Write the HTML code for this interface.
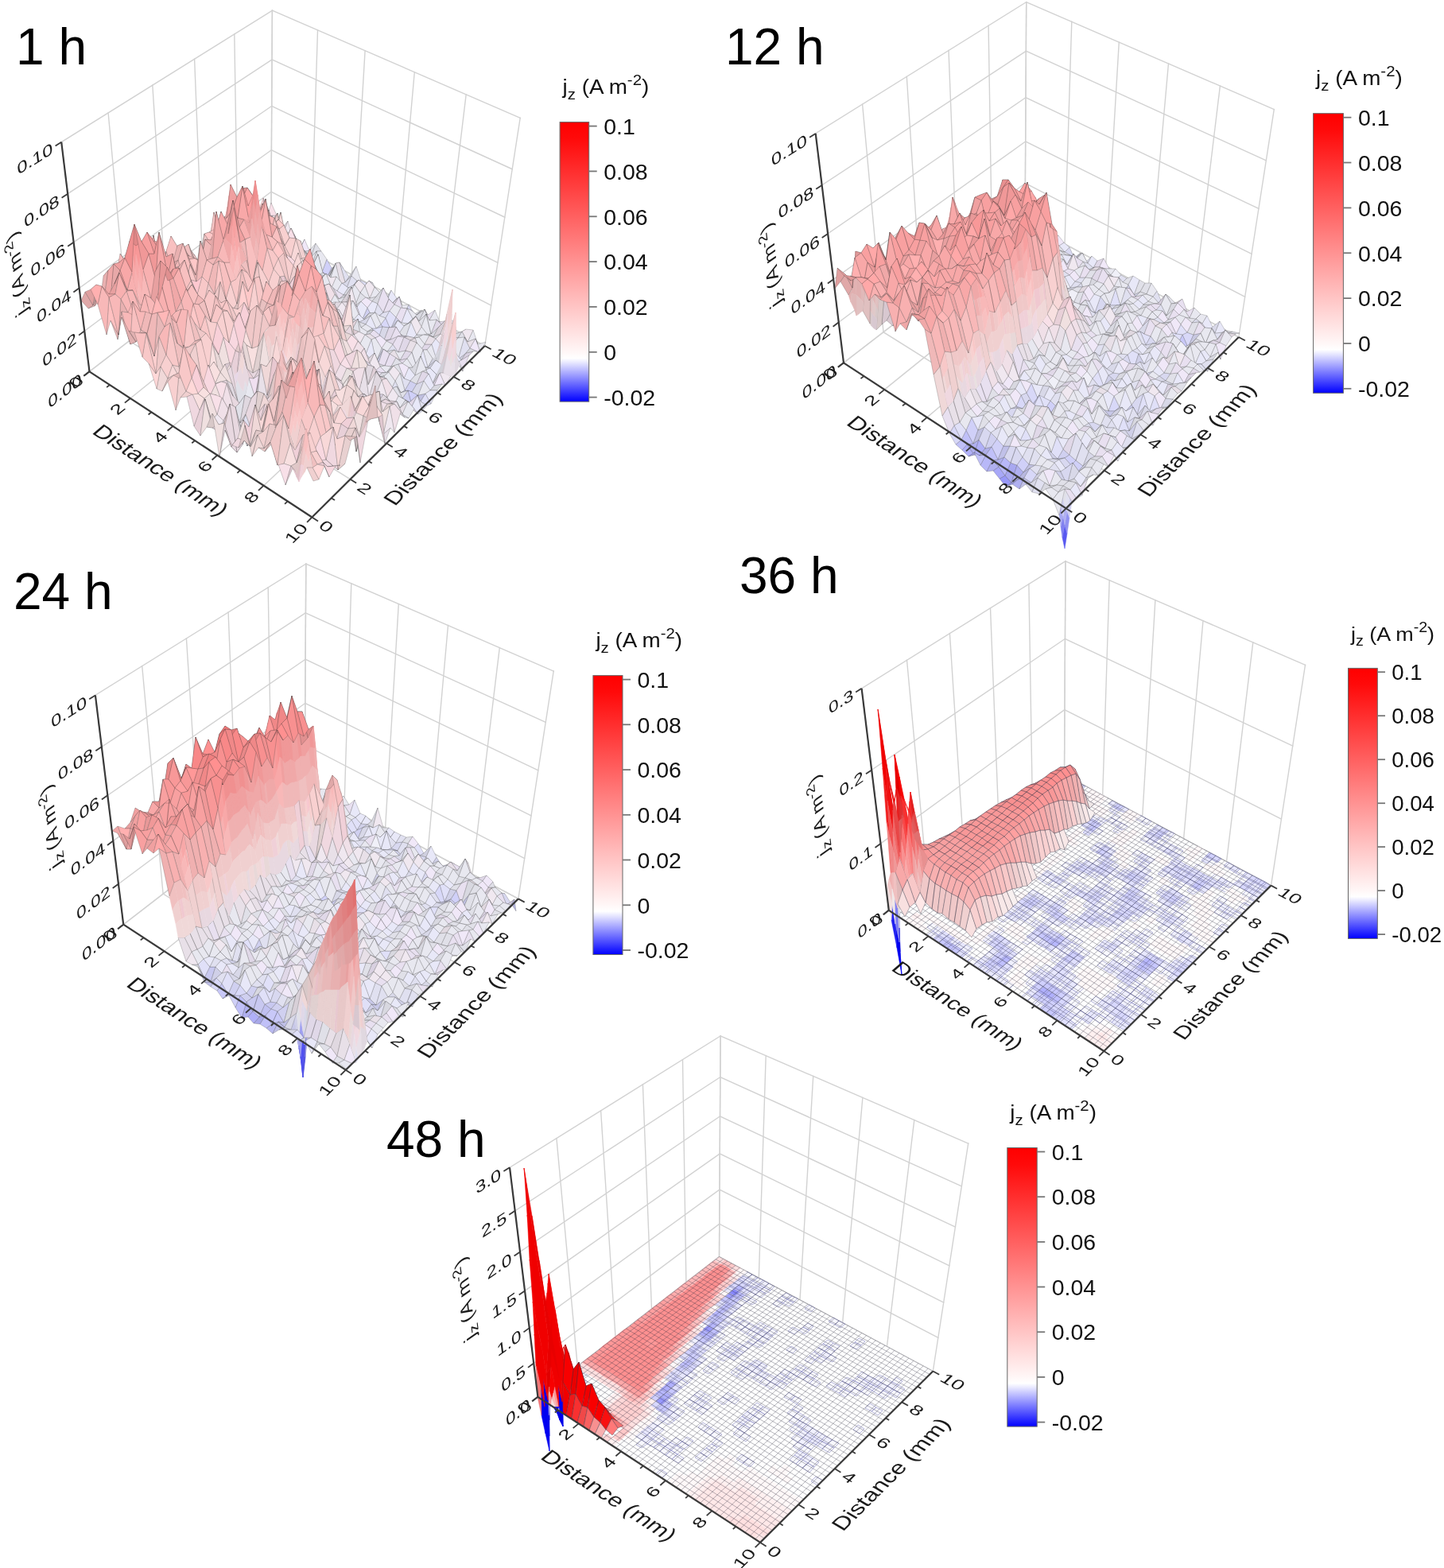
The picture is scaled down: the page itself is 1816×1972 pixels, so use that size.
<!DOCTYPE html><html><head><meta charset="utf-8"><style>html,body{margin:0;padding:0;background:#fff;overflow:hidden}svg{display:block}</style></head><body>
<svg width="1816" height="1972" viewBox="0 0 1816 1972">
<rect width="1816" height="1972" fill="#fff"/>
<g fill="none" stroke-linecap="square">
<path d="M112.5 467.3L77.2 178.7" stroke="#d2d2d2" stroke-width="1.4"/>
<path d="M162.6 428.7L136.1 142" stroke="#d2d2d2" stroke-width="1.4"/>
<path d="M210.2 391.9L191.8 107.2" stroke="#d2d2d2" stroke-width="1.4"/>
<path d="M255.7 356.8L244.6 74.2" stroke="#d2d2d2" stroke-width="1.4"/>
<path d="M299.2 323.2L294.8 42.9" stroke="#d2d2d2" stroke-width="1.4"/>
<path d="M340.8 291.1L342.4 13.2" stroke="#d2d2d2" stroke-width="1.4"/>
<path d="M112.5 467.3L340.8 291.1" stroke="#d2d2d2" stroke-width="1.4"/>
<path d="M106.3 416.3L341.1 241.2" stroke="#d2d2d2" stroke-width="1.4"/>
<path d="M99.7 362.2L341.4 188.7" stroke="#d2d2d2" stroke-width="1.4"/>
<path d="M92.6 304.7L341.7 133.4" stroke="#d2d2d2" stroke-width="1.4"/>
<path d="M85.2 243.7L342 75" stroke="#d2d2d2" stroke-width="1.4"/>
<path d="M77.2 178.7L342.4 13.2" stroke="#d2d2d2" stroke-width="1.4"/>
<path d="M340.8 291.1L342.4 13.2" stroke="#d2d2d2" stroke-width="1.4"/>
<path d="M390.7 317.7L399.5 38" stroke="#d2d2d2" stroke-width="1.4"/>
<path d="M442.4 345.4L459.1 63.8" stroke="#d2d2d2" stroke-width="1.4"/>
<path d="M496 374.1L521.3 90.7" stroke="#d2d2d2" stroke-width="1.4"/>
<path d="M551.8 404L586.2 118.9" stroke="#d2d2d2" stroke-width="1.4"/>
<path d="M609.7 435L654.2 148.3" stroke="#d2d2d2" stroke-width="1.4"/>
<path d="M340.8 291.1L609.7 435" stroke="#d2d2d2" stroke-width="1.4"/>
<path d="M341.1 241.2L617.6 384.1" stroke="#d2d2d2" stroke-width="1.4"/>
<path d="M341.4 188.7L625.9 330.3" stroke="#d2d2d2" stroke-width="1.4"/>
<path d="M341.7 133.4L634.8 273.2" stroke="#d2d2d2" stroke-width="1.4"/>
<path d="M342 75L644.2 212.7" stroke="#d2d2d2" stroke-width="1.4"/>
<path d="M342.4 13.2L654.2 148.3" stroke="#d2d2d2" stroke-width="1.4"/>
<path d="M112.5 467.3L340.8 291.1" stroke="#d2d2d2" stroke-width="1.4"/>
<path d="M112.5 467.3L392.4 650.5" stroke="#d2d2d2" stroke-width="1.4"/>
<path d="M163.9 501L390.7 317.7" stroke="#d2d2d2" stroke-width="1.4"/>
<path d="M162.6 428.7L440.5 602.8" stroke="#d2d2d2" stroke-width="1.4"/>
<path d="M217.5 536L442.4 345.4" stroke="#d2d2d2" stroke-width="1.4"/>
<path d="M210.2 391.9L486.1 557.6" stroke="#d2d2d2" stroke-width="1.4"/>
<path d="M273.3 572.5L496 374.1" stroke="#d2d2d2" stroke-width="1.4"/>
<path d="M255.7 356.8L529.3 514.7" stroke="#d2d2d2" stroke-width="1.4"/>
<path d="M331.6 610.7L551.8 404" stroke="#d2d2d2" stroke-width="1.4"/>
<path d="M299.2 323.2L570.5 473.9" stroke="#d2d2d2" stroke-width="1.4"/>
<path d="M392.4 650.5L609.7 435" stroke="#d2d2d2" stroke-width="1.4"/>
<path d="M340.8 291.1L609.7 435" stroke="#d2d2d2" stroke-width="1.4"/>
</g>
<g stroke="#222" stroke-opacity="0.3" stroke-width="0.7" stroke-linejoin="round">
<path fill="#d8d0d8" d="M363 298l7-3 5 20-7-16z"/>
<path fill="#d8d8e0" d="M370 295l7 19 6-13-8 14z"/>
<path fill="#e0d8e0" d="M349 291l7 3 6-16-7 8z"/>
<path fill="#e8d8d8" d="M329 269l7 9 6-7-7 5z"/>
<path fill="#e8e0e8" d="M343 293l7 6 6-5-7-3z"/>
<path fill="#f0e0e8" d="M342 271l7 20 6-5-7-15zM336 278l7 15 6-2-7-20z"/>
<path fill="#f0e8f0" d="M356 294l7 4 5 1-6-21z"/>
<path fill="#f8e0e8" d="M335 276l7-5 6 0-7-16z"/>
<path fill="#d8c8d0" d="M350 299l7-10 6 9-7-4z"/>
<path fill="#e0e0e8" d="M384 316l7 8 6-18-8 9z"/>
<path fill="#f0e8f8" d="M377 314l7 2 5-1-6-14z"/>
<path fill="#c8c8d8" d="M412 347l8-11 5-4-8 5z"/>
<path fill="#d0d0f8" d="M405 342l7 5 5-10-6-11z"/>
<path fill="#d8d0d0" d="M357 289l7 5 6 1-7 3z"/>
<path fill="#d8d0e0" d="M371 297l7 18 6 1-7-2z"/>
<path fill="#e0c8c8" d="M324 270l7-21 5 29-7-9z"/>
<path fill="#e0d0d0" d="M338 264l7 23 5 12-7-6zM312 275l7 3 6 36-7-34z"/>
<path fill="#e0d0d8" d="M364 294l7 3 6 17-7-19z"/>
<path fill="#e0d8e0" stroke="#e0d8e0" stroke-opacity="1" stroke-width="0.5" d="M322 302l3 12 2-22-3-5z"/>
<path fill="#e0d8e0" d="M378 315l7 3 6 6-7-8z"/>
<path fill="#e0e0e8" d="M391 324l7-8 6 0-7-10z"/>
<path fill="#e8d8d8" stroke="#e8d8d8" stroke-opacity="1" stroke-width="0.5" d="M318 280l2 11 2-9-2-5zM320 277l2 5 2-9-2 0zM322 282l2 5 2-15-2 1zM324 287l3 5 2-21-3 1z"/>
<path fill="#e8d8e0" stroke="#e8d8e0" stroke-opacity="1" stroke-width="0.5" d="M320 291l2 11 2-15-2-5z"/>
<path fill="#e8d8e0" d="M345 287l6 16 6-14-7 10z"/>
<path fill="#e8e8f0" d="M398 316l7 26 6-16-7-10zM385 318l7 18 6-20-7 8z"/>
<path fill="#f0d0d0" stroke="#f0d0d0" stroke-opacity="1" stroke-width="0.5" d="M324 273l2-1 2-16-2 7zM326 272l3-1 2-22-3 7z"/>
<path fill="#f0d0d8" stroke="#f0d0d8" stroke-opacity="1" stroke-width="0.5" d="M322 273l2 0 2-10-2 7z"/>
<path fill="#d0d0e0" d="M406 343l8 5 6-12-8 11z"/>
<path fill="#d8c8c8" d="M319 278l7-1 6-8-7 45z"/>
<path fill="#d8d0d8" stroke="#d8d0d8" stroke-opacity="1" stroke-width="0.5" d="M325 314l2-15 2-15-2 8z"/>
<path fill="#d8d8e0" d="M400 320l6 23 6 4-7-5z"/>
<path fill="#e0c0c8" stroke="#e0c0c8" stroke-opacity="1" stroke-width="0.5" d="M329 271l2-2 2-15-2-5z"/>
<path fill="#e0c8c8" stroke="#e0c8c8" stroke-opacity="1" stroke-width="0.5" d="M329 284l2-8 2-9-2 2zM331 269l2-2 2-8-2-5zM329 284l3-15 2-2-3 9zM331 276l3-9 2-1-3 1zM333 267l3-1 2-2-3-5z"/>
<path fill="#e0c8c8" d="M331 249l7 15 5 29-7-15z"/>
<path fill="#e0c8d0" stroke="#e0c8d0" stroke-opacity="1" stroke-width="0.5" d="M327 292l2-8 2-15-2 2z"/>
<path fill="#e0d0d0" stroke="#e0d0d0" stroke-opacity="1" stroke-width="0.5" d="M327 299l2-15 2-8-2 8z"/>
<path fill="#e0d0d0" d="M339 305l7-21 5 19-6-16z"/>
<path fill="#e0e0e8" d="M392 336l8-16 5 22-7-26z"/>
<path fill="#e8e0e0" d="M351 303l8 1 5-10-7-5z"/>
<path fill="#d0d0d8" d="M434 355l8-8 6-12-9 13z"/>
<path fill="#d8c8c8" d="M333 304l7-25 6 5-7 21z"/>
<path fill="#d8c8d0" d="M359 304l7-17 5 10-7-3z"/>
<path fill="#d8d0d8" d="M373 304l7 8 5 6-7-3zM420 336l7-6 5 8-7-6zM387 323l7 10 6-13-8 16z"/>
<path fill="#e0c8c8" d="M346 284l7-17 6 37-8-1z"/>
<path fill="#e0d0d8" d="M366 287l7 17 5 11-7-18z"/>
<path fill="#e0d8e0" d="M380 312l7 11 5 13-7-18z"/>
<path fill="#e0e0e8" d="M401 345l7 2 6 1-8-5z"/>
<path fill="#e0e0f0" d="M427 330l7 25 5-7-7-10z"/>
<path fill="#e8e8f0" d="M394 333l7 12 5-2-6-23z"/>
<path fill="#f0d8e0" d="M332 269l7 36 6-18-7-23zM326 277l7 27 6 1-7-36z"/>
<path fill="#f8e0e8" d="M320 303l7-1 6 2-7-27z"/>
<path fill="#d0d0d8" d="M414 348l8-17 5-1-7 6zM408 347l8 2 6-18-8 17z"/>
<path fill="#d8c8c8" d="M327 302l7-2 6-21-7 25z"/>
<path fill="#d8d8e0" d="M388 331l8 3 5 11-7-12z"/>
<path fill="#d8d8e8" d="M428 357l7 8 7-18-8 8z"/>
<path fill="#e0c0c0" d="M306 264l7-13 6 27-7-3z"/>
<path fill="#e0c8c8" d="M288 286l7 23 6-20-7 25zM353 267l7 33 6-13-7 17z"/>
<path fill="#e0c8d0" d="M294 314l7-25 6 0-7-5z"/>
<path fill="#e0d8e8" d="M396 334l7 16 5-3-7-2z"/>
<path fill="#e0e0f0" d="M435 365l8-4 6-8-7-6z"/>
<path fill="#e0e0f8" d="M449 353l6 20 6-17-7-3z"/>
<path fill="#e8e0e8" d="M422 331l6 26 6-2-7-25zM368 340l7-2 6-12-7-8zM381 326l7 5 6 2-7-10z"/>
<path fill="#e8e8f0" d="M442 347l7 6 5 0-6-18z"/>
<path fill="#f0d8d8" d="M313 251l7 52 6-26-7 1z"/>
<path fill="#f0e0e8" d="M361 301l7 39 6-22-7-7z"/>
<path fill="#f0e8e8" d="M374 318l7 8 6-3-7-11z"/>
<path fill="#f8e0e8" d="M360 300l7 11 6-7-7-17z"/>
<path fill="#f8e8e8" d="M367 311l7 7 6-6-7-8z"/>
<path fill="#d0d0d8" d="M403 350l7-6 6 5-8-2zM455 373l9-20 5 3-8 0z"/>
<path fill="#d8d8e0" d="M423 348l7 8 5 9-7-8zM443 361l8-9 4 21-6-20zM430 356l8 6 5-1-8 4z"/>
<path fill="#e0c8c8" d="M314 276l7 17 6 9-7 1z"/>
<path fill="#e0d0d0" d="M354 311l7-10 6 10-7-11z"/>
<path fill="#e8c8c8" d="M300 284l7 5 6-38-7 13z"/>
<path fill="#e8e0e8" d="M375 338l8 1 5-8-7-5z"/>
<path fill="#e8e8f0" d="M416 349l7-1 5 9-6-26z"/>
<path fill="#f0d0d0" d="M340 279l7 17 6-29-7 17z"/>
<path fill="#f0d8d8" d="M301 289l7 20 6-33-7 13z"/>
<path fill="#f0e0e0" d="M321 293l7 19 6-12-7 2z"/>
<path fill="#f0e0e8" d="M383 339l7 5 6-10-8-3z"/>
<path fill="#f0e8f0" d="M390 344l7 11 6-5-7-16zM410 344l7 18 6-14-7 1z"/>
<path fill="#f8d8d8" d="M307 289l7-13 6 27-7-52zM347 296l7 15 6-11-7-33z"/>
<path fill="#d0d0d8" d="M451 352l8 7 5-6-9 20zM438 362l8-4 5-6-8 9z"/>
<path fill="#d0d0e0" d="M471 361l8 8 4 11-7-10zM479 369l7 11 6-15-9 15z"/>
<path fill="#d8c8d0" d="M363 309l7 0 5 29-7 2z"/>
<path fill="#d8d0d8" d="M397 355l7-4 6-7-7 6z"/>
<path fill="#d8d8e0" d="M464 353l7 8 5 9-7-14zM411 372l8-10 5 4-7-4z"/>
<path fill="#e0c0c8" d="M282 310l6-35 7 34-7-23zM308 309l7-33 6 17-7-17z"/>
<path fill="#e0c8c8" d="M295 309l6-34 7 34-7-20zM328 312l7-5 6-27-7 20z"/>
<path fill="#e8c8c8" d="M334 300l7-20 6 16-7-17z"/>
<path fill="#e8d0d8" d="M355 312l8-3 5 31-7-39z"/>
<path fill="#e8e8f0" d="M417 362l7 4 6-10-7-8zM404 351l7 21 6-10-7-18z"/>
<path fill="#e8e8f8" d="M424 366l8 5 6-9-8-6z"/>
<path fill="#d0d0d8" d="M406 360l8-3 5 5-8 10z"/>
<path fill="#d8c8c8" d="M370 309l8-6 5 36-8-1z"/>
<path fill="#d8c8d0" d="M378 303l7 21 5 20-7-5z"/>
<path fill="#d8d0d8" d="M385 324l7 16 5 15-7-11z"/>
<path fill="#d8d8e0" d="M432 371l7 0 7-13-8 4zM426 376l8-3 5-2-7 0z"/>
<path fill="#e0c0c0" d="M341 280l8-12 5 43-7-15zM322 291l7-13 6 29-7 5zM288 275l8 24 5-24-6 34zM275 287l7 1 6-13-6 35z"/>
<path fill="#e0d0d8" d="M392 340l7 16 5-5-7 4z"/>
<path fill="#e0d8e8" d="M399 356l7 4 5 12-7-21z"/>
<path fill="#e0e0e8" d="M460 374l8 5 5-6-8 2zM446 385l8-6 6-5-7-6z"/>
<path fill="#e8c8c8" d="M315 276l7 15 6 21-7-19zM349 268l6 44 6-11-7 10z"/>
<path fill="#e8e0f0" d="M419 362l7 14 6-5-8-5z"/>
<path fill="#e8e8f0" d="M465 375l8-2 6-4-8-8zM453 368l7 6 5 1-6-16zM439 371l7 14 7-17-7-10z"/>
<path fill="#e8e8f8" d="M486 380l7 2 6-7-7-10z"/>
<path fill="#f0e8f0" d="M459 359l6 16 6-14-7-8zM446 358l7 10 6-9-8-7z"/>
<path fill="#d0d0d8" d="M473 373l9-11 4 18-7-11zM434 373l8-12 4 24-7-14z"/>
<path fill="#d0d0f0" d="M455 403l9-9 5 6-7-13z"/>
<path fill="#d8d0d8" d="M482 362l7 14 4 6-7-2zM393 353l8 1 5 6-7-4z"/>
<path fill="#d8d0e0" d="M493 382l9-9 4 11-7-9z"/>
<path fill="#d8d8e0" d="M468 379l7 3 7-20-9 11zM442 361l7 25 5-7-8 6z"/>
<path fill="#d8d8f0" d="M508 396l9-6 4 5-7-12z"/>
<path fill="#e0c0c0" d="M301 275l8 2 6-1-7 33zM335 307l7-22 7-17-8 12zM270 316l6-29 6 1-7-1z"/>
<path fill="#e0d8e0" d="M414 357l7 13 5 6-7-14z"/>
<path fill="#e0e0e8" d="M421 370l7 12 6-9-8 3z"/>
<path fill="#e8d8e0" d="M386 335l7 18 6 3-7-16z"/>
<path fill="#e8e8f0" d="M502 373l6 23 6-13-8 1z"/>
<path fill="#e8e8f8" d="M462 387l7 13 6-18-7-3zM449 386l6 17 7-16-8-8z"/>
<path fill="#f0e8f8" d="M454 379l8 8 6-8-8-5z"/>
<path fill="#d0d0d8" d="M464 394l8-1 5 4-8 3zM504 387l8 1 5 2-9 6z"/>
<path fill="#d0d0e0" d="M451 395l7 7 6-8-9 9z"/>
<path fill="#d8d0d8" d="M428 382l8-2 6-19-8 12zM401 354l7 5 6-2-8 3zM422 380l8 0 6 0-8 2z"/>
<path fill="#d8d0e0" d="M489 376l7 7 6-10-9 9z"/>
<path fill="#d8d8e0" d="M517 390l7 6 6-6-9 5z"/>
<path fill="#e0b0b0" stroke="#e0b0b0" stroke-opacity="1" stroke-width="0.5" d="M267 286l2-19 2 7-2 15z"/>
<path fill="#e0b8b8" stroke="#e0b8b8" stroke-opacity="1" stroke-width="0.5" d="M269 289l2-15 2 7-2 12zM271 293l2-12 3 6-2 10z"/>
<path fill="#e0b8b8" d="M329 278l8-14 5 21-7 22z"/>
<path fill="#e0c0c0" stroke="#e0c0c0" stroke-opacity="1" stroke-width="0.5" d="M265 304l2-18 2 3-2 15zM267 304l2-15 2 4-2 12zM269 305l2-12 3 4-2 9z"/>
<path fill="#e0c0c0" d="M350 276l7 7 6 26-8 3zM251 336l6-29 6 0-6 6zM357 283l7 16 6 10-7 0z"/>
<path fill="#e0c8c8" stroke="#e0c8c8" stroke-opacity="1" stroke-width="0.5" d="M263 321l2-17 2 0-2 15zM265 319l2-15 2 1-2 13zM267 318l2-13 3 1-2 10z"/>
<path fill="#e0c8c8" d="M244 333l7 4 6-30-6 29z"/>
<path fill="#e0d8e8" d="M444 378l7 17 4 8-6-17z"/>
<path fill="#e0e0f0" d="M469 400l8-3 5-4-7-11zM477 397l8 3 5-9-8 2z"/>
<path fill="#e8c0c0" d="M282 288l7-12 7 23-8-24z"/>
<path fill="#e8e0f0" d="M475 382l7 11 7-17-7-14zM496 383l8 4 4 9-6-23zM482 393l8-2 6-8-7-7z"/>
<path fill="#e8e8f0" d="M415 381l7-1 6 2-7-12z"/>
<path fill="#f0c8c8" d="M309 277l7 5 6 9-7-15zM342 285l8-9 5 36-6-44zM316 282l7 14 6-18-7 13z"/>
<path fill="#f0d8d8" d="M379 325l7 10 6 5-7-16z"/>
<path fill="#f0e0e8" d="M408 359l7 22 6-11-7-13z"/>
<path fill="#f8e0e0" d="M373 331l7 28 6-24-7-10z"/>
<path fill="#d0d0e8" d="M491 414l9-11 5 3-7-7z"/>
<path fill="#d8d8e0" d="M524 396l10-7 4 7-8-6zM458 402l8-5 6-4-8 1zM519 401l8 3 7-15-10 7z"/>
<path fill="#d8d8f8" d="M479 408l7 10 5-4-6-14z"/>
<path fill="#e0b0b0" stroke="#e0b0b0" stroke-opacity="1" stroke-width="0.5" d="M265 293l2-12 2-14-2 19z"/>
<path fill="#e0b8b8" stroke="#e0b8b8" stroke-opacity="1" stroke-width="0.5" d="M263 301l2-7 2-13-2 12z"/>
<path fill="#e0b8b8" d="M296 299l6-49 7 27-8-2z"/>
<path fill="#e0c0c0" stroke="#e0c0c0" stroke-opacity="1" stroke-width="0.5" d="M259 311l2-2 2-8-2 8zM261 309l2-8 2-8-2 13zM263 306l2-13 2-7-2 18zM261 309l2-2 2-13-2 7z"/>
<path fill="#e0c0c0" d="M364 299l8 1 6 3-8 6z"/>
<path fill="#e0c0c8" stroke="#e0c0c8" stroke-opacity="1" stroke-width="0.5" d="M257 313l2-2 2-2-2 7zM259 316l2-7 2-3-2 13z"/>
<path fill="#e0c8c8" stroke="#e0c8c8" stroke-opacity="1" stroke-width="0.5" d="M261 319l2-13 2-2-2 17z"/>
<path fill="#e0c8c8" d="M238 338l6-18 7 17-7-4zM367 350l8-32 5 41-7-28z"/>
<path fill="#e0c8d0" d="M380 359l8-26 5 20-7-18z"/>
<path fill="#e0d8e0" d="M416 393l8-5 6-8-8 0z"/>
<path fill="#e0e0f8" d="M485 400l6 14 7-15-8-8z"/>
<path fill="#e8d8e0" d="M402 364l8 4 5 13-7-22z"/>
<path fill="#e8e0e8" d="M410 368l6 25 6-13-7 1zM430 380l8 10 6-12-8 2z"/>
<path fill="#e8e0f0" d="M498 399l7 7 7-18-8-1z"/>
<path fill="#e8e8f0" d="M490 391l8 8 6-12-8-4zM512 388l7 13 5-5-7-6zM472 393l7 15 6-8-8-3zM438 390l7 12 6-7-7-17zM411 389l7 13 6-14-8 5z"/>
<path fill="#e8e8f8" d="M445 402l7 3 6-3-7-7zM505 406l8 1 6-6-7-13z"/>
<path fill="#f0d0d0" d="M372 300l7 25 6-1-7-21z"/>
<path fill="#f0e8f0" d="M436 380l8-2 5 8-7-25zM403 393l8-4 5 4-6-25z"/>
<path fill="#f0e8f8" d="M397 389l7 20 7-20-8 4z"/>
<path fill="#f8c8c8" d="M276 287l7 17 6-28-7 12z"/>
<path fill="#f8d8d8" d="M366 324l7 7 6-6-7-25z"/>
<path fill="#f8d8e0" d="M360 320l7 30 6-19-7-7z"/>
<path fill="#c8c8d8" d="M486 418l9-5 5-10-9 11z"/>
<path fill="#d0d0d8" d="M513 407l10-9 4 6-8-3zM404 409l9-23 5 16-7-13z"/>
<path fill="#d0d0e8" d="M473 413l8-2 5 7-7-10z"/>
<path fill="#d8c8c8" d="M388 333l8 4 5 17-8-1z"/>
<path fill="#d8d8e0" d="M418 402l8-13 5 15-7-16z"/>
<path fill="#d8d8e8" d="M452 405l8 3 6-11-8 5z"/>
<path fill="#e0b0b0" d="M289 276l7-4 6-22-6 49zM309 276l8-7 6 27-7-14zM283 304l6-32 7 0-7 4zM323 296l7-40 7 8-8 14z"/>
<path fill="#e0c0c8" d="M375 318l7 22 6-7-8 26z"/>
<path fill="#e0d8e8" d="M549 402l7 7 6-6-9 2z"/>
<path fill="#e0e0e8" d="M500 403l8 7 5-3-8-1zM439 402l8 4 5-1-7-3zM527 404l9-9 4 8-6-14z"/>
<path fill="#e0e0f8" d="M468 413l6 18 7-20-8 2z"/>
<path fill="#e8b8b8" d="M337 264l7 19 6-7-8 9zM302 250l7 26 7 6-7-5z"/>
<path fill="#e8c0c0" d="M269 267l7 26 7 11-7-17z"/>
<path fill="#e8d8d8" d="M396 337l6 27 6-5-7-5z"/>
<path fill="#e8e0f0" d="M534 389l6 14 7-13-9 6z"/>
<path fill="#e8e8f0" d="M431 404l8-2 6 0-7-12zM466 397l7 16 6-5-7-15zM540 403l9-1 4 3-6-15z"/>
<path fill="#e8e8f8" d="M460 408l8 5 5 0-7-16z"/>
<path fill="#f0c8c8" d="M352 298l8 22 6 4-8-15z"/>
<path fill="#f0e0e8" d="M397 357l6 36 7-25-8-4zM390 380l7 9 6 4-6-36z"/>
<path fill="#f0e8f0" d="M424 388l7 16 7-14-8-10z"/>
<path fill="#f8d0d0" d="M358 309l8 15 6-24-8-1zM351 288l7 21 6-10-7-16z"/>
<path fill="#ffc8c8" d="M344 283l7 5 6-5-7-7z"/>
<path fill="#d0d0d8" d="M481 411l8 1 6 1-9 5zM508 410l9-5 6-7-10 9z"/>
<path fill="#d8d0d8" d="M426 389l8 14 5-1-8 2zM392 373l8 11 4 25-7-20z"/>
<path fill="#d8d8e0" d="M537 420l8 4 6-12-9 8zM462 417l8-2 4 16-6-18z"/>
<path fill="#d8d8e8" d="M474 431l9-3 6-16-8-1z"/>
<path fill="#e0b0b0" d="M276 293l7-21 6 0-6 32z"/>
<path fill="#e0b8b8" d="M257 307l6-15 7-4-7 19zM251 337l6-43 6-2-6 15z"/>
<path fill="#e0c0c0" d="M231 325l6-14 7 9-6 18zM244 320l7 10 6-36-6 43zM361 324l8 10 6-16-8 32z"/>
<path fill="#e0d8e8" d="M542 420l9-8 5-3-7-7z"/>
<path fill="#e0e0e8" d="M447 406l7 6 6-4-8-3zM434 403l7 5 6-2-8-4zM523 398l7 13 6-16-9 9zM502 419l8 6 7-20-9 5zM556 409l9 3 6-9-9 0z"/>
<path fill="#e8c0c0" d="M345 274l7 24 6 11-7-21z"/>
<path fill="#e8c8c8" d="M354 316l7 8 6 26-7-30z"/>
<path fill="#e8e0f0" d="M565 412l7 8 4 7-5-24z"/>
<path fill="#e8e8f0" d="M536 395l6 25 7-18-9 1zM454 412l8 5 6-4-8-5zM530 411l7 9 5 0-6-25z"/>
<path fill="#e8e8f8" d="M495 413l7 6 6-9-8-7z"/>
<path fill="#f0d8d8" d="M389 344l8 13 5 7-6-27z"/>
<path fill="#f8c0c0" d="M296 272l7 7 6-3-7-26z"/>
<path fill="#f8c8c8" d="M263 307l7-19 6 5-7-26z"/>
<path fill="#f8d8d8" d="M382 340l7 4 7-7-8-4z"/>
<path fill="#ffd0d0" d="M346 314l8 2 6 4-8-22z"/>
<path fill="#d0c8d0" d="M400 384l7 19 6-17-9 23zM428 406l8-8 5 10-7-5z"/>
<path fill="#d0d0d8" d="M470 415l8 7 5 6-9 3zM572 420l9-3 5-3-10 13zM441 408l9-7 4 11-7-6zM551 412l10-10 4 10-9-3zM455 435l10-15 5-5-8 2z"/>
<path fill="#d0d0e0" d="M505 422l8 1 5 4-8-2z"/>
<path fill="#d8c8d0" d="M385 363l7 10 5 16-7-9zM413 386l8 5 5-2-8 13z"/>
<path fill="#d8d0e0" d="M489 412l9-1 4 8-7-6z"/>
<path fill="#d8d8e0" d="M498 411l7 11 5 3-8-6zM532 421l8 1 5 2-8-4zM518 427l9-3 5-3-8 0z"/>
<path fill="#e0a8a8" d="M303 279l7-22 7 12-8 7z"/>
<path fill="#e0b0b0" d="M317 269l7 0 6-13-7 40zM338 271l7 3 6 14-7-5zM270 288l7 1 6-17-7 21z"/>
<path fill="#e0c0c0" d="M224 333l7-14 6-8-6 14z"/>
<path fill="#e0d8e8" d="M483 428l8-1 7-16-9 1z"/>
<path fill="#e8b0b0" d="M330 256l8 15 6 12-7-19z"/>
<path fill="#e8e0e8" d="M421 391l7 15 6-3-8-14z"/>
<path fill="#e8e8f0" d="M524 421l8 0 5-1-7-9zM450 401l5 34 7-18-8-5z"/>
<path fill="#e8e8f8" d="M510 425l8 2 6-6-7-16z"/>
<path fill="#f0b8b8" d="M289 272l8 6 6 1-7-7z"/>
<path fill="#f0c8c8" d="M237 311l8 16 6 3-7-10zM245 327l7 6 6-4-7 1zM251 330l7-1 6-24-7-11z"/>
<path fill="#f0d0d0" d="M362 361l8-13 6-4-7-10zM376 344l8 0 5 0-7-4z"/>
<path fill="#f0e8f0" d="M517 405l7 16 6-10-7-13z"/>
<path fill="#f8c8c8" d="M339 304l7 10 6-16-7-24z"/>
<path fill="#f8d0d0" d="M355 307l7 54 7-27-8-10z"/>
<path fill="#f8d8d8" d="M369 334l7 10 6-4-7-22z"/>
<path fill="#f8d8e0" d="M384 344l6 36 7-23-8-13z"/>
<path fill="#d0d0d8" d="M451 417l8 4 6-1-10 15zM513 423l9 2 5-1-9 3z"/>
<path fill="#d8d0d0" d="M407 403l8-16 6 4-8-5z"/>
<path fill="#d8d0d8" d="M545 424l9-4 7-18-10 10z"/>
<path fill="#d8d8e0" d="M478 422l8 7 5-2-8 1zM567 424l9 1 5-8-9 3zM540 422l8 4 6-6-9 4z"/>
<path fill="#e0b0b0" d="M333 295l7-14 6 33-7-10zM271 296l6-12 8 23-8-18z"/>
<path fill="#e0b8b8" d="M252 333l6-21 8 23-8-6z"/>
<path fill="#e0c0c0" d="M218 346l5-30 8 3-7 14zM370 348l8-6 6 2-8 0z"/>
<path fill="#e0c8c8" d="M357 318l7 40 6-10-8 13z"/>
<path fill="#e0d8e8" d="M486 429l8 4 6-10-9 4z"/>
<path fill="#e0e0e8" d="M561 402l6 22 5-4-7-8zM443 414l8 3 4 18-5-34z"/>
<path fill="#e8a8a8" d="M324 269l8-12 6 14-8-15z"/>
<path fill="#e8d0d0" d="M378 342l7 21 5 17-6-36z"/>
<path fill="#e8d8e0" d="M436 398l7 16 7-13-9 7zM415 387l7 16 6 3-7-15z"/>
<path fill="#e8e0e8" d="M562 425l8 7 6-7-9-1z"/>
<path fill="#e8e0f0" d="M491 427l9-4 5-1-7-11zM465 420l7 5 6-3-8-7z"/>
<path fill="#e8e8f0" d="M527 424l7 9 6-11-8-1zM588 430l10-4 3 7-6-18zM598 426l6 17 7-13-10 3z"/>
<path fill="#f0c0c0" d="M264 305l8 16 5-37-6 12z"/>
<path fill="#f0d0d8" d="M364 358l7 12 7-28-8 6z"/>
<path fill="#f0d8d8" d="M358 347l7 38 6-15-7-12z"/>
<path fill="#f0e8f0" d="M581 417l7 13 7-15-9-1zM554 420l8 5 5-1-6-22z"/>
<path fill="#f0e8f8" d="M472 425l8 13 6-9-8-7z"/>
<path fill="#f8b8b8" d="M332 257l7 47 6-30-7-3z"/>
<path fill="#f8c0c0" d="M263 292l8 4 6-7-7-1zM277 289l8 18 6-23-8-12zM283 272l8 12 6-6-8-6z"/>
<path fill="#f8d0d0" d="M258 329l8 6 6-14-8-16z"/>
<path fill="#f8d8d8" d="M371 370l8-7 6 0-7-21z"/>
<path fill="#ffc8c8" d="M257 294l7 11 7-9-8-4z"/>
<path fill="#c8c8e0" d="M468 454l8 3 6-18-9 16z"/>
<path fill="#d0d0e0" d="M473 455l9-16 5 3-7-4zM572 443l8 10 6-9-10 8z"/>
<path fill="#d8c8d0" d="M422 403l8-1 6-4-8 8z"/>
<path fill="#d8d0e0" d="M500 423l8 1 5-1-8-1z"/>
<path fill="#e0a0a0" d="M297 278l7-41 6 20-7 22zM310 257l8-11 6 23-7 0zM291 284l7-11 6-36-7 41z"/>
<path fill="#e0b0b0" stroke="#e0b0b0" stroke-opacity="1" stroke-width="0.5" d="M214 318l1-21 3 7-1 17zM217 321l1-17 3 6-2 13z"/>
<path fill="#e0b0b0" d="M340 281l8 4 6 31-8-2z"/>
<path fill="#e0b8b8" stroke="#e0b8b8" stroke-opacity="1" stroke-width="0.5" d="M213 338l1-20 3 3-2 16zM215 337l2-16 2 2-1 14zM219 323l2-13 2 6-1 10z"/>
<path fill="#e0b8b8" d="M231 319l6-12 8 20-8-16zM348 285l7 22 6 17-7-8zM245 333l7-5 6-16-6 21z"/>
<path fill="#e0c0c0" stroke="#e0c0c0" stroke-opacity="1" stroke-width="0.5" d="M218 337l1-14 3 3-2 10z"/>
<path fill="#e0c0c8" stroke="#e0c0c8" stroke-opacity="1" stroke-width="0.5" d="M212 357l1-19 2-1-1 17zM214 354l1-17 3 0-2 13zM216 350l2-13 2-1-2 10z"/>
<path fill="#e0c8c8" d="M365 385l8-27 6 5-8 7z"/>
<path fill="#e0c8d0" d="M394 375l8 5 5 23-7-19z"/>
<path fill="#e0d0d0" d="M402 380l7 22 6-15-8 16z"/>
<path fill="#e0d8e0" d="M508 424l8 4 6-3-9-2z"/>
<path fill="#e0d8e8" d="M528 442l9-2 6-7-9 0z"/>
<path fill="#e0e0e8" d="M576 425l8-1 4 6-7-13z"/>
<path fill="#e0e0f0" d="M576 452l10-8 5-6-7-14zM487 442l9-2 5 3-7-10z"/>
<path fill="#e0e0f8" d="M562 452l10-9 4 9-6-20z"/>
<path fill="#e8b8b8" stroke="#e8b8b8" stroke-opacity="1" stroke-width="0.5" d="M349 304l3 5 2 5-3-9zM351 305l3 9 2 6-3-14zM353 306l3 14 2 5-3-18zM352 309l2 4 2 10-2-9zM354 313l3 5 1 15-2-10z"/>
<path fill="#e8c0c0" stroke="#e8c0c0" stroke-opacity="1" stroke-width="0.5" d="M354 314l2 9 2 10-2-13zM356 320l2 13 2 10-2-18zM356 323l2 10 2 14-2-14z"/>
<path fill="#e8c0c0" d="M237 307l8 26 7 0-7-6z"/>
<path fill="#e8c8d0" stroke="#e8c8d0" stroke-opacity="1" stroke-width="0.5" d="M358 333l2 14 2 14-2-18z"/>
<path fill="#e8d0d0" d="M386 374l8 1 6 9-8-11z"/>
<path fill="#e8e0e8" d="M534 433l9 0 5-7-8-4zM584 424l7 14 7-12-10 4zM459 421l8 6 5-2-7-5z"/>
<path fill="#e8e0f0" d="M494 433l7 10 7-19-8-1z"/>
<path fill="#e8e8f0" d="M522 425l6 17 6-9-7-9zM556 435l6 17 8-20-8-7zM480 438l7 4 7-9-8-4zM570 432l6 20 8-28-8 1zM467 427l6 28 7-17-8-13zM537 440l7 11 5 1-6-19z"/>
<path fill="#e8e8f8" d="M543 433l6 19 7-17-8-9zM460 445l8 9 5 1-6-28z"/>
<path fill="#f0d8d8" d="M379 363l7 11 6-1-7-10z"/>
<path fill="#f0e8f0" d="M548 426l8 9 6-10-8-5zM445 421l8 11 6-11-8-4z"/>
<path fill="#f0e8f8" d="M591 438l9 4 4 1-6-17z"/>
<path fill="#f8b8b8" d="M325 273l8 22 6 9-7-47z"/>
<path fill="#f8e8e8" d="M409 402l8 1 5 0-7-16z"/>
<path fill="#d0d0e0" d="M538 462l10-9 4 3-8-5z"/>
<path fill="#d8c8c8" d="M430 402l10-31 3 43-7-16z"/>
<path fill="#d8c8d0" d="M417 403l8-11 5 10-8 1z"/>
<path fill="#d8d0d8" d="M524 431l8 9 5 0-9 2z"/>
<path fill="#d8d0e0" d="M580 453l10-6 5-5-9 2z"/>
<path fill="#d8d8e0" d="M586 444l9-2 5 0-9-4zM482 439l8 6 6-5-9 2z"/>
<path fill="#e09898" stroke="#e09898" stroke-opacity="1" stroke-width="0.5" d="M288 258l2-26 3 14-2 18zM291 264l2-18 2 13-2 11z"/>
<path fill="#e0a0a0" stroke="#e0a0a0" stroke-opacity="1" stroke-width="0.5" d="M286 282l2-24 3 6-2 18zM293 270l2-11 3 14-3 4z"/>
<path fill="#e0a8a8" stroke="#e0a8a8" stroke-opacity="1" stroke-width="0.5" d="M289 282l2-18 2 6-2 11zM291 281l2-11 2 7-2 4z"/>
<path fill="#e0b0b0" stroke="#e0b0b0" stroke-opacity="1" stroke-width="0.5" d="M208 324l1-8 2-6-1 12zM210 322l1-12 2-6-1 16zM212 320l1-16 2-7-1 21zM285 307l1-25 3 0-2 17zM287 299l2-17 2-1-2 11zM289 292l2-11 2 0-2 3z"/>
<path fill="#e0b0b0" d="M266 335l6-39 6-17-6 42zM223 316l7-4 7-5-6 12z"/>
<path fill="#e0b8b8" stroke="#e0b8b8" stroke-opacity="1" stroke-width="0.5" d="M206 332l2-8 2-2-2 12zM208 334l2-12 2-2-1 16zM211 336l1-16 2-2-1 20z"/>
<path fill="#e0b8b8" d="M238 322l7 3 7 3-7 5z"/>
<path fill="#e0c0c0" stroke="#e0c0c0" stroke-opacity="1" stroke-width="0.5" d="M204 339l2-7 2 2-1 11zM207 345l1-11 3 2-2 15zM209 351l2-15 2 2-1 19z"/>
<path fill="#e0c0c0" d="M359 360l8 10 6-12-8 27z"/>
<path fill="#e0d0d8" d="M440 371l5 50 6-4-8-3z"/>
<path fill="#e0d8e0" d="M516 428l8 3 4 11-6-17z"/>
<path fill="#e0d8e8" d="M501 443l9-2 6-13-8-4zM503 453l9-2 6-8-8-2z"/>
<path fill="#e0e0e8" d="M455 441l7 11 6 2-8-9z"/>
<path fill="#e8c8c8" d="M373 358l8 6 5 10-7-11z"/>
<path fill="#e8c8d0" d="M352 348l7 12 6 25-7-38zM331 389l8-29 6 20-7-25z"/>
<path fill="#e8e0e8" d="M441 409l6 32 6-9-8-11zM510 441l8 2 6-12-8-3z"/>
<path fill="#e8e8f0" d="M453 432l7 13 7-18-8-6zM496 440l7 13 7-12-9 2zM447 441l8 0 5 4-7-13zM532 440l6 22 6-11-7-11z"/>
<path fill="#e8e8f8" d="M566 454l9 2 5-3-8-10zM524 461l9 1 5 0-6-22z"/>
<path fill="#f0a8a8" d="M318 246l7 27 7-16-8 12z"/>
<path fill="#f0c0c0" d="M230 312l8 10 7 11-8-26z"/>
<path fill="#f0c8c8" d="M350 325l8 22 6 11-7-40z"/>
<path fill="#f8d0d0" d="M338 355l7 25 7-32-8-10z"/>
<path fill="#d0d0d8" stroke="#d0d0d8" stroke-opacity="1" stroke-width="0.5" d="M549 452l6-28 1 5-5 17zM551 446l5-17 1 6-3 6zM554 441l3-6 1 6-2-6zM557 435l4-6-1 17-2-5zM561 429l3-5-2 28-2-6zM544 451l3 2 3-10-4 8zM546 451l4-8 3-10-6 19zM547 452l6-19 2-9-6 28zM547 453l3 1 4-19-4 8zM550 454l2 2 6-30-4 9z"/>
<path fill="#d0d0d8" d="M462 452l9-8 5 13-8-3zM559 470l12-25 4 11-9-2zM519 462l10-14 4 14-9-1z"/>
<path fill="#d0d0e0" d="M533 462l8 1 7-10-10 9z"/>
<path fill="#d8c8c8" stroke="#d8c8c8" stroke-opacity="1" stroke-width="0.5" d="M555 424l7-29-1 17-5 17zM561 412l6-17-3 29-3 5zM553 433l5-18 4-20-7 29zM554 435l4-9 5-30-5 19z"/>
<path fill="#d8c8d0" stroke="#d8c8d0" stroke-opacity="1" stroke-width="0.5" d="M556 429l5-17 0 17-4 6zM550 443l4-8 4-20-5 18z"/>
<path fill="#d8d8e0" d="M471 444l7 17 6-1-8-3z"/>
<path fill="#d8d8e8" d="M548 453l8 6 3 11-7-14z"/>
<path fill="#e09090" stroke="#e09090" stroke-opacity="1" stroke-width="0.5" d="M286 264l2-18 2-14-2 26z"/>
<path fill="#e09898" stroke="#e09898" stroke-opacity="1" stroke-width="0.5" d="M284 271l2-11 2-14-2 18z"/>
<path fill="#e09898" d="M304 237l7-1 7 10-8 11z"/>
<path fill="#e0a0a0" stroke="#e0a0a0" stroke-opacity="1" stroke-width="0.5" d="M280 281l2-3 2-7-2 11zM282 282l2-11 2-7-2 18zM284 282l2-18 2-6-2 24zM282 278l3-4 1-14-2 11z"/>
<path fill="#e0a0a0" d="M326 270l8-20 6 31-7 14z"/>
<path fill="#e0a8a8" stroke="#e0a8a8" stroke-opacity="1" stroke-width="0.5" d="M277 284l3-3 2 1-2 10zM280 292l2-10 2 0-2 17z"/>
<path fill="#e0a8a8" d="M272 321l6-42 7-5-8 10z"/>
<path fill="#e0b0b0" stroke="#e0b0b0" stroke-opacity="1" stroke-width="0.5" d="M282 299l2-17 2 0-1 25z"/>
<path fill="#e0b0b0" d="M258 312l7-10 7-6-6 39zM215 297l8 13 7 2-7 4z"/>
<path fill="#e0b8b8" d="M316 363l8-33 6 10-7-13z"/>
<path fill="#e0c0c0" stroke="#e0c0c0" stroke-opacity="1" stroke-width="0.5" d="M562 395l7-31-2 31-6 17zM558 415l5-19 6-32-7 31z"/>
<path fill="#e0c0c0" d="M381 364l7 1 6 10-8-1zM345 380l8-26 6 6-7-12zM339 360l7 14 7-20-8 26zM325 353l8 19 6-12-8 29z"/>
<path fill="#e0c8c8" d="M404 383l7 6 6 14-8-1z"/>
<path fill="#e0d8e8" d="M498 450l8 7 6-6-9 2z"/>
<path fill="#e8a8a8" d="M319 248l7 22 7 25-8-22z"/>
<path fill="#e8c0c0" d="M196 321l8 21 5-26-5 23z"/>
<path fill="#e8c8c8" d="M388 365l8 12 6 3-8-5z"/>
<path fill="#e8d0d0" d="M396 377l8 6 5 19-7-22z"/>
<path fill="#e8e0e8" d="M490 445l8 5 5 3-7-13z"/>
<path fill="#e8e0f0" d="M476 457l8 3 6-15-8-6zM575 456l7 11 8-20-10 6zM484 460l8 1 6-11-8-5z"/>
<path fill="#e8e8f0" d="M518 443l6 18 8-21-8-9zM512 451l7 11 5-1-6-18zM478 461l8 8 6-8-8-1z"/>
<path fill="#f8c0c0" d="M342 298l7 6 6 3-7-22zM335 295l8 20 6-11-7-6z"/>
<path fill="#f8c8c8" d="M204 342l7 5 7-6-9-25zM197 346l7 3 7-2-7-5zM330 340l8 15 6-17-8-26z"/>
<path fill="#f8d0d0" d="M324 330l7 59 7-34-8-15zM344 338l8 10 6-1-8-22z"/>
<path fill="#ffc8c8" d="M343 315l7 10 7-7-8-14z"/>
<path fill="#c8c8f0" stroke="#c8c8f0" stroke-opacity="1" stroke-width="0.5" d="M557 465l2 5 2-5-1-13z"/>
<path fill="#d0d0d8" d="M486 469l9-9 6-2-9 3z"/>
<path fill="#d8c8d0" d="M442 421l8 8 5 12-8 0z"/>
<path fill="#d8d0d8" stroke="#d8d0d8" stroke-opacity="1" stroke-width="0.5" d="M567 413l1 19 0 7-2-8zM567 425l-1 29 2-4 0-18zM568 432l0 18 2-4-2-7z"/>
<path fill="#d8d0d8" d="M450 429l8 9 4 14-7-11z"/>
<path fill="#d8d0e0" stroke="#d8d0e0" stroke-opacity="1" stroke-width="0.5" d="M564 424l2 7 0 18-4 3zM566 431l2 8 1 7-3 3zM568 439l2 7 2-3-3 3z"/>
<path fill="#d8d8e0" d="M571 445l8 13 3 9-7-11zM529 448l7 17 5-2-8-1zM514 462l8 10 7-24-10 14z"/>
<path fill="#e0a8a8" d="M252 328l6-27 7 1-7 10z"/>
<path fill="#e0b0b0" d="M245 325l8 5 5-29-6 27zM211 347l6-16 6-22-5 32zM218 341l5-32 8 10-8-9z"/>
<path fill="#e0b8b8" d="M367 370l8-27 6 21-8-6zM310 327l7 32 7-29-8 33z"/>
<path fill="#e0c0c0" d="M353 354l8-1 6 17-8-10z"/>
<path fill="#e0c0c8" d="M411 389l9-7 5 10-8 11z"/>
<path fill="#e0c8d0" stroke="#e0c8d0" stroke-opacity="1" stroke-width="0.5" d="M568 395l-1 30 1 7-1-19z"/>
<path fill="#e0c8d0" d="M425 392l7 18 8-39-10 31z"/>
<path fill="#e0d0d0" stroke="#e0d0d0" stroke-opacity="1" stroke-width="0.5" d="M567 395l0 18-1 18-2-7z"/>
<path fill="#e0d8e0" d="M458 438l7 19 6-13-9 8z"/>
<path fill="#e0e0e8" d="M492 461l9-3 5-1-8-7z"/>
<path fill="#e0e0f0" stroke="#e0e0f0" stroke-opacity="1" stroke-width="0.5" d="M555 460l2 5 3-13-1-13zM560 452l1 13 3-6 0-21z"/>
<path fill="#e89898" d="M298 273l7-24 6-13-7 1z"/>
<path fill="#e8a0a0" d="M311 236l8 12 6 25-7-27z"/>
<path fill="#e8b8b8" d="M204 349l7 2 6-20-6 16z"/>
<path fill="#e8c0c0" stroke="#e8c0c0" stroke-opacity="1" stroke-width="0.5" d="M569 364l-1 31-1 18 0-18z"/>
<path fill="#e8d8d8" d="M427 397l7 21 7-9-9 1z"/>
<path fill="#e8d8e0" d="M434 418l8 3 5 20-6-32z"/>
<path fill="#e8e0e8" stroke="#e8e0e8" stroke-opacity="1" stroke-width="0.5" d="M552 456l3 4 4-21-1-13zM559 439l1 13 4-14-1-21zM564 438l0 21 2-5 1-29z"/>
<path fill="#e8e0f0" d="M472 466l8 3 6 0-8-8z"/>
<path fill="#e8e8f0" d="M506 457l8 5 5 0-7-11z"/>
<path fill="#e8e8f8" d="M541 463l8 8 7-12-8-6zM536 465l7 20 6-14-8-8zM508 476l8 3 6-7-8-10z"/>
<path fill="#f0a8a8" d="M334 250l8 48 6-13-8-4z"/>
<path fill="#f0b8b8" d="M223 310l8 9 7 3-8-10zM231 319l7 7 7-1-7-3z"/>
<path fill="#f0c8c8" d="M317 359l8-6 6 36-7-59z"/>
<path fill="#f0d0d0" stroke="#f0d0d0" stroke-opacity="1" stroke-width="0.5" d="M563 396l0 21 5-22 1-31z"/>
<path fill="#f0d0d0" d="M390 379l8 4 6 0-8-6z"/>
<path fill="#f0d8d8" stroke="#f0d8d8" stroke-opacity="1" stroke-width="0.5" d="M563 417l1 21 3-13 1-30z"/>
<path fill="#f0d8e0" stroke="#f0d8e0" stroke-opacity="1" stroke-width="0.5" d="M558 426l1 13 4-22 0-21z"/>
<path fill="#f0e8f0" d="M465 457l7 9 6-5-7-17z"/>
<path fill="#f0e8f8" d="M501 458l7 18 6-14-8-5z"/>
<path fill="#f8b8b8" d="M323 327l7 13 6-28-7-30z"/>
<path fill="#f8c0c0" d="M209 316l9 25 5-31-8-13zM308 301l8 62 7-36-8-29z"/>
<path fill="#f8c8c8" d="M336 312l8 26 6-13-7-10zM188 319l9 27 7-4-8-21zM183 346l7 5 7-5-9-27z"/>
<path fill="#f8d8d8" d="M348 384l7 32 7-37-8-8z"/>
<path fill="#f8e0e0" d="M432 410l9-1 4 12-5-50z"/>
<path fill="#ffc8c8" d="M238 326l8 20 7-16-8-5z"/>
<path fill="#ffd8d8" d="M333 372l7 3 6-1-7-14z"/>
<path fill="#c8c8d8" stroke="#c8c8d8" stroke-opacity="1" stroke-width="0.5" d="M558 466l5-12 0 8-4 8z"/>
<path fill="#d0c8d8" stroke="#d0c8d8" stroke-opacity="1" stroke-width="0.5" d="M556 459l5-21 1 8-5 17z"/>
<path fill="#d0d0d8" stroke="#d0d0d8" stroke-opacity="1" stroke-width="0.5" d="M557 463l5-17 1 8-5 12zM563 454l4-13 0 13-4 8z"/>
<path fill="#d0d0d8" d="M543 485l10-16 5 0-9 2zM480 469l9-1 6-8-9 9z"/>
<path fill="#d0d0f0" d="M509 491l9 2 6-10-8-4z"/>
<path fill="#d8c8c8" stroke="#d8c8c8" stroke-opacity="1" stroke-width="0.5" d="M561 438l6-23 0 14-5 17z"/>
<path fill="#d8c8d0" stroke="#d8c8d0" stroke-opacity="1" stroke-width="0.5" d="M562 446l5-17 0 12-4 13zM567 441l5-13-1 17-4 9z"/>
<path fill="#d8d0e0" d="M539 470l7 15 7-16-10 16z"/>
<path fill="#d8d8e0" d="M531 467l8 3 4 15-7-20z"/>
<path fill="#e09898" d="M290 232l8 16 7 1-7 24zM312 259l8-18 6 29-7-22z"/>
<path fill="#e0a0a0" d="M272 296l6-30 8 27-8-14z"/>
<path fill="#e0b0b0" d="M246 346l6-43 8 34-7-7zM190 351l3-55 11 53-7-3z"/>
<path fill="#e0b8b8" d="M375 343l8 17 5 5-7-1zM361 353l7 12 7-22-8 27z"/>
<path fill="#e0c0c0" stroke="#e0c0c0" stroke-opacity="1" stroke-width="0.5" d="M567 415l6-22 0 18-6 18z"/>
<path fill="#e0c0c0" d="M355 416l8-36 7-5-8 4z"/>
<path fill="#e0c8c8" stroke="#e0c8c8" stroke-opacity="1" stroke-width="0.5" d="M567 429l6-18-1 17-5 13z"/>
<path fill="#e0d8e8" d="M459 453l8 12 5 1-7-9z"/>
<path fill="#e0e0e8" d="M516 479l8 4 7-16-9 5zM495 460l8 9 5 7-7-18z"/>
<path fill="#e0e0f0" d="M503 469l6 22 7-12-8-3z"/>
<path fill="#e8b8b8" d="M173 317l10 36 7-2-7-5zM311 343l7 12 7-2-8 6z"/>
<path fill="#e8c8c8" d="M398 383l8 3 5 3-7-6z"/>
<path fill="#e8c8d0" d="M420 382l7 15 5 13-7-18z"/>
<path fill="#e8d0d0" d="M341 391l8 0 6 25-7-32z"/>
<path fill="#e8e0f0" d="M467 465l8 10 5-6-8-3z"/>
<path fill="#e8e8f0" d="M522 472l9-5 5-2-7-17zM497 479l7 15 5-3-6-22z"/>
<path fill="#f0a8a8" d="M278 279l8 14 6-29-7 10z"/>
<path fill="#f0b0b0" d="M329 282l7 30 7 3-8-20zM286 293l7 7 6-26-7-10z"/>
<path fill="#f0b8b8" d="M302 305l8 22 6 36-8-62zM253 330l7 7 6-28-8-8z"/>
<path fill="#f0c0c0" d="M303 333l8 10 6 16-7-32z"/>
<path fill="#f0c8c8" d="M346 374l8-3 7-18-8 1zM326 348l8 33 6-6-7-3z"/>
<path fill="#f0d0d0" d="M383 360l7 19 6-2-8-12z"/>
<path fill="#f0e0e8" d="M443 443l8 5 7-10-8-9zM451 448l8 5 6 4-7-19z"/>
<path fill="#f8b0b0" d="M328 283l7 12 7 3-8-48z"/>
<path fill="#f8c8c8" d="M233 363l7-11 7 2-8-22z"/>
<path fill="#f8d0d0" d="M340 375l8 9 6-13-8 3zM354 371l8 8 6-14-7-12zM284 376l8 15 6-9-8-27z"/>
<path fill="#f8e0e8" d="M436 429l7 14 7-14-8-8z"/>
<path fill="#ffa8a8" d="M305 249l7 10 7-11-8-12z"/>
<path fill="#ffd8d8" d="M334 381l7 10 7-7-8-9z"/>
<path fill="#c0c0e0" d="M504 494l9-3 5 2-9-2zM519 515l10-10 6-10-9 2z"/>
<path fill="#d0c8d0" stroke="#d0c8d0" stroke-opacity="1" stroke-width="0.5" d="M554 463l4-14 3-11-5 21zM555 470l3-1 5-24-4 7z"/>
<path fill="#d0d0d8" stroke="#d0d0d8" stroke-opacity="1" stroke-width="0.5" d="M549 471l3-1 3-11-4 8zM551 467l4-8 3-10-4 14zM552 470l3 0 4-18-4 7z"/>
<path fill="#d0d0f8" d="M513 491l6 24 7-18-8-4z"/>
<path fill="#d8c8c8" stroke="#d8c8c8" stroke-opacity="1" stroke-width="0.5" d="M558 449l5-15 4-19-6 23zM559 452l4-7 5-26-5 15z"/>
<path fill="#d8c8d0" stroke="#d8c8d0" stroke-opacity="1" stroke-width="0.5" d="M555 459l4-7 4-18-5 15z"/>
<path fill="#d8c8d0" d="M445 456l9-12 5 9-8-5z"/>
<path fill="#d8d8e0" d="M475 475l8-2 6-5-9 1z"/>
<path fill="#d8d8e8" d="M518 493l8 4 7-18-9 4z"/>
<path fill="#e09090" d="M298 248l7-14 7 25-7-10z"/>
<path fill="#e0a0a0" d="M265 302l7-15 6-21-6 30zM278 266l8 16 7 18-7-7z"/>
<path fill="#e0a8a8" d="M223 309l7-3 8 20-7-7z"/>
<path fill="#e0b0b0" d="M205 359l6-11 7-10-7 13z"/>
<path fill="#e0b8b8" d="M318 355l8-7 7 24-8-19zM384 374l9-25 5 34-8-4z"/>
<path fill="#e0b8c0" d="M327 397l8-43 6 37-7-10z"/>
<path fill="#e0c0c0" stroke="#e0c0c0" stroke-opacity="1" stroke-width="0.5" d="M563 434l5-15 5-26-6 22z"/>
<path fill="#e0c0c0" d="M406 386l8 3 6-7-9 7zM292 391l7-2 6-35-7 28zM349 391l8-18 6 7-8 36zM285 379l7 8 7 2-7 2z"/>
<path fill="#e0d8e0" stroke="#e0d8e0" stroke-opacity="1" stroke-width="0.5" d="M573 440l2 12 1 2-2-4zM572 448l-1 27 3-6-1-19zM573 450l1 19 2-6-1-11zM575 452l1 11 3-5-3-4z"/>
<path fill="#e0d8e8" d="M524 483l9-4 6-9-8-3z"/>
<path fill="#e0e0f0" d="M490 494l9-8 5 8-7-15z"/>
<path fill="#e8a0a0" d="M293 300l8-14 6-10-8-2z"/>
<path fill="#e8a8a8" d="M258 301l8 8 6-22-7 15z"/>
<path fill="#e8b0b0" d="M230 306l9 26 7 14-8-20zM239 332l8 22 5-51-6 43zM211 351l7-13 6-11-7 4z"/>
<path fill="#e8b8b8" d="M193 296l12 63 6-8-7-2z"/>
<path fill="#e8d0d0" stroke="#e8d0d0" stroke-opacity="1" stroke-width="0.5" d="M573 411l0 20 0 9-1-12z"/>
<path fill="#e8d0d0" d="M421 397l8 5 5 16-7-21z"/>
<path fill="#e8d0d8" stroke="#e8d0d8" stroke-opacity="1" stroke-width="0.5" d="M573 421l-1 27 1 2 0-19z"/>
<path fill="#e8d8d8" stroke="#e8d8d8" stroke-opacity="1" stroke-width="0.5" d="M572 428l1 12 1 10-3-5zM573 431l0 19 2 2-2-12z"/>
<path fill="#e8d8d8" d="M429 402l7 27 6-8-8-3z"/>
<path fill="#e8e8f0" d="M483 473l7 21 7-15-8-11z"/>
<path fill="#e8e8f8" d="M533 479l8 12 5-6-7-15z"/>
<path fill="#f0a0a0" d="M285 274l7-10 6-16-8-16z"/>
<path fill="#f0b8b8" d="M297 351l7-12 7 4-8-10z"/>
<path fill="#f0c8c8" stroke="#f0c8c8" stroke-opacity="1" stroke-width="0.5" d="M573 393l0 28 0 10 0-20z"/>
<path fill="#f0c8c8" d="M256 383l7-10 7-3-8-14z"/>
<path fill="#f0e0e0" d="M430 426l7 21 6-4-7-14z"/>
<path fill="#f0e8f0" d="M437 447l8 9 6-8-8-5zM553 469l7 16 7-12-9-4zM489 468l8 11 6-10-8-9z"/>
<path fill="#f0e8f8" d="M546 485l10-2 4 2-7-16z"/>
<path fill="#f8a8a8" d="M320 241l8 42 6-33-8 20zM299 274l8 2 7 5-9-47z"/>
<path fill="#f8b0b0" d="M301 286l7 15 7-3-8-22z"/>
<path fill="#f8c0c0" d="M167 332l10 37 6-16-10-36zM224 327l9 36 6-31-9-26z"/>
<path fill="#f8c8c8" d="M368 365l8 9 7-14-8-17zM248 370l8 13 6-27-8-8zM290 355l8 27 6-43-7 12zM304 339l8 28 6-12-7-12z"/>
<path fill="#f8d0d0" d="M362 379l8-4 6-1-8-9zM313 390l8 5 6 2-7-47z"/>
<path fill="#f8d8d8" d="M414 389l7 8 6 0-7-15z"/>
<path fill="#ffa0a0" d="M305 234l9 47 6-40-8 18z"/>
<path fill="#ffc8d0" d="M240 352l8 18 6-22-7 6z"/>
<path fill="#ffd0d0" d="M376 374l8 0 6 5-7-19z"/>
<path fill="#ffd8d8" d="M248 372l9 29 6-28-7 10z"/>
<path fill="#c8c8d8" d="M515 506l10-9 4 8-10 10z"/>
<path fill="#d0d0f0" d="M506 501l9 5 4 9-6-24z"/>
<path fill="#d8d0d0" d="M432 448l8-3 5 11-8-9z"/>
<path fill="#d8d0d8" d="M462 459l8 2 5 14-8-10zM470 461l8 13 5-1-8 2z"/>
<path fill="#d8d8e0" d="M541 491l9 0 6-8-10 2zM478 474l8 2 4 18-7-21z"/>
<path fill="#e09090" d="M314 281l7-54 7 56-8-42z"/>
<path fill="#e09898" stroke="#e09898" stroke-opacity="1" stroke-width="0.5" d="M268 297l2-11 2-20-2 15z"/>
<path fill="#e09898" d="M286 282l7-30 8 34-8 14zM266 309l6-43 8 40-8-19z"/>
<path fill="#e0a0a0" stroke="#e0a0a0" stroke-opacity="1" stroke-width="0.5" d="M266 308l2-11 2-16-2 14zM266 314l3-8 1-20-2 11zM178 327l1-21 3 8-1 17zM181 331l1-17 3 8-1 12z"/>
<path fill="#e0a8a8" stroke="#e0a8a8" stroke-opacity="1" stroke-width="0.5" d="M262 328l2-7 2-13-2 11zM264 319l2-11 2-13-2 14zM262 333l3-4 1-15-2 7zM264 321l2-7 2-17-2 11zM265 329l2-4 2-19-3 8zM178 348l0-21 3 4-1 16zM184 334l1-12 3 8-1 8z"/>
<path fill="#e0a8a8" d="M252 303l8 24 7-2-7 12zM183 353l5-23 5-34-3 55z"/>
<path fill="#e0b0b0" stroke="#e0b0b0" stroke-opacity="1" stroke-width="0.5" d="M260 337l2-4 2-12-2 7zM180 347l1-16 3 3-1 12zM183 346l1-12 3 4-2 8z"/>
<path fill="#e0b0b0" d="M312 367l8-17 6-2-8 7zM225 335l7-8 8 25-7 11z"/>
<path fill="#e0b8b8" stroke="#e0b8b8" stroke-opacity="1" stroke-width="0.5" d="M177 369l1-21 2-1-1 17zM179 364l1-17 3-1-2 12zM181 358l2-12 2 0-2 7z"/>
<path fill="#e0b8b8" d="M370 375l8-6 6 5-8 0z"/>
<path fill="#e0b8c0" d="M257 401l6-36 8 38-8-30z"/>
<path fill="#e0d8d8" d="M454 444l8 15 5 6-8-12z"/>
<path fill="#e0d8e0" d="M454 482l9 2 7-23-8-2z"/>
<path fill="#e0e0e8" d="M499 486l7 15 7-10-9 3z"/>
<path fill="#e0e0f8" d="M529 505l8 5 5-2-7-13z"/>
<path fill="#e88888" stroke="#e88888" stroke-opacity="1" stroke-width="0.5" d="M321 227l3 18 2 14-3-13zM316 261l3-10 2-24-3 18z"/>
<path fill="#e89090" stroke="#e89090" stroke-opacity="1" stroke-width="0.5" d="M324 245l2 19 2 9-2-14zM314 270l2-9 2-16-2 18z"/>
<path fill="#e89898" stroke="#e89898" stroke-opacity="1" stroke-width="0.5" d="M323 246l3 13 2 14-3-8zM326 259l2 14 3 9-3-9zM326 264l3 18 2 4-3-13zM312 277l2-1 2-15-2 9zM314 276l3-1 2-24-3 10z"/>
<path fill="#e8a0a0" stroke="#e8a0a0" stroke-opacity="1" stroke-width="0.5" d="M325 265l3 8 2 14-2-4zM328 273l3 9 2 9-3-4zM328 273l3 13 2 4-2-8zM307 276l3 7 2-6-3 0zM309 277l3 0 2-7-3 9zM311 279l3-9 2-7-2 18zM310 283l2 8 2-15-2 1zM312 291l3 7 2-23-3 1z"/>
<path fill="#e8a8a8" stroke="#e8a8a8" stroke-opacity="1" stroke-width="0.5" d="M331 282l2 8 2 5-2-4z"/>
<path fill="#e8b0b0" d="M217 331l7-4 6-21-7 3z"/>
<path fill="#e8b8b8" d="M232 327l8 26 8 17-8-18z"/>
<path fill="#e8c0c0" d="M277 354l8 25 7 12-8-15zM240 353l8 19 8 11-8-13z"/>
<path fill="#e8c8c8" d="M314 397l8 12 7-33-8 19z"/>
<path fill="#e8d8d8" d="M425 410l7 38 5-1-7-21z"/>
<path fill="#e8e0e0" stroke="#e8e0e0" stroke-opacity="1" stroke-width="0.5" d="M565 454l2 10 2-8 0-18z"/>
<path fill="#e8e0e8" stroke="#e8e0e8" stroke-opacity="1" stroke-width="0.5" d="M558 469l3 2 4-17-2-9zM561 471l3 1 3-8-2-10zM564 472l3 1 1 1-1-10zM567 464l1 10 2 0-1-18zM569 456l1 18 1 1 1-27z"/>
<path fill="#e8e8f0" d="M526 497l9-2 6-4-8-12z"/>
<path fill="#e8e8f8" d="M535 495l7 13 8-17-9 0z"/>
<path fill="#f09090" stroke="#f09090" stroke-opacity="1" stroke-width="0.5" d="M319 251l2 16 3-22-3-18z"/>
<path fill="#f09898" d="M292 264l7 10 6-40-7 14z"/>
<path fill="#f0a0a0" stroke="#f0a0a0" stroke-opacity="1" stroke-width="0.5" d="M317 275l2 12 2-20-2-16zM321 267l3 15 2-18-2-19z"/>
<path fill="#f0a8a8" stroke="#f0a8a8" stroke-opacity="1" stroke-width="0.5" d="M319 287l3 13 2-18-3-15zM324 282l3 15 2-15-3-18z"/>
<path fill="#f0b0b0" stroke="#f0b0b0" stroke-opacity="1" stroke-width="0.5" d="M315 298l2 10 2-21-2-12zM317 308l3 10 2-18-3-13zM322 300l3 12 2-15-3-15z"/>
<path fill="#f0b8b8" stroke="#f0b8b8" stroke-opacity="1" stroke-width="0.5" d="M320 318l3 9 2-15-3-12z"/>
<path fill="#f0b8b8" d="M218 338l7-3 8 28-9-36zM247 354l7-6 6-21-8-24zM160 331l8 16 9 22-10-37zM260 327l8 6 6-10-7 2zM262 356l8 14 5-42-7 5z"/>
<path fill="#f0c0c0" d="M298 382l7-28 7 13-8-28z"/>
<path fill="#f0c8c8" d="M263 373l8 30 6-49-7 16zM307 380l7 17 7-2-8-5zM271 403l7-22 7-2-8-25z"/>
<path fill="#f0d0d0" d="M424 392l6 34 6 3-7-27z"/>
<path fill="#f0d8e0" stroke="#f0d8e0" stroke-opacity="1" stroke-width="0.5" d="M563 445l2 9 4-16-1-19zM569 438l0 18 3-8 1-27z"/>
<path fill="#f8a8a8" d="M272 287l8 19 6-24-8-16z"/>
<path fill="#f8c0c0" d="M282 330l8 25 7-4-8-21zM254 348l8 8 6-23-8-6zM275 328l9 48 6-21-8-25z"/>
<path fill="#f8c8c8" d="M320 350l7 47 7-16-8-33z"/>
<path fill="#f8d0d0" stroke="#f8d0d0" stroke-opacity="1" stroke-width="0.5" d="M568 419l1 19 4-17 0-28z"/>
<path fill="#f8d0d0" d="M292 387l8 17 7-24-8 9z"/>
<path fill="#f8d0d8" d="M300 404l8 9 6-16-7-17z"/>
<path fill="#ffc8c8" d="M305 354l8 36 7-40-8 17zM270 370l7-16 7 22-9-48z"/>
<path fill="#ffd0d0" d="M299 389l8-9 6 10-8-36z"/>
<path fill="#d0d0d8" d="M486 476l8 12 5-2-9 8z"/>
<path fill="#d8c8c8" d="M440 445l9-5 5 4-9 12z"/>
<path fill="#d8c8d0" d="M283 469l7-13 7 25-7-19zM450 463l9-1 4 22-9-2z"/>
<path fill="#d8d8e0" d="M292 483l8 26 6-2-7-3zM501 498l9 5 5 3-9-5z"/>
<path fill="#d8d8e8" d="M300 509l7 5 7-12-8 5z"/>
<path fill="#e09898" stroke="#e09898" stroke-opacity="1" stroke-width="0.5" d="M199 315l2-10 3 14-1 8z"/>
<path fill="#e09898" d="M280 306l7-12 6-42-7 30z"/>
<path fill="#e0a0a0" stroke="#e0a0a0" stroke-opacity="1" stroke-width="0.5" d="M174 339l2-8 2-13-2 15zM176 333l2-15 1-12-1 21zM198 324l1-9 4 12-2 8zM203 327l1-8 4 15-2 5z"/>
<path fill="#e0a8a8" stroke="#e0a8a8" stroke-opacity="1" stroke-width="0.5" d="M170 345l2-1 2-5-1 7zM173 346l1-7 2-6-1 14zM175 347l1-14 2-6 0 21zM172 344l3-1 1-12-2 8zM196 334l2-10 3 11-2 7zM201 335l2-8 3 12-2 6z"/>
<path fill="#e0b0b0" stroke="#e0b0b0" stroke-opacity="1" stroke-width="0.5" d="M168 347l2-2 3 1-2 8zM171 354l2-8 2 1-1 15zM199 342l2-7 3 10-2 5zM202 350l2-5 3 10-2 4zM204 345l2-6 3 12-2 4zM206 339l2-5 3 14-2 3z"/>
<path fill="#e0b0b0" d="M378 369l8 2 7-22-9 25z"/>
<path fill="#e0b8b8" stroke="#e0b8b8" stroke-opacity="1" stroke-width="0.5" d="M174 362l1-15 3 1-1 21z"/>
<path fill="#e0b8b8" d="M321 395l8-19 6-22-8 43zM393 349l8 10 5 27-8-3zM408 387l8-8 5 18-7-8zM335 354l8 11 6 26-8 0zM363 380l9-23 6 12-8 6zM263 365l8 7 7 9-7 22zM249 382l7-3 7-14-6 36z"/>
<path fill="#e0c0c0" d="M308 413l7-22 7 18-8-12zM294 404l7-11 7 20-8-9zM416 379l8 13 5 10-8-5z"/>
<path fill="#e0d0d8" d="M463 484l10-17 5 7-8-13zM319 476l8-5 7-6-8-1z"/>
<path fill="#e0e0e8" d="M494 488l7 10 5 3-7-15z"/>
<path fill="#e0e0f0" d="M525 497l6 20 6-7-8-5z"/>
<path fill="#e8a0a0" d="M272 266l9 36 6-8-7 12z"/>
<path fill="#e8b0b0" d="M211 348l7-5 7-8-7 3z"/>
<path fill="#e8b8b8" d="M278 381l7-4 7 10-7-8z"/>
<path fill="#e8c0c0" d="M401 359l7 28 6 2-8-3zM241 366l8 16 8 19-9-29z"/>
<path fill="#e8d0d8" d="M290 462l7 19 6-56-7 16z"/>
<path fill="#e8d8e0" d="M311 464l8 12 7-12-8 5z"/>
<path fill="#e8e8f0" d="M306 507l8-5 7-2-8-25z"/>
<path fill="#f09898" stroke="#f09898" stroke-opacity="1" stroke-width="0.5" d="M294 261l3 24 3 9-3-18z"/>
<path fill="#f0a0a0" stroke="#f0a0a0" stroke-opacity="1" stroke-width="0.5" d="M297 276l3 18 2 9-3-13z"/>
<path fill="#f0a0a0" d="M293 252l9 53 6-4-7-15z"/>
<path fill="#f0a8a8" stroke="#f0a8a8" stroke-opacity="1" stroke-width="0.5" d="M299 290l3 13 2 9-2-7zM297 285l3 25 2 3-2-19zM300 294l2 19 3 3-3-13z"/>
<path fill="#f0a8a8" d="M267 325l7-2 7-21-9-36z"/>
<path fill="#f0b0b0" stroke="#f0b0b0" stroke-opacity="1" stroke-width="0.5" d="M302 303l3 13 2 3-3-7zM300 310l3 23 2-2-3-18zM302 313l3 18 2-2-2-13zM305 316l2 13 3-2-3-8z"/>
<path fill="#f0b0b0" d="M268 333l7-5 7 2-8-7z"/>
<path fill="#f0c8c8" d="M285 377l9 27 6 0-8-17z"/>
<path fill="#f0e0e0" d="M449 440l5 42 8-23-8-15z"/>
<path fill="#f0e0f0" d="M313 475l8 25 6-29-8 5z"/>
<path fill="#f8a0a0" stroke="#f8a0a0" stroke-opacity="1" stroke-width="0.5" d="M292 284l3 19 2-18-3-24z"/>
<path fill="#f8a8a8" stroke="#f8a8a8" stroke-opacity="1" stroke-width="0.5" d="M291 308l2 12 2-17-3-19zM295 303l3 18 2-11-3-25z"/>
<path fill="#f8b0b0" stroke="#f8b0b0" stroke-opacity="1" stroke-width="0.5" d="M293 320l3 13 2-12-3-18z"/>
<path fill="#f8b8b8" stroke="#f8b8b8" stroke-opacity="1" stroke-width="0.5" d="M289 330l2 7 2-17-2-12zM291 337l3 7 2-11-3-13zM298 321l3 18 2-6-3-23z"/>
<path fill="#f8b8b8" d="M274 323l8 7 7 0-8-28zM188 330l8 4 9 25-12-63z"/>
<path fill="#f8c0c0" stroke="#f8c0c0" stroke-opacity="1" stroke-width="0.5" d="M294 344l3 7 2-6-3-12zM296 333l3 12 2-6-3-18z"/>
<path fill="#f8c8c8" d="M234 364l7 2 7 6-8-19z"/>
<path fill="#f8d8e0" d="M288 431l8 10 7 3-9-37z"/>
<path fill="#f8e0e0" d="M310 434l8 35 7-34-8 3zM303 444l7-10 7 4-8-23z"/>
<path fill="#d8d0d8" d="M314 502l8 12 6-56-7 42z"/>
<path fill="#d8d0e0" d="M293 498l8 9 6 7-7-5z"/>
<path fill="#d8d8e0" d="M459 496l8 8 6-8-9 4zM307 514l8-10 7 10-8-12zM482 496l8 8 5 6-8-10z"/>
<path fill="#e0b0b0" d="M357 373l8 4 7-20-9 23zM343 365l8-7 6 15-8 18z"/>
<path fill="#e0b8b8" d="M315 391l8-7 7 12-8 13z"/>
<path fill="#e0c8c8" d="M296 441l7-16 7 9-7 10z"/>
<path fill="#e0d0d0" d="M318 469l8-5 6-46-7 17zM427 425l7 23 6-3-8 3z"/>
<path fill="#e0d0d8" d="M473 467l7 11 6-2-8-2z"/>
<path fill="#e0d8e0" d="M464 500l9-4 7-18-7-11z"/>
<path fill="#e0d8e8" d="M510 503l7 10 8-16-10 9z"/>
<path fill="#e0e0e8" stroke="#e0e0e8" stroke-opacity="1" stroke-width="0.5" d="M299 504l2 1 2-17-2-5zM301 505l3 1 2-14-3-4zM304 506l2 1 2-10-2-5zM306 492l2 5 3-11-3-8zM296 488l3 16 2-21-3-6z"/>
<path fill="#e8a8a8" d="M151 319l8 12 9 16-8-16z"/>
<path fill="#e8b0b0" d="M218 343l7-1 7-15-7 8z"/>
<path fill="#e8c0c0" d="M322 409l8-13 6-15-7-5zM301 393l8 22 6-24-7 22zM286 391l8 16 7-14-7 11z"/>
<path fill="#e8c8c8" d="M419 410l8 15 5 23-7-38z"/>
<path fill="#e8d0d8" d="M304 440l9 35 6 1-8-12zM297 481l7-41 7 24-8-39zM436 463l8 4 6-4-8 0z"/>
<path fill="#e8d8d8" d="M303 425l8 39 7 5-8-35zM267 430l9 45 7-6-8-23z"/>
<path fill="#e8d8e0" stroke="#e8d8e0" stroke-opacity="1" stroke-width="0.5" d="M301 483l2 5 2-18-2-8zM303 488l3 4 2-14-3-8zM305 470l3 8 2-14-3-12zM308 478l3 8 2-11-3-11zM290 456l3 16 2-1-2-6zM293 465l2 6 3-2-3 4zM293 472l3 16 2-11-3-6zM295 471l3 6 2-11-2 3zM298 469l2-3 2-12-2 14zM298 477l3 6 2-21-3 4z"/>
<path fill="#e8d8e0" d="M283 458l9 25 7 21-9-48z"/>
<path fill="#e8d8e8" stroke="#e8d8e8" stroke-opacity="1" stroke-width="0.5" d="M295 473l3-4 2-1-3 13z"/>
<path fill="#e8e0e0" d="M429 479l7 16 8-28-8-4z"/>
<path fill="#e8e0e8" d="M451 494l8 2 5 4-5-38z"/>
<path fill="#e8e8f0" d="M495 510l8 3 7-10-9-5z"/>
<path fill="#e8e8f8" d="M517 513l9 8 5-4-6-20z"/>
<path fill="#f09898" stroke="#f09898" stroke-opacity="1" stroke-width="0.5" d="M287 292l3-4 2-16-2 11zM290 288l2-4 2-23-2 11z"/>
<path fill="#f0a0a0" stroke="#f0a0a0" stroke-opacity="1" stroke-width="0.5" d="M283 299l2 3 2-10-2 4zM285 296l2-4 3-9-3 11zM285 302l3 3 2-17-3 4zM288 305l3 3 1-24-2 4z"/>
<path fill="#f0a0a0" d="M287 294l7-33 8 44-9-53z"/>
<path fill="#f0a8a8" stroke="#f0a8a8" stroke-opacity="1" stroke-width="0.5" d="M281 302l2 9 2-9-2-3zM283 311l3 10 2-16-3-3zM286 321l3 9 2-22-3-3z"/>
<path fill="#f0b0b0" d="M179 306l10 41 7-13-8-4z"/>
<path fill="#f0b8b8" d="M226 361l8 6 7-1-7-2z"/>
<path fill="#f0c8c8" d="M418 388l7 22 5 16-6-34zM309 415l8 23 6-54-8 7z"/>
<path fill="#f0d8d8" stroke="#f0d8d8" stroke-opacity="1" stroke-width="0.5" d="M303 462l2 8 2-18-3-12zM300 466l3-4 1-22-2 14z"/>
<path fill="#f0d8e0" d="M434 448l8 15 7-23-9 5z"/>
<path fill="#f0e0e0" d="M442 463l8 0 4 19-5-42zM275 446l8 23 7-7-9-38zM326 464l8 1 6-2-8-45z"/>
<path fill="#f0e0e8" d="M480 478l7 22 7-12-8-12zM421 472l8 7 7-16-8-5z"/>
<path fill="#f0e8f0" d="M487 500l8 10 6-12-7-10zM459 462l5 38 9-33-10 17zM473 496l9 0 5 4-7-22z"/>
<path fill="#f8b8b8" d="M146 346l9 23 4-38-8-12z"/>
<path fill="#f8c0c0" d="M225 342l9 22 6-11-8-26zM139 360l7-2 9 11-9-23z"/>
<path fill="#f8c8c8" d="M279 389l7 2 8 13-9-27zM271 372l8 17 6-12-7 4zM256 379l9 26 6-33-8-7z"/>
<path fill="#f8d0d8" d="M294 407l9 37 6-29-8-22z"/>
<path fill="#f8d8e0" d="M281 424l9 38 6-21-8-10z"/>
<path fill="#f8e0e8" d="M428 458l8 5 6 0-8-15z"/>
<path fill="#d0d0d8" d="M490 504l9 1 4 8-8-3zM315 504l8-12 7 23-8-1z"/>
<path fill="#d8c8c8" d="M327 471l8-10 7-7-8 11z"/>
<path fill="#d8c8d0" d="M276 475l7-17 7-2-7 13zM321 500l7-42 7 3-8 10z"/>
<path fill="#d8d0d8" d="M446 478l7 17 6 1-8-2z"/>
<path fill="#d8d0e0" d="M513 505l8 9 5 7-9-8z"/>
<path fill="#d8d8e0" d="M503 513l10-8 4 8-7-10z"/>
<path fill="#e0a0a0" d="M201 305l9 28 8 10-7 5zM210 333l7-3 8 12-7 1z"/>
<path fill="#e0a8a8" d="M159 331l7 4 9 8-7 4zM155 369l3-38 8 4-7-4z"/>
<path fill="#e0b0b0" d="M372 357l8-3 6 17-8-2zM234 367l7-9 8 24-8-16zM403 355l7 21 6 3-8 8zM351 358l8 9 6 10-8-4zM241 358l8 13 7 8-7 3z"/>
<path fill="#e0c8c8" d="M334 465l8-11 6-31-8 40z"/>
<path fill="#e0d0d8" d="M423 476l8 8 5 11-7-16zM416 460l7 16 6 3-8-7z"/>
<path fill="#e0d8e0" d="M285 478l8 20 7 11-8-26zM453 495l9 4 5 5-8-8z"/>
<path fill="#e0d8e8" d="M467 504l8 3 7-11-9 0z"/>
<path fill="#e8b0b0" d="M386 371l9-19 6 7-8-10zM395 352l8 3 5 32-7-28z"/>
<path fill="#e8b8b8" d="M330 396l8-10 6-2-8-3zM249 371l8 7 8 27-9-26zM257 378l8 27 7-22-7 22z"/>
<path fill="#e8e0e8" d="M322 514l8 1 6-18-8-39z"/>
<path fill="#f0b8b8" d="M217 330l9 31 8 3-9-22zM336 381l8 3 7-26-8 7z"/>
<path fill="#f0c0c0" d="M265 405l7-22 7 6-8-17zM410 376l8 12 6 4-8-13z"/>
<path fill="#f0c8c8" d="M317 438l8-3 6-42-8-9z"/>
<path fill="#f0d8e0" d="M414 439l7 33 7-14-8-18z"/>
<path fill="#f0e0e8" d="M436 495l10-17 5 16-7-27zM444 467l7 27 8-32-9 1z"/>
<path fill="#f8c0c0" d="M329 376l7 5 7-16-8-11z"/>
<path fill="#f8d0d0" d="M280 391l8 40 6-24-8-16zM273 406l8 18 7 7-8-40z"/>
<path fill="#f8d0d8" d="M267 433l8 13 6-22-8-18z"/>
<path fill="#f8d8e0" d="M420 440l8 18 6-10-7-23z"/>
<path fill="#f8e0e0" d="M262 472l7-17 7 20-9-45z"/>
<path fill="#ffb8b8" d="M175 343l6-12 8 16-10-41z"/>
<path fill="#d0c8d8" d="M301 507l7-10 7 7-8 10z"/>
<path fill="#d8c8c8" d="M269 455l8 13 6-10-7 17zM349 465l8-1 7-6-8 9z"/>
<path fill="#d8c8d0" d="M462 499l9-1 4 9-8-3zM431 484l9-12 6 6-10 17zM330 515l7-14 7-28-8 24zM424 510l9-15 7-23-9 12z"/>
<path fill="#d8d0d0" d="M396 477l8 26 6-11-9 12z"/>
<path fill="#d8d8e0" d="M287 521l8-3 7 14-8-18z"/>
<path fill="#e0a0a0" d="M189 347l4-44 8 2-5 29zM166 335l5-26 10 22-6 12z"/>
<path fill="#e0a8a8" d="M130 347l6-7 10 18-7 2zM146 358l4-28 8 1-3 38zM365 377l9-43 6 20-8 3z"/>
<path fill="#e0b0b0" d="M119 385l4-17 9 1-6 8zM227 376l7-6 7-12-7 9zM111 388l6-4 6-16-4 17z"/>
<path fill="#e0b8b8" d="M323 384l8 9 7-7-8 10z"/>
<path fill="#e0c0c8" d="M259 419l8 11 8 16-8-13z"/>
<path fill="#e0d0d8" d="M401 504l9-12 7-12-8-6zM485 502l8 5 6-2-9-1z"/>
<path fill="#e0d8e0" d="M475 507l10-5 5 2-8-8z"/>
<path fill="#e0e0e8" d="M294 514l8 18 6-35-7 10z"/>
<path fill="#e0e0f0" d="M303 537l8 24 7-16-9-24z"/>
<path fill="#e8b0b0" d="M217 319l10 57 7-9-8-6zM126 377l6-8 4-29-6 7z"/>
<path fill="#e8b8b8" d="M272 383l8 8 6 0-7-2z"/>
<path fill="#e8d0d0" stroke="#e8d0d0" stroke-opacity="1" stroke-width="0.5" d="M338 448l2 15 2-28-2-7z"/>
<path fill="#e8d8e0" d="M285 482l9 32 7-7-8-9z"/>
<path fill="#e8e0e8" d="M499 505l7 16 7-16-10 8z"/>
<path fill="#e8e8f0" d="M506 521l8 5 7-12-8-9z"/>
<path fill="#f0b8b8" stroke="#f0b8b8" stroke-opacity="1" stroke-width="0.5" d="M342 409l3-3 2-29-3 11z"/>
<path fill="#f0b8b8" d="M338 386l8 23 7-50-9 25z"/>
<path fill="#f0c0c0" stroke="#f0c0c0" stroke-opacity="1" stroke-width="0.5" d="M337 413l2-2 3-12-3 11zM339 411l3-2 2-21-2 11zM345 406l2 10 3-17-3-22z"/>
<path fill="#f0c0c0" d="M412 380l7 30 6 0-7-22z"/>
<path fill="#f0c8c8" stroke="#f0c8c8" stroke-opacity="1" stroke-width="0.5" d="M332 418l3 15 2-11-2-6zM335 416l2 6 2-11-2 2zM337 422l3 6 2-19-3 2zM340 428l2 7 3-29-3 3zM342 435l3-2 2-17-2-10zM347 416l3 10 2-6-2-21z"/>
<path fill="#f0c8c8" d="M325 435l7-17 7-8-8-17z"/>
<path fill="#f0d0d0" stroke="#f0d0d0" stroke-opacity="1" stroke-width="0.5" d="M335 433l3 15 2-20-3-6zM343 450l3-13 2-6-3 2zM345 433l3-2 2-5-3-10zM346 437l2-14 2 6-2 2zM348 431l2-2 3 6-3-9zM350 426l3 9 2 6-3-21z"/>
<path fill="#f0d0d0" d="M408 435l8 25 5 12-7-33z"/>
<path fill="#f0d8d8" stroke="#f0d8d8" stroke-opacity="1" stroke-width="0.5" d="M359 464l2-3 2-6-2-5zM361 461l3-3 2 2-3-5zM363 455l3 5 2 1-2-12zM366 449l2 12 2 1-2-20zM340 463l3-13 2-17-3 2z"/>
<path fill="#f0d8e0" stroke="#f0d8e0" stroke-opacity="1" stroke-width="0.5" d="M356 467l3-3 2-14-3-4z"/>
<path fill="#f0e0e0" d="M277 468l8 10 7 5-9-25z"/>
<path fill="#f0e0e8" d="M417 480l7 30 7-26-8-8z"/>
<path fill="#f8c8c8" stroke="#f8c8c8" stroke-opacity="1" stroke-width="0.5" d="M361 424l2 12 3-14-3-21z"/>
<path fill="#f8c8c8" d="M331 393l8 17 7-1-8-23zM265 405l8 1 7-15-8-8zM252 415l7 4 8 14-9-36z"/>
<path fill="#f8d0d0" stroke="#f8d0d0" stroke-opacity="1" stroke-width="0.5" d="M358 446l3 4 2-14-2-12zM363 436l3 13 2-7-2-20z"/>
<path fill="#f8d0d0" d="M258 397l9 36 6-27-8-1zM414 400l6 40 7-15-8-15z"/>
<path fill="#f8d8d8" stroke="#f8d8d8" stroke-opacity="1" stroke-width="0.5" d="M361 450l2 5 3-6-3-13z"/>
<path fill="#f8d8d8" d="M342 454l7 11 7 2-8-44z"/>
<path fill="#f8e0e8" d="M409 474l8 6 6-4-7-16z"/>
<path fill="#d8c8c8" d="M256 494l6-35 8 24-8-19z"/>
<path fill="#d8c8d0" d="M323 492l8 16 6-7-7 14zM410 492l10-22 4 40-7-30zM308 497l8 4 7-9-8 12z"/>
<path fill="#d8d0d0" d="M471 498l8 7 6-3-10 5z"/>
<path fill="#d8d8e0" d="M501 519l8 6 5 1-8-5z"/>
<path fill="#e08888" stroke="#e08888" stroke-opacity="1" stroke-width="0.5" d="M184 305l1-13 3 4-2 13z"/>
<path fill="#e09090" stroke="#e09090" stroke-opacity="1" stroke-width="0.5" d="M386 327l4-14 1 13-3 12zM186 309l2-13 3 3-2 15zM189 314l2-15 2 4-1 15z"/>
<path fill="#e09898" stroke="#e09898" stroke-opacity="1" stroke-width="0.5" d="M383 340l3-13 2 11-3 11zM388 338l3-12 2 13-3 9zM182 318l2-13 2 4-1 14zM185 323l1-14 3 5-1 14zM188 328l1-14 3 4-1 14z"/>
<path fill="#e09898" d="M202 317l7 6 8 7-7 3z"/>
<path fill="#e0a0a0" stroke="#e0a0a0" stroke-opacity="1" stroke-width="0.5" d="M380 354l3-14 2 9-3 11zM385 349l3-11 2 10-3 9zM390 348l3-9 2 13-3 7zM181 331l1-13 3 5-1 13zM184 336l1-13 3 5-1 14z"/>
<path fill="#e0a0a0" d="M209 323l8-4 9 42-9-31z"/>
<path fill="#e0a8a8" stroke="#e0a8a8" stroke-opacity="1" stroke-width="0.5" d="M382 360l3-11 2 8-3 9zM387 357l3-9 2 11-3 6zM187 342l1-14 3 4-2 15z"/>
<path fill="#e0a8a8" d="M344 384l9-25 6 8-8-9zM359 367l8 5 7-38-9 43z"/>
<path fill="#e0b0b0" stroke="#e0b0b0" stroke-opacity="1" stroke-width="0.5" d="M384 366l3-9 2 8-3 6z"/>
<path fill="#e0b0b0" d="M339 410l8-33 7 8-8 24z"/>
<path fill="#e0c0c0" d="M364 458l8 6 7-39-9 37z"/>
<path fill="#e0c0c8" d="M357 464l9-15 6 15-8-6z"/>
<path fill="#e0c8c8" d="M335 461l8-12 6 16-7-11zM253 427l9 37 7-9-7 17zM343 449l8 10 6 5-8 1z"/>
<path fill="#e0d0d8" d="M278 480l7 2 8 16-8-20zM448 485l8 10 6 4-9-4z"/>
<path fill="#e0d8e0" d="M295 518l8 19 6-16-7 11zM302 532l7-11 7-20-8-4z"/>
<path fill="#e8b0b0" d="M123 368l7-1 9 10-7-8zM405 348l7 32 6 8-8-12z"/>
<path fill="#e8d0d8" d="M440 472l8 13 5 10-7-17z"/>
<path fill="#e8d8e0" stroke="#e8d8e0" stroke-opacity="1" stroke-width="0.5" d="M400 479l1 25 3-10-2-19zM402 475l2 19 2-10-2-12z"/>
<path fill="#e8e0e8" d="M493 507l8 12 5 2-7-16z"/>
<path fill="#f0a0a0" d="M193 303l9 14 8 16-9-28z"/>
<path fill="#f0b8b8" d="M243 387l7-4 7-5-8-7z"/>
<path fill="#f0c0c0" stroke="#f0c0c0" stroke-opacity="1" stroke-width="0.5" d="M358 428l3-4 2-23-3 14z"/>
<path fill="#f0c0c0" d="M250 383l8 14 7 8-8-27z"/>
<path fill="#f0c8c8" stroke="#f0c8c8" stroke-opacity="1" stroke-width="0.5" d="M348 423l3 15 2-3-3-6zM353 435l3 5 2-12-3 3zM355 431l3-3 2-13-3 13zM356 440l2 6 3-22-3 4zM396 427l2 26 2 3-2-19z"/>
<path fill="#f0c8d0" stroke="#f0c8d0" stroke-opacity="1" stroke-width="0.5" d="M350 429l3 6 2-4-2 4z"/>
<path fill="#f0d0d0" stroke="#f0d0d0" stroke-opacity="1" stroke-width="0.5" d="M353 435l2-4 2-3-2 13zM351 438l2 15 3-13-3-5zM398 437l2 19 2 3-2-13zM400 446l2 13 2 3-3-6z"/>
<path fill="#f0d0d8" stroke="#f0d0d8" stroke-opacity="1" stroke-width="0.5" d="M353 453l3 14 2-21-2-6z"/>
<path fill="#f0d8d8" stroke="#f0d8d8" stroke-opacity="1" stroke-width="0.5" d="M398 453l2 26 2-4-2-19zM400 456l2 19 2-3-2-13zM402 459l2 13 2-4-2-6zM404 472l2 12 3-10-3-6z"/>
<path fill="#f0d8d8" d="M328 458l8 39 7-48-8 12z"/>
<path fill="#f0e0e0" d="M270 483l8-3 7-2-8-10z"/>
<path fill="#f0e0e8" d="M279 505l8 16 7-7-9-32z"/>
<path fill="#f0e8f0" d="M456 495l7 23 8-20-9 1z"/>
<path fill="#f8b8b8" d="M176 383l8 4 7-8-11-40z"/>
<path fill="#f8c0c0" d="M234 370l9 17 6-16-8-13z"/>
<path fill="#f8c8c8" d="M406 397l8 3 5 10-7-30zM400 422l8 13 6 4-7-20z"/>
<path fill="#f8d0d0" d="M252 426l10 46 5-42-8-11zM407 419l7 20 6 1-6-40z"/>
<path fill="#f8d8d8" d="M401 456l8 18 7-14-8-25z"/>
<path fill="#f8e0e0" d="M262 464l8 19 7-15-8-13z"/>
<path fill="#d0d0d8" d="M311 561l8-36 6-6-7 26z"/>
<path fill="#d8c8d0" d="M420 470l7 21 6 4-9 15zM272 497l7 3 8 21-8-16zM279 500l9 16 7 2-8 3z"/>
<path fill="#d8d0d8" d="M496 508l8 10 5 7-8-6z"/>
<path fill="#d8d8e0" d="M296 524l8 18 7 19-8-24z"/>
<path fill="#e09898" d="M158 331l5-28 8 6-5 26z"/>
<path fill="#e0a0a0" d="M136 340l7-8 7-2-4 28zM353 359l8-5 6 18-8-5zM397 338l8 10 5 28-7-21zM218 338l7-1 9 33-7 6z"/>
<path fill="#e0a8a8" stroke="#e0a8a8" stroke-opacity="1" stroke-width="0.5" d="M379 383l2 12 2 13-3-6z"/>
<path fill="#e0a8a8" d="M102 378l5-11 10 17-6 4zM234 363l9 19 7 1-7 4zM130 367l7 3 7-13-5 20zM117 384l4-26 9 9-7 1zM184 387l6-12 5-33-4 37zM225 337l9 26 9 24-9-17z"/>
<path fill="#e0b0b0" stroke="#e0b0b0" stroke-opacity="1" stroke-width="0.5" d="M380 402l3 6 2 13-3-1zM381 395l3 11 1 9-2-7zM384 406l2 12 2 3-3-6z"/>
<path fill="#e0b0b0" d="M355 441l8-40 7-2-8-4z"/>
<path fill="#e0b8b8" stroke="#e0b8b8" stroke-opacity="1" stroke-width="0.5" d="M383 408l2 7 2 8-2-2zM385 415l3 6 2 4-3-2zM387 423l3 2 2 3-3 3z"/>
<path fill="#e0b8b8" d="M386 418l8 6 6-2-8 6z"/>
<path fill="#e0c0c0" stroke="#e0c0c0" stroke-opacity="1" stroke-width="0.5" d="M382 420l3 1 1 13-3 3zM385 421l2 2 2 8-3 3z"/>
<path fill="#e0c8c8" d="M381 491l9-17 6 3-8 4zM248 474l8 6 6-21-6 35zM433 495l10-22 5 12-8-13z"/>
<path fill="#e0c8d0" d="M262 459l9 24 7-3-8 3z"/>
<path fill="#e0d0d0" d="M316 501l8-9 7 16-8-16z"/>
<path fill="#e0d0d8" d="M487 508l9 0 5 11-8-12zM450 499l9 0 4 19-7-23z"/>
<path fill="#e0d8d8" d="M463 518l10-9 6-4-8-7z"/>
<path fill="#e0d8e0" d="M288 516l8 8 7 13-8-19z"/>
<path fill="#e8b0b0" stroke="#e8b0b0" stroke-opacity="1" stroke-width="0.5" d="M376 410l2 3 3-18-2-12z"/>
<path fill="#e8b0b0" d="M346 409l8-24 7-31-8 5z"/>
<path fill="#e8b8b8" stroke="#e8b8b8" stroke-opacity="1" stroke-width="0.5" d="M378 413l3 4 3-11-3-11zM381 417l3 3 2-2-2-12z"/>
<path fill="#e8c0c0" stroke="#e8c0c0" stroke-opacity="1" stroke-width="0.5" d="M373 436l3-4 2-19-2-3zM376 432l3-5 2-10-3-4zM376 438l3-13 3-2-3 4zM379 427l3-4 2-3-3-3z"/>
<path fill="#e8c0c0" d="M245 429l8-2 9 45-10-46z"/>
<path fill="#e8c8c8" stroke="#e8c8c8" stroke-opacity="1" stroke-width="0.5" d="M383 437l3-3 3-22-3 0zM373 450l3-12 3-11-3 5z"/>
<path fill="#e8c8d0" stroke="#e8c8d0" stroke-opacity="1" stroke-width="0.5" d="M370 462l3-12 3-18-3 4z"/>
<path fill="#e8c8d0" d="M336 497l8-24 7-14-8-10z"/>
<path fill="#e8d0d0" d="M351 459l8 14 7-24-9 15z"/>
<path fill="#e8d8e0" d="M479 505l8 3 6-1-8-5zM331 508l8 9 7-27-9 11zM309 521l9 24 6-53-8 9z"/>
<path fill="#e8e0e0" stroke="#e8e0e0" stroke-opacity="1" stroke-width="0.5" d="M398 479l2 16 1 9-1-25z"/>
<path fill="#f0a8a8" stroke="#f0a8a8" stroke-opacity="1" stroke-width="0.5" d="M389 386l3 3 3-23-3-6z"/>
<path fill="#f0a8a8" d="M132 369l7 8 4-45-7 8zM211 347l7-9 9 38-10-57z"/>
<path fill="#f0b0b0" stroke="#f0b0b0" stroke-opacity="1" stroke-width="0.5" d="M392 389l3 3 2-21-2-5zM395 392l2 2 3-17-3-6z"/>
<path fill="#f0b8b8" stroke="#f0b8b8" stroke-opacity="1" stroke-width="0.5" d="M386 412l3 0 3-23-3-3zM389 412l3 0 3-20-3-3zM392 412l3-1 2-17-2-2z"/>
<path fill="#f0b8b8" d="M167 365l10 27 7-5-8-4z"/>
<path fill="#f0c0c0" stroke="#f0c0c0" stroke-opacity="1" stroke-width="0.5" d="M389 431l3-3 3-17-3 1zM363 401l3 21 2-9-2-12zM368 413l3 12 2-18-3-4z"/>
<path fill="#f0c8c8" stroke="#f0c8c8" stroke-opacity="1" stroke-width="0.5" d="M386 434l3-3 3-19-3 0zM366 422l2 20 3-17-3-12zM371 425l2 11 3-26-3-3z"/>
<path fill="#f0c8c8" d="M244 405l8 21 7-7-7-4z"/>
<path fill="#f0d0d0" stroke="#f0d0d0" stroke-opacity="1" stroke-width="0.5" d="M368 442l2 20 3-26-2-11z"/>
<path fill="#f0d8d8" stroke="#f0d8d8" stroke-opacity="1" stroke-width="0.5" d="M388 481l3-1 2-9-2-8zM391 480l3-2 2 1-3-8zM393 471l3 8 2 0-2-17zM396 462l2 17 2 0-2-26z"/>
<path fill="#f0d8d8" d="M374 456l7 35 7-10-7-28z"/>
<path fill="#f0d8e0" stroke="#f0d8e0" stroke-opacity="1" stroke-width="0.5" d="M394 478l2-1 2 9-2-7z"/>
<path fill="#f0e0e0" stroke="#f0e0e0" stroke-opacity="1" stroke-width="0.5" d="M396 479l2 7 2 9-2-16z"/>
<path fill="#f0e0e0" d="M264 498l8-1 7 8-8-22z"/>
<path fill="#f0e0e8" d="M473 509l8 9 6-10-8-3z"/>
<path fill="#f8b0b0" d="M160 365l7 0 9 18-10-41z"/>
<path fill="#f8b8b8" stroke="#f8b8b8" stroke-opacity="1" stroke-width="0.5" d="M347 377l3 22 2-4-3-15zM349 380l3 15 2-3-2-10zM352 382l2 10 2-4-2-3zM368 400l2 3 3-9-3 5zM370 403l3 4 3-19-3 6zM373 407l3 3 3-27-3 5z"/>
<path fill="#f8c0c0" stroke="#f8c0c0" stroke-opacity="1" stroke-width="0.5" d="M352 395l2 16 3-10-3-9zM354 392l3 9 2-9-3-4zM357 401l2 10 3-16-3-3zM366 401l2 12 2-10-2-3z"/>
<path fill="#f8c0c0" d="M243 382l9 33 6-18-8-14zM400 377l7 42 7-19-8-3z"/>
<path fill="#f8c8c8" stroke="#f8c8c8" stroke-opacity="1" stroke-width="0.5" d="M350 399l2 21 2-9-2-16zM354 411l3 15 2-15-2-10z"/>
<path fill="#f8c8c8" d="M392 428l8-6 7-3-7-42z"/>
<path fill="#f8d0d0" stroke="#f8d0d0" stroke-opacity="1" stroke-width="0.5" d="M391 463l2 8 3-9-3-17zM393 445l3 17 2-9-2-26zM352 420l3 21 2-15-3-15z"/>
<path fill="#f8d0d0" d="M394 424l7 32 7-21-8-13zM246 432l10 62 6-30-9-37z"/>
<path fill="#f8e0e8" d="M271 483l8 22 6-23-7-2z"/>
<path fill="#ffc8c8" d="M237 410l7-5 8 10-9-33z"/>
<path fill="#d0d0d8" d="M304 542l8-3 7-14-8 36z"/>
<path fill="#d8c8d0" d="M324 492l8 3 7 22-8-9zM459 499l9-3 5 13-10 9z"/>
<path fill="#e09090" d="M171 309l7-5 7-12-4 39zM150 330l7-6 6-21-5 28z"/>
<path fill="#e09898" d="M390 313l7 25 6 17-8-3z"/>
<path fill="#e0a0a0" d="M191 379l4-37 8 5-7 5zM361 354l8 14 7-23-9 27z"/>
<path fill="#e0a8a8" d="M177 392l5-22 8 5-6 12zM169 397l7-5 6-22-5 22zM228 389l8 1 8 15-7 5z"/>
<path fill="#e0c0c0" d="M366 449l8 7 7-3-9 11zM344 473l9-23 6 23-8-14z"/>
<path fill="#e0c0c8" d="M390 474l9-9 5 38-8-26z"/>
<path fill="#e0c8c8" d="M404 503l10-38 6 5-10 22zM337 501l9-11 7-40-9 23zM427 491l9-7 7-11-10 22z"/>
<path fill="#e0d0d0" d="M318 545l7-26 7-24-8-3zM481 518l9-7 6-3-9 0z"/>
<path fill="#e8a0a0" d="M203 347l8 6 7-15-7 9z"/>
<path fill="#e8a8a8" d="M139 377l5-20 7-17-8-8zM392 360l8 17 6 20-8-30z"/>
<path fill="#e8b0b0" stroke="#e8b0b0" stroke-opacity="1" stroke-width="0.5" d="M370 399l3-5 2 1-3-3zM372 392l3 3 2 2-2-12zM375 385l2 12 2 1-2-20zM373 394l3-6 2 10-3-3zM376 388l3-5 1 19-2-4z"/>
<path fill="#e8b8b8" stroke="#e8b8b8" stroke-opacity="1" stroke-width="0.5" d="M375 395l3 3 1 10-2-11zM377 397l2 11 2 10-2-20zM378 398l2 4 2 18-3-12z"/>
<path fill="#e8b8b8" d="M238 436l8-4 7-5-8 2zM139 403l9 24 5-35-4 29z"/>
<path fill="#e8c0c0" stroke="#e8c0c0" stroke-opacity="1" stroke-width="0.5" d="M379 408l3 12 1 17-2-19z"/>
<path fill="#e8c0c0" d="M372 464l9-11 7-41-9 13zM223 432l8 7 7-3-7 1z"/>
<path fill="#e8c8c8" d="M376 467l7 25 7-18-9 17z"/>
<path fill="#e8d8d8" d="M443 473l7 26 6-4-8-10zM370 524l8-9 7-2-8-10z"/>
<path fill="#e8e0e8" d="M274 542l8-2 7 8-8-19zM477 530l7 28 7-20-9 8z"/>
<path fill="#f09898" d="M185 292l9 27 8-2-9-14z"/>
<path fill="#f0b0b0" stroke="#f0b0b0" stroke-opacity="1" stroke-width="0.5" d="M379 374l3 13 2-12-3-5zM381 370l3 5 2-11-2 2zM384 375l3 6 2-19-3 2zM387 381l2 5 3-26-3 2z"/>
<path fill="#f0b8b8" stroke="#f0b8b8" stroke-opacity="1" stroke-width="0.5" d="M377 378l2 20 3-11-3-13zM382 387l2 13 3-19-3-6z"/>
<path fill="#f0b8b8" d="M221 392l7-3 9 21-9-31z"/>
<path fill="#f0c0c0" stroke="#f0c0c0" stroke-opacity="1" stroke-width="0.5" d="M379 398l2 20 3-18-2-13zM384 400l2 12 3-26-2-5z"/>
<path fill="#f0c0c0" d="M236 390l9 39 7-3-8-21z"/>
<path fill="#f0c8c8" stroke="#f0c8c8" stroke-opacity="1" stroke-width="0.5" d="M381 418l2 19 3-25-2-12z"/>
<path fill="#f0d0d0" d="M239 446l9 28 8 20-10-62zM217 459l9 17 8 7-9-22z"/>
<path fill="#f0d8e0" d="M362 516l8 8 7-21-8-23z"/>
<path fill="#f0e0e8" d="M281 529l8 19 7-24-8-8zM490 511l6 33 8-26-8-10zM273 521l8 8 7-13-9-16z"/>
<path fill="#f0e8f0" d="M482 546l9-8 5 6-6-33zM266 529l8 13 7-13-8-8z"/>
<path fill="#f8a8a8" d="M151 340l9 25 6-23-9-18z"/>
<path fill="#f8b0b0" d="M180 339l11 40 5-27-9-33zM354 385l8 10 7-27-8-14z"/>
<path fill="#f8b8b8" d="M398 367l8 30 6-17-7-32zM228 379l9 31 6-28-9-19zM159 366l10 31 8-5-10-27zM362 395l8 4 7-21-8-10zM182 370l11 44 5-29-8-10z"/>
<path fill="#f8c8c8" d="M231 437l7-1 7-7-9-39z"/>
<path fill="#f8d0d0" d="M225 461l9 22 5-37-8-7z"/>
<path fill="#f8d8e0" d="M256 480l8 18 7-15-9-24z"/>
<path fill="#ffc0c0" d="M134 421l5-18 10 18-12-47z"/>
<path fill="#d0c8d0" d="M305 559l8-22 7 13-8-11z"/>
<path fill="#d8c8d0" d="M289 548l7-36 8 30-8-18z"/>
<path fill="#d8d0d8" stroke="#d8d0d8" stroke-opacity="1" stroke-width="0.5" d="M365 514l2 8 3 2-3-3z"/>
<path fill="#e09090" d="M194 319l6-27 9 31-7-6z"/>
<path fill="#e09898" d="M367 372l9-27 7-19-9 8zM374 334l9-8 7-13-10 41z"/>
<path fill="#e0a0a0" d="M107 367l7-3 7-6-4 26zM121 358l7 2 9 10-7-3zM193 414l4-41 7-12-6 24z"/>
<path fill="#e0a8a8" d="M161 393l6-14 9 13-7 5zM183 392l8 3 6-22-4 41z"/>
<path fill="#e0b0b0" d="M379 425l9-13 6 12-8-6z"/>
<path fill="#e0c0c0" d="M359 473l9-22 6 5-8-7zM239 448l8 11 9 21-8-6z"/>
<path fill="#e0c8c8" stroke="#e0c8c8" stroke-opacity="1" stroke-width="0.5" d="M358 482l2 13 2 12-2-8z"/>
<path fill="#e0c8c8" d="M256 487l8 8 8 2-8 1zM332 495l8 15 7-27-8 34zM468 496l9-4 4 26-8-9z"/>
<path fill="#e0c8d0" stroke="#e0c8d0" stroke-opacity="1" stroke-width="0.5" d="M360 495l3 12 2 7-3-7zM361 499l2 17 2 3-2-12z"/>
<path fill="#e0c8d0" d="M423 497l8 12 6 9-8-6z"/>
<path fill="#e0d0d0" stroke="#e0d0d0" stroke-opacity="1" stroke-width="0.5" d="M360 499l2 8 2 12-2-3zM362 507l3 7 2 7-3-2zM363 507l2 12 2 3-2-8z"/>
<path fill="#e0d8e0" d="M296 512l9 47 7-20-8 3z"/>
<path fill="#e8a0a0" d="M150 343l9 23 8-1-7 0zM137 370l8 0 5-27-6 14z"/>
<path fill="#e8b0b0" d="M149 421l4-29 8 1-9-17z"/>
<path fill="#e8b8b8" d="M388 412l8 15 5 29-7-32zM171 430l6-11 8 0-8-4z"/>
<path fill="#e8c0c0" stroke="#e8c0c0" stroke-opacity="1" stroke-width="0.5" d="M356 465l2 17 2 13-2-13z"/>
<path fill="#e8c0c0" d="M234 483l5-35 9 26-9-28z"/>
<path fill="#e8c8c8" stroke="#e8c8c8" stroke-opacity="1" stroke-width="0.5" d="M358 482l3 17 2 8-3-12z"/>
<path fill="#e8c8c8" d="M368 451l8 16 5 24-7-35zM247 459l9 28 8 11-8-18zM383 492l9-4 7-23-9 9z"/>
<path fill="#e8c8d0" d="M399 465l7 41 8-41-10 38z"/>
<path fill="#e8d0d0" d="M445 491l8 11 6-3-9 0z"/>
<path fill="#e8d0d8" d="M415 502l8-5 6 15-8-22z"/>
<path fill="#f09898" d="M187 319l9 33 4-60-6 27z"/>
<path fill="#f0a0a0" d="M143 332l8 8 6-16-7 6zM144 357l6-14 10 22-9-25zM200 292l11 55 6-28-8 4z"/>
<path fill="#f0a8a8" d="M128 360l9 14 8-4-8 0z"/>
<path fill="#f0b8b8" d="M213 390l10 42 8 5-9-31zM148 427l5-28 11 34-11-41z"/>
<path fill="#f0c0c0" d="M214 406l11 55 6-22-8-7z"/>
<path fill="#f0c8c8" d="M381 453l7 28 8-54-8-15zM231 439l8 7 7-14-8 4zM196 470l6-9 7-15-9-23z"/>
<path fill="#f0d0d0" d="M414 465l7 25 6 1-7-21z"/>
<path fill="#f0d8d8" d="M197 489l7 3 7-16-9-15zM377 503l8 10 7-25-9 4zM429 512l8 6 8-27-9-7zM436 484l9 7 5 8-7-26zM406 506l9-4 6-12-7-25zM437 518l9-1 7-15-8-11z"/>
<path fill="#f0e0e0" d="M477 492l5 54 8-35-9 7zM257 501l9 28 7-8-9-26z"/>
<path fill="#f0e0e8" d="M312 539l8 11 7-17-8-8z"/>
<path fill="#f89090" stroke="#f89090" stroke-opacity="1" stroke-width="0.5" d="M168 302l3 18 2-18-4-20z"/>
<path fill="#f89898" stroke="#f89898" stroke-opacity="1" stroke-width="0.5" d="M167 322l3 16 1-18-3-18zM171 320l4 17 2-16-4-19z"/>
<path fill="#f8a0a0" d="M178 304l9 15 7 0-9-27z"/>
<path fill="#f8a8a8" stroke="#f8a8a8" stroke-opacity="1" stroke-width="0.5" d="M166 342l3 14 1-18-3-16zM170 338l4 15 1-16-4-17zM175 337l4 17 1-15-3-18z"/>
<path fill="#f8a8a8" d="M196 352l7-5 8 0-11-55zM391 334l7 33 7-19-8-10z"/>
<path fill="#f8b0b0" stroke="#f8b0b0" stroke-opacity="1" stroke-width="0.5" d="M169 356l4 13 1-16-4-15zM174 353l4 15 1-14-4-17z"/>
<path fill="#f8b0b0" d="M369 368l8 10 7-12-8-21zM218 350l10 29 6-16-9-26z"/>
<path fill="#f8b8b8" stroke="#f8b8b8" stroke-opacity="1" stroke-width="0.5" d="M173 369l3 14 2-15-4-15z"/>
<path fill="#f8b8b8" d="M176 392l7 0 10 22-11-44zM137 374l12 47 3-45-7-6zM152 376l9 17 8 4-10-31zM214 399l8 7 6-17-7 3zM222 406l9 31 5-47-8-1zM123 383l11 38 3-47-9-14zM153 392l11 41 3-54-6 14z"/>
<path fill="#f8c0c0" d="M164 433l7-3 6-15-10-36z"/>
<path fill="#f8d0d0" d="M202 461l9 15 6-17-8-13z"/>
<path fill="#f8d8d8" d="M369 480l8 23 6-11-7-25zM211 476l7-4 8 4-9-17z"/>
<path fill="#f8e0e0" d="M421 490l8 22 7-28-9 7zM453 502l7 16 8-22-9 3z"/>
<path fill="#f8e0e8" d="M264 495l9 26 6-21-7-3z"/>
<path fill="#ffb0b0" d="M384 366l8-6 6 7-7-33z"/>
<path fill="#ffd0d0" d="M184 419l12 51 4-47-6 25z"/>
<path fill="#ffd8d8" d="M187 457l10 32 5-28-6 9z"/>
<path fill="#d8c8c8" stroke="#d8c8c8" stroke-opacity="1" stroke-width="0.5" d="M341 508l3-12 2-11-3 14z"/>
<path fill="#d8c8c8" d="M363 516l9-12 6 11-8 9z"/>
<path fill="#d8c8d0" stroke="#d8c8d0" stroke-opacity="1" stroke-width="0.5" d="M339 517l3-11 2-10-3 12z"/>
<path fill="#d8c8d0" d="M267 538l8-4 7 6-8 2z"/>
<path fill="#d8d0d8" stroke="#d8d0d8" stroke-opacity="1" stroke-width="0.5" d="M434 561l4-14 2-12-3 7z"/>
<path fill="#d8d8e0" stroke="#d8d8e0" stroke-opacity="1" stroke-width="0.5" d="M430 574l4-13 3-19-3 8z"/>
<path fill="#e08888" d="M163 303l6-21 9 22-7 5z"/>
<path fill="#e09898" d="M195 342l7-14 9 25-8-6z"/>
<path fill="#e0a8a8" d="M206 392l7-2 9 16-8-7z"/>
<path fill="#e0b0b0" stroke="#e0b0b0" stroke-opacity="1" stroke-width="0.5" d="M349 470l3-15 2-14-3 17zM228 456l3-22 4 7-3 20z"/>
<path fill="#e0b0b0" d="M153 399l9 17 9 14-7 3zM162 416l7 2 8 1-6 11z"/>
<path fill="#e0b8b8" stroke="#e0b8b8" stroke-opacity="1" stroke-width="0.5" d="M347 483l3-14 2-14-3 15zM232 461l3-20 4 7-3 18z"/>
<path fill="#e0b8b8" d="M353 450l8 15 7-14-9 22z"/>
<path fill="#e0c0c0" stroke="#e0c0c0" stroke-opacity="1" stroke-width="0.5" d="M344 496l3-13 2-13-3 15zM346 485l3-15 2-12-3 16zM344 495l3-12 3-14-3 14zM226 476l2-20 4 5-2 19zM230 480l2-19 4 5-2 17z"/>
<path fill="#e0c0c0" d="M204 492l7-12 7-8-7 4zM385 513l9-14 7-35-9 24z"/>
<path fill="#e0c8c8" stroke="#e0c8c8" stroke-opacity="1" stroke-width="0.5" d="M343 499l3-14 2-11-2 16zM342 506l2-11 3-12-3 13z"/>
<path fill="#e0c8c8" d="M408 514l9-10 6-7-8 5zM446 517l10-19 4 20-7-16zM431 509l10-11 5 19-9 1z"/>
<path fill="#e0c8d0" stroke="#e0c8d0" stroke-opacity="1" stroke-width="0.5" d="M443 524l3-1 2-4-2-7z"/>
<path fill="#e0c8d0" d="M251 516l7-14 8 27-9-28z"/>
<path fill="#e0d0d0" stroke="#e0d0d0" stroke-opacity="1" stroke-width="0.5" d="M437 542l3-7 3-11-3 0zM438 547l4-15 2-4-4 7zM440 535l4-7 2-5-3 1z"/>
<path fill="#e0d0d8" stroke="#e0d0d8" stroke-opacity="1" stroke-width="0.5" d="M434 550l3-8 3-18-3 0z"/>
<path fill="#e0d0d8" d="M258 502l9 36 7 4-8-13z"/>
<path fill="#e0e0f0" stroke="#e0e0f0" stroke-opacity="1" stroke-width="0.5" d="M429 554l1 20 4-24-2-14z"/>
<path fill="#e8a0a0" d="M190 375l8 10 4-57-7 14z"/>
<path fill="#e8b8b8" d="M177 419l7 0 10 29-9-29zM194 448l6-25 7-12-9-18z"/>
<path fill="#e8c0c8" d="M392 488l9-24 5 42-7-41z"/>
<path fill="#e8c8c8" stroke="#e8c8c8" stroke-opacity="1" stroke-width="0.5" d="M437 524l3 0 3-19-2-7z"/>
<path fill="#e8c8d0" stroke="#e8c8d0" stroke-opacity="1" stroke-width="0.5" d="M440 524l3 0 3-12-3-7z"/>
<path fill="#e8d0d0" d="M401 464l7 50 7-12-9 4z"/>
<path fill="#e8d0d8" d="M319 525l8 8 6-25-8 11zM244 536l8 12 6-46-7 14z"/>
<path fill="#e8d8d8" d="M471 494l6 36 5 16-5-54z"/>
<path fill="#e8d8e0" stroke="#e8d8e0" stroke-opacity="1" stroke-width="0.5" d="M432 536l2 14 3-26-2-5z"/>
<path fill="#e8e0e8" stroke="#e8e0e8" stroke-opacity="1" stroke-width="0.5" d="M427 532l2 22 3-18-3-13z"/>
<path fill="#f09090" d="M157 324l9 18 3-60-6 21z"/>
<path fill="#f09898" d="M169 282l11 57 7-20-9-15z"/>
<path fill="#f0a0a0" d="M211 353l7-3 7-13-7 1z"/>
<path fill="#f0a8a8" d="M210 336l11 56 7-13-10-29z"/>
<path fill="#f0b8b8" d="M177 415l8 4 6-24-8-3zM185 419l9 29 4-55-7 2z"/>
<path fill="#f0c8c8" stroke="#f0c8c8" stroke-opacity="1" stroke-width="0.5" d="M357 449l2 19 2 1-2-12zM359 457l2 12 2 1-2-5z"/>
<path fill="#f0d0d0" stroke="#f0d0d0" stroke-opacity="1" stroke-width="0.5" d="M357 466l2 25 3-5-3-18zM359 468l3 18 2-5-3-12zM361 469l3 12 2-6-3-5zM364 481l2 11 3-12-3-5z"/>
<path fill="#f0d0d0" d="M221 516l6-16 7-8-9-23z"/>
<path fill="#f0d8d8" stroke="#f0d8d8" stroke-opacity="1" stroke-width="0.5" d="M425 510l2 22 2-9-2-13zM427 510l2 13 3-9-3-5zM429 509l3 5 3-9-4 4zM432 514l3 5 3-18-3 4zM435 519l2 5 4-26-3 3zM359 491l3 25 2-12-2-18zM362 486l2 18 2-12-2-11z"/>
<path fill="#f0d8d8" d="M325 519l8-11 7 2-8-15z"/>
<path fill="#f0d8e0" stroke="#f0d8e0" stroke-opacity="1" stroke-width="0.5" d="M429 523l3 13 3-17-3-5z"/>
<path fill="#f8a0a0" d="M383 326l8 8 6 4-7-25z"/>
<path fill="#f8a8a8" d="M376 345l8 21 7-32-8-8z"/>
<path fill="#f8b0b0" d="M145 370l7 6 7-10-9-23zM204 361l10 38 7-7-11-56zM197 373l9 19 8 7-10-38z"/>
<path fill="#f8b8b8" d="M167 379l10 36 6-23-7 0z"/>
<path fill="#f8c0c0" stroke="#f8c0c0" stroke-opacity="1" stroke-width="0.5" d="M354 441l3 25 2 2-2-19z"/>
<path fill="#f8c8c8" d="M179 449l8 8 9 13-12-51zM209 446l8 13 8 2-11-55z"/>
<path fill="#f8d0d0" d="M361 465l8 15 7-13-8-16zM211 480l10 36 4-47-7 3z"/>
<path fill="#f8d0d8" d="M241 475l8 20 7-8-9-28z"/>
<path fill="#f8e0e0" d="M249 495l8 6 7-6-8-8zM242 496l9 20 6-15-8-6z"/>
<path fill="#ffb0b0" d="M114 364l9 19 5-23-7-2z"/>
<path fill="#d0c8d0" stroke="#d0c8d0" stroke-opacity="1" stroke-width="0.5" d="M433 546l3-8 2 9-4 14z"/>
<path fill="#d0d0d8" stroke="#d0d0d8" stroke-opacity="1" stroke-width="0.5" d="M429 554l4-8 1 15-4 13z"/>
<path fill="#d8c8c8" stroke="#d8c8c8" stroke-opacity="1" stroke-width="0.5" d="M435 530l3-2 2 2-4 8z"/>
<path fill="#d8c8c8" d="M282 540l7-32 7 4-7 36z"/>
<path fill="#d8c8d0" stroke="#d8c8d0" stroke-opacity="1" stroke-width="0.5" d="M429 534l3-2 1 14-4 8zM432 532l3-2 1 8-3 8zM436 538l4-8 2 2-4 15z"/>
<path fill="#d8c8d0" d="M298 569l8-41 7 9-8 22zM320 550l8-21 7-7-8 11zM291 562l8-11 7-23-8 41z"/>
<path fill="#d8d0d8" stroke="#d8d0d8" stroke-opacity="1" stroke-width="0.5" d="M425 528l2 13 2 13-2-22z"/>
<path fill="#d8d8e0" stroke="#d8d8e0" stroke-opacity="1" stroke-width="0.5" d="M427 541l2 13 1 20-1-20z"/>
<path fill="#e09090" d="M202 328l8 8 8 14-7 3z"/>
<path fill="#e0b8b8" d="M346 490l8-49 7 24-8-15zM218 472l7-3 6-35-5 42z"/>
<path fill="#e0c0c0" d="M460 518l11-24 6-2-9 4zM456 498l8 13 7-17-11 24z"/>
<path fill="#e0c0c8" d="M378 515l10-32 6 16-9 14z"/>
<path fill="#e0c8c8" stroke="#e0c8c8" stroke-opacity="1" stroke-width="0.5" d="M425 516l3-4 1 22-3-5zM428 512l2 5 2 15-3 2zM430 517l3 5 2 8-3 2zM433 522l3 4 2 2-3 2z"/>
<path fill="#e0c8c8" d="M403 484l7 27 7-7-9 10z"/>
<path fill="#e0c8d0" stroke="#e0c8d0" stroke-opacity="1" stroke-width="0.5" d="M418 524l3-4 2 4-2-5zM421 519l2 5 2 4-2-13zM421 520l4-4 1 13-3-5z"/>
<path fill="#e0c8d0" d="M473 510l8 12 3 36-7-28z"/>
<path fill="#e0d0d0" stroke="#e0d0d0" stroke-opacity="1" stroke-width="0.5" d="M423 515l2 13 2 4-2-22zM423 524l3 5 1 12-2-13z"/>
<path fill="#e0d0d8" stroke="#e0d0d8" stroke-opacity="1" stroke-width="0.5" d="M426 529l3 5 0 20-2-13z"/>
<path fill="#e89898" d="M198 385l6-24 6-25-8-8z"/>
<path fill="#e8c8c8" d="M441 498l7 21 8-21-10 19z"/>
<path fill="#e8d0d8" d="M327 533l8-11 7-6-9-8z"/>
<path fill="#e8d8e0" d="M289 508l9 61 7-10-9-47zM282 532l9 30 7 7-9-61z"/>
<path fill="#f0b8b8" d="M207 411l7-5 9 26-10-42z"/>
<path fill="#f0c0c0" stroke="#f0c0c0" stroke-opacity="1" stroke-width="0.5" d="M352 455l3 15 2-4-3-25z"/>
<path fill="#f0c8c8" stroke="#f0c8c8" stroke-opacity="1" stroke-width="0.5" d="M347 483l3-6 2-3-2-5zM350 469l2 5 3-4-3-15zM350 477l3-6 2 7-3-4zM352 474l3 4 2 7-2-15zM355 470l2 15 2 6-2-25zM353 471l3-6 2 17-3-4z"/>
<path fill="#f0d0d0" stroke="#f0d0d0" stroke-opacity="1" stroke-width="0.5" d="M355 478l3 4 2 17-3-14z"/>
<path fill="#f0d0d0" d="M227 500l8-1 7-3-8-4z"/>
<path fill="#f0d8d8" stroke="#f0d8d8" stroke-opacity="1" stroke-width="0.5" d="M357 485l3 14 2 17-3-25z"/>
<path fill="#f0d8e0" d="M235 499l9 37 7-20-9-20z"/>
<path fill="#f0e0e0" d="M252 548l8-11 7 1-9-36zM442 532l6 36 9-45-9-4z"/>
<path fill="#f8b8b8" d="M200 423l9 23 5-40-7 5z"/>
<path fill="#f8c0c0" d="M169 418l10 31 5-30-7 0z"/>
<path fill="#f8d8d8" d="M417 504l8 6 6-1-8-12z"/>
<path fill="#f8e0e0" d="M410 511l8 13 7-14-8-6z"/>
<path fill="#ffb8b8" d="M191 395l7-2 8-1-9-19zM198 393l9 18 6-21-7 2z"/>
<path fill="#ffd8d8" d="M234 492l8 4 7-1-8-20z"/>
<path fill="#d8c8c8" d="M260 537l7-17 8 14-8 4zM448 568l12-37 6-4-9-4zM313 537l8-28 7 20-8 21zM445 525l7 25 8-19-12 37z"/>
<path fill="#e0b0b0" stroke="#e0b0b0" stroke-opacity="1" stroke-width="0.5" d="M344 488l3-11 2-21-3 19zM346 475l3-19 2 3-3 15zM348 474l3-15 3 3-3 10zM351 472l3-10 2 3-3 6z"/>
<path fill="#e0b8b8" stroke="#e0b8b8" stroke-opacity="1" stroke-width="0.5" d="M341 501l3-4 3-20-3 11zM343 493l3-18 2-1-3 14zM345 488l3-14 3-2-3 10zM348 482l3-10 2-1-3 6z"/>
<path fill="#e0c0c0" stroke="#e0c0c0" stroke-opacity="1" stroke-width="0.5" d="M338 505l3-4 3-13-3 11zM341 499l3-11 2-13-3 18zM339 513l3 3 2-19-3 4zM343 501l2-13 3-6-3 10zM345 492l3-10 2-5-3 6z"/>
<path fill="#e0c0c0" d="M372 504l9-18 7-3-10 32z"/>
<path fill="#e0c0c8" stroke="#e0c0c8" stroke-opacity="1" stroke-width="0.5" d="M336 511l3 2 2-12-3 4zM340 510l3-17 2-5-2 13z"/>
<path fill="#e0c8c8" stroke="#e0c8c8" stroke-opacity="1" stroke-width="0.5" d="M333 508l3 3 2-6-2 4zM336 509l2-4 3-6-3 10zM338 509l3-10 2-6-3 17z"/>
<path fill="#e0c8c8" d="M275 534l7-2 7-24-7 32z"/>
<path fill="#e0c8d0" d="M436 526l9-1 3 43-6-36z"/>
<path fill="#e0d0d8" d="M276 575l7-34 8 21-9-30z"/>
<path fill="#f0d0d0" d="M464 511l9-1 4 20-6-36z"/>
<path fill="#f0e0e0" d="M267 520l9 55 6-43-7 2z"/>
<path fill="#f8c0c0" d="M231 434l10 41 6-16-8-11z"/>
<path fill="#f8c8c8" d="M225 469l9 23 7-17-10-41z"/>
<path fill="#f8d0d0" d="M394 499l9-15 5 30-7-50z"/>
<path fill="#f8d8d8" d="M448 519l9 4 7-12-8-13z"/>
<path fill="#d8c8d0" d="M307 554l8 8 7-21-8 20z"/>
<path fill="#e0a8a8" stroke="#e0a8a8" stroke-opacity="1" stroke-width="0.5" d="M363 464l3-10 2 17-3 8z"/>
<path fill="#e0b0b0" stroke="#e0b0b0" stroke-opacity="1" stroke-width="0.5" d="M360 475l3-11 2 15-3 8z"/>
<path fill="#e0b8b8" stroke="#e0b8b8" stroke-opacity="1" stroke-width="0.5" d="M357 485l3-10 2 12-3 9zM362 487l3-8 2 15-3 6zM365 479l3-8 2 17-3 6z"/>
<path fill="#e0b8b8" d="M388 483l8-2 7 3-9 15z"/>
<path fill="#e0c0c0" stroke="#e0c0c0" stroke-opacity="1" stroke-width="0.5" d="M359 496l3-9 2 13-3 6zM364 500l3-6 2 14-3 4zM367 494l3-6 2 16-3 4z"/>
<path fill="#e0c0c0" d="M404 510l10-18 4 32-8-13zM335 522l8-20 7-16-8 30zM328 529l8-19 7-8-8 20z"/>
<path fill="#e0c8c8" stroke="#e0c8c8" stroke-opacity="1" stroke-width="0.5" d="M361 506l3-6 2 12-3 4z"/>
<path fill="#e0c8d0" d="M283 541l9 19 7-9-8 11z"/>
<path fill="#e8b8b8" stroke="#e8b8b8" stroke-opacity="1" stroke-width="0.5" d="M349 456l3 10 2 5-3-12zM351 459l3 12 2 6-2-15zM352 466l2 9 3 9-3-13z"/>
<path fill="#e8c0c0" stroke="#e8c0c0" stroke-opacity="1" stroke-width="0.5" d="M354 462l2 15 2 5-2-17zM354 471l3 13 2 8-3-15zM354 475l3 10 2 11-2-12z"/>
<path fill="#e8c8c8" stroke="#e8c8c8" stroke-opacity="1" stroke-width="0.5" d="M356 477l3 15 2 7-3-17zM357 484l2 12 2 10-2-14z"/>
<path fill="#e8c8c8" d="M414 492l6 40 8-20-10 12z"/>
<path fill="#e8d0d0" stroke="#e8d0d0" stroke-opacity="1" stroke-width="0.5" d="M359 492l2 14 2 10-2-17z"/>
<path fill="#f0c8c8" d="M396 481l8 29 6 1-7-27z"/>
<path fill="#f0d0d0" d="M457 523l9 4 7-17-9 1z"/>
<path fill="#f0d0d8" d="M306 528l8 33 7-52-8 28z"/>
<path fill="#f0d8e0" d="M292 560l8 3 7-9-8-3z"/>
<path fill="#f0e0e0" d="M299 551l8 3 7 7-8-33z"/>
<path fill="#f8d8d8" d="M466 527l9-2 6-3-8-12zM420 532l9 1 7-7-8-14z"/>
<path fill="#e0c8c8" d="M416 538l8 14 7 1-10 7z"/>
<path fill="#e8b8b8" d="M366 454l8 52 7-20-9 18z"/>
<path fill="#e8d0d8" d="M421 560l10-7 7-14-9-6z"/>
<path fill="#f0c0c0" d="M342 516l8-30 7-1-8-29z"/>
<path fill="#f0d0d8" d="M429 533l9 6 7-14-9 1z"/>
<path fill="#f0d8d8" d="M314 561l8-20 7 3-8-35zM438 539l9-1 5 12-7-25z"/>
<path fill="#f0d8e0" d="M447 538l6 44 10-54-11 22z"/>
<path fill="#f8d8d8" d="M415 518l6 42 8-27-9-1zM321 509l8 35 7-34-8 19z"/>
<path fill="#d8c8d0" d="M419 586l9-1 6-2-9 8z"/>
<path fill="#e0b0b0" stroke="#e0b0b0" stroke-opacity="1" stroke-width="0.5" d="M465 512l4-13 3-14-4 15z"/>
<path fill="#e0b0b0" d="M381 486l9-22 6 17-8 2z"/>
<path fill="#e0b8b8" stroke="#e0b8b8" stroke-opacity="1" stroke-width="0.5" d="M461 525l4-13 3-12-4 16zM459 535l4-7 3-15-4 11zM462 524l4-11 3-14-4 13z"/>
<path fill="#e0b8b8" d="M397 515l10-12 7-11-10 18z"/>
<path fill="#e0c0c0" stroke="#e0c0c0" stroke-opacity="1" stroke-width="0.5" d="M457 538l4-13 3-9-4 15zM456 543l3-8 3-11-4 10zM458 534l4-10 3-12-4 13z"/>
<path fill="#e0c0c0" d="M460 531l12-46 3 40-9 2zM329 544l9-36 7 22-9-20zM322 541l9 2 7-35-9 36z"/>
<path fill="#e0c0c8" stroke="#e0c0c8" stroke-opacity="1" stroke-width="0.5" d="M455 544l3-10 3-9-4 13z"/>
<path fill="#e0c0c8" d="M424 552l10-4 6 6-9-1z"/>
<path fill="#e0c8c8" stroke="#e0c8c8" stroke-opacity="1" stroke-width="0.5" d="M452 550l4-7 2-9-3 10z"/>
<path fill="#e0c8c8" d="M300 563l8-28 7 27-8-8zM315 562l9-15 7-4-9-2z"/>
<path fill="#e8c8c8" d="M409 510l7 28 5 22-6-42z"/>
<path fill="#e8d0d0" d="M431 553l9 1 7-16-9 1zM440 554l9-5 4 33-6-44z"/>
<path fill="#f0c0c0" d="M390 464l7 51 7-5-8-29z"/>
<path fill="#f0c8c8" d="M407 503l8 15 5 14-6-40zM336 510l9 20 7-43-9 15z"/>
<path fill="#e0b0b0" d="M374 506l9-15 7-27-9 22zM350 486l9 2 7-34-9 31z"/>
<path fill="#e0b8b8" d="M343 502l9-15 7 1-9-2z"/>
<path fill="#e0c0c0" d="M410 544l9-7 5 15-8-14z"/>
<path fill="#e8d0d0" d="M425 591l9-8 9-34-9-1z"/>
<path fill="#f0b8b8" d="M383 491l9-11 5 35-7-51zM359 488l9-20 6 38-8-52z"/>
<path fill="#f0d0d0" d="M324 547l8 17 7-31-8 10z"/>
<path fill="#f0d8d8" d="M308 535l9 39 7-27-9 15zM317 574l8-11 7 1-8-17z"/>
<path fill="#f0d8e0" d="M410 578l9 8 6 5-6-54zM404 579l8 8 7-1-9-8z"/>
<path fill="#f8d0d0" d="M331 543l8-10 7 5-8-30z"/>
<path fill="#f8d8d8" d="M419 537l6 54 9-43-10 4z"/>
<path fill="#f8d8e0" d="M395 567l9 12 6-1-7-29z"/>
<path fill="#e0b0b0" d="M368 468l8 23 7 0-9 15zM392 480l9 6 6 17-10 12zM345 530l9-52 6 23-8-14z"/>
<path fill="#e0b8b8" d="M338 508l8 30 8-60-9 52zM339 533l9 2 7-17-9 20z"/>
<path fill="#e0c0c0" d="M434 548l9 1 6 0-9 5z"/>
<path fill="#e0c8c8" d="M342 558l8 26 7-1-8 2z"/>
<path fill="#e0c8d0" d="M412 587l10-1 6-1-9 1z"/>
<path fill="#e8b8b8" d="M401 486l8 24 6 8-8-15zM352 487l8 14 8-33-9 20z"/>
<path fill="#e8c8c8" d="M325 563l8 5 7-12-8 8zM332 564l8-8 8-21-9-2zM333 568l9-10 7 27-9-29z"/>
<path fill="#f0d0d8" d="M365 557l8 25 8-35-10 19z"/>
<path fill="#f8c8c8" d="M402 509l8 35 6-6-7-28z"/>
<path fill="#f8d8d8" d="M403 549l7 29 9-41-9 7z"/>
<path fill="#f8e0e0" d="M357 583l9 3 7-4-8-25z"/>
<path fill="#f8e0e8" d="M350 584l9 26 7-24-9-3z"/>
<path fill="#e0a8a8" d="M376 491l9-14 7 3-9 11zM360 501l10-33 6 23-8-23z"/>
<path fill="#e0c0c0" d="M381 547l9-3 5 23-8-19z"/>
<path fill="#e0c8c8" d="M366 586l8 10 8-41-9 27z"/>
<path fill="#e0c8d0" d="M359 610l9-21 6 7-8-10z"/>
<path fill="#e8c8c8" d="M357 522l8 35 6 9-8-27zM390 544l8 23 6 12-9-12z"/>
<path fill="#e8c8d0" d="M398 567l8 14 6 6-8-8z"/>
<path fill="#f0c8c8" d="M371 566l10-19 6 1-8-21zM340 556l9 29 8-63-9 13z"/>
<path fill="#f0d0d0" stroke="#f0d0d0" stroke-opacity="1" stroke-width="0.5" d="M366 548l3 9 2-14-2-10zM369 557l2 9 3-13-3-10zM371 543l3 10 2-13-2-12z"/>
<path fill="#f0d0d0" d="M349 585l8-2 8-26-8-35z"/>
<path fill="#f8b8b8" stroke="#f8b8b8" stroke-opacity="1" stroke-width="0.5" d="M369 505l2 12 3-16-3-14z"/>
<path fill="#f8c0c0" stroke="#f8c0c0" stroke-opacity="1" stroke-width="0.5" d="M366 522l3 11 2-16-2-12zM371 517l3 11 3-14-3-13z"/>
<path fill="#f8c8c8" stroke="#f8c8c8" stroke-opacity="1" stroke-width="0.5" d="M363 539l3 9 3-15-3-11zM369 533l2 10 3-15-3-11zM374 528l2 12 3-13-2-13z"/>
<path fill="#f8c8c8" d="M395 524l8 25 7-5-8-35zM379 527l8 21 8-24-8-18z"/>
<path fill="#f8d0d0" d="M387 548l8 19 8-18-8-25z"/>
<path fill="#f8d8e0" d="M406 581l8 19 8-14-10 1z"/>
<path fill="#e0c0c0" d="M373 582l9-27 8-11-9 3z"/>
<path fill="#e8b8b8" d="M346 538l9-20 7-33-8-7z"/>
<path fill="#e8c0c0" d="M348 535l9-13 6 17-8-21z"/>
<path fill="#e8c8d0" d="M399 584l9 2 6 14-8-19z"/>
<path fill="#f0b0b0" d="M395 454l7 55 7 1-8-24z"/>
<path fill="#f0b8b8" d="M355 518l8 21 8-52-9-2z"/>
<path fill="#f8d0d0" d="M391 569l8 15 7-3-8-14z"/>
<path fill="#e0a0a0" d="M385 477l10-23 6 32-9-6zM370 468l9-18 6 27-9 14z"/>
<path fill="#e0a8a8" d="M354 478l8 7 8-17-10 33z"/>
<path fill="#e0b0b0" stroke="#e0b0b0" stroke-opacity="1" stroke-width="0.5" d="M379 573l3-11 3-23-4 20z"/>
<path fill="#e0b8b8" stroke="#e0b8b8" stroke-opacity="1" stroke-width="0.5" d="M375 584l4-11 2-14-3 19zM376 587l3-3 3-22-3 11z"/>
<path fill="#e0c0c0" stroke="#e0c0c0" stroke-opacity="1" stroke-width="0.5" d="M373 589l3-2 3-14-4 11z"/>
<path fill="#e0c0c8" stroke="#e0c0c8" stroke-opacity="1" stroke-width="0.5" d="M368 589l3 6 2-6-3 3zM370 592l3-3 2-5-3 10zM371 595l2 5 3-13-3 2zM373 600l3 6 3-22-3 3z"/>
<path fill="#e0c8c8" stroke="#e0c8c8" stroke-opacity="1" stroke-width="0.5" d="M372 594l3-10 3-6-4 18z"/>
<path fill="#f8b8b8" d="M387 506l8 18 7-15-7-55z"/>
<path fill="#f8d0d0" d="M382 555l9 14 7-2-8-23z"/>
<path fill="#ffd8d8" d="M393 588l8 15 7-17-9-2z"/>
<path fill="#e0b0b0" stroke="#e0b0b0" stroke-opacity="1" stroke-width="0.5" d="M381 559l4-20 2 10-3 12z"/>
<path fill="#e0b8b8" stroke="#e0b8b8" stroke-opacity="1" stroke-width="0.5" d="M380 569l3-3 2-6-3-5zM378 578l3-19 3 2-4 11zM380 572l4-11 2 1-3 4zM383 566l3-4 2 2-3-4zM384 561l3-12 2 10-3 3zM386 562l3-3 2 10-3-5z"/>
<path fill="#e0c0c0" stroke="#e0c0c0" stroke-opacity="1" stroke-width="0.5" d="M374 596l4-18 2-6-3 11zM377 583l3-11 3-6-3 3z"/>
<path fill="#e8a0a0" d="M362 485l9 2 8-37-9 18z"/>
<path fill="#f0c0c0" d="M385 539l8 49 6-4-8-15z"/>
<path fill="#f0c8c8" stroke="#f0c8c8" stroke-opacity="1" stroke-width="0.5" d="M379 584l3 2 3-15-3-9z"/>
<path fill="#f0d0d0" stroke="#f0d0d0" stroke-opacity="1" stroke-width="0.5" d="M379 600l4-6 2-7-3-1zM382 586l3 1 3-7-3-9zM383 594l3-6 2 0-3-1zM385 587l3 1 2 0-2-8zM388 580l2 8 3 0-3-16z"/>
<path fill="#f0d0d0" d="M386 588l8 17 7-2-8-15z"/>
<path fill="#f0d0d8" stroke="#f0d0d8" stroke-opacity="1" stroke-width="0.5" d="M376 606l3-6 3-14-3-2z"/>
<path fill="#f8a8a8" stroke="#f8a8a8" stroke-opacity="1" stroke-width="0.5" d="M374 475l2 15 3-10-2-18zM377 462l2 18 3-11-3-19z"/>
<path fill="#f8b0b0" stroke="#f8b0b0" stroke-opacity="1" stroke-width="0.5" d="M371 487l3 14 2-11-2-15zM379 480l3 16 2-8-2-19z"/>
<path fill="#f8b8b8" stroke="#f8b8b8" stroke-opacity="1" stroke-width="0.5" d="M374 501l3 13 2-9-3-15zM376 490l3 15 3-9-3-16zM382 496l2 17 3-7-3-18z"/>
<path fill="#f8c0c0" stroke="#f8c0c0" stroke-opacity="1" stroke-width="0.5" d="M377 514l2 13 3-7-3-15zM379 505l3 15 2-7-2-17zM382 562l3 9 3-15-3-17z"/>
<path fill="#f8c8c8" stroke="#f8c8c8" stroke-opacity="1" stroke-width="0.5" d="M385 571l3 9 2-8-2-16z"/>
<path fill="#ffb0b0" d="M379 450l8 56 8-52-10 23z"/>
</g>
<g fill="none" stroke-linecap="butt">
<path d="M112.5 467.3L392.4 650.5" stroke="#3a3a3a" stroke-width="2.2"/>
<path d="M392.4 650.5L609.7 435" stroke="#3a3a3a" stroke-width="2.2"/>
<path d="M112.5 467.3L77.2 178.7" stroke="#3a3a3a" stroke-width="2.2"/>
<path d="M112.5 467.3L105.4 472.8" stroke="#3a3a3a" stroke-width="1.8"/>
<path d="M138 484L134.1 487.1" stroke="#3a3a3a" stroke-width="1.8"/>
<path d="M163.9 501L156.9 506.6" stroke="#3a3a3a" stroke-width="1.8"/>
<path d="M190.4 518.3L186.6 521.5" stroke="#3a3a3a" stroke-width="1.8"/>
<path d="M217.5 536L210.6 541.8" stroke="#3a3a3a" stroke-width="1.8"/>
<path d="M245.1 554.1L241.3 557.3" stroke="#3a3a3a" stroke-width="1.8"/>
<path d="M273.3 572.5L266.6 578.5" stroke="#3a3a3a" stroke-width="1.8"/>
<path d="M302.1 591.4L298.4 594.8" stroke="#3a3a3a" stroke-width="1.8"/>
<path d="M331.6 610.7L325 616.8" stroke="#3a3a3a" stroke-width="1.8"/>
<path d="M361.7 630.4L358.1 633.8" stroke="#3a3a3a" stroke-width="1.8"/>
<path d="M392.4 650.5L386.1 656.9" stroke="#3a3a3a" stroke-width="1.8"/>
<path d="M392.4 650.5L400 655.4" stroke="#3a3a3a" stroke-width="1.8"/>
<path d="M416.8 626.4L421 629.1" stroke="#3a3a3a" stroke-width="1.8"/>
<path d="M440.5 602.8L448.1 607.6" stroke="#3a3a3a" stroke-width="1.8"/>
<path d="M463.6 579.9L467.8 582.6" stroke="#3a3a3a" stroke-width="1.8"/>
<path d="M486.1 557.6L493.8 562.3" stroke="#3a3a3a" stroke-width="1.8"/>
<path d="M508 535.9L512.3 538.4" stroke="#3a3a3a" stroke-width="1.8"/>
<path d="M529.3 514.7L537.1 519.2" stroke="#3a3a3a" stroke-width="1.8"/>
<path d="M550.2 494L554.5 496.5" stroke="#3a3a3a" stroke-width="1.8"/>
<path d="M570.5 473.9L578.4 478.2" stroke="#3a3a3a" stroke-width="1.8"/>
<path d="M590.3 454.2L594.7 456.6" stroke="#3a3a3a" stroke-width="1.8"/>
<path d="M609.7 435L617.6 439.2" stroke="#3a3a3a" stroke-width="1.8"/>
<path d="M112.5 467.3L105.4 472.8" stroke="#3a3a3a" stroke-width="1.8"/>
<path d="M106.3 416.3L99.1 421.6" stroke="#3a3a3a" stroke-width="1.8"/>
<path d="M99.7 362.2L92.4 367.4" stroke="#3a3a3a" stroke-width="1.8"/>
<path d="M92.6 304.7L85.2 309.8" stroke="#3a3a3a" stroke-width="1.8"/>
<path d="M85.2 243.7L77.6 248.7" stroke="#3a3a3a" stroke-width="1.8"/>
<path d="M77.2 178.7L69.6 183.5" stroke="#3a3a3a" stroke-width="1.8"/>
</g>
<g font-family="'Liberation Sans', Arial, sans-serif" fill="#1a1a1a">
<text transform="matrix(1.0289 -0.7946 0.8367 0.5476 107.3 479.7)" font-size="20.0" text-anchor="end">0</text>
<text transform="matrix(1.0878 0.7119 -0.7099 0.7043 399.2 663.1)" font-size="20.0" text-anchor="start">0</text>
<text transform="matrix(1.0111 -0.8171 0.8367 0.5476 158.9 513.6)" font-size="20.0" text-anchor="end">2</text>
<text transform="matrix(1.1016 0.6902 -0.7099 0.7043 447.4 615.2)" font-size="20.0" text-anchor="start">2</text>
<text transform="matrix(0.9918 -0.8404 0.8367 0.5476 212.6 548.9)" font-size="20.0" text-anchor="end">4</text>
<text transform="matrix(1.1143 0.6696 -0.7099 0.7043 493.1 569.8)" font-size="20.0" text-anchor="start">4</text>
<text transform="matrix(0.9708 -0.8647 0.8367 0.5476 268.7 585.7)" font-size="20.0" text-anchor="end">6</text>
<text transform="matrix(1.1259 0.6499 -0.7099 0.7043 536.5 526.6)" font-size="20.0" text-anchor="start">6</text>
<text transform="matrix(0.9479 -0.8897 0.8367 0.5476 327.2 624.1)" font-size="20.0" text-anchor="end">8</text>
<text transform="matrix(1.1365 0.6312 -0.7099 0.7043 577.8 485.6)" font-size="20.0" text-anchor="start">8</text>
<text transform="matrix(0.9229 -0.9156 0.8367 0.5476 388.4 664.2)" font-size="20.0" text-anchor="end">10</text>
<text transform="matrix(1.1462 0.6135 -0.7099 0.7043 617.1 446.5)" font-size="20.0" text-anchor="start">10</text>
<text transform="matrix(1.0685 -0.8251 0.1216 0.9926 103.1 482.2)" font-size="20.0" text-anchor="end">0.00</text>
<text transform="matrix(1.0823 -0.8070 0.1216 0.9926 96.7 431)" font-size="20.0" text-anchor="end">0.02</text>
<text transform="matrix(1.0968 -0.7871 0.1216 0.9926 90 376.7)" font-size="20.0" text-anchor="end">0.04</text>
<text transform="matrix(1.1121 -0.7653 0.1216 0.9926 82.8 319.1)" font-size="20.0" text-anchor="end">0.06</text>
<text transform="matrix(1.1283 -0.7413 0.1216 0.9926 75.1 257.8)" font-size="20.0" text-anchor="end">0.08</text>
<text transform="matrix(1.1453 -0.7147 0.1216 0.9926 67 192.5)" font-size="20.0" text-anchor="end">0.10</text>
<text transform="matrix(0.9204 0.6024 -0.7550 0.6557 195.3 597.3)" font-size="27.0" text-anchor="middle">Distance (mm)</text>
<text transform="matrix(0.7809 -0.7747 0.8617 0.5074 564.9 569.4)" font-size="27.0" text-anchor="middle">Distance (mm)</text>
<text transform="matrix(-0.1277 -1.0422 0.8180 -0.5752 28.2 340)" font-size="25.0" text-anchor="middle">j<tspan font-size="18.9" dy="5">z</tspan><tspan dy="-5"> (A m</tspan><tspan font-size="18.9" dy="-9">-2</tspan><tspan dy="9">)</tspan></text>
</g>
<g fill="none" stroke-linecap="square">
<path d="M1061 456.3L1025.7 167.9" stroke="#d2d2d2" stroke-width="1.4"/>
<path d="M1111 417.7L1084.6 131.2" stroke="#d2d2d2" stroke-width="1.4"/>
<path d="M1158.7 381L1140.3 96.4" stroke="#d2d2d2" stroke-width="1.4"/>
<path d="M1204.1 345.8L1193 63.5" stroke="#d2d2d2" stroke-width="1.4"/>
<path d="M1247.6 312.3L1243.1 32.3" stroke="#d2d2d2" stroke-width="1.4"/>
<path d="M1289.1 280.2L1290.7 2.6" stroke="#d2d2d2" stroke-width="1.4"/>
<path d="M1061 456.3L1289.1 280.2" stroke="#d2d2d2" stroke-width="1.4"/>
<path d="M1054.8 405.3L1289.4 230.4" stroke="#d2d2d2" stroke-width="1.4"/>
<path d="M1048.2 351.2L1289.7 177.9" stroke="#d2d2d2" stroke-width="1.4"/>
<path d="M1041.1 293.9L1290 122.6" stroke="#d2d2d2" stroke-width="1.4"/>
<path d="M1033.7 232.9L1290.4 64.2" stroke="#d2d2d2" stroke-width="1.4"/>
<path d="M1025.7 167.9L1290.7 2.6" stroke="#d2d2d2" stroke-width="1.4"/>
<path d="M1289.1 280.2L1290.7 2.6" stroke="#d2d2d2" stroke-width="1.4"/>
<path d="M1339 306.9L1347.8 27.3" stroke="#d2d2d2" stroke-width="1.4"/>
<path d="M1390.6 334.5L1407.3 53.1" stroke="#d2d2d2" stroke-width="1.4"/>
<path d="M1444.2 363.2L1469.5 80" stroke="#d2d2d2" stroke-width="1.4"/>
<path d="M1499.9 393L1534.4 108.1" stroke="#d2d2d2" stroke-width="1.4"/>
<path d="M1557.8 424L1602.3 137.5" stroke="#d2d2d2" stroke-width="1.4"/>
<path d="M1289.1 280.2L1557.8 424" stroke="#d2d2d2" stroke-width="1.4"/>
<path d="M1289.4 230.4L1565.7 373.2" stroke="#d2d2d2" stroke-width="1.4"/>
<path d="M1289.7 177.9L1574.1 319.4" stroke="#d2d2d2" stroke-width="1.4"/>
<path d="M1290 122.6L1582.9 262.4" stroke="#d2d2d2" stroke-width="1.4"/>
<path d="M1290.4 64.2L1592.3 201.9" stroke="#d2d2d2" stroke-width="1.4"/>
<path d="M1290.7 2.6L1602.3 137.5" stroke="#d2d2d2" stroke-width="1.4"/>
<path d="M1061 456.3L1289.1 280.2" stroke="#d2d2d2" stroke-width="1.4"/>
<path d="M1061 456.3L1340.7 639.4" stroke="#d2d2d2" stroke-width="1.4"/>
<path d="M1112.4 489.9L1339 306.9" stroke="#d2d2d2" stroke-width="1.4"/>
<path d="M1111 417.7L1388.8 591.8" stroke="#d2d2d2" stroke-width="1.4"/>
<path d="M1165.9 524.9L1390.6 334.5" stroke="#d2d2d2" stroke-width="1.4"/>
<path d="M1158.7 381L1434.3 546.6" stroke="#d2d2d2" stroke-width="1.4"/>
<path d="M1221.7 561.5L1444.2 363.2" stroke="#d2d2d2" stroke-width="1.4"/>
<path d="M1204.1 345.8L1477.5 503.7" stroke="#d2d2d2" stroke-width="1.4"/>
<path d="M1279.9 599.6L1499.9 393" stroke="#d2d2d2" stroke-width="1.4"/>
<path d="M1247.6 312.3L1518.7 462.9" stroke="#d2d2d2" stroke-width="1.4"/>
<path d="M1340.7 639.4L1557.8 424" stroke="#d2d2d2" stroke-width="1.4"/>
<path d="M1289.1 280.2L1557.8 424" stroke="#d2d2d2" stroke-width="1.4"/>
</g>
<g stroke="#222" stroke-opacity="0.3" stroke-width="0.7" stroke-linejoin="round">
<path fill="#e0e0e8" d="M1278 282l7 11 5-2-7-2z"/>
<path fill="#e0e0f0" d="M1290 291l7-1 6-6-7-3z"/>
<path fill="#e8e8f0" d="M1283 289l7 2 6-10-7-9z"/>
<path fill="#d8d8e8" d="M1285 293l6 0 6-3-7 1z"/>
<path fill="#e0e0e8" d="M1297 290l7 1 6-5-7-2z"/>
<path fill="#e0e0f0" d="M1279 295l7 4 5-6-6 0z"/>
<path fill="#f0e8f8" d="M1272 291l7 4 6-2-7-11z"/>
<path fill="#e0d8e0" d="M1311 297l7-8 6 4-7-8z"/>
<path fill="#e0e0e8" d="M1266 293l7 4 6-2-7-4z"/>
<path fill="#e0e0f0" d="M1291 293l7 3 6-5-7-1z"/>
<path fill="#e8e0f0" d="M1304 291l7 6 6-12-7 1z"/>
<path fill="#e8e8f8" d="M1286 299l7 7 5-10-7-3zM1273 297l7 8 6-6-7-4z"/>
<path fill="#f0e8f8" d="M1298 296l7 8 6-7-7-6z"/>
<path fill="#c8c8f8" d="M1243 324l7 8 6-11-7-2z"/>
<path fill="#d8d0e0" d="M1260 290l7 2 6 5-7-4z"/>
<path fill="#d8d8e0" d="M1305 304l7 3 6-18-7 8zM1267 292l7 7 6 6-7-8z"/>
<path fill="#d8d8e8" d="M1287 303l7 5 6-2-7 0z"/>
<path fill="#d8d8f0" d="M1249 319l7 2 5-10-6-2zM1339 317l7 4 5 3-6-13z"/>
<path fill="#e0e0e8" d="M1280 305l7-2 6 3-7-7zM1255 309l6 2 6-19-7-2z"/>
<path fill="#e8e0f0" d="M1318 289l7 14 6-7-7-3z"/>
<path fill="#e8e8f8" d="M1293 306l7 0 5-2-7-8zM1300 306l6 12 6-11-7-3zM1332 309l7 8 6-6-7-6z"/>
<path fill="#f0e8f0" d="M1312 307l7 0 6-4-7-14z"/>
<path fill="#f0e8f8" d="M1325 303l7 6 6-4-7-9z"/>
<path fill="#c8c8e0" d="M1346 321l7 4 6-7-8 6zM1250 332l7-11 6-2-7 2zM1237 320l7 1 6 11-7-8z"/>
<path fill="#d8d0e0" d="M1301 310l7 5 6 0-8 3z"/>
<path fill="#d8d8e8" d="M1256 321l7-2 5-8-7 0z"/>
<path fill="#e0d8e8" d="M1294 308l7 2 5 8-6-12z"/>
<path fill="#e0e0e8" d="M1306 318l8-3 5-8-7 0zM1319 307l7 1 6 1-7-6zM1326 308l7 7 6 2-7-8zM1333 315l8 6 5 0-7-4z"/>
<path fill="#e8e0e8" d="M1274 299l7 13 6-9-7 2zM1261 311l7 0 6-12-7-7zM1281 312l7-1 6-3-7-5z"/>
<path fill="#f0e8f8" d="M1268 311l7 7 6-6-7-13z"/>
<path fill="#d0d0d8" d="M1244 321l7 3 6-3-7 11z"/>
<path fill="#d8d8e0" d="M1353 325l8-7 5 11-7-11zM1275 318l7-4 6-3-7 1z"/>
<path fill="#d8d8e8" d="M1341 321l7 1 5 3-7-4zM1361 318l7 13 5-9-7 7z"/>
<path fill="#e0d8e8" d="M1257 321l7 1 5 0-6-3z"/>
<path fill="#e0e0e8" d="M1314 315l7 1 5-8-7-1z"/>
<path fill="#e0e0f0" d="M1269 322l7 17 6-25-7 4z"/>
<path fill="#e8e8f0" d="M1288 311l7 7 6-8-7-2zM1308 315l7 7 6-6-7-1z"/>
<path fill="#e8e8f8" d="M1263 319l6 3 6-4-7-7zM1295 318l7 11 6-14-7-5z"/>
<path fill="#f0e8f0" d="M1321 316l7 3 5-4-7-7z"/>
<path fill="#c8c8e0" d="M1270 328l8 6 5 0-7 5z"/>
<path fill="#d8d0e0" d="M1348 322l7 3 6-7-8 7z"/>
<path fill="#d8d8e8" d="M1264 322l6 6 6 11-7-17z"/>
<path fill="#e0e0e8" d="M1276 339l7-5 6-14-7-6zM1328 319l7 1 6 1-8-6zM1302 329l7-7 6 0-7-7zM1315 322l7 1 6-4-7-3zM1231 323l7 1 6-3-7-1zM1296 326l7 8 6-12-7 7zM1225 329l7 1 6-6-7-1z"/>
<path fill="#e8e0f0" d="M1289 320l7 6 6 3-7-11zM1283 334l7-3 6-5-7-6z"/>
<path fill="#e8e8f0" d="M1282 314l7 6 6-2-7-7zM1251 324l7 6 6-8-7-1zM1309 322l7 11 6-10-7-1z"/>
<path fill="#e8e8f8" d="M1368 331l7 6 5-9-7-6zM1335 320l7 13 6-11-7-1z"/>
<path fill="#f0e8f8" d="M1238 324l7 15 6-15-7-3z"/>
<path fill="#d0d0d8" d="M1342 333l8-14 5 6-7-3z"/>
<path fill="#d8d0e0" d="M1245 339l6-15 7 6-7-6zM1219 324l6 4 7 2-7-1z"/>
<path fill="#d8d8e0" d="M1369 339l8-3 5 1-7 0z"/>
<path fill="#e0d8e8" d="M1375 337l7 0 6-12-8 3zM1316 333l8-4 5-3-7-3z"/>
<path fill="#e0e0e8" d="M1322 323l7 3 6-6-7-1zM1329 326l8 0 5 7-7-13zM1303 334l8-7 5 6-7-11z"/>
<path fill="#e0e0f0" d="M1362 329l7 10 6-2-7-6zM1278 334l7 8 5-11-7 3zM1232 330l7 2 6 7-7-15z"/>
<path fill="#e8e8f0" d="M1355 325l7 4 6 2-7-13zM1258 330l7 4 5-6-6-6zM1290 331l8 5 5-2-7-8zM1265 334l7 3 6-3-8-6zM1251 324l8 18 6-8-7-4z"/>
<path fill="#f0e8f8" d="M1382 337l8 1 5 0-7-13z"/>
<path fill="#d0d0d8" d="M1259 342l7-12 6 7-7-3zM1272 337l7-16 6 21-7-8z"/>
<path fill="#d8d0d8" d="M1298 336l7-3 6-6-8 7z"/>
<path fill="#d8d0e0" d="M1377 336l7 0 6 2-8-1z"/>
<path fill="#d8d8e0" d="M1239 332l7 11 5-19-6 15z"/>
<path fill="#d8d8f0" d="M1213 347l8 9 6-3-7-6z"/>
<path fill="#e0d8e8" d="M1337 326l6 12 7-19-8 14z"/>
<path fill="#e0e0e8" d="M1285 342l7-4 6-2-8-5zM1311 327l7 11 6-9-8 4zM1356 337l8-3 5 5-7-10z"/>
<path fill="#e8e0f0" d="M1350 319l6 18 6-8-7-4zM1213 337l7 10 5-19-6-4zM1225 328l8 10 6-6-7-2zM1338 341l7 5 6-6-8-2z"/>
<path fill="#e8e8f0" d="M1324 329l7 8 6-11-8 0zM1390 338l7 8 6-8-8 0zM1220 347l7 6 6-15-8-10zM1305 333l7 16 6-11-7-11zM1351 340l7 9 6-15-8 3z"/>
<path fill="#e8e8f8" d="M1207 345l6 2 7 0-7-10zM1233 338l7 11 6-6-7-11z"/>
<path fill="#f0e8f0" d="M1343 338l8 2 5-3-6-18z"/>
<path fill="#f0e8f8" d="M1331 337l7 4 5-3-6-12zM1318 338l7 6 6-7-7-8z"/>
<path fill="#f0f0f8" d="M1397 346l7 5 6-5-7-8z"/>
<path fill="#d0d0d8" d="M1233 349l7-6 7 5-7 1z"/>
<path fill="#d0d0e8" d="M1221 356l6 3 6-10-6 4z"/>
<path fill="#d8d0d8" d="M1252 328l8 12 6-10-7 12z"/>
<path fill="#d8d0e0" d="M1240 349l7-1 5-20-6 15z"/>
<path fill="#d8d8e0" d="M1364 334l7 6 6-4-8 3zM1200 349l7-4 6 2-6-2z"/>
<path fill="#d8d8e8" d="M1312 349l7-7 6 2-7-6z"/>
<path fill="#e0d8e0" d="M1246 343l6-15 7 14-8-18zM1371 340l8 0 5-4-7 0z"/>
<path fill="#e0d8e8" d="M1292 338l7 3 6-8-7 3zM1392 345l7 3 5 3-7-5z"/>
<path fill="#e0e0e8" d="M1384 336l8 9 5 1-7-8zM1299 341l7 0 6 8-7-16zM1412 355l7 3 6-11-8 3z"/>
<path fill="#e0e0f0" d="M1404 351l8 4 5-5-7-4zM1332 347l7 1 6-2-7-5zM1352 354l8 2 5-7-7 0z"/>
<path fill="#e8e0f0" d="M1358 349l7 0 6-9-7-6z"/>
<path fill="#e8e8f0" d="M1227 353l6-4 7 0-7-11zM1325 344l7 3 6-6-7-4z"/>
<path fill="#e8e8f8" d="M1339 348l7 14 6-8-7-8z"/>
<path fill="#f0e8f8" d="M1345 346l7 8 6-5-7-9z"/>
<path fill="#d0d0d8" d="M1227 359l7-10 6-6-7 6z"/>
<path fill="#d0d0e8" d="M1413 369l8-6 5 8-7-13z"/>
<path fill="#d8c8d0" d="M1279 321l7-11 6 28-7 4zM1266 330l7-24 6 15-7 16z"/>
<path fill="#d8d0e0" d="M1399 348l8 1 5 6-8-4z"/>
<path fill="#d8d8e0" d="M1319 342l7 3 6 2-7-3zM1194 352l7-1 6-6-7 4zM1214 354l7 0 6 5-6-3z"/>
<path fill="#d8d8e8" d="M1354 361l7 0 5 11-6-16z"/>
<path fill="#e0d8e0" d="M1379 340l8-3 5 8-8-9z"/>
<path fill="#e0d8e8" d="M1306 341l7 12 6-11-7 7z"/>
<path fill="#e0e0e8" d="M1207 345l7 9 7 2-8-9zM1365 349l8 1 6-10-8 0zM1313 353l7-2 6-6-7-3zM1426 371l8-4 6-11-7-4z"/>
<path fill="#e0e0f0" d="M1346 362l8-1 6-5-8-2z"/>
<path fill="#e8e0e8" d="M1247 348l6-9 7 1-8-12z"/>
<path fill="#e8e8f0" d="M1360 356l6 16 7-22-8-1zM1407 349l6 20 6-11-7-3z"/>
<path fill="#e8e8f8" d="M1419 358l7 13 7-19-8-5z"/>
<path fill="#f0e8f8" d="M1326 345l7 14 6-11-7-1z"/>
<path fill="#f0f0f8" d="M1333 359l8 4 5-1-7-14z"/>
<path fill="#d0d0d8" d="M1221 354l7-2 6-3-7 10zM1361 361l8-2 6-1-9 14z"/>
<path fill="#d0d0e8" d="M1421 363l7 10 6-6-8 4z"/>
<path fill="#d8c8d0" d="M1286 310l7-9 6 40-7-3zM1240 343l7-20 6 16-6 9z"/>
<path fill="#d8d0d8" d="M1208 358l7-4 6 0-7 0z"/>
<path fill="#d8d8e0" d="M1366 372l9-14 5-4-7-4zM1195 366l6-12 7 4-7-7z"/>
<path fill="#d8d8e8" d="M1341 363l7 1 6-3-8 1z"/>
<path fill="#e0d8e0" d="M1387 337l7 10 5 1-7-3z"/>
<path fill="#e0d8e8" d="M1373 350l7 4 7-17-8 3z"/>
<path fill="#e0e0e8" d="M1434 367l8 3 6-14-8 0zM1335 368l7 0 6-4-7-1zM1348 364l8 4 5-7-7 0z"/>
<path fill="#e8e0f0" d="M1380 354l8 3 6-10-7-10z"/>
<path fill="#e8e8f0" d="M1320 351l8 6 5 2-7-14zM1328 357l7 11 6-5-8-4zM1401 360l7 1 5 8-6-20z"/>
<path fill="#e8e8f8" d="M1187 346l8 20 6-15-7 1z"/>
<path fill="#f0e8f0" d="M1201 351l7 7 6-4-7-9zM1394 347l7 13 6-11-8-1zM1388 357l7 11 6-8-7-13z"/>
<path fill="#f0e8f8" d="M1182 363l6-1 7 4-8-20z"/>
<path fill="#d0d0d8" d="M1408 361l8 1 5 1-8 6z"/>
<path fill="#d8c8c8" d="M1260 340l6-36 7 2-7 24z"/>
<path fill="#d8c8d0" d="M1293 301l7 27 6 13-7 0z"/>
<path fill="#d8d0d8" d="M1300 328l8 6 5 19-7-12zM1308 334l7 16 5 1-7 2z"/>
<path fill="#d8d0e0" d="M1175 365l7-3 6 0-6 1z"/>
<path fill="#d8d8e0" d="M1188 362l7 7 6-15-6 12zM1395 368l8-5 5-2-7-1z"/>
<path fill="#e0d8e0" d="M1356 368l7-1 6-8-8 2z"/>
<path fill="#e0d8e8" d="M1201 354l8 8 6-8-7 4zM1423 373l8 4 6-6-9 2z"/>
<path fill="#e0e0e8" d="M1428 373l9-2 5-1-8-3zM1349 383l8 1 6-17-7 1z"/>
<path fill="#e0e0f0" d="M1450 373l7 8 5 1-7-16z"/>
<path fill="#e0e0f8" d="M1396 384l8 0 5 0-6-21z"/>
<path fill="#e8e0f0" d="M1315 350l7 11 6-4-8-6zM1322 361l7 4 6 3-7-11zM1416 362l7 11 5 0-7-10z"/>
<path fill="#e8e8f0" d="M1375 358l7 6 6-7-8-3zM1442 370l8 3 5-7-7-10zM1382 364l7 5 6-1-7-11zM1389 369l7 15 7-21-8 5zM1329 365l7 12 6-9-7 0zM1369 359l7 11 6-6-7-6zM1437 371l7 8 6-6-8-3zM1403 363l6 21 7-22-8-1z"/>
<path fill="#f0f0f8" d="M1342 368l7 15 7-15-8-4z"/>
<path fill="#c8c8e8" d="M1372 391l7 4 6-2-8 0z"/>
<path fill="#d0d0d8" d="M1457 381l9-11 5 4-9 8z"/>
<path fill="#d0d0e0" d="M1404 384l8 0 6-7-9 7z"/>
<path fill="#d8c8d0" d="M1215 354l6-18 7 16-7 2zM1234 349l7-30 6 4-7 20z"/>
<path fill="#d8d0d8" d="M1189 372l7-4 6 3-7-2z"/>
<path fill="#d8d8e0" d="M1344 373l7 7 6 4-8-1z"/>
<path fill="#d8d8e8" d="M1391 382l7 7 6-5-8 0z"/>
<path fill="#d8d8f0" d="M1377 393l8 0 6-11-7-9z"/>
<path fill="#e0e0e8" d="M1336 377l8-4 5 10-7-15z"/>
<path fill="#e0e0f0" d="M1409 384l9-7 5-4-7-11zM1365 377l7 14 5 2-7-14z"/>
<path fill="#e8e0f0" d="M1176 381l7-4 6-5-7-10zM1357 384l8-7 5 2-7-12z"/>
<path fill="#e8e8f0" d="M1169 368l7 13 6-19-7 3zM1376 370l8 3 5-4-7-5zM1182 362l7 10 6-3-7-7zM1195 369l7 2 7-9-8-8zM1384 373l7 9 5 2-7-15zM1444 379l8 3 5-1-7-8zM1418 377l7 5 6-5-8-4z"/>
<path fill="#e8e8f8" d="M1370 379l7 14 7-20-8-3zM1162 376l7 6 7-1-7-13zM1431 377l7 6 6-4-7-8z"/>
<path fill="#f0e8f8" d="M1363 367l7 12 6-9-7-11z"/>
<path fill="#d0c8d8" d="M1331 361l7 6 6 6-8 4z"/>
<path fill="#d0d0d8" d="M1169 382l7-10 7 5-7 4zM1183 377l6-9 7 0-7 4z"/>
<path fill="#d8c8c8" stroke="#d8c8c8" stroke-opacity="1" stroke-width="0.5" d="M1260 326l2-15 2 5-2 12z"/>
<path fill="#d8c8d0" stroke="#d8c8d0" stroke-opacity="1" stroke-width="0.5" d="M1253 339l3-18 2 2-3 16zM1255 339l3-16 2 3-2 14zM1258 340l2-14 2 2-2 12z"/>
<path fill="#d8c8d0" d="M1209 362l5-29 7 3-6 18z"/>
<path fill="#d8d0d8" d="M1473 382l8-1 6-5-9 5z"/>
<path fill="#d8d0e0" d="M1452 382l8 1 6-13-9 11zM1351 380l8 3 6-6-8 7z"/>
<path fill="#d8d8e0" d="M1398 389l9-3 5-2-8 0zM1385 393l8-11 5 7-7-7zM1433 389l8-3 6-3-9 0z"/>
<path fill="#d8d8e8" d="M1156 388l7-7 6 1-7-6z"/>
<path fill="#e0b8b8" stroke="#e0b8b8" stroke-opacity="1" stroke-width="0.5" d="M1258 302l2-19 2 7-2 17z"/>
<path fill="#e0c0c0" stroke="#e0c0c0" stroke-opacity="1" stroke-width="0.5" d="M1260 307l2-17 2 7-2 14zM1262 311l2-14 2 7-2 12z"/>
<path fill="#e0c0c0" d="M1273 306l7-31 6 35-7 11z"/>
<path fill="#e0c0c8" stroke="#e0c0c8" stroke-opacity="1" stroke-width="0.5" d="M1256 321l2-19 2 5-2 16z"/>
<path fill="#e0c8c8" stroke="#e0c8c8" stroke-opacity="1" stroke-width="0.5" d="M1258 323l2-16 2 4-2 15z"/>
<path fill="#e0e0e8" d="M1438 383l9 0 5-1-8-3zM1466 370l7 12 5-1-7-7zM1412 384l8-1 5-1-7-5z"/>
<path fill="#e8e0f0" d="M1447 383l7 7 6-7-8-1z"/>
<path fill="#e8e8f0" d="M1460 383l7 14 6-15-7-12z"/>
<path fill="#e8e8f8" d="M1425 382l8 7 5-6-7-6z"/>
<path fill="#d0d0d8" d="M1149 382l7 0 7-1-7 7zM1379 395l9-6 5-7-8 11zM1407 386l8-5 5 2-8 1z"/>
<path fill="#d8c8c8" stroke="#d8c8c8" stroke-opacity="1" stroke-width="0.5" d="M1234 337l2-14 2 6-2 10zM1316 330l3 5 1 13-2-4z"/>
<path fill="#d8c8d0" stroke="#d8c8d0" stroke-opacity="1" stroke-width="0.5" d="M1228 352l2-20 2 2-2 17zM1230 351l2-17 2 3-2 13zM1232 350l2-13 2 2-2 10zM1313 335l2 4 2 15-2-4zM1315 339l3 5 1 14-2-4zM1318 344l2 4 2 13-3-3z"/>
<path fill="#d8c8d0" d="M1317 322l7 13 5 30-7-4zM1202 371l6-41 6 3-5 29z"/>
<path fill="#d8d0d8" d="M1324 335l7 26 5 16-7-12zM1163 381l6 1 7-10-7 10z"/>
<path fill="#d8d8e0" d="M1467 397l9-8 5-8-8 1z"/>
<path fill="#e0b8b8" stroke="#e0b8b8" stroke-opacity="1" stroke-width="0.5" d="M1232 312l2-20 2 9-2 17z"/>
<path fill="#e0c0c0" stroke="#e0c0c0" stroke-opacity="1" stroke-width="0.5" d="M1234 318l2-17 2 9-2 13zM1236 323l2-13 3 9-3 10zM1310 303l2 6 2 16-3-6zM1312 309l2 7 2 14-2-5zM1314 316l3 6 2 13-3-5z"/>
<path fill="#e0c0c8" stroke="#e0c0c8" stroke-opacity="1" stroke-width="0.5" d="M1230 332l2-20 2 6-2 16z"/>
<path fill="#e0c8c8" stroke="#e0c8c8" stroke-opacity="1" stroke-width="0.5" d="M1232 334l2-16 2 5-2 14zM1311 319l3 6 1 14-2-4zM1314 325l2 5 2 14-3-5z"/>
<path fill="#e0e0e8" d="M1359 383l8 1 5 7-7-14zM1427 392l8 5 6-11-8 3zM1353 394l7 3 7-13-8-1zM1462 391l7 11 7-13-9 8z"/>
<path fill="#e0e0f0" d="M1367 384l7 15 5-4-7-4zM1454 390l8 1 5 6-7-14zM1393 382l7 14 7-10-9 3z"/>
<path fill="#e8e0e8" d="M1338 367l7 21 6-8-7-7z"/>
<path fill="#e8e0f0" d="M1481 381l8 8 4 3-6-16zM1489 389l7 11 6-13-9 5zM1441 386l8 6 5-2-7-7z"/>
<path fill="#e8e8f0" d="M1420 383l7 9 6-3-8-7zM1345 388l8 6 6-11-8-3z"/>
<path fill="#d0d0d8" d="M1374 399l8-9 6-1-9 6z"/>
<path fill="#d8c8c8" stroke="#d8c8c8" stroke-opacity="1" stroke-width="0.5" d="M1306 316l2 6 2 17-2-5zM1308 322l3 7 1 16-2-6z"/>
<path fill="#d8c8d0" stroke="#d8c8d0" stroke-opacity="1" stroke-width="0.5" d="M1251 334l2-17 3 4-3 18zM1311 329l2 6 2 15-3-5z"/>
<path fill="#d8c8d0" d="M1176 372l6-12 7 8-6 9z"/>
<path fill="#d8d0d8" d="M1348 383l7 7 5 7-7-3zM1341 359l7 24 5 11-8-6z"/>
<path fill="#d8d8e0" d="M1400 396l9-2 6-13-8 5zM1136 393l7 3 6-7-6 3zM1396 385l7 13 6-4-9 2z"/>
<path fill="#e0b0b0" stroke="#e0b0b0" stroke-opacity="1" stroke-width="0.5" d="M1251 294l3-15 2 2-3 16zM1253 297l3-16 2 1-2 18zM1302 280l3 8 2 17-3-7z"/>
<path fill="#e0b8b8" stroke="#e0b8b8" stroke-opacity="1" stroke-width="0.5" d="M1249 308l2-14 2 3-2 16zM1256 300l2-18 2 1-2 19zM1305 288l2 7 2 17-2-7zM1307 295l3 8 1 16-2-7z"/>
<path fill="#e0c0c0" stroke="#e0c0c0" stroke-opacity="1" stroke-width="0.5" d="M1251 313l2-16 3 3-3 17zM1253 317l3-17 2 2-2 19zM1304 298l3 7 1 17-2-6zM1307 305l2 7 2 17-3-7z"/>
<path fill="#e0c0c8" stroke="#e0c0c8" stroke-opacity="1" stroke-width="0.5" d="M1247 323l2-15 2 5-2 15zM1309 312l2 7 2 16-2-6z"/>
<path fill="#e0c8c8" stroke="#e0c8c8" stroke-opacity="1" stroke-width="0.5" d="M1249 328l2-15 2 4-2 17z"/>
<path fill="#e0d8e0" d="M1143 392l6-3 7-7-7 0zM1388 389l8-4 4 11-7-14z"/>
<path fill="#e0e0e8" d="M1415 381l7 12 5-1-7-9zM1156 382l7 4 6-4-6-1zM1422 393l8 4 5 0-8-5zM1368 398l7 10 7-18-8 9zM1491 399l8 7 5-5-8-1z"/>
<path fill="#e8e0f0" d="M1469 402l9-3 5-3-7-7z"/>
<path fill="#e8e8f0" d="M1449 392l7 7 6-8-8-1zM1496 400l8 1 6-6-8-8zM1435 397l8 3 6-8-8-6zM1483 396l8 3 5 1-7-11zM1504 401l8 6 6-10-8-2zM1443 400l8 2 5-3-7-7z"/>
<path fill="#e8e8f8" d="M1430 397l7 13 6-10-8-3zM1512 407l7 10 6-6-7-14z"/>
<path fill="#f0e8f8" d="M1476 389l7 7 6-7-8-8zM1360 397l8 1 6 1-7-15zM1456 399l8 7 5-4-7-11z"/>
<path fill="#d0c8d0" stroke="#d0c8d0" stroke-opacity="1" stroke-width="0.5" d="M1200 370l2-16 2 3-2 14z"/>
<path fill="#d0c8d0" d="M1149 389l6-14 8 11-7-4z"/>
<path fill="#d8c8c8" stroke="#d8c8c8" stroke-opacity="1" stroke-width="0.5" d="M1202 354l1-15 3 5-2 13z"/>
<path fill="#d8c8d0" stroke="#d8c8d0" stroke-opacity="1" stroke-width="0.5" d="M1196 368l1-19 2 3-1 17zM1198 369l1-17 3 2-2 16z"/>
<path fill="#d8d0e0" d="M1130 405l6-9 7 0-7-3zM1355 390l8 7 5 1-8-1zM1437 410l9-9 5 1-8-2z"/>
<path fill="#d8d8e0" d="M1464 406l8-1 6-6-9 3zM1403 398l8 0 6-7-8 3zM1459 406l8 2 5-3-8 1z"/>
<path fill="#d8d8e8" d="M1519 417l9 2 6-15-9 7zM1499 406l9-1 4 2-8-6zM1431 417l8 3 7-19-9 9z"/>
<path fill="#d8d8f8" d="M1487 421l7 16 7-16-8-3z"/>
<path fill="#e0a0a0" stroke="#e0a0a0" stroke-opacity="1" stroke-width="0.5" d="M1285 254l2-10 2 19-2 8z"/>
<path fill="#e0a8a8" stroke="#e0a8a8" stroke-opacity="1" stroke-width="0.5" d="M1282 265l3-11 2 17-3 8z"/>
<path fill="#e0b0b0" stroke="#e0b0b0" stroke-opacity="1" stroke-width="0.5" d="M1295 267l2 4 2 20-2-3zM1297 271l3 5 2 19-3-4zM1300 276l2 4 2 18-2-3zM1270 280l4-24 3 10-4 20zM1273 286l4-20 3 9-4 16zM1280 275l2-10 2 14-2 8zM1287 271l2-8 2 19-2 6z"/>
<path fill="#e0b8b8" stroke="#e0b8b8" stroke-opacity="1" stroke-width="0.5" d="M1297 288l2 3 2 20-2-3zM1299 291l3 4 1 19-2-3zM1266 304l4-24 3 6-3 19zM1282 287l2-8 2 14-2 5zM1284 279l3-8 2 17-3 5zM1289 288l2-6 2 19-2 3zM1199 329l1-21 3 7-2 19z"/>
<path fill="#e0c0c0" stroke="#e0c0c0" stroke-opacity="1" stroke-width="0.5" d="M1302 295l2 3 2 18-3-2zM1270 305l3-19 3 5-3 15zM1284 298l2-5 2 14-2 3zM1286 293l3-5 2 16-3 3zM1201 334l2-19 2 8-2 16zM1203 339l2-16 3 7-2 14z"/>
<path fill="#e0c0c8" stroke="#e0c0c8" stroke-opacity="1" stroke-width="0.5" d="M1197 349l2-20 2 5-2 18z"/>
<path fill="#e0c8c8" stroke="#e0c8c8" stroke-opacity="1" stroke-width="0.5" d="M1299 308l2 3 2 19-3-2zM1301 311l2 3 2 18-2-2zM1303 314l3 2 2 18-3-2zM1199 352l2-18 2 5-1 15z"/>
<path fill="#e0c8d0" d="M1334 336l7 23 4 29-7-21z"/>
<path fill="#e0d8e8" d="M1508 405l7 7 4 5-7-10z"/>
<path fill="#e0e0e8" d="M1375 408l9-4 5-6-7-8zM1493 418l8 3 7-16-9 1z"/>
<path fill="#e0e0f0" d="M1451 402l8 4 5 0-8-7z"/>
<path fill="#e0e0f8" d="M1479 420l8 1 6-3-8-10z"/>
<path fill="#e8e0e8" d="M1382 390l7 8 7-13-8 4z"/>
<path fill="#e8e0f0" d="M1409 394l8-3 5 2-7-12zM1363 397l7 13 5-2-7-10z"/>
<path fill="#e8e8f0" d="M1478 399l7 9 6-9-8-3zM1417 391l7 15 6-9-8-4zM1418 407l7 16 6-6-7-11z"/>
<path fill="#e8e8f8" d="M1384 404l7 14 6-8-8-12z"/>
<path fill="#f0e8f0" d="M1389 398l8 12 6-12-7-13z"/>
<path fill="#f0e8f8" d="M1424 406l7 11 6-7-7-13zM1485 408l8 10 6-12-8-7zM1472 405l7 15 6-12-7-9z"/>
<path fill="#c8c8e0" d="M1494 437l10-11 6-7-9 2z"/>
<path fill="#c8c8f8" d="M1481 433l8 4 5 0-7-16z"/>
<path fill="#d0d0d8" d="M1370 410l8-6 6 0-9 4zM1123 410l5-21 8 7-6 9z"/>
<path fill="#d0d0e0" d="M1425 423l9-6 5 3-8-3zM1515 412l9 1 4 6-9-2z"/>
<path fill="#d8c8d0" stroke="#d8c8d0" stroke-opacity="1" stroke-width="0.5" d="M1226 346l1-19 3 5-2 20z"/>
<path fill="#d8c8d0" d="M1169 382l5-45 8 23-6 12zM1143 396l4-35 8 14-6 14z"/>
<path fill="#d8d0e0" d="M1397 410l8-8 6-4-8 0z"/>
<path fill="#d8d8e0" d="M1391 418l8 1 6-17-8 8zM1385 423l8-2 6-2-8-1zM1537 418l8 1 5-2-9-1z"/>
<path fill="#e0a0a0" stroke="#e0a0a0" stroke-opacity="1" stroke-width="0.5" d="M1287 244l3 8 2 19-3-8z"/>
<path fill="#e0a8a8" stroke="#e0a8a8" stroke-opacity="1" stroke-width="0.5" d="M1290 252l2 7 2 21-2-9zM1292 259l3 8 2 21-3-8zM1225 296l2-21 2 6-2 20z"/>
<path fill="#e0b0b0" stroke="#e0b0b0" stroke-opacity="1" stroke-width="0.5" d="M1289 263l3 8 2 20-3-9zM1292 271l2 9 2 20-2-9zM1227 301l2-20 2 5-2 21z"/>
<path fill="#e0b8b8" stroke="#e0b8b8" stroke-opacity="1" stroke-width="0.5" d="M1291 282l3 9 2 19-3-9zM1294 280l3 8 2 20-3-8zM1223 316l2-20 2 5-2 20zM1229 307l2-21 3 6-2 20z"/>
<path fill="#e0c0c0" stroke="#e0c0c0" stroke-opacity="1" stroke-width="0.5" d="M1294 291l2 9 2 19-2-9zM1225 321l2-20 2 6-2 20zM1227 327l2-20 3 5-2 20z"/>
<path fill="#e0c0c8" stroke="#e0c0c8" stroke-opacity="1" stroke-width="0.5" d="M1296 300l3 8 1 20-2-9zM1221 336l2-20 2 5-2 20z"/>
<path fill="#e0c8c8" stroke="#e0c8c8" stroke-opacity="1" stroke-width="0.5" d="M1223 341l2-20 2 6-1 19z"/>
<path fill="#e0c8c8" d="M1326 322l8 14 4 31-7-6z"/>
<path fill="#e0d0d8" d="M1342 381l7 2 6 7-7-7z"/>
<path fill="#e0e0f0" d="M1524 413l7 14 6-9-9 1z"/>
<path fill="#e0e0f8" d="M1474 418l7 15 6-12-8-1zM1434 417l7 17 6-11-8-3z"/>
<path fill="#e8e0e8" d="M1446 401l7 9 6-4-8-4zM1453 410l8 4 6-6-8-2z"/>
<path fill="#e8e0f0" d="M1467 408l7 10 5 2-7-15zM1439 420l8 3 6-13-7-9zM1501 421l9-2 5-7-7-7z"/>
<path fill="#e8e8f0" d="M1411 398l7 9 6-1-7-15zM1378 404l7 19 6-5-7-14zM1412 423l9-8 4 8-7-16zM1405 402l7 21 6-16-7-9zM1447 423l7 9 7-18-8-4z"/>
<path fill="#e8e8f8" d="M1528 419l9-1 4-2-7-12z"/>
<path fill="#c0c0d8" d="M1489 437l9-5 6-6-10 11z"/>
<path fill="#d0d0d8" d="M1421 415l8 3 5-1-9 6zM1379 422l8-2 6 1-8 2zM1531 427l10-12 4 4-8-1z"/>
<path fill="#d0d0e0" d="M1477 422l8 7 4 8-8-4z"/>
<path fill="#d8c8d0" stroke="#d8c8d0" stroke-opacity="1" stroke-width="0.5" d="M1189 368l1-18 3 0-2 18zM1191 368l2-18 2-1-2 19zM1193 368l2-19 2 0-1 19zM1163 386l1-17 2-1-1 17zM1165 385l1-17 3 0-2 16zM1167 384l2-16 2 0-2 14z"/>
<path fill="#d8c8d0" d="M1115 403l6-11 7-3-5 21z"/>
<path fill="#d8d8e0" d="M1407 409l7 16 7-10-9 8zM1545 419l9 1 5-1-9-2z"/>
<path fill="#d8d8e8" d="M1436 432l7 7 6-7-8 2z"/>
<path fill="#d8d8f0" d="M1441 434l8-2 5 0-7-9z"/>
<path fill="#e0a0a0" stroke="#e0a0a0" stroke-opacity="1" stroke-width="0.5" d="M1245 273l2-23 2 10-2 20zM1265 259l2-12 2 3-2 14zM1267 264l2-14 2 3-2 15z"/>
<path fill="#e0a8a8" stroke="#e0a8a8" stroke-opacity="1" stroke-width="0.5" d="M1247 280l2-20 2 9-2 18zM1262 271l3-12 2 5-2 13zM1265 277l2-13 2 4-2 15zM1269 268l2-15 3 3-3 17z"/>
<path fill="#e0b0b0" stroke="#e0b0b0" stroke-opacity="1" stroke-width="0.5" d="M1243 296l2-23 2 7-2 20zM1245 300l2-20 2 7-2 17zM1249 287l2-18 3 10-3 15zM1260 283l2-12 3 6-3 13zM1267 283l2-15 2 5-2 15zM1319 288l3 11 1 16-2-11z"/>
<path fill="#e0b8b8" stroke="#e0b8b8" stroke-opacity="1" stroke-width="0.5" d="M1247 304l2-17 2 7-2 14zM1192 332l2-19 2-2-2 20zM1194 331l2-20 2-1-2 20zM1196 330l2-20 2-2-1 21zM1262 290l3-13 2 6-3 14zM1264 297l3-14 2 5-3 16zM1321 304l2 11 2 14-2-9zM1322 299l2 12 2 14-3-10zM1324 311l2 11 2 14-2-11z"/>
<path fill="#e0c0c0" stroke="#e0c0c0" stroke-opacity="1" stroke-width="0.5" d="M1241 319l2-23 2 4-2 20zM1243 320l2-20 2 4-2 17zM1245 321l2-17 2 4-2 15zM1190 350l2-18 2-1-1 19zM1193 350l1-19 2-1-1 19zM1195 349l1-19 3-1-2 20zM1165 351l2-18 2 1-1 18zM1168 352l1-18 2 2-1 16zM1170 352l1-16 3 1-2 16zM1323 315l3 10 1 14-2-10z"/>
<path fill="#e0c0c8" stroke="#e0c0c8" stroke-opacity="1" stroke-width="0.5" d="M1323 320l2 9 1 15-2-9zM1326 325l2 11 1 13-2-10z"/>
<path fill="#e0c8c8" stroke="#e0c8c8" stroke-opacity="1" stroke-width="0.5" d="M1164 369l1-18 3 1-2 16zM1166 368l2-16 2 0-1 16zM1169 368l1-16 2 1-1 15zM1325 329l2 10 2 14-3-9z"/>
<path fill="#e0c8d0" stroke="#e0c8d0" stroke-opacity="1" stroke-width="0.5" d="M1327 339l2 10 2 12-2-8z"/>
<path fill="#e0d0d8" d="M1349 383l8 8 6 6-8-7z"/>
<path fill="#e0d8e0" d="M1357 391l7 13 6 6-7-13z"/>
<path fill="#e0e0e8" d="M1364 404l8 12 6-12-8 6zM1399 419l8-10 5 14-7-21zM1469 424l8-2 4 11-7-15zM1454 432l10-8 5 0-8-10z"/>
<path fill="#e0e0f0" d="M1429 418l7 14 5 2-7-17z"/>
<path fill="#e8d8d8" d="M1335 344l7 37 6 2-7-24z"/>
<path fill="#e8e8f0" d="M1510 419l6 13 8-19-9-1zM1372 416l7 6 6 1-7-19zM1516 432l10-4 5-1-7-14zM1504 426l8 4 4 2-6-13z"/>
<path fill="#f0e8f8" d="M1461 414l8 10 5-6-7-10z"/>
<path fill="#d0d0e0" d="M1512 430l9 1 5-3-10 4z"/>
<path fill="#d8c8c8" d="M1136 396l4-41 7 6-4 35zM1336 378l8-4 5 9-7-2z"/>
<path fill="#d8d0e0" d="M1449 432l8 1 7-9-10 8zM1526 428l8 3 7-16-10 12z"/>
<path fill="#d8d8e0" d="M1393 421l8 3 6-15-8 10zM1485 429l8 9 5-6-9 5zM1498 432l9-2 5 0-8-4zM1443 439l9-4 5-2-8-1zM1387 420l8 3 6 1-8-3z"/>
<path fill="#e0a8a8" stroke="#e0a8a8" stroke-opacity="1" stroke-width="0.5" d="M1218 290l2-22 2 3-2 21zM1220 292l2-21 2 2-2 21zM1222 294l2-21 3 2-2 21z"/>
<path fill="#e0b0b0" stroke="#e0b0b0" stroke-opacity="1" stroke-width="0.5" d="M1216 312l2-22 2 2-2 21zM1218 313l2-21 2 2-1 21z"/>
<path fill="#e0b8b8" stroke="#e0b8b8" stroke-opacity="1" stroke-width="0.5" d="M1221 315l1-21 3 2-2 20z"/>
<path fill="#e0c0c0" stroke="#e0c0c0" stroke-opacity="1" stroke-width="0.5" d="M1214 333l2-21 2 1-1 21zM1217 334l1-21 3 2-2 20zM1219 335l2-20 2 1-2 20z"/>
<path fill="#e0d8e0" d="M1414 425l9-3 6-4-8-3z"/>
<path fill="#e8d8e0" d="M1351 388l8 14 5 2-7-13z"/>
<path fill="#e8e0e8" d="M1359 402l7 17 6-3-8-12z"/>
<path fill="#e8e0f0" d="M1366 419l7 6 6-3-7-6z"/>
<path fill="#e8e8f0" d="M1464 424l7 9 6-11-8 2zM1373 425l8 9 6-14-8 2zM1423 422l7 16 6-6-7-14zM1471 433l8 5 6-9-8-7z"/>
<path fill="#e8e8f8" d="M1430 438l7 8 6-7-7-7z"/>
<path fill="#f0e8f0" d="M1401 424l8 5 5-4-7-16z"/>
<path fill="#d8c8c8" stroke="#d8c8c8" stroke-opacity="1" stroke-width="0.5" d="M1187 365l1-19 2 4-1 18z"/>
<path fill="#d8c8d0" stroke="#d8c8d0" stroke-opacity="1" stroke-width="0.5" d="M1158 379l1-19 2 4-1 19zM1160 383l1-19 3 5-1 17z"/>
<path fill="#d8c8d0" d="M1109 408l3-37 9 21-6 11z"/>
<path fill="#d8d0d8" d="M1409 429l8-3 6-4-9 3zM1493 438l9-5 5-3-9 2zM1395 423l9-1 5 7-8-5zM1466 430l9 2 4 6-8-5z"/>
<path fill="#d8d8e0" d="M1437 446l9-3 6-8-9 4z"/>
<path fill="#e0a0a0" stroke="#e0a0a0" stroke-opacity="1" stroke-width="0.5" d="M1238 278l2-7 3-7-3 13zM1240 277l3-13 2-7-3 18zM1242 275l3-18 2-7-2 23zM1312 267l2 7 2 18-2-6zM1216 293l1-20 3-5-2 22z"/>
<path fill="#e0a0a0" d="M1274 256l7-4 6-8-7 31z"/>
<path fill="#e0a8a8" stroke="#e0a8a8" stroke-opacity="1" stroke-width="0.5" d="M1184 313l1-25 3 8-1 23zM1236 285l2-7 2-1-2 12zM1238 289l2-12 2-2-2 18zM1314 274l3 7 1 17-2-6zM1317 281l2 7 2 16-3-6zM1211 299l2-17 2-4-1 18zM1214 296l1-18 2-5-1 20z"/>
<path fill="#e0b0b0" stroke="#e0b0b0" stroke-opacity="1" stroke-width="0.5" d="M1187 319l1-23 3 9-2 21zM1189 326l2-21 3 8-2 19zM1234 292l2-7 2 4-2 12zM1240 293l2-18 3-2-2 23zM1314 286l2 6 2 17-3-5zM1316 292l2 6 2 16-2-5zM1210 314l1-15 3-3-2 18zM1212 314l2-18 2-3-2 20zM1214 313l2-20 2-3-2 22zM1157 334l1-22 3 7-1 21z"/>
<path fill="#e0b8b8" stroke="#e0b8b8" stroke-opacity="1" stroke-width="0.5" d="M1183 336l1-23 3 6-1 22zM1186 341l1-22 2 7-1 20zM1236 301l2-12 2 4-2 17zM1238 310l2-17 3 3-2 23zM1315 304l3 5 1 17-2-4zM1318 298l3 6 2 16-3-6zM1208 330l2-16 2 0-2 17zM1160 340l1-21 3 7-1 19zM1163 345l1-19 3 7-2 18z"/>
<path fill="#e0c0c0" stroke="#e0c0c0" stroke-opacity="1" stroke-width="0.5" d="M1188 346l1-20 3 6-2 18zM1318 309l2 5 2 17-3-5zM1320 314l3 6 1 15-2-4zM1210 331l2-17 2-1-2 19zM1212 332l2-19 2-1-2 21zM1156 355l1-21 3 6-1 20zM1159 360l1-20 3 5-2 19z"/>
<path fill="#e0c0c8" stroke="#e0c0c8" stroke-opacity="1" stroke-width="0.5" d="M1161 364l2-19 2 6-1 18z"/>
<path fill="#e0c8c8" stroke="#e0c8c8" stroke-opacity="1" stroke-width="0.5" d="M1182 360l1-24 3 5-2 22zM1184 363l2-22 2 5-1 19zM1155 375l1-20 3 5-1 19z"/>
<path fill="#e0d8e0" d="M1541 415l8 9 5-4-9-1z"/>
<path fill="#e0d8e8" d="M1521 431l8 2 5-2-8-3z"/>
<path fill="#e0e0e8" d="M1457 433l9-3 5 3-7-9zM1381 434l8-1 6-10-8-3z"/>
<path fill="#e0e0f0" d="M1375 444l8 4 6-15-8 1zM1424 441l8 4 5 1-7-8z"/>
<path fill="#e0e0f8" d="M1418 446l7 21 7-22-8-4z"/>
<path fill="#e8d0d8" d="M1344 374l7 14 6 3-8-8z"/>
<path fill="#e8e0e8" d="M1353 401l7 17 6 1-7-17z"/>
<path fill="#e8e0f0" d="M1452 435l8 8 6-13-9 3z"/>
<path fill="#e8e8f0" d="M1360 418l7 13 6-6-7-6zM1507 430l8 10 6-9-9-1zM1534 431l8 4 7-11-8-9zM1417 426l7 15 6-3-7-16zM1515 440l7 9 7-16-8-2zM1362 432l7 16 6-4-8-13z"/>
<path fill="#e8e8f8" d="M1432 445l7 13 7-15-9 3z"/>
<path fill="#f0e8f8" d="M1367 431l8 13 6-10-8-9zM1529 433l6 19 7-17-8-4z"/>
<path fill="#f0f0f8" d="M1479 438l7 11 7-11-8-9z"/>
<path fill="#d0d0d8" d="M1486 449l11-15 5-1-9 5zM1482 443l8 3 7-12-11 15z"/>
<path fill="#d0d0e8" d="M1425 467l9-12 5 3-7-13z"/>
<path fill="#d8c8c8" stroke="#d8c8c8" stroke-opacity="1" stroke-width="0.5" d="M1128 389l1-17 3 3-1 16z"/>
<path fill="#d8c8c8" d="M1102 415l3-40 7-4-3 37z"/>
<path fill="#d8c8d0" stroke="#d8c8d0" stroke-opacity="1" stroke-width="0.5" d="M1131 391l1-16 2 4-1 15zM1133 394l1-15 3 4-1 13z"/>
<path fill="#d8d8e0" d="M1369 448l8-5 6 5-8-4zM1475 432l7 11 4 6-7-11zM1517 454l9-2 6-9-10 6z"/>
<path fill="#d8d8f0" d="M1412 452l8 5 5 10-7-21z"/>
<path fill="#e09090" stroke="#e09090" stroke-opacity="1" stroke-width="0.5" d="M1258 244l3-18 2 7-3 16z"/>
<path fill="#e09898" stroke="#e09898" stroke-opacity="1" stroke-width="0.5" d="M1260 249l3-16 2 7-2 14zM1263 254l2-14 2 7-2 12zM1297 240l2 4 2 15-2-6zM1299 244l3 4 2 16-3-5zM1302 248l2 4 2 18-2-6z"/>
<path fill="#e0a0a0" stroke="#e0a0a0" stroke-opacity="1" stroke-width="0.5" d="M1304 252l3 5 2 18-3-5zM1307 257l2 5 2 18-2-5zM1309 262l3 5 2 19-3-6zM1256 262l2-18 2 5-2 16zM1258 265l2-16 3 5-3 14zM1260 268l3-14 2 5-3 12zM1299 253l2 6 2 14-3-6zM1301 259l3 5 1 16-2-7z"/>
<path fill="#e0a8a8" stroke="#e0a8a8" stroke-opacity="1" stroke-width="0.5" d="M1306 270l3 5 1 17-2-5zM1309 275l2 5 2 18-3-6zM1254 279l2-17 2 3-2 16zM1256 281l2-16 2 3-2 14zM1258 282l2-14 2 3-2 12zM1300 267l3 6 2 15-3-8zM1303 273l2 7 2 15-2-7zM1304 264l2 6 2 17-3-7z"/>
<path fill="#e0b0b0" stroke="#e0b0b0" stroke-opacity="1" stroke-width="0.5" d="M1308 287l2 5 2 17-2-6zM1311 280l3 6 1 18-2-6zM1305 280l3 7 2 16-3-8z"/>
<path fill="#e0b8b8" stroke="#e0b8b8" stroke-opacity="1" stroke-width="0.5" d="M1310 292l3 6 1 18-2-7zM1313 298l2 6 2 18-3-6zM1130 354l1-18 3 6-1 17zM1133 359l1-17 3 7-1 15z"/>
<path fill="#e0c0c0" stroke="#e0c0c0" stroke-opacity="1" stroke-width="0.5" d="M1129 372l1-18 3 5-1 16zM1136 364l1-15 3 6-2 14z"/>
<path fill="#e0c0c8" stroke="#e0c0c8" stroke-opacity="1" stroke-width="0.5" d="M1132 375l1-16 3 5-2 15z"/>
<path fill="#e0c8c8" stroke="#e0c8c8" stroke-opacity="1" stroke-width="0.5" d="M1134 379l2-15 2 5-1 14z"/>
<path fill="#e0c8c8" d="M1330 361l8 16 6-3-8 4zM1338 377l8-4 5 15-7-14z"/>
<path fill="#e0e0e8" d="M1383 448l8-6 6 0-8-9zM1453 457l10-8 4 2-7-8zM1328 443l7 4 6-1-7-6z"/>
<path fill="#e0e0f0" d="M1405 446l7 6 6-6-8-1zM1439 458l10-8 4 7-7-14zM1377 443l8 13 6-14-8 6z"/>
<path fill="#e8b0b0" stroke="#e8b0b0" stroke-opacity="1" stroke-width="0.5" d="M1329 291l2 18 2 12-3-15z"/>
<path fill="#e8b8b8" stroke="#e8b8b8" stroke-opacity="1" stroke-width="0.5" d="M1330 306l3 15 1 11-2-11zM1331 309l2 18 2 8-2-14z"/>
<path fill="#e8c0c0" stroke="#e8c0c0" stroke-opacity="1" stroke-width="0.5" d="M1332 321l2 11 2 12-2-8zM1333 321l2 14 2 8-3-11zM1333 327l2 17 2 5-2-14z"/>
<path fill="#e8c8c8" stroke="#e8c8c8" stroke-opacity="1" stroke-width="0.5" d="M1334 332l3 11 1 8-2-7zM1335 335l2 14 2 5-2-11zM1337 343l2 11 2 5-3-8z"/>
<path fill="#e8d0d0" stroke="#e8d0d0" stroke-opacity="1" stroke-width="0.5" d="M1336 350l2 15 2 4-3-12zM1334 358l2 20 2 1-2-17z"/>
<path fill="#e8d0d8" stroke="#e8d0d8" stroke-opacity="1" stroke-width="0.5" d="M1336 362l2 17 2 1-2-15z"/>
<path fill="#e8d0d8" d="M1346 373l7 28 6 1-8-14z"/>
<path fill="#e8d8d8" stroke="#e8d8d8" stroke-opacity="1" stroke-width="0.5" d="M1338 365l2 15 2 1-2-12z"/>
<path fill="#e8e0e8" d="M1354 421l8 11 5-1-7-13zM1389 433l8 9 7-20-9 1zM1320 430l8 13 6-3-8-9zM1326 431l8 9 6-24-7-7zM1306 440l8 8 6-18-8 2z"/>
<path fill="#e8e0f0" d="M1347 440l8 3 7-11-8-11zM1460 443l7 8 8-19-9-2z"/>
<path fill="#e8e8f0" d="M1522 449l10-6 3 9-6-19zM1410 445l8 1 6-5-7-15zM1502 433l8 9 5-2-8-10zM1397 442l8 4 5-1-6-23zM1334 440l7 6 6-6-7-24zM1341 446l8 5 6-8-8-3zM1363 449l7 13 7-19-8 5zM1497 434l6 24 7-16-8-9z"/>
<path fill="#e8e8f8" d="M1510 442l7 12 5-5-7-9zM1446 443l7 14 7-14-8-8zM1503 458l8 0 6-4-7-12z"/>
<path fill="#f0c0c0" stroke="#f0c0c0" stroke-opacity="1" stroke-width="0.5" d="M1330 317l2 21 2 6-2-18zM1332 326l2 18 2 6-3-15z"/>
<path fill="#f0c8c8" stroke="#f0c8c8" stroke-opacity="1" stroke-width="0.5" d="M1333 335l3 15 1 7-2-13zM1332 338l2 20 2 4-2-18z"/>
<path fill="#f0d0d0" stroke="#f0d0d0" stroke-opacity="1" stroke-width="0.5" d="M1334 344l2 18 2 3-2-15z"/>
<path fill="#f0e0e8" d="M1347 405l7 16 6-3-7-17zM1319 412l7 19 7-22-8-1zM1305 414l7 18 7-20-8-8zM1340 416l7 24 7-19-7-16z"/>
<path fill="#f0e8f0" d="M1404 422l6 23 7-19-8 3zM1312 432l8-2 6 1-7-19zM1298 426l8 14 6-8-7-18z"/>
<path fill="#f0e8f8" d="M1355 443l8 6 6-1-7-16zM1391 442l7 16 7-12-8-4z"/>
<path fill="#f8e0e0" d="M1317 395l8 13 6-18-7-9z"/>
<path fill="#f8e0e8" d="M1311 404l8 8 6-4-8-13z"/>
<path fill="#c8c8d8" d="M1420 457l9 1 5-3-9 12z"/>
<path fill="#d8d8e0" d="M1449 450l7 9 7-10-10 8zM1498 453l8 5 5 0-8 0zM1293 454l8 3 6-11-7 5z"/>
<path fill="#d8d8e8" d="M1392 464l8 5 7-14-9 3z"/>
<path fill="#e09898" d="M1281 252l8-22 6 37-8-23zM1267 247l8-4 6 9-7 4zM1289 230l8 10 5 40-7-13z"/>
<path fill="#e0a0a0" stroke="#e0a0a0" stroke-opacity="1" stroke-width="0.5" d="M1204 282l2-14 2 5-2 14zM1206 287l2-14 3 5-2 15z"/>
<path fill="#e0a0a0" d="M1227 275l6-30 7 26-6 21z"/>
<path fill="#e0a8a8" stroke="#e0a8a8" stroke-opacity="1" stroke-width="0.5" d="M1177 315l2-11 2-5-1 15zM1180 314l1-15 2-6-1 20zM1182 313l1-20 2-5-1 25zM1202 295l2-13 2 5-1 15zM1205 302l1-15 3 6-2 15zM1209 293l2-15 2 4-2 17z"/>
<path fill="#e0b0b0" stroke="#e0b0b0" stroke-opacity="1" stroke-width="0.5" d="M1176 326l1-11 3-1-2 16zM1178 330l2-16 2-1-1 20zM1200 308l2-13 3 7-2 13zM1203 315l2-13 2 6-2 15zM1207 308l2-15 2 6-1 15z"/>
<path fill="#e0b0b0" d="M1321 286l8 5 5 45-8-14z"/>
<path fill="#e0b8b8" stroke="#e0b8b8" stroke-opacity="1" stroke-width="0.5" d="M1174 337l2-11 2 4-1 15zM1181 333l1-20 2 0-1 23zM1205 323l2-15 3 6-2 16z"/>
<path fill="#e0c0c0" stroke="#e0c0c0" stroke-opacity="1" stroke-width="0.5" d="M1177 345l1-15 3 3-2 19zM1179 352l2-19 2 3-1 24z"/>
<path fill="#e0d8e0" d="M1463 449l7 9 7-16-10 9z"/>
<path fill="#e0e0e8" d="M1300 451l7-5 7 2-8-8zM1398 458l9-3 5-3-7-6zM1467 451l10-9 5 1-7-11zM1370 462l9-10 6 4-8-13zM1307 446l8 12 6-3-7-7zM1343 460l8 0 6-8-8-1z"/>
<path fill="#e0e0f0" d="M1511 458l8 9 7-15-9 2zM1434 455l7 15 8-20-10 8zM1506 458l8 8 5 1-8-9z"/>
<path fill="#e8c8d0" d="M1331 390l9-4 6-13-8 4z"/>
<path fill="#e8d0d8" d="M1325 408l8 1 7-23-9 4z"/>
<path fill="#e8e0e8" d="M1286 432l7 22 7-3-8-19z"/>
<path fill="#e8e0f0" d="M1349 451l8 1 6-3-8-6zM1357 452l8 9 5 1-7-13zM1483 462l9-1 6-8-8-7z"/>
<path fill="#e8e8f0" d="M1292 432l8 19 6-11-8-14zM1314 448l7 7 7-12-8-13zM1321 455l8 5 6-13-7-4zM1490 446l8 7 5 5-6-24zM1315 458l8 7 6-5-8-5zM1441 470l9-3 6-8-7-9z"/>
<path fill="#e8e8f8" d="M1385 456l7 8 6-6-7-16zM1335 447l8 13 6-9-8-5z"/>
<path fill="#f0e0e0" d="M1333 409l7 7 7-11-7-19z"/>
<path fill="#f0e8f0" d="M1477 442l6 20 7-16-8-3z"/>
<path fill="#f0e8f8" d="M1407 455l7 12 6-10-8-5zM1456 459l8 10 6-11-7-9z"/>
<path fill="#f8d8d8" d="M1324 381l7 9 7-13-8-16z"/>
<path fill="#f8d8e0" d="M1340 386l7 19 6-4-7-28z"/>
<path fill="#d0d0d8" d="M1365 461l8-9 6 0-9 10zM1323 465l8-3 6-12-8 10z"/>
<path fill="#d0d0e8" d="M1437 465l7 7 6-5-9 3z"/>
<path fill="#d8c8c8" stroke="#d8c8c8" stroke-opacity="1" stroke-width="0.5" d="M1126 390l1-18 2 0-1 17zM1094 407l0-17 3 4-1 16zM1100 398l1-14 3 5-1 13z"/>
<path fill="#d8c8d0" stroke="#d8c8d0" stroke-opacity="1" stroke-width="0.5" d="M1096 410l1-16 3 4-1 15zM1099 413l1-15 3 4-1 13z"/>
<path fill="#d8d8e0" d="M1329 460l8-10 6 10-8-13zM1479 456l8 8 5-3-9 1zM1408 470l9-2 6-3-9 2z"/>
<path fill="#d8d8e8" d="M1379 452l8 8 5 4-7-8z"/>
<path fill="#d8d8f0" d="M1394 472l8 7 6-9-8-1zM1458 473l8 6 6-9-8-1z"/>
<path fill="#e09090" d="M1275 243l7-2 7-11-8 22z"/>
<path fill="#e09898" d="M1247 250l7-3 7-21-7 53z"/>
<path fill="#e0a8a8" stroke="#e0a8a8" stroke-opacity="1" stroke-width="0.5" d="M1150 328l1-18 2 1-1 19zM1152 330l1-19 3 1-1 20z"/>
<path fill="#e0b0b0" stroke="#e0b0b0" stroke-opacity="1" stroke-width="0.5" d="M1155 332l1-20 2 0-1 22zM1123 356l0-18 3-1-1 18zM1125 355l1-18 2 0 0 18zM1128 355l0-18 3-1-1 18z"/>
<path fill="#e0b8b8" stroke="#e0b8b8" stroke-opacity="1" stroke-width="0.5" d="M1148 345l2-17 2 2-1 18zM1151 348l1-18 3 2-1 19zM1154 351l1-19 2 2-1 21zM1095 372l0-17 4 7-1 16zM1098 378l1-16 3 7-1 15z"/>
<path fill="#e0c0c0" stroke="#e0c0c0" stroke-opacity="1" stroke-width="0.5" d="M1147 361l1-16 3 3-1 18zM1150 366l1-18 3 3-1 20zM1122 374l1-18 2-1-1 18zM1124 373l1-18 3 0-1 17zM1127 372l1-17 2-1-1 18zM1094 390l1-18 3 6-1 16zM1101 384l1-15 3 6-1 14z"/>
<path fill="#e0c8c8" stroke="#e0c8c8" stroke-opacity="1" stroke-width="0.5" d="M1153 371l1-20 2 4-1 20zM1121 392l1-18 2-1 0 18zM1124 391l0-18 3-1-1 18zM1097 394l1-16 3 6-1 14z"/>
<path fill="#e0d8e8" d="M1414 467l9-2 6-7-9-1z"/>
<path fill="#e0e0e8" d="M1464 469l8 1 7-14-9 2zM1351 460l8-1 6 2-8-9zM1337 450l8 18 6-8-8 0zM1295 465l7-2 7 7-8-13z"/>
<path fill="#e0e0f0" d="M1429 458l8 7 4 5-7-15zM1387 460l7 12 6-3-8-5z"/>
<path fill="#e8e0e8" d="M1279 434l8 18 6 2-7-22z"/>
<path fill="#e8e0f0" d="M1281 475l7-9 7-1-8-13z"/>
<path fill="#e8e8f0" d="M1470 458l9-2 4 6-6-20zM1309 470l7 0 7-5-8-7zM1287 452l8 13 6-8-8-3zM1492 461l9 2 5-5-8-5zM1444 472l9 5 5-4-8-6z"/>
<path fill="#e8e8f8" d="M1400 469l8 1 6-3-7-12zM1301 457l8 13 6-12-8-12zM1450 467l8 6 6-4-8-10zM1381 467l7 19 6-14-7-12z"/>
<path fill="#f0c8c8" d="M1324 325l6 36 6 17-6-61z"/>
<path fill="#f0d0d0" d="M1311 337l6 58 7-14-7-32z"/>
<path fill="#f8d0d0" d="M1317 349l7 32 6-20-6-36z"/>
<path fill="#c8c8d8" d="M1382 486l9-3 6-5-9 8z"/>
<path fill="#d0d0e8" d="M1388 486l9-8 5 1-8-7z"/>
<path fill="#d8d8e0" d="M1302 463l8 7 6 0-7 0zM1402 479l9-3 6-8-9 2zM1274 455l8 22 6-11-7 9zM1431 463l9 4 4 5-7-7z"/>
<path fill="#d8d8e8" d="M1453 477l8 3 5-1-8-6z"/>
<path fill="#e09090" stroke="#e09090" stroke-opacity="1" stroke-width="0.5" d="M1197 271l1-23 3 7-2 19z"/>
<path fill="#e09090" d="M1261 226l7 0 7 17-8 4z"/>
<path fill="#e09898" stroke="#e09898" stroke-opacity="1" stroke-width="0.5" d="M1199 274l2-19 2 7-2 16zM1201 278l2-16 3 6-2 14z"/>
<path fill="#e09898" d="M1240 271l8-19 6-5-7 3zM1220 268l6-20 7-3-6 30z"/>
<path fill="#e0a0a0" stroke="#e0a0a0" stroke-opacity="1" stroke-width="0.5" d="M1169 300l2-17 3 7-2 15zM1172 305l2-15 2 7-1 13zM1195 292l2-21 2 3-2 19zM1197 293l2-19 2 4-1 16zM1200 294l1-16 3 4-2 13z"/>
<path fill="#e0a8a8" stroke="#e0a8a8" stroke-opacity="1" stroke-width="0.5" d="M1168 317l1-17 3 5-1 15zM1171 320l1-15 3 5-2 13zM1175 310l1-13 3 7-2 11zM1194 313l1-21 2 1-1 18zM1196 311l1-18 3 1-2 16zM1198 310l2-16 2 1-2 13z"/>
<path fill="#e0b0b0" stroke="#e0b0b0" stroke-opacity="1" stroke-width="0.5" d="M1167 333l1-16 3 3-2 14zM1169 334l2-14 2 3-2 13zM1173 323l2-13 2 5-1 11z"/>
<path fill="#e0b8b8" stroke="#e0b8b8" stroke-opacity="1" stroke-width="0.5" d="M1171 336l2-13 3 3-2 11z"/>
<path fill="#e0d8e0" d="M1359 459l8 8 6-15-8 9zM1339 466l7 6 7-3-8-1z"/>
<path fill="#e0d8e8" d="M1316 470l8 3 7-11-8 3zM1495 471l9-2 5-1-8-5z"/>
<path fill="#e0e0e8" d="M1345 468l8 1 6-10-8 1zM1423 465l8-2 6 2-8-7zM1466 479l9 4 6-14-9 1z"/>
<path fill="#e0e0f8" d="M1374 476l8 10 6 0-7-19z"/>
<path fill="#e89898" stroke="#e89898" stroke-opacity="1" stroke-width="0.5" d="M1314 245l2 14 2 14-2-13z"/>
<path fill="#e8a0a0" stroke="#e8a0a0" stroke-opacity="1" stroke-width="0.5" d="M1316 260l2 13 2 13-3-12zM1316 259l3 14 1 13-2-13zM1319 273l2 13 2 13-3-13z"/>
<path fill="#e8a8a8" stroke="#e8a8a8" stroke-opacity="1" stroke-width="0.5" d="M1317 274l3 12 2 13-3-11zM1318 273l2 13 2 12-2-12z"/>
<path fill="#e8b0b0" stroke="#e8b0b0" stroke-opacity="1" stroke-width="0.5" d="M1320 286l2 12 2 13-2-12zM1320 286l3 13 1 12-2-13z"/>
<path fill="#e8b8b8" stroke="#e8b8b8" stroke-opacity="1" stroke-width="0.5" d="M1322 298l2 13 2 11-2-11z"/>
<path fill="#e8d8e0" stroke="#e8d8e0" stroke-opacity="1" stroke-width="0.5" d="M1290 411l2 21 2-2-2-20zM1292 410l2 20 2-2-2-19zM1294 409l2 19 2-2-2-18z"/>
<path fill="#e8e0f0" d="M1273 445l8 30 6-23-8-18zM1472 470l9-1 6-5-8-8zM1373 452l8 15 6-7-8-8zM1310 470l8 9 6-6-8-3z"/>
<path fill="#e8e8f0" d="M1501 463l8 5 5-2-8-8zM1487 464l8 7 6-8-9-2zM1288 466l8 10 6-13-7 2zM1417 468l7 13 7-18-8 2zM1367 467l7 9 7-9-8-15zM1324 473l8 6 7-13-8-4z"/>
<path fill="#f0c0c0" stroke="#f0c0c0" stroke-opacity="1" stroke-width="0.5" d="M1304 340l3 22 2-2-3-21zM1306 339l3 21 2-2-2-20zM1309 338l2 20 2-2-2-19z"/>
<path fill="#f0c8c8" stroke="#f0c8c8" stroke-opacity="1" stroke-width="0.5" d="M1285 369l2 22 2-1-2-20zM1287 370l2 20 3 0-3-19zM1289 371l3 19 2 0-3-18z"/>
<path fill="#f0c8d0" stroke="#f0c8d0" stroke-opacity="1" stroke-width="0.5" d="M1311 358l2 20 2-2-2-20z"/>
<path fill="#f0d0d0" stroke="#f0d0d0" stroke-opacity="1" stroke-width="0.5" d="M1307 362l2 21 2-2-2-21zM1309 360l2 21 2-3-2-20z"/>
<path fill="#f0d0d8" stroke="#f0d0d8" stroke-opacity="1" stroke-width="0.5" d="M1287 391l3 20 2-1-3-20zM1289 390l3 20 2-1-2-19z"/>
<path fill="#f0d8d8" stroke="#f0d8d8" stroke-opacity="1" stroke-width="0.5" d="M1309 383l2 21 2-3-2-20zM1311 381l2 20 2-3-2-20zM1313 378l2 20 2-3-2-19zM1292 390l2 19 2-1-2-18z"/>
<path fill="#f0e8f0" d="M1331 462l8 4 6 2-8-18z"/>
<path fill="#f0e8f8" d="M1481 469l8 13 6-11-8-7zM1353 469l7 6 7-8-8-8z"/>
<path fill="#f0f0f8" d="M1360 475l8 12 6-11-7-9z"/>
<path fill="#ffa8a8" d="M1290 245l8 15 6-8-7-12z"/>
<path fill="#d8d0e0" d="M1489 482l9-7 6-6-9 2zM1275 480l8-2 7 1-8-2z"/>
<path fill="#d8d8e0" d="M1354 481l9-6 5 12-8-12zM1469 483l9 3 5-4-8 1z"/>
<path fill="#d8d8e8" d="M1461 480l8 3 6 0-9-4z"/>
<path fill="#e09090" d="M1233 245l8-3 7 10-8 19zM1268 226l8 11 6 4-7 2z"/>
<path fill="#e09898" d="M1213 282l7-9 6-25-6 20zM1306 250l8-5 5 43-7-21zM1206 268l7 6 7-1-7 9z"/>
<path fill="#e0a8a8" stroke="#e0a8a8" stroke-opacity="1" stroke-width="0.5" d="M1141 333l2-23 4 0-2 24zM1145 334l2-24 4 0-2 26zM1114 342l1-16 3 4-1 16z"/>
<path fill="#e0b0b0" stroke="#e0b0b0" stroke-opacity="1" stroke-width="0.5" d="M1113 357l1-15 3 4-1 17zM1117 346l1-16 3 4-1 17zM1120 351l1-17 2 4 0 18z"/>
<path fill="#e0b8b8" stroke="#e0b8b8" stroke-opacity="1" stroke-width="0.5" d="M1140 355l1-22 4 1-2 24zM1143 358l2-24 4 2-2 25zM1116 363l1-17 3 5-1 17zM1119 368l1-17 3 5-1 18z"/>
<path fill="#e0c0c0" stroke="#e0c0c0" stroke-opacity="1" stroke-width="0.5" d="M1112 371l1-14 3 6-1 15zM1115 378l1-15 3 5-1 17z"/>
<path fill="#e0c0c0" d="M1085 391l3-32 7-4-1 52z"/>
<path fill="#e0c8c8" stroke="#e0c8c8" stroke-opacity="1" stroke-width="0.5" d="M1118 385l1-17 3 6-1 18z"/>
<path fill="#e0d8e0" d="M1266 440l8 15 7 20-8-30z"/>
<path fill="#e0d8e8" d="M1440 467l7 11 6-1-9-5z"/>
<path fill="#e0e0e8" d="M1424 481l9-3 7-11-9-4zM1290 479l7 3 7 2-8-8zM1326 490l8-4 6-5-8-2zM1312 485l8 1 6 4-8-11z"/>
<path fill="#e0e0f0" d="M1397 478l7 10 7-12-9 3zM1368 487l8-3 6 2-8-10zM1418 486l9 5 6-13-9 3z"/>
<path fill="#e89090" d="M1254 247l8-12 6-9-7 0z"/>
<path fill="#e89898" d="M1298 260l8-10 6 17-8-15zM1248 252l7 5 7-22-8 12z"/>
<path fill="#e8d8e0" stroke="#e8d8e0" stroke-opacity="1" stroke-width="0.5" d="M1296 408l2 18 3-4-3-20zM1283 414l3 18 2 0-3-19zM1285 413l3 19 2 0-2-20zM1288 412l2 20 2 0-2-21z"/>
<path fill="#e8e8f0" d="M1296 476l8 8 6-14-8-7zM1346 472l8 9 6-6-7-6zM1304 484l8 1 6-6-8-9zM1332 479l8 2 6-9-7-6z"/>
<path fill="#e8e8f8" d="M1282 477l8 2 6-3-8-10zM1411 476l7 10 6-5-7-13zM1475 483l8-1 6 0-8-13zM1447 478l8 10 6-8-8-3zM1404 488l9 0 5-2-7-10zM1455 488l8 9 6-14-8-3zM1297 482l8 19 7-16-8-1z"/>
<path fill="#f0a8a8" stroke="#f0a8a8" stroke-opacity="1" stroke-width="0.5" d="M1323 282l2 11 2 6-2-14zM1325 285l2 14 2 5-2-16zM1327 288l2 16 2 5-2-18zM1325 293l3 12 1 7-2-13z"/>
<path fill="#f0b0b0" stroke="#f0b0b0" stroke-opacity="1" stroke-width="0.5" d="M1327 299l2 13 2 8-2-16zM1328 305l2 12 2 9-3-14z"/>
<path fill="#f0b8b8" stroke="#f0b8b8" stroke-opacity="1" stroke-width="0.5" d="M1329 304l2 16 2 7-2-18zM1329 312l3 14 1 9-2-15z"/>
<path fill="#f0c0c0" stroke="#f0c0c0" stroke-opacity="1" stroke-width="0.5" d="M1331 320l2 15 2 9-2-17zM1298 340l2 25 2-1-2-24zM1300 340l2 24 3-1-3-23zM1302 340l3 23 2-1-3-22z"/>
<path fill="#f0c8c8" stroke="#f0c8c8" stroke-opacity="1" stroke-width="0.5" d="M1278 379l3 18 2-2-3-20zM1280 375l3 20 2-2-2-21zM1283 372l2 21 2-2-2-22z"/>
<path fill="#f0c8d0" stroke="#f0c8d0" stroke-opacity="1" stroke-width="0.5" d="M1300 365l3 25 2-2-3-24zM1302 364l3 24 2-3-2-22zM1305 363l2 22 2-2-2-21z"/>
<path fill="#f0d0d0" stroke="#f0d0d0" stroke-opacity="1" stroke-width="0.5" d="M1296 382l2 20 2-6-2-22zM1298 374l2 22 3-6-3-25z"/>
<path fill="#f0d0d8" stroke="#f0d0d8" stroke-opacity="1" stroke-width="0.5" d="M1281 397l2 17 2-1-2-18zM1283 395l2 18 3-1-3-19zM1285 393l3 19 2-1-3-20z"/>
<path fill="#f0d8d8" stroke="#f0d8d8" stroke-opacity="1" stroke-width="0.5" d="M1294 390l2 18 2-6-2-20zM1303 390l2 24 2-4-2-22zM1305 388l2 22 2-3-2-22zM1307 385l2 22 2-3-2-21z"/>
<path fill="#f0d8e0" stroke="#f0d8e0" stroke-opacity="1" stroke-width="0.5" d="M1298 402l3 20 2-4-3-22zM1300 396l3 22 2-4-2-24z"/>
<path fill="#f0e8f0" d="M1268 473l7 7 7-3-8-22z"/>
<path fill="#f0e8f8" d="M1261 483l8 7 6-10-7-7zM1433 478l8 10 6-10-7-11z"/>
<path fill="#f0f0f8" d="M1318 479l8 11 6-11-8-6z"/>
<path fill="#f8a0a0" d="M1276 237l8 16 6-8-8-4z"/>
<path fill="#f8c0c0" stroke="#f8c0c0" stroke-opacity="1" stroke-width="0.5" d="M1296 351l2 23 2-9-2-25z"/>
<path fill="#f8c8c8" stroke="#f8c8c8" stroke-opacity="1" stroke-width="0.5" d="M1291 372l3 18 2-8-3-21zM1293 361l3 21 2-8-2-23z"/>
<path fill="#ffa0a0" d="M1282 241l8 4 7-5-8-10z"/>
<path fill="#c0c0d8" d="M1299 508l8-11 6 3-8 1z"/>
<path fill="#d0d0d8" d="M1483 482l10-1 5-6-9 7zM1413 488l9-6 5 9-9-5z"/>
<path fill="#d8d0e0" d="M1463 497l10-10 5-1-9-3zM1334 486l8-1 6-6-8 2z"/>
<path fill="#d8d8e0" d="M1376 484l8 3 7-4-9 3zM1391 483l8-2 5 7-7-10zM1269 490l8-1 6-11-8 2z"/>
<path fill="#d8d8e8" d="M1305 501l8-1 7-14-8-1zM1450 483l8 10 5 4-8-9zM1370 498l8-6 6-5-8-3z"/>
<path fill="#d8d8f0" d="M1284 497l8 17 7-6-8-14z"/>
<path fill="#d8d8f8" d="M1291 494l8 14 6-7-8-19z"/>
<path fill="#e09090" stroke="#e09090" stroke-opacity="1" stroke-width="0.5" d="M1194 276l2-15 2-13-1 23z"/>
<path fill="#e09090" d="M1284 253l8-24 6 31-8-15z"/>
<path fill="#e09898" stroke="#e09898" stroke-opacity="1" stroke-width="0.5" d="M1190 286l3-1 1-12-2 8zM1192 281l2-8 2-12-2 15z"/>
<path fill="#e0a0a0" stroke="#e0a0a0" stroke-opacity="1" stroke-width="0.5" d="M1185 288l3-1 2 2-2 7zM1188 296l2-7 3 1-2 15zM1188 287l2-1 2-5-2 8zM1190 289l2-8 2-5-1 14zM1193 290l1-14 3-5-2 21z"/>
<path fill="#e0a0a0" d="M1158 312l6-23 7-6-4 50z"/>
<path fill="#e0a8a8" stroke="#e0a8a8" stroke-opacity="1" stroke-width="0.5" d="M1191 305l2-15 2 2-1 21z"/>
<path fill="#e0a8a8" d="M1131 336l5-29 7 3-3 45z"/>
<path fill="#e0d8e8" d="M1427 491l9-7 5 4-8-10zM1320 486l7 9 7-9-8 4zM1255 480l7 9 7 1-8-7z"/>
<path fill="#e0e0e8" d="M1340 481l8-2 6 2-8-9zM1441 488l9-5 5 5-8-10zM1399 481l8 13 6-6-9 0zM1478 486l8 6 7-11-10 1z"/>
<path fill="#e89898" d="M1249 258l7 1 7 12-8-14z"/>
<path fill="#e8a8a8" d="M1179 304l7-8 7-11-8 3z"/>
<path fill="#e8e0f0" d="M1363 475l7 23 6-14-8 3zM1348 479l8 12 7-16-9 6z"/>
<path fill="#e8e8f8" d="M1356 491l8 10 6-3-7-23z"/>
<path fill="#f09898" d="M1241 242l8 16 6-1-7-5zM1255 257l8 14 6-41-7 5z"/>
<path fill="#f0d0d0" d="M1272 384l7 50 7-2-8-53z"/>
<path fill="#f0e0e8" d="M1260 458l8 15 6-18-8-15z"/>
<path fill="#f0e8f0" d="M1253 467l8 16 7-10-8-15z"/>
<path fill="#f0e8f8" d="M1283 478l8 16 6-12-7-3z"/>
<path fill="#f8a0a0" d="M1234 252l8 33 7-27-8-16z"/>
<path fill="#f8a8a8" d="M1228 268l8 19 6-2-8-33z"/>
<path fill="#f8b0b0" d="M1316 280l8 45 6-8-7-35z"/>
<path fill="#f8b8b8" d="M1310 309l7 40 7-24-8-45z"/>
<path fill="#c0c0e0" d="M1292 514l8-3 7-14-8 11z"/>
<path fill="#d0d0d8" d="M1407 494l8-4 7-8-9 6z"/>
<path fill="#d0d0f8" d="M1314 515l8 4 7-7-8-8z"/>
<path fill="#d8d8e0" d="M1364 501l8 0 6-9-8 6zM1458 493l8 8 7-14-10 10zM1327 495l8-2 7-8-8 1z"/>
<path fill="#d8d8f0" d="M1423 509l7 13 8-27-9 6z"/>
<path fill="#d8d8f8" d="M1278 511l8 3 6 0-8-17zM1394 517l8 0 6-5-7-14z"/>
<path fill="#e09090" d="M1242 285l7-32 7 6-7-1z"/>
<path fill="#e09898" d="M1236 287l7-19 6-15-7 32z"/>
<path fill="#e0a0a0" stroke="#e0a0a0" stroke-opacity="1" stroke-width="0.5" d="M1106 335l0-21 3 4 0 19zM1109 337l0-19 3 4-1 17z"/>
<path fill="#e0a0a0" d="M1151 310l7-5 6-16-6 23z"/>
<path fill="#e0a8a8" stroke="#e0a8a8" stroke-opacity="1" stroke-width="0.5" d="M1111 339l1-17 3 4-1 16z"/>
<path fill="#e0b0b0" stroke="#e0b0b0" stroke-opacity="1" stroke-width="0.5" d="M1105 355l1-20 3 2-1 19zM1108 356l1-19 2 2-1 17zM1110 356l1-17 3 3-1 15z"/>
<path fill="#e0b8b8" stroke="#e0b8b8" stroke-opacity="1" stroke-width="0.5" d="M1105 375l0-20 3 1-1 18zM1107 374l1-18 2 0 0 17zM1110 373l0-17 3 1-1 14z"/>
<path fill="#e0d8e0" d="M1246 455l9 25 6 3-8-16z"/>
<path fill="#e0d8e8" d="M1436 484l8 9 6-10-9 5z"/>
<path fill="#e0e0e8" d="M1384 487l9 5 6-11-8 2zM1262 489l8 8 7-8-8 1zM1429 501l9-6 6-2-8-9z"/>
<path fill="#e0e0f0" d="M1321 504l8 8 6-19-8 2z"/>
<path fill="#e0e0f8" d="M1307 497l7 18 7-11-8-4z"/>
<path fill="#e89090" d="M1292 229l7 31 7-10-8 10z"/>
<path fill="#e89898" d="M1213 274l8-3 7-3-8 5zM1316 242l7 40 6 9-8-5zM1277 245l8 17 7-33-8 24zM1299 260l8-3 7-12-8 5zM1278 274l8-3 7-17-8 8zM1186 296l7-9 7-5-7 3z"/>
<path fill="#e8d8d8" stroke="#e8d8d8" stroke-opacity="1" stroke-width="0.5" d="M1270 419l3 26 2-3-3-23zM1272 419l3 23 2-4-2-20zM1275 418l2 20 2-4-2-16z"/>
<path fill="#e8e0e8" d="M1473 487l8 8 5-3-8-6zM1378 492l9 4 6-4-9-5z"/>
<path fill="#e8e0f0" d="M1342 485l8 6 6 0-8-12z"/>
<path fill="#e8e8f0" d="M1422 482l7 19 7-17-9 7zM1350 491l7 17 7-7-8-10zM1401 498l7 14 7-22-8 4zM1415 490l8 19 6-8-7-19z"/>
<path fill="#e8e8f8" d="M1313 500l8 4 6-9-7-9zM1277 489l7 8 7-3-8-16zM1387 496l7 21 7-19-8-6zM1408 512l8 5 7-8-8-19z"/>
<path fill="#f09090" d="M1262 235l7-5 7 7-8-11z"/>
<path fill="#f09898" d="M1269 230l8 15 7 8-8-16zM1256 259l8 16 7-22-8 18zM1226 248l8 4 7-10-8 3zM1263 271l8-18 6-8-8-15z"/>
<path fill="#f0a0a0" d="M1220 273l8-5 6-16-8-4zM1198 248l9 36 6-10-7-6zM1207 284l7-1 7-12-8 3zM1221 271l8 6 7 10-8-19z"/>
<path fill="#f0b0b0" d="M1303 295l8 42 6 12-7-40z"/>
<path fill="#f0c0c0" stroke="#f0c0c0" stroke-opacity="1" stroke-width="0.5" d="M1265 365l3 27 2 3-3-24zM1267 371l3 24 2 3-3-20z"/>
<path fill="#f0c8c8" stroke="#f0c8c8" stroke-opacity="1" stroke-width="0.5" d="M1269 378l3 20 2 3-2-17z"/>
<path fill="#f0d0d0" stroke="#f0d0d0" stroke-opacity="1" stroke-width="0.5" d="M1268 392l2 27 2 0-2-24zM1270 395l2 24 3-1-3-20zM1272 398l3 20 2 0-3-17z"/>
<path fill="#f0e8f0" d="M1444 493l8 5 6-5-8-10z"/>
<path fill="#f0e8f8" d="M1270 497l8 14 6-14-7-8zM1393 492l8 6 6-4-8-13zM1248 488l8 9 6-8-7-9zM1452 498l7 17 7-14-8-8z"/>
<path fill="#f8a0a0" d="M1271 253l7 21 7-12-8-17z"/>
<path fill="#ffa8a8" d="M1264 275l8 2 6-3-7-21z"/>
<path fill="#c8c8d8" d="M1286 514l8-11 6 8-8 3zM1308 515l8-3 6 7-8-4z"/>
<path fill="#c8c8e0" d="M1271 514l8-1 7 1-8-3zM1402 517l9-5 5 5-8-5z"/>
<path fill="#c8c8e8" d="M1416 517l9-5 5 10-7-13zM1388 515l8 9 6-7-8 0z"/>
<path fill="#d0d0d8" d="M1322 519l9-14 6 2-8 5z"/>
<path fill="#d0d0e0" d="M1357 508l9-6 6-1-8 0zM1425 512l8 14 7-16-10 12z"/>
<path fill="#d8d8e0" d="M1235 505l7 5 7-10-8 5z"/>
<path fill="#d8d8e8" d="M1459 515l9-3 7-10-9-1z"/>
<path fill="#e09090" d="M1293 254l8-2 6 5-8 3zM1229 277l7-9 7 0-7 19zM1214 283l7-15 8 9-8-6z"/>
<path fill="#e09898" d="M1171 283l7-12 8 25-7 8zM1200 282l7-14 7 15-7 1z"/>
<path fill="#e0a0a0" stroke="#e0a0a0" stroke-opacity="1" stroke-width="0.5" d="M1076 344l0-28 4 15 0 22z"/>
<path fill="#e0a0a0" d="M1123 338l4-41 9 10-5 29zM1143 310l7-13 8 8-7 5z"/>
<path fill="#e0a8a8" stroke="#e0a8a8" stroke-opacity="1" stroke-width="0.5" d="M1080 353l0-22 4 14-1 16z"/>
<path fill="#e0b0b0" stroke="#e0b0b0" stroke-opacity="1" stroke-width="0.5" d="M1077 371l-1-27 4 9 0 21zM1080 374l0-21 3 8 0 16zM1083 361l1-16 4 14-1 11z"/>
<path fill="#e0b8b8" stroke="#e0b8b8" stroke-opacity="1" stroke-width="0.5" d="M1083 377l0-16 4 9-1 11z"/>
<path fill="#e0c0c0" stroke="#e0c0c0" stroke-opacity="1" stroke-width="0.5" d="M1077 397l0-26 3 3 0 21zM1080 395l0-21 3 3-1 16zM1082 393l1-16 3 4-1 10z"/>
<path fill="#e0e0e8" d="M1241 505l8-5 7-3-8-9z"/>
<path fill="#e0e0f8" d="M1445 518l9-4 5 1-7-17zM1300 511l8 4 6 0-7-18zM1430 522l10-12 5 8-7-23z"/>
<path fill="#e89090" d="M1307 257l9-15 5 44-7-41z"/>
<path fill="#e89898" d="M1272 277l8 0 6-6-8 3zM1249 253l8 9 7 13-8-16z"/>
<path fill="#e8e0e8" d="M1256 497l7 0 7 0-8-8z"/>
<path fill="#e8e0f0" d="M1233 482l8 23 7-17-8-22zM1227 489l8 16 6 0-8-23zM1249 500l8 6 6-9-7 0z"/>
<path fill="#e8e8f0" d="M1263 497l8 17 7-3-8-14zM1466 501l9 1 6-7-8-8zM1380 505l8 10 6 2-7-21zM1372 501l8 4 7-9-9-4zM1329 512l8-5 6-3-8-11zM1343 504l8 0 6 4-7-17zM1337 507l8 10 6-13-8 0z"/>
<path fill="#e8e8f8" d="M1438 495l7 23 7-20-8-5zM1257 506l8 15 6-7-8-17z"/>
<path fill="#f09898" d="M1286 271l8 6 7-25-8 2z"/>
<path fill="#f0a0a0" d="M1265 294l8-5 7-12-8 0z"/>
<path fill="#f0e0e8" d="M1240 466l8 22 7-8-9-25z"/>
<path fill="#f0e8f0" d="M1335 493l8 11 7-13-8-6z"/>
<path fill="#f0e8f8" d="M1366 502l7 19 7-16-8-4z"/>
<path fill="#f8a8a8" d="M1257 262l8 32 7-17-8-2zM1193 285l7-3 7 2-9-36zM1302 289l8 20 6-29-7-14z"/>
<path fill="#f8b0b0" d="M1297 298l7 42 7-3-8-42z"/>
<path fill="#ffa0a0" d="M1285 262l8-8 6 6-7-31z"/>
<path fill="#ffa8a8" d="M1280 277l8 11 6-11-8-6zM1273 289l8 8 7-9-8-11z"/>
<path fill="#d0d0d8" d="M1454 514l9-2 5 0-9 3z"/>
<path fill="#d0d0e0" d="M1440 510l8 9 6-5-9 4zM1396 524l9-3 6-9-9 5zM1258 522l8-4 7 7-8-4z"/>
<path fill="#d8d0e0" d="M1351 504l9 5 6-7-9 6zM1294 503l8 7 6 5-8-4z"/>
<path fill="#d8d8e0" d="M1373 521l9-11 6 5-8-10zM1279 513l8 7 7-17-8 11zM1316 512l8 10 7-17-9 14z"/>
<path fill="#d8d8e8" d="M1382 510l8 11 6 3-8-9z"/>
<path fill="#d8d8f0" d="M1265 521l8 4 6-12-8 1z"/>
<path fill="#e09090" d="M1193 287l7-5 7-14-7 14z"/>
<path fill="#e09898" stroke="#e09898" stroke-opacity="1" stroke-width="0.5" d="M1097 327l1-15 3 1-1 16zM1100 329l1-16 3 0-1 19z"/>
<path fill="#e09898" d="M1259 284l7-7 7 12-8 5z"/>
<path fill="#e0a0a0" stroke="#e0a0a0" stroke-opacity="1" stroke-width="0.5" d="M1096 341l1-14 3 2-1 17zM1103 332l1-19 2 1 0 21zM1072 358l1-11 2-15-1 19zM1074 351l1-19 1-16 0 28z"/>
<path fill="#e0a8a8" stroke="#e0a8a8" stroke-opacity="1" stroke-width="0.5" d="M1099 346l1-17 3 3-1 19zM1102 351l1-19 3 3-1 20zM1071 365l1-3 1-15-1 11z"/>
<path fill="#e0b0b0" stroke="#e0b0b0" stroke-opacity="1" stroke-width="0.5" d="M1095 355l1-14 3 5 0 16zM1099 362l0-16 3 5 0 18zM1067 371l2-3 2 1-1 11zM1069 368l2-3 1-7-1 11zM1071 369l1-11 2-7 0 19zM1074 370l0-19 2-7 1 27z"/>
<path fill="#e0b8b8" stroke="#e0b8b8" stroke-opacity="1" stroke-width="0.5" d="M1102 369l0-18 3 4 0 20zM1070 380l1-11 3 1 0 18zM1074 388l0-18 3 1 0 26z"/>
<path fill="#e0e0e8" d="M1360 509l8 4 5 8-7-19zM1236 517l7 1 7-5-8-3zM1331 505l8 12 6 0-8-10z"/>
<path fill="#e0e0f0" d="M1418 531l9-6 6 1-8-14z"/>
<path fill="#e89898" d="M1288 288l8-9 6 10-8-12zM1178 271l8 23 7-7-7 9zM1164 289l7 0 7-18-7 12z"/>
<path fill="#e8a0a0" d="M1296 279l7 16 7 14-8-20z"/>
<path fill="#e8d8e0" stroke="#e8d8e0" stroke-opacity="1" stroke-width="0.5" d="M1250 442l3 25 3-3-3-23zM1253 441l3 23 2-3-3-22zM1255 439l3 22 2-3-3-21z"/>
<path fill="#e8e0e8" d="M1220 489l8 19 7-3-8-16z"/>
<path fill="#e8e8f0" d="M1228 508l8 9 6-7-7-5zM1242 510l8 3 7-7-8-6zM1250 513l8 9 7-1-8-15zM1345 517l8 4 7-12-9-5zM1368 513l7 18 7-21-9 11zM1273 525l7-1 7-4-8-7z"/>
<path fill="#e8e8f8" d="M1411 512l7 19 7-19-9 5zM1339 517l7 16 7-12-8-4z"/>
<path fill="#f09898" d="M1301 252l8 14 7-24-9 15z"/>
<path fill="#f0a0a0" d="M1251 267l8 17 6 10-8-32zM1266 277l8 18 7 2-8-8z"/>
<path fill="#f0c0c0" stroke="#f0c0c0" stroke-opacity="1" stroke-width="0.5" d="M1258 379l3 21 2-3-3-23zM1260 374l3 23 2-2-2-25zM1263 370l2 25 3-3-3-27zM1244 391l3 26 3 0-3-25zM1247 392l3 25 2-1-3-24z"/>
<path fill="#f0c8c8" stroke="#f0c8c8" stroke-opacity="1" stroke-width="0.5" d="M1251 393l3 22 2-5-2-22zM1249 392l3 24 2-1-3-22z"/>
<path fill="#f0c8d0" stroke="#f0c8d0" stroke-opacity="1" stroke-width="0.5" d="M1261 400l3 20 2 0-3-23z"/>
<path fill="#f0d0d0" stroke="#f0d0d0" stroke-opacity="1" stroke-width="0.5" d="M1263 397l3 23 2 0-3-25zM1265 395l3 25 2-1-2-27zM1254 415l3 22 2-6-3-21zM1256 410l3 21 2-5-2-21zM1259 405l2 21 3-6-3-20zM1247 417l3 25 3-1-3-24zM1250 417l3 24 2-2-3-23zM1252 416l3 23 2-2-3-22z"/>
<path fill="#f0d8d8" stroke="#f0d8d8" stroke-opacity="1" stroke-width="0.5" d="M1264 420l2 20 3 2-3-22zM1266 420l3 22 2 2-3-24zM1268 420l3 24 2 1-3-26zM1261 426l3 20 2-6-2-20z"/>
<path fill="#f0d8e0" stroke="#f0d8e0" stroke-opacity="1" stroke-width="0.5" d="M1257 437l3 21 2-6-3-21zM1259 431l3 21 2-6-3-20z"/>
<path fill="#f0e8f8" d="M1221 514l8 10 7-7-8-9z"/>
<path fill="#f8a0a0" d="M1294 277l8 12 7-23-8-14zM1309 266l7 14 7 2-7-40zM1243 268l8-1 6-5-8-9z"/>
<path fill="#f8c0c0" stroke="#f8c0c0" stroke-opacity="1" stroke-width="0.5" d="M1256 384l3 21 2-5-3-21z"/>
<path fill="#f8c8c8" stroke="#f8c8c8" stroke-opacity="1" stroke-width="0.5" d="M1254 388l2 22 3-5-3-21z"/>
<path fill="#ffa8a8" d="M1207 268l8 27 6-27-7 15z"/>
<path fill="#c0c0f8" d="M1209 553l7 6 8-1-9-17z"/>
<path fill="#d0d0d8" d="M1302 510l8 1 6 1-8 3z"/>
<path fill="#d0d0f8" d="M1215 541l9 17 6-17-8-16z"/>
<path fill="#d8d0e0" d="M1427 525l9 3 7-11-10 9z"/>
<path fill="#d8d8e0" d="M1346 533l9-7 6-2-8-3zM1229 524l8-2 6-4-7-1z"/>
<path fill="#d8d8e8" d="M1433 526l10-9 5 2-8-9zM1390 521l8 7 7-7-9 3z"/>
<path fill="#d8d8f0" d="M1413 524l7 18 7-17-9 6zM1369 532l8 11 7-8-9-4z"/>
<path fill="#e09090" d="M1221 268l8 3 7-3-7 9zM1186 294l7-13 7 1-7 5zM1281 297l8-30 7 12-8 9z"/>
<path fill="#e09898" d="M1158 305l6-23 7 7-7 0zM1136 307l6-14 8 4-7 13z"/>
<path fill="#e0a0a0" d="M1115 326l6-16 6-13-4 41z"/>
<path fill="#e0d8e8" d="M1448 519l9 2 6-9-9 2z"/>
<path fill="#e0e0e8" d="M1266 518l8 13 6-7-7 1zM1332 525l8 0 6 8-7-16z"/>
<path fill="#e0e0f0" d="M1384 535l8 3 6-10-8-7z"/>
<path fill="#e0e0f8" d="M1406 542l9-1 5 1-7-18z"/>
<path fill="#e89898" d="M1215 295l7-15 7-9-8-3zM1179 302l8-2 6-19-7 13zM1208 279l8 17 6-16-7 15z"/>
<path fill="#e8d8e0" stroke="#e8d8e0" stroke-opacity="1" stroke-width="0.5" d="M1248 443l3 20 2 4-3-25z"/>
<path fill="#e8e0f0" d="M1353 521l8 3 7-11-8-4zM1287 520l8 7 7-17-8-7z"/>
<path fill="#e8e8f0" d="M1405 521l8 3 5 7-7-19zM1375 531l9 4 6-14-8-11zM1243 518l8 5 7-1-8-9zM1324 522l8 3 7-8-8-12zM1214 519l8 6 7-1-8-10z"/>
<path fill="#e8e8f8" d="M1280 524l8 11 7-8-8-7zM1361 524l8 8 6-1-7-18zM1398 528l8 14 7-18-8-3z"/>
<path fill="#f0a0a0" stroke="#f0a0a0" stroke-opacity="1" stroke-width="0.5" d="M1277 308l3 21 2-1-3-21zM1279 307l3 21 2 0-3-22z"/>
<path fill="#f0a0a0" d="M1164 282l8 17 7 3-8-13z"/>
<path fill="#f0a8a8" stroke="#f0a8a8" stroke-opacity="1" stroke-width="0.5" d="M1281 306l3 22 2-1-2-23z"/>
<path fill="#f0a8a8" d="M1290 288l8 52 6 0-7-42z"/>
<path fill="#f0b0b0" stroke="#f0b0b0" stroke-opacity="1" stroke-width="0.5" d="M1280 329l2 20 2 0-2-21zM1282 328l2 21 3 1-3-22zM1284 328l3 22 2 0-3-23z"/>
<path fill="#f0b8b8" stroke="#f0b8b8" stroke-opacity="1" stroke-width="0.5" d="M1282 349l3 20 2 1-3-21z"/>
<path fill="#f0c0c0" stroke="#f0c0c0" stroke-opacity="1" stroke-width="0.5" d="M1284 349l3 21 2 1-2-21zM1287 350l2 21 2 1-2-22z"/>
<path fill="#f0c8c8" stroke="#f0c8c8" stroke-opacity="1" stroke-width="0.5" d="M1238 420l3 12 2-5-3-16zM1240 411l3 16 2-5-3-21zM1242 401l3 21 2-5-3-26z"/>
<path fill="#f0d0d0" stroke="#f0d0d0" stroke-opacity="1" stroke-width="0.5" d="M1241 432l3 11 2 0-3-16zM1243 427l3 16 2 0-3-21zM1245 422l3 21 2-1-3-25z"/>
<path fill="#f0d0d0" d="M1231 415l9 51 6-11-8-35z"/>
<path fill="#f0d8d8" stroke="#f0d8d8" stroke-opacity="1" stroke-width="0.5" d="M1244 443l2 12 3 4-3-16z"/>
<path fill="#f0d8e0" stroke="#f0d8e0" stroke-opacity="1" stroke-width="0.5" d="M1246 443l3 16 2 4-3-20z"/>
<path fill="#f0e8f0" d="M1213 500l8 14 7-6-8-19z"/>
<path fill="#f0e8f8" d="M1443 517l7 18 7-14-9-2z"/>
<path fill="#f8a0a0" stroke="#f8a0a0" stroke-opacity="1" stroke-width="0.5" d="M1286 299l2 21 3-7-3-19zM1288 294l3 19 2-7-3-18z"/>
<path fill="#f8a0a0" d="M1236 268l8 10 7-11-8 1zM1244 278l8-3 7 9-8-17zM1200 282l8-3 7 16-8-27zM1252 275l8 18 6-16-7 7z"/>
<path fill="#f8a8a8" stroke="#f8a8a8" stroke-opacity="1" stroke-width="0.5" d="M1284 304l2 23 2-7-2-21zM1291 313l2 19 2-9-2-17zM1270 326l3 18 2-5-3-19zM1272 320l3 19 2-5-2-20zM1275 314l2 20 3-5-3-21z"/>
<path fill="#f8a8a8" d="M1171 289l8 13 7-8-8-23zM1260 293l8 15 6-13-8-18z"/>
<path fill="#f8b0b0" stroke="#f8b0b0" stroke-opacity="1" stroke-width="0.5" d="M1286 327l3 23 2-9-3-21zM1288 320l3 21 2-9-2-19zM1275 339l3 18 2-4-3-19zM1277 334l3 19 2-4-2-20z"/>
<path fill="#f8b8b8" stroke="#f8b8b8" stroke-opacity="1" stroke-width="0.5" d="M1291 341l2 20 3-10-3-19zM1293 332l3 19 2-11-3-17zM1273 344l3 17 2-4-3-18z"/>
<path fill="#f8c0c0" stroke="#f8c0c0" stroke-opacity="1" stroke-width="0.5" d="M1289 350l2 22 2-11-2-20zM1276 361l2 18 2-4-2-18zM1278 357l2 18 3-3-3-19zM1280 353l3 19 2-3-3-20z"/>
<path fill="#ffa8a8" d="M1253 302l8 14 7-8-8-15z"/>
<path fill="#ffb0b0" d="M1172 299l9 28 6-27-8 2z"/>
<path fill="#b0b0f0" d="M1216 559l9 13 6-19-7 5z"/>
<path fill="#b0b0f8" d="M1210 566l8 8 7-2-9-13zM1225 572l7 1 7-9-8-11z"/>
<path fill="#c0c0e0" d="M1224 558l7-5 7-16-8 4z"/>
<path fill="#c0c0f8" d="M1202 559l8 7 6-7-7-6z"/>
<path fill="#c8c8d8" d="M1377 543l9-9 6 4-8-3z"/>
<path fill="#d0d0d8" d="M1288 535l8-7 7-7-8 6zM1340 525l9 4 6-3-9 7z"/>
<path fill="#d0d0e0" d="M1401 538l8 4 6-1-9 1z"/>
<path fill="#d0d0e8" d="M1415 541l8 11 7-22-10 12z"/>
<path fill="#d8d0d8" d="M1310 511l8 1 6 10-8-10z"/>
<path fill="#d8d8e0" d="M1295 527l8-6 7-10-8-1zM1251 523l8 5 7-10-8 4zM1420 542l10-12 6-2-9-3zM1282 535l8 4 6-11-8 7z"/>
<path fill="#d8d8e8" d="M1363 536l8 1 6 6-8-11z"/>
<path fill="#d8d8f8" d="M1194 545l8 14 7-6-9-18z"/>
<path fill="#e09090" d="M1274 295l8-14 7-14-8 30zM1150 297l6-17 8 2-6 23z"/>
<path fill="#e09898" d="M1261 316l8-20 7 17-8-5zM1246 316l8-17 7 17-8-14z"/>
<path fill="#e0a0a0" d="M1088 359l2-52 8 5-3 43z"/>
<path fill="#e0a8a8" d="M1057 354l6-9 9 17-5 9z"/>
<path fill="#e0d8e0" d="M1205 488l9 31 7-5-8-14zM1318 512l8 16 6-3-8-3z"/>
<path fill="#e0e0e8" d="M1230 541l8-4 6-7-7-8zM1326 528l8 6 6-9-8 0z"/>
<path fill="#e0e0f0" d="M1392 538l9 0 5 4-8-14z"/>
<path fill="#e0e0f8" d="M1200 535l9 18 6-12-8-10z"/>
<path fill="#e89090" d="M1229 271l8-7 7 14-8-10z"/>
<path fill="#e89898" d="M1268 308l8 5 6-32-8 14z"/>
<path fill="#e8a0a0" d="M1173 321l8 7 7-14-7 13zM1181 327l7-13 6-17-7 3zM1106 314l8 13 7-17-6 16z"/>
<path fill="#e8d8e0" stroke="#e8d8e0" stroke-opacity="1" stroke-width="0.5" d="M1226 470l3 17 2-3-3-18zM1228 466l3 18 2-2-3-21zM1230 461l3 21 2-6-3-19z"/>
<path fill="#e8e0e0" stroke="#e8e0e0" stroke-opacity="1" stroke-width="0.5" d="M1224 474l3 15 2-2-3-17z"/>
<path fill="#e8e8f0" d="M1274 531l8 4 6 0-8-11zM1207 531l8 10 7-16-8-6zM1355 526l8 10 6-4-8-8zM1436 528l8 6 6 1-7-18zM1237 522l7 8 7-7-8-5zM1259 528l8 4 7-1-8-13zM1267 532l8 11 7-8-8-4z"/>
<path fill="#e8e8f8" d="M1222 525l8 16 7-19-8 2z"/>
<path fill="#f09898" d="M1289 267l8 31 6-3-7-16zM1193 281l8 5 7-7-8 3z"/>
<path fill="#f0a0a0" d="M1238 275l8 41 7-14-8-5zM1163 281l10 40 8 6-9-28zM1187 300l7-3 7-11-8-5z"/>
<path fill="#f0b8b8" d="M1263 327l9 57 6-5-8-53z"/>
<path fill="#f0c8c8" stroke="#f0c8c8" stroke-opacity="1" stroke-width="0.5" d="M1224 419l3 22 2-3-3-20zM1226 418l3 20 3-3-3-18zM1229 417l3 18 2-2-3-18z"/>
<path fill="#f0d0d0" stroke="#f0d0d0" stroke-opacity="1" stroke-width="0.5" d="M1218 444l3 15 2-6-3-17zM1232 435l3 18 2-4-3-16z"/>
<path fill="#f0d0d8" stroke="#f0d0d8" stroke-opacity="1" stroke-width="0.5" d="M1227 441l3 20 2-4-3-19zM1229 438l3 19 3-4-3-18z"/>
<path fill="#f0d8d8" stroke="#f0d8d8" stroke-opacity="1" stroke-width="0.5" d="M1221 459l3 15 2-4-3-17zM1223 453l3 17 2-4-3-19zM1225 447l3 19 2-5-3-20z"/>
<path fill="#f0d8e0" stroke="#f0d8e0" stroke-opacity="1" stroke-width="0.5" d="M1232 457l3 19 3-5-3-18zM1235 453l3 18 2-5-3-17z"/>
<path fill="#f0e8f8" d="M1244 530l8 10 7-12-8-5z"/>
<path fill="#f89898" d="M1222 280l9 20 6-36-8 7z"/>
<path fill="#f8a0a0" d="M1237 264l8 33 7-22-8 3zM1201 286l8 15 7-5-8-17zM1231 300l7-25 7 22-8-33z"/>
<path fill="#f8a8a8" d="M1245 297l8 5 7-9-8-18z"/>
<path fill="#f8c8c8" stroke="#f8c8c8" stroke-opacity="1" stroke-width="0.5" d="M1222 428l3 19 2-6-3-22z"/>
<path fill="#f8d0d0" stroke="#f8d0d0" stroke-opacity="1" stroke-width="0.5" d="M1220 436l3 17 2-6-3-19z"/>
<path fill="#ffa8a8" d="M1216 296l8 1 7 3-9-20zM1209 301l8 16 7-20-8-1z"/>
<path fill="#a0a0e0" d="M1218 574l7-5 7 4-7-1z"/>
<path fill="#b0b0e8" d="M1232 573l8-1 7-10-8 2z"/>
<path fill="#d0d0e0" d="M1417 548l9 5 6-6-9 5z"/>
<path fill="#d0d0f0" d="M1239 564l8-2 7-10-8-8z"/>
<path fill="#d0d0f8" d="M1247 562l8 16 7-17-8-9z"/>
<path fill="#d8d8e8" d="M1409 542l8 6 6 4-8-11z"/>
<path fill="#d8d8f0" d="M1231 553l8 11 7-20-8-7z"/>
<path fill="#e09090" d="M1224 297l7 3 7-25-7 25zM1127 297l7-13 8 9-6 14z"/>
<path fill="#e09898" d="M1269 296l8 12 7-4-8 9zM1181 328l7-19 7 6-7-1zM1165 303l8 12 8 13-8-7z"/>
<path fill="#e0d8e8" d="M1252 540l8-4 7-4-8-4zM1357 541l8 2 6-6-8-1z"/>
<path fill="#e0e0e8" d="M1371 537l8 13 7-16-9 9z"/>
<path fill="#e0e0f0" d="M1386 534l8 13 7-9-9 0zM1423 552l9-5 6-6-8-11zM1246 544l8 8 6-16-8 4z"/>
<path fill="#e0e0f8" d="M1283 554l8 0 7 0-8-15z"/>
<path fill="#e89090" d="M1142 293l8 8 6-21-6 17zM1156 280l7 1 9 18-8-17z"/>
<path fill="#e89898" d="M1217 317l8-10 6-7-7-3z"/>
<path fill="#e8d8d8" stroke="#e8d8d8" stroke-opacity="1" stroke-width="0.5" d="M1218 456l3 17 3 1-3-15zM1216 469l4 20 2 0-3-18z"/>
<path fill="#e8d8e0" stroke="#e8d8e0" stroke-opacity="1" stroke-width="0.5" d="M1219 471l3 18 2 0-3-16zM1221 473l3 16 3 0-3-15z"/>
<path fill="#e8e0e8" d="M1199 504l8 27 7-12-9-31zM1303 521l8 5 7-14-8-1zM1192 512l8 23 7-4-8-27z"/>
<path fill="#e8e0f0" d="M1304 535l9 3 6 4-8-16zM1185 523l9 22 6-10-8-23z"/>
<path fill="#e8e8f0" d="M1430 530l8 11 6-7-8-6zM1349 529l8 12 6-5-8-10zM1319 542l8 2 7-10-8-6zM1311 526l8 16 7-14-8-16zM1290 539l8 15 6-19-8-7zM1334 534l8 5 7-10-9-4zM1394 547l9 3 6-8-8-4zM1327 544l8 7 7-12-8-5zM1260 536l8 14 7-7-8-11zM1379 550l9-5 6 2-8-13z"/>
<path fill="#e8e8f8" d="M1238 537l8 7 6-4-8-10zM1275 543l8 11 7-15-8-4z"/>
<path fill="#f09898" d="M1276 313l8-9 6-16-8-7z"/>
<path fill="#f0a0a0" d="M1188 314l7 1 7-19-8 1zM1239 296l8 24 7-21-8 17z"/>
<path fill="#f0b0b0" d="M1257 338l8 27 7 19-9-57z"/>
<path fill="#f0c8c8" stroke="#f0c8c8" stroke-opacity="1" stroke-width="0.5" d="M1210 429l3 20 3 4-4-19zM1212 434l4 19 2 3-3-17z"/>
<path fill="#f0d0d0" stroke="#f0d0d0" stroke-opacity="1" stroke-width="0.5" d="M1215 439l3 17 3 3-3-15zM1213 449l3 20 3 2-3-18z"/>
<path fill="#f0d0d8" stroke="#f0d0d8" stroke-opacity="1" stroke-width="0.5" d="M1216 453l3 18 2 2-3-17z"/>
<path fill="#f0e8f0" d="M1296 528l8 7 7-9-8-5z"/>
<path fill="#f0e8f8" d="M1342 539l8 8 7-6-8-12z"/>
<path fill="#f89898" d="M1282 281l8 7 7 10-8-31z"/>
<path fill="#f8a0a0" d="M1194 297l8-1 7 5-8-15zM1231 300l8-4 7 20-8-41zM1143 314l8 7 6-19-7-1z"/>
<path fill="#f8a8a8" d="M1226 336l8 10 7-23-8 5zM1218 313l8 23 7-8-8-21z"/>
<path fill="#b0b0f0" d="M1248 579l8 8 7-12-8 3z"/>
<path fill="#b8b8f8" d="M1233 585l8 8 7-14-8-7z"/>
<path fill="#c0c0e8" d="M1255 578l8-3 7-14-8 0z"/>
<path fill="#c0c0f8" d="M1240 572l8 7 7-1-8-16zM1225 569l8 16 7-13-8 1z"/>
<path fill="#d0d0d8" d="M1313 538l8 2 6 4-8-2zM1291 554l8-2 7-2-8 4z"/>
<path fill="#d8d0e0" d="M1388 545l9 3 6 2-9-3z"/>
<path fill="#d8d8e0" d="M1268 550l8-4 7 8-8-11zM1321 540l8 9 6 2-8-7z"/>
<path fill="#d8d8e8" d="M1262 561l8 0 6-15-8 4z"/>
<path fill="#e09090" d="M1202 296l7-11 8 32-8-16zM1254 299l8 0 7-3-8 20zM1121 310l6-9 7-17-7 13zM1114 327l5-35 8 9-6 9z"/>
<path fill="#e09898" d="M1098 312l7-7 9 22-8-13zM1076 316l7 2 7-11-2 52zM1173 315l8 7 7-13-7 19z"/>
<path fill="#e0a0a0" d="M1123 354l6-16 7-6-6 6zM1050 363l3-26 10 8-6 9zM1063 345l7 8 5-29-3 38z"/>
<path fill="#e0d8e8" d="M1298 554l8-4 7-12-9-3z"/>
<path fill="#e0e0e8" d="M1373 552l8 6 7-13-9 5zM1276 546l8 15 7-7-8 0z"/>
<path fill="#e0e0f0" d="M1410 563l9 0 7-10-9-5z"/>
<path fill="#e89898" d="M1209 285l9 28 7-6-8 10z"/>
<path fill="#e8a0a0" d="M1130 338l6-6 7-12-7 2zM1219 323l8 9 7 14-8-10z"/>
<path fill="#e8d8e0" stroke="#e8d8e0" stroke-opacity="1" stroke-width="0.5" d="M1210 481l3 19 2-3-3-20zM1212 477l3 20 2-4-3-20z"/>
<path fill="#e8e8f0" d="M1365 543l8 9 6-2-8-13zM1350 547l8 10 7-14-8-2zM1335 551l9 1 6-5-8-8z"/>
<path fill="#e8e8f8" d="M1254 552l8 9 6-11-8-14zM1358 557l8 8 7-13-8-9zM1329 549l8 16 7-13-9-1z"/>
<path fill="#f09898" d="M1150 301l7 1 6-21-7-1zM1247 320l8-3 7-18-8 0z"/>
<path fill="#f0a0a0" d="M1136 322l7-2 8 1-8-7zM1151 321l7 0 7-18-8-1z"/>
<path fill="#f0c8c8" stroke="#f0c8c8" stroke-opacity="1" stroke-width="0.5" d="M1203 441l3 20 3-4-4-20zM1205 437l4 20 2-4-4-20zM1207 433l4 20 2-4-3-20z"/>
<path fill="#f0d0d0" stroke="#f0d0d0" stroke-opacity="1" stroke-width="0.5" d="M1211 453l3 20 2-4-3-20z"/>
<path fill="#f0d0d8" stroke="#f0d0d8" stroke-opacity="1" stroke-width="0.5" d="M1209 457l3 20 2-4-3-20z"/>
<path fill="#f0d8d8" stroke="#f0d8d8" stroke-opacity="1" stroke-width="0.5" d="M1206 461l4 20 2-4-3-20z"/>
<path fill="#f0d8e0" stroke="#f0d8e0" stroke-opacity="1" stroke-width="0.5" d="M1214 473l3 20 3-4-4-20z"/>
<path fill="#f0e8f8" d="M1403 550l7 13 7-15-8-6z"/>
<path fill="#f8a0a0" d="M1225 307l8 21 6-32-8 4zM1134 284l9 30 7-13-8-8zM1157 302l8 1 8 18-10-40zM1127 301l9 21 7-8-9-30zM1262 299l8 27 7-18-8-12zM1119 292l11 46 6-16-9-21z"/>
<path fill="#f8a8a8" d="M1233 328l8-5 6-3-8-24zM1241 323l8 10 6-16-8 3zM1152 344l7-15 8 14-9-22zM1114 327l9 27 7-16-11-46zM1211 326l8-3 7 13-8-23zM1158 321l9 22 6-28-8-12zM1255 317l8 10 7-1-8-27zM1136 332l8 6 8 6-9-24zM1249 333l8 5 6-11-8-10z"/>
<path fill="#f8b0b0" d="M1250 343l8 36 7-14-8-27zM1114 332l10 34 5-28-6 16z"/>
<path fill="#f8b8b8" d="M1243 353l8 40 7-14-8-36zM1236 363l8 28 7 2-8-40z"/>
<path fill="#ffb0b0" d="M1143 320l9 24 6-23-7 0z"/>
<path fill="#9898f8" d="M1257 602l8 10 7-5-8-9z"/>
<path fill="#a8a8f0" d="M1264 598l8 9 7-22-8-3z"/>
<path fill="#a8a8f8" d="M1249 592l8 10 7-4-8-11z"/>
<path fill="#b0b0f0" d="M1241 593l8-1 7-5-8-8z"/>
<path fill="#b8b8f8" d="M1256 587l8 11 7-16-8-7z"/>
<path fill="#d0d0d8" d="M1344 552l9-7 5 12-8-10z"/>
<path fill="#d0d0e8" d="M1316 563l8 14 6 0-8-8z"/>
<path fill="#d0d0f0" d="M1330 577l9-1 6-4-8-7z"/>
<path fill="#d0d0f8" d="M1339 576l8 9 6-6-8-7z"/>
<path fill="#d8d0e0" d="M1366 565l10-11 5 4-8-6zM1353 545l8 12 5 8-8-8z"/>
<path fill="#d8d8e0" d="M1306 550l8-4 7-6-8-2zM1405 556l8 8 6-1-9 0z"/>
<path fill="#d8d8e8" d="M1397 548l8 8 5 7-7-13z"/>
<path fill="#d8d8f0" d="M1263 575l8 7 7-20-8-1zM1271 582l8 3 7-10-8-13z"/>
<path fill="#e09090" d="M1105 305l9 22 5-35-5 35z"/>
<path fill="#e09898" d="M1234 346l7-28 8 15-8-10zM1072 362l3-38 8-6-7-2zM1144 338l8-1 7-8-7 15zM1159 329l8 10 7-11-7 15zM1227 332l8 12 6-26-7 28z"/>
<path fill="#e0d8e8" d="M1337 565l8 7 8-27-9 7z"/>
<path fill="#e0e0e8" d="M1284 561l8 2 7-11-8 2zM1299 552l8 8 7-14-8 4z"/>
<path fill="#e0e0f8" d="M1322 569l8 8 7-12-8-16z"/>
<path fill="#e89090" d="M1195 315l7-7 7-23-7 11z"/>
<path fill="#e89898" d="M1104 306l10 26 9 22-9-27zM1100 336l4-30 10 21-9-22zM1091 330l9 16 4-40-4 30z"/>
<path fill="#e8a0a0" d="M1167 343l7-15 7-6-8-7z"/>
<path fill="#e8d8d8" stroke="#e8d8d8" stroke-opacity="1" stroke-width="0.5" d="M1205 476l3 16 2 4-3-18z"/>
<path fill="#e8d8e0" stroke="#e8d8e0" stroke-opacity="1" stroke-width="0.5" d="M1207 478l3 18 3 4-3-19z"/>
<path fill="#e8e0f0" d="M1381 558l9 6 7-16-9-3z"/>
<path fill="#e8e8f0" d="M1314 546l8 23 7-20-8-9zM1307 560l9 3 6 6-8-23zM1390 564l8 2 7-10-8-8z"/>
<path fill="#e8e8f8" d="M1278 562l8 13 6-12-8-2z"/>
<path fill="#f0a0a0" d="M1204 333l8 2 7-12-8 3zM1174 328l7 4 9 15-9-25zM1241 318l9 25 7-5-8-5z"/>
<path fill="#f0a8a8" d="M1190 347l7-9 7-5-8-11z"/>
<path fill="#f0c8c8" stroke="#f0c8c8" stroke-opacity="1" stroke-width="0.5" d="M1196 443l3 15 2 1-3-17zM1198 442l3 17 3 1-4-18zM1200 442l4 18 2 1-3-20z"/>
<path fill="#f0d0d0" stroke="#f0d0d0" stroke-opacity="1" stroke-width="0.5" d="M1199 458l3 15 3 3-4-17zM1201 459l4 17 2 2-3-18zM1204 460l3 18 3 3-4-20z"/>
<path fill="#f0d8d8" stroke="#f0d8d8" stroke-opacity="1" stroke-width="0.5" d="M1202 473l3 15 3 4-3-16z"/>
<path fill="#f0e8f8" d="M1270 561l8 1 6-1-8-15z"/>
<path fill="#f8a0a0" d="M1188 309l8 13 6-14-7 7zM1202 308l9 18 7-13-9-28zM1083 318l8 12 9 6-10-29z"/>
<path fill="#f8a8a8" stroke="#f8a8a8" stroke-opacity="1" stroke-width="0.5" d="M1228 350l4 24 2 0-3-19zM1231 355l3 19 2-1-3-14z"/>
<path fill="#f8a8a8" d="M1181 322l9 25 6-25-8-13zM1086 358l6-8 8-4-9-16zM1075 324l11 34 5-28-8-12z"/>
<path fill="#f8b0b0" stroke="#f8b0b0" stroke-opacity="1" stroke-width="0.5" d="M1233 359l3 14 3 0-3-10z"/>
<path fill="#f8b8b8" stroke="#f8b8b8" stroke-opacity="1" stroke-width="0.5" d="M1232 374l3 23 2-5-3-18zM1234 374l3 18 2-5-3-14zM1236 373l3 14 3-5-3-9zM1239 387l3 14 2-10-2-9z"/>
<path fill="#f8c0c0" stroke="#f8c0c0" stroke-opacity="1" stroke-width="0.5" d="M1235 397l3 23 2-9-3-19zM1237 392l3 19 2-10-3-14z"/>
<path fill="#ffa8a8" d="M1090 307l10 29 5-31-7 7zM1196 322l8 11 7-7-9-18z"/>
<path fill="#ffb0b0" d="M1129 338l9 13 6-13-8-6zM1070 353l7-4 9 9-11-34z"/>
<path fill="#9898e0" d="M1265 612l8-3 7-6-8 4z"/>
<path fill="#b0b0f0" d="M1272 607l8-4 7-9-8-9z"/>
<path fill="#c0c0e0" d="M1287 594l8-5 7-4-8-1z"/>
<path fill="#c8c8e0" d="M1324 577l8 1 7-2-9 1z"/>
<path fill="#d0d0f8" d="M1279 585l8 9 7-10-8-9zM1347 585l8 9 7-8-9-7z"/>
<path fill="#d8d8e0" d="M1376 554l8 7 6 3-9-6zM1361 557l8 11 7-14-10 11zM1384 561l8 7 6-2-8-2z"/>
<path fill="#d8d8e8" d="M1362 586l9-9 6-3-8-6z"/>
<path fill="#d8d8f0" d="M1332 578l8 11 7-4-8-9z"/>
<path fill="#e09898" d="M1181 332l8 6 8 0-7 9zM1077 349l7 0 8 1-6 8zM1124 366l4-41 10 26-9-13zM1061 346l8 1 8 2-7 4zM1092 350l7-7 7-8-6 11z"/>
<path fill="#e0d8e8" d="M1392 568l9 5 5 7-8-14z"/>
<path fill="#e0e0f0" d="M1345 572l8 7 8-22-8-12zM1286 575l8 9 7-20-9-1zM1353 579l9 7 7-18-8-11zM1294 584l8 1 7-12-8-9z"/>
<path fill="#e89898" d="M1197 338l7-5 8 2-8-2z"/>
<path fill="#e8a0a0" d="M1053 337l8 9 9 7-7-8zM1160 349l7-9 8 8-8-9z"/>
<path fill="#e8e0f0" d="M1292 563l9 1 6-4-8-8z"/>
<path fill="#e8e8f0" d="M1301 564l8 9 7-10-9-3zM1369 568l8 6 7-13-8-7z"/>
<path fill="#e8e8f8" d="M1398 566l8 14 7-16-8-8zM1309 573l8 5 7-1-8-14z"/>
<path fill="#f0a0a0" d="M1138 351l7-3 7-11-8 1z"/>
<path fill="#f0a8a8" stroke="#f0a8a8" stroke-opacity="1" stroke-width="0.5" d="M1221 360l4 18 2-1-3-21zM1224 356l3 21 2-1-3-23zM1226 353l3 23 3-2-4-24z"/>
<path fill="#f0a8a8" d="M1106 335l10 27 8 4-10-34z"/>
<path fill="#f0b0b0" stroke="#f0b0b0" stroke-opacity="1" stroke-width="0.5" d="M1225 378l3 19 2 0-3-20zM1227 377l3 20 3 0-4-21z"/>
<path fill="#f0b8b8" stroke="#f0b8b8" stroke-opacity="1" stroke-width="0.5" d="M1229 376l4 21 2 0-3-23z"/>
<path fill="#f0c0c0" stroke="#f0c0c0" stroke-opacity="1" stroke-width="0.5" d="M1228 397l3 18 2 2-3-20zM1230 397l3 20 3 2-3-22zM1233 397l3 22 2 1-3-23z"/>
<path fill="#f0c8c8" stroke="#f0c8c8" stroke-opacity="1" stroke-width="0.5" d="M1182 461l3 18 2-6-3-18z"/>
<path fill="#f0d0d0" stroke="#f0d0d0" stroke-opacity="1" stroke-width="0.5" d="M1187 473l4 18 2-3-4-20zM1189 468l4 20 2-4-3-21z"/>
<path fill="#f0d0d0" d="M1188 442l11 62 6-16-9-45z"/>
<path fill="#f0d8d8" stroke="#f0d8d8" stroke-opacity="1" stroke-width="0.5" d="M1185 479l3 16 3-4-4-18z"/>
<path fill="#f0d8d8" d="M1174 471l11 52 7-11-10-51z"/>
<path fill="#f0d8e0" stroke="#f0d8e0" stroke-opacity="1" stroke-width="0.5" d="M1188 495l4 17 2-3-3-18zM1191 491l3 18 2-2-3-19zM1193 488l3 19 3-3-4-20z"/>
<path fill="#f8a0a0" d="M1212 335l7-2 8-1-8-9zM1100 346l6-11 8-3-10-26z"/>
<path fill="#f8a8a8" d="M1235 344l8 9 7-10-9-25zM1167 339l8 9 6-16-7-4zM1219 333l9 11 7 0-8-12zM1189 338l9 15 6-20-7 5z"/>
<path fill="#f8b0b0" d="M1228 344l8 19 7-10-8-9z"/>
<path fill="#f8b8b8" d="M1215 386l9 33 7-4-10-55z"/>
<path fill="#f8c0c0" d="M1208 403l10 41 6-25-9-33z"/>
<path fill="#f8c8c8" stroke="#f8c8c8" stroke-opacity="1" stroke-width="0.5" d="M1184 455l3 18 2-5-3-20zM1186 448l3 20 3-5-4-21z"/>
<path fill="#ffa8a8" d="M1152 337l8 12 7-10-8-10z"/>
<path fill="#ffb0b0" d="M1145 348l8 7 7-6-8-12z"/>
<path fill="#b0b0f0" d="M1273 609l9 6 6-14-8 2z"/>
<path fill="#b8b8e0" d="M1280 603l8-2 7-12-8 5z"/>
<path fill="#c8c8d8" d="M1355 594l9-6 7-11-9 9zM1340 589l9-7 6 12-8-9z"/>
<path fill="#d8d8e8" d="M1317 578l9 4 6-4-8-1z"/>
<path fill="#e09898" d="M1116 362l5-27 7-10-4 41zM1153 355l7-6 7-9-7 9z"/>
<path fill="#e0e0f0" d="M1295 589l9 8 6-11-8-1z"/>
<path fill="#e89898" d="M1084 349l7 2 8-8-7 7z"/>
<path fill="#e8a0a0" d="M1107 354l8 13 6-32-5 27zM1069 347l7 2 8 0-7 0z"/>
<path fill="#e8e0f0" d="M1377 574l9 0 6-6-8-7z"/>
<path fill="#e8e8f0" d="M1302 585l8 1 7-8-8-5z"/>
<path fill="#e8e8f8" d="M1326 582l8 11 6-4-8-11z"/>
<path fill="#f0a0a0" d="M1204 333l8 7 7-7-7 2zM1175 348l7-8 7-2-8-6zM1128 325l10 33 7-10-7 3zM1138 358l7-6 8 3-8-7zM1190 355l8 2 8-1-8-3zM1220 341l8 9 8 13-8-19z"/>
<path fill="#f0b8b8" d="M1200 389l10 40 8 15-10-41z"/>
<path fill="#f0e8f8" d="M1386 574l8 13 7-14-9-5z"/>
<path fill="#f8a0a0" d="M1212 340l8 1 8 3-9-11z"/>
<path fill="#f8a8a8" d="M1099 343l8 11 9 8-10-27zM1198 353l8 3 6-16-8-7zM1182 340l8 15 8-2-9-15zM1176 362l7-1 7-6-8-15z"/>
<path fill="#f8b0b0" d="M1145 352l9 32 6-35-7 6zM1138 373l8 6 8 5-9-32z"/>
<path fill="#ffa8a8" d="M1167 340l9 22 6-22-7 8z"/>
<path fill="#ffb0b0" d="M1130 356l8 17 7-21-7 6z"/>
<path fill="#c0c0e8" d="M1282 615l8-6 7-2-9-6z"/>
<path fill="#d0d0e0" d="M1349 582l8 11 7-5-9 6z"/>
<path fill="#d0d0e8" d="M1327 592l8 11 7 7-8-17z"/>
<path fill="#d8d8e0" d="M1371 577l8 2 7-5-9 0zM1304 597l8-5 7-2-9-4z"/>
<path fill="#d8d8e8" d="M1342 610l9-8 6-9-8-11z"/>
<path fill="#d8d8f0" d="M1334 593l8 17 7-28-9 7z"/>
<path fill="#d8d8f8" d="M1288 601l9 6 7-10-9-8z"/>
<path fill="#e0e0e8" d="M1379 579l9 5 6 3-8-13zM1364 588l9 0 6-9-8-2z"/>
<path fill="#e0e0f0" d="M1319 590l8 2 7 1-8-11z"/>
<path fill="#e89898" d="M1206 356l7-7 7-8-8-1zM1154 384l6-28 8 1-8-8z"/>
<path fill="#e8a0a0" d="M1146 379l9 14 5-37-6 28zM1108 374l7-5 9 9-9-11zM1198 357l8 3 7-11-7 7z"/>
<path fill="#e8e8f0" d="M1310 586l9 4 7-8-9-4z"/>
<path fill="#f0a8a8" d="M1168 357l8 11 7-7-7 1z"/>
<path fill="#f8a0a0" d="M1121 335l9 21 8 2-10-33z"/>
<path fill="#f8a8a8" d="M1115 367l9 11 6-22-9-21zM1160 349l8 8 8 5-9-22zM1183 361l8 4 7-8-8-2zM1076 349l8 8 7-6-7-2zM1206 360l9 26 6-26-8-11zM1176 368l8 4 7-7-8-4z"/>
<path fill="#f8b0b0" d="M1099 357l9 17 7-7-8-13zM1124 378l6-9 8 4-8-17zM1199 371l9 32 7-17-9-26zM1093 378l7-8 8 4-9-17z"/>
<path fill="#f8b8b8" d="M1193 400l10 41 7-12-10-40zM1186 406l10 37 7-2-10-41z"/>
<path fill="#ffa8a8" d="M1091 351l8 6 8-3-8-11zM1084 357l9 21 6-21-8-6zM1213 349l8 11 7-10-8-9z"/>
<path fill="#c8c8d8" d="M1335 603l9 2 7-3-9 8z"/>
<path fill="#d0d0e0" d="M1297 607l8-6 7-9-8 5z"/>
<path fill="#d8d8e8" d="M1290 609l8 10 7-18-8 6z"/>
<path fill="#e09898" d="M1130 369l7-10 9 20-8-6zM1184 372l7-11 8 10-8-6z"/>
<path fill="#e0e0e8" d="M1366 601l9-4 6 1-8-10z"/>
<path fill="#e8a0a0" d="M1115 369l8 12 7-12-6 9zM1137 359l10 28 8 6-9-14zM1100 370l7 7 8-8-7 5z"/>
<path fill="#e8e8f0" d="M1357 593l9 8 7-13-9 0zM1373 588l8 10 7-14-9-5zM1320 611l9-1 6-7-8-11z"/>
<path fill="#e8e8f8" d="M1351 602l8 10 7-11-9-8z"/>
<path fill="#f0a0a0" d="M1155 393l6-18 8-3-9-16zM1169 372l7-1 8 1-8-4z"/>
<path fill="#f0a8a8" d="M1147 387l8 17 6-29-6 18zM1191 361l9 28 8 14-9-32z"/>
<path fill="#f0b0b0" d="M1140 405l7-11 8 10-8-17z"/>
<path fill="#f0e8f8" d="M1312 592l8 19 7-19-8-2z"/>
<path fill="#f8a8a8" d="M1191 365l8 6 7-11-8-3zM1160 356l9 16 7-4-8-11z"/>
<path fill="#f8b0b0" d="M1126 417l6-10 8-2-9-18zM1115 380l11 37 5-30-8-6z"/>
<path fill="#d0d0d8" d="M1359 612l9-10 7-5-9 4z"/>
<path fill="#d8d8e0" d="M1344 605l9 2 6 5-8-10zM1314 607l8 6 7-3-9 1z"/>
<path fill="#e0a0a0" d="M1147 394l8 2 7-6-7 14z"/>
<path fill="#e0e0e8" d="M1329 610l8 1 7-6-9-2z"/>
<path fill="#e0e0f0" d="M1298 619l9 2 7-14-9-6z"/>
<path fill="#e89898" d="M1155 404l7-14 6-27-7 12z"/>
<path fill="#e8e0f0" d="M1353 607l8 16 7-21-9 10z"/>
<path fill="#e8e8f0" d="M1305 601l9 6 6 4-8-19z"/>
<path fill="#f0a0a0" d="M1123 381l8 6 6-28-7 10z"/>
<path fill="#f0a8a8" d="M1132 407l8 8 7-21-7 11z"/>
<path fill="#f0b0b0" d="M1178 398l10 44 8 1-10-37z"/>
<path fill="#f0b8b8" d="M1163 414l11 57 8-10-11-42z"/>
<path fill="#f8a8a8" d="M1107 377l8 3 8 1-8-12zM1176 371l9 20 6-30-7 11zM1168 363l10 36 7-8-9-20z"/>
<path fill="#f8b0b0" d="M1131 387l9 18 7-18-10-28zM1185 391l8 9 7-11-9-28z"/>
<path fill="#f8b8b8" d="M1171 419l11 42 6-19-10-44z"/>
<path fill="#ffb8b8" d="M1178 399l8 7 7-6-8-9z"/>
<path fill="#5858f0" stroke="#5858f0" stroke-opacity="1" stroke-width="0.5" d="M1336 676l3 14 3-19-3-11z"/>
<path fill="#8080f0" stroke="#8080f0" stroke-opacity="1" stroke-width="0.5" d="M1334 662l2 14 3-16-2-11z"/>
<path fill="#9090f0" stroke="#9090f0" stroke-opacity="1" stroke-width="0.5" d="M1339 660l3 11 3-20-3-8z"/>
<path fill="#a8a8f0" stroke="#a8a8f0" stroke-opacity="1" stroke-width="0.5" d="M1332 648l2 14 3-13-3-12z"/>
<path fill="#b0b0f0" stroke="#b0b0f0" stroke-opacity="1" stroke-width="0.5" d="M1337 649l2 11 3-17-3-8z"/>
<path fill="#d0d0f0" stroke="#d0d0f0" stroke-opacity="1" stroke-width="0.5" d="M1334 637l3 12 2-14-2-9zM1342 643l3 8 3-20-3-5z"/>
<path fill="#d8d8e0" d="M1307 621l8-6 7-2-8-6z"/>
<path fill="#e09898" d="M1161 375l7-12 8 8-7 1z"/>
<path fill="#e0a0a0" d="M1140 415l7-19 8 0-8-2z"/>
<path fill="#e0e0e8" stroke="#e0e0e8" stroke-opacity="1" stroke-width="0.5" d="M1337 626l2 9 3-15-3-5z"/>
<path fill="#e0e0e8" d="M1322 613l9 6 6-8-8-1zM1337 611l9 5 7-9-9-2z"/>
<path fill="#e0e0f0" stroke="#e0e0f0" stroke-opacity="1" stroke-width="0.5" d="M1339 635l3 8 3-17-3-6z"/>
<path fill="#e8a0a0" d="M1169 385l9 13 8 8-8-7z"/>
<path fill="#e8e8f8" d="M1346 616l8 11 7-4-8-16z"/>
<path fill="#f8a8a8" d="M1162 390l7-5 9 14-10-36z"/>
<path fill="#d8d8e0" d="M1331 619l8-4 7 1-9-5z"/>
<path fill="#e8e0f0" d="M1339 615l9 16 6-4-8-11z"/>
<path fill="#e8e8f0" d="M1315 615l9 13 7-9-9-6zM1324 628l8 20 7-33-8 4z"/>
<path fill="#f0a0a0" d="M1155 396l8 5 6-16-7 5zM1147 396l8 6 8-1-8-5z"/>
<path fill="#f0a8a8" d="M1155 402l8 12 8 5-8-18z"/>
<path fill="#f8a8a8" d="M1163 401l8 18 7-21-9-13z"/>
</g>
<g fill="none" stroke-linecap="butt">
<path d="M1061 456.3L1340.7 639.4" stroke="#3a3a3a" stroke-width="2.2"/>
<path d="M1340.7 639.4L1557.8 424" stroke="#3a3a3a" stroke-width="2.2"/>
<path d="M1061 456.3L1025.7 167.9" stroke="#3a3a3a" stroke-width="2.2"/>
<path d="M1061 456.3L1053.9 461.8" stroke="#3a3a3a" stroke-width="1.8"/>
<path d="M1086.5 473L1082.5 476.1" stroke="#3a3a3a" stroke-width="1.8"/>
<path d="M1112.4 489.9L1105.4 495.6" stroke="#3a3a3a" stroke-width="1.8"/>
<path d="M1138.9 507.3L1135 510.4" stroke="#3a3a3a" stroke-width="1.8"/>
<path d="M1165.9 524.9L1159 530.8" stroke="#3a3a3a" stroke-width="1.8"/>
<path d="M1193.5 543L1189.7 546.3" stroke="#3a3a3a" stroke-width="1.8"/>
<path d="M1221.7 561.5L1215 567.4" stroke="#3a3a3a" stroke-width="1.8"/>
<path d="M1250.5 580.3L1246.8 583.7" stroke="#3a3a3a" stroke-width="1.8"/>
<path d="M1279.9 599.6L1273.4 605.7" stroke="#3a3a3a" stroke-width="1.8"/>
<path d="M1310 619.3L1306.4 622.7" stroke="#3a3a3a" stroke-width="1.8"/>
<path d="M1340.7 639.4L1334.4 645.7" stroke="#3a3a3a" stroke-width="1.8"/>
<path d="M1340.7 639.4L1348.3 644.3" stroke="#3a3a3a" stroke-width="1.8"/>
<path d="M1365.1 615.2L1369.3 617.9" stroke="#3a3a3a" stroke-width="1.8"/>
<path d="M1388.8 591.8L1396.4 596.5" stroke="#3a3a3a" stroke-width="1.8"/>
<path d="M1411.8 568.9L1416.1 571.5" stroke="#3a3a3a" stroke-width="1.8"/>
<path d="M1434.3 546.6L1442 551.2" stroke="#3a3a3a" stroke-width="1.8"/>
<path d="M1456.2 524.9L1460.5 527.4" stroke="#3a3a3a" stroke-width="1.8"/>
<path d="M1477.5 503.7L1485.3 508.2" stroke="#3a3a3a" stroke-width="1.8"/>
<path d="M1498.4 483L1502.7 485.5" stroke="#3a3a3a" stroke-width="1.8"/>
<path d="M1518.7 462.9L1526.5 467.2" stroke="#3a3a3a" stroke-width="1.8"/>
<path d="M1538.5 443.2L1542.9 445.6" stroke="#3a3a3a" stroke-width="1.8"/>
<path d="M1557.8 424L1565.8 428.3" stroke="#3a3a3a" stroke-width="1.8"/>
<path d="M1061 456.3L1053.9 461.8" stroke="#3a3a3a" stroke-width="1.8"/>
<path d="M1054.8 405.3L1047.6 410.7" stroke="#3a3a3a" stroke-width="1.8"/>
<path d="M1048.2 351.2L1040.9 356.5" stroke="#3a3a3a" stroke-width="1.8"/>
<path d="M1041.1 293.9L1033.7 299" stroke="#3a3a3a" stroke-width="1.8"/>
<path d="M1033.7 232.9L1026.2 237.8" stroke="#3a3a3a" stroke-width="1.8"/>
<path d="M1025.7 167.9L1018.1 172.7" stroke="#3a3a3a" stroke-width="1.8"/>
</g>
<g font-family="'Liberation Sans', Arial, sans-serif" fill="#1a1a1a">
<text transform="matrix(1.0289 -0.7946 0.8367 0.5476 1055.8 468.7)" font-size="19.985348584892783" text-anchor="end">0</text>
<text transform="matrix(1.0878 0.7119 -0.7099 0.7043 1347.5 652)" font-size="19.985348584892783" text-anchor="start">0</text>
<text transform="matrix(1.0111 -0.8171 0.8367 0.5476 1107.4 502.6)" font-size="19.985348584892783" text-anchor="end">2</text>
<text transform="matrix(1.1016 0.6902 -0.7099 0.7043 1395.6 604.1)" font-size="19.985348584892783" text-anchor="start">2</text>
<text transform="matrix(0.9918 -0.8404 0.8367 0.5476 1161.1 537.8)" font-size="19.985348584892783" text-anchor="end">4</text>
<text transform="matrix(1.1143 0.6696 -0.7099 0.7043 1441.3 558.7)" font-size="19.985348584892783" text-anchor="start">4</text>
<text transform="matrix(0.9708 -0.8647 0.8367 0.5476 1217.1 574.6)" font-size="19.985348584892783" text-anchor="end">6</text>
<text transform="matrix(1.1259 0.6499 -0.7099 0.7043 1484.7 515.6)" font-size="19.985348584892783" text-anchor="start">6</text>
<text transform="matrix(0.9479 -0.8897 0.8367 0.5476 1275.6 613)" font-size="19.985348584892783" text-anchor="end">8</text>
<text transform="matrix(1.1365 0.6312 -0.7099 0.7043 1525.9 474.6)" font-size="19.985348584892783" text-anchor="start">8</text>
<text transform="matrix(0.9229 -0.9156 0.8367 0.5476 1336.7 653.1)" font-size="19.985348584892783" text-anchor="end">10</text>
<text transform="matrix(1.1462 0.6135 -0.7099 0.7043 1565.2 435.5)" font-size="19.985348584892783" text-anchor="start">10</text>
<text transform="matrix(1.0685 -0.8251 0.1216 0.9926 1051.6 471.2)" font-size="19.985348584892783" text-anchor="end">0.00</text>
<text transform="matrix(1.0823 -0.8070 0.1216 0.9926 1045.2 420)" font-size="19.985348584892783" text-anchor="end">0.02</text>
<text transform="matrix(1.0968 -0.7871 0.1216 0.9926 1038.5 365.8)" font-size="19.985348584892783" text-anchor="end">0.04</text>
<text transform="matrix(1.1121 -0.7653 0.1216 0.9926 1031.3 308.2)" font-size="19.985348584892783" text-anchor="end">0.06</text>
<text transform="matrix(1.1283 -0.7413 0.1216 0.9926 1023.7 247)" font-size="19.985348584892783" text-anchor="end">0.08</text>
<text transform="matrix(1.1453 -0.7147 0.1216 0.9926 1015.5 181.7)" font-size="19.985348584892783" text-anchor="end">0.10</text>
<text transform="matrix(0.9204 0.6024 -0.7550 0.6557 1143.7 586.3)" font-size="26.980220589605256" text-anchor="middle">Distance (mm)</text>
<text transform="matrix(0.7809 -0.7747 0.8617 0.5074 1513 558.3)" font-size="26.980220589605256" text-anchor="middle">Distance (mm)</text>
<text transform="matrix(-0.1277 -1.0422 0.8180 -0.5752 976.7 329.1)" font-size="24.98168573111598" text-anchor="middle">j<tspan font-size="18.9" dy="5">z</tspan><tspan dy="-5"> (A m</tspan><tspan font-size="18.9" dy="-9">-2</tspan><tspan dy="9">)</tspan></text>
</g>
<g fill="none" stroke-linecap="square">
<path d="M155.2 1162.7L119.9 874.4" stroke="#d2d2d2" stroke-width="1.4"/>
<path d="M205.1 1124.1L178.7 837.7" stroke="#d2d2d2" stroke-width="1.4"/>
<path d="M252.8 1087.3L234.4 803" stroke="#d2d2d2" stroke-width="1.4"/>
<path d="M298.2 1052.2L287.1 770" stroke="#d2d2d2" stroke-width="1.4"/>
<path d="M341.6 1018.7L337.2 738.8" stroke="#d2d2d2" stroke-width="1.4"/>
<path d="M383.2 986.6L384.8 709.1" stroke="#d2d2d2" stroke-width="1.4"/>
<path d="M155.2 1162.7L383.2 986.6" stroke="#d2d2d2" stroke-width="1.4"/>
<path d="M148.9 1111.7L383.5 936.8" stroke="#d2d2d2" stroke-width="1.4"/>
<path d="M142.3 1057.6L383.8 884.4" stroke="#d2d2d2" stroke-width="1.4"/>
<path d="M135.3 1000.3L384.1 829.1" stroke="#d2d2d2" stroke-width="1.4"/>
<path d="M127.8 939.3L384.4 770.8" stroke="#d2d2d2" stroke-width="1.4"/>
<path d="M119.9 874.4L384.8 709.1" stroke="#d2d2d2" stroke-width="1.4"/>
<path d="M383.2 986.6L384.8 709.1" stroke="#d2d2d2" stroke-width="1.4"/>
<path d="M433 1013.3L441.8 733.8" stroke="#d2d2d2" stroke-width="1.4"/>
<path d="M484.6 1040.9L501.3 759.6" stroke="#d2d2d2" stroke-width="1.4"/>
<path d="M538.2 1069.6L563.5 786.5" stroke="#d2d2d2" stroke-width="1.4"/>
<path d="M593.9 1099.4L628.3 814.6" stroke="#d2d2d2" stroke-width="1.4"/>
<path d="M651.8 1130.4L696.2 844" stroke="#d2d2d2" stroke-width="1.4"/>
<path d="M383.2 986.6L651.8 1130.4" stroke="#d2d2d2" stroke-width="1.4"/>
<path d="M383.5 936.8L659.6 1079.6" stroke="#d2d2d2" stroke-width="1.4"/>
<path d="M383.8 884.4L668 1025.8" stroke="#d2d2d2" stroke-width="1.4"/>
<path d="M384.1 829.1L676.8 968.8" stroke="#d2d2d2" stroke-width="1.4"/>
<path d="M384.4 770.8L686.2 908.4" stroke="#d2d2d2" stroke-width="1.4"/>
<path d="M384.8 709.1L696.2 844" stroke="#d2d2d2" stroke-width="1.4"/>
<path d="M155.2 1162.7L383.2 986.6" stroke="#d2d2d2" stroke-width="1.4"/>
<path d="M155.2 1162.7L434.8 1345.7" stroke="#d2d2d2" stroke-width="1.4"/>
<path d="M206.5 1196.3L433 1013.3" stroke="#d2d2d2" stroke-width="1.4"/>
<path d="M205.1 1124.1L482.8 1298" stroke="#d2d2d2" stroke-width="1.4"/>
<path d="M260 1231.3L484.6 1040.9" stroke="#d2d2d2" stroke-width="1.4"/>
<path d="M252.8 1087.3L528.3 1252.9" stroke="#d2d2d2" stroke-width="1.4"/>
<path d="M315.8 1267.8L538.2 1069.6" stroke="#d2d2d2" stroke-width="1.4"/>
<path d="M298.2 1052.2L571.5 1210" stroke="#d2d2d2" stroke-width="1.4"/>
<path d="M374 1305.9L593.9 1099.4" stroke="#d2d2d2" stroke-width="1.4"/>
<path d="M341.6 1018.7L612.6 1169.2" stroke="#d2d2d2" stroke-width="1.4"/>
<path d="M434.8 1345.7L651.8 1130.4" stroke="#d2d2d2" stroke-width="1.4"/>
<path d="M383.2 986.6L651.8 1130.4" stroke="#d2d2d2" stroke-width="1.4"/>
</g>
<g stroke="#222" stroke-opacity="0.3" stroke-width="0.7" stroke-linejoin="round">
<path fill="#d0d0e0" d="M384 992l7-2 6 1-7 2z"/>
<path fill="#d8d8e0" d="M378 989l6 3 6 1-7-1z"/>
<path fill="#e8e8f8" d="M372 996l7 6 5-10-6-3z"/>
<path fill="#d0d0d8" d="M379 1002l7-11 5-1-7 2z"/>
<path fill="#d8d8e0" d="M366 997l7 0 6 5-7-6z"/>
<path fill="#e0e0e8" d="M373 997l7 11 6-17-7 11z"/>
<path fill="#e0e0f8" d="M355 1014l6 3 6-4-7-16z"/>
<path fill="#e8e8f0" d="M391 990l7 9 6-7-7-1zM398 999l7 10 6-16-7-1zM405 1009l7 8 6-14-7-10zM386 991l6 18 6-10-7-9z"/>
<path fill="#f0e8f8" d="M360 997l7 16 6-16-7 0z"/>
<path fill="#d0d0d8" d="M374 1011l7-8 6 8-7-3zM406 1017l7-3 6-11-7 14zM387 1011l7-10 5-2-7 10z"/>
<path fill="#d0d0e0" d="M349 1014l6-4 6 7-6-3z"/>
<path fill="#d8d0e0" d="M412 1017l7-14 6 4-7-4z"/>
<path fill="#d8d8e0" d="M392 1009l7-10 6 10-7-10z"/>
<path fill="#d8d8e8" d="M355 1010l7 14 6-2-7-5z"/>
<path fill="#d8d8f0" d="M361 1017l7 5 6-11-7 2z"/>
<path fill="#e0e0e8" d="M399 999l7 18 6 0-7-8z"/>
<path fill="#e8e8f8" d="M367 1013l7-2 6-3-7-11z"/>
<path fill="#f0e8f8" d="M380 1008l7 3 5-2-6-18z"/>
<path fill="#d0d0d8" d="M368 1022l7-9 6-10-7 8zM362 1024l7-6 6-5-7 9zM401 1016l7-9 5 7-7 3z"/>
<path fill="#d8d0d8" d="M381 1003l7 6 6-8-7 10z"/>
<path fill="#d8d0e0" d="M419 1003l7 4 6-6-7 6zM343 1010l7 3 5-3-6 4z"/>
<path fill="#e0d8e8" d="M337 1031l7-7 6-11-7-3z"/>
<path fill="#e8e0f0" d="M394 1001l7 15 5 1-7-18zM413 1014l7 2 6-9-7-4z"/>
<path fill="#e8e8f0" d="M426 1007l7 6 6-1-7-11zM350 1013l7 12 5-1-7-14z"/>
<path fill="#d0d0d8" d="M357 1025l6-2 6-5-7 6zM415 1024l7-12 6 6-8-2z"/>
<path fill="#d8d8e0" d="M395 1019l7 2 6-14-7 9z"/>
<path fill="#d8d8f0" d="M331 1024l7 14 6-14-7 7z"/>
<path fill="#e0e0e8" d="M369 1018l7 0 6 0-7-5zM389 1023l7 3 6-5-7-2zM325 1025l7 6 6 7-7-14z"/>
<path fill="#e0e0f0" d="M338 1038l7 1 6-12-7-3z"/>
<path fill="#e0e0f8" d="M442 1031l7 13 5-8-7-8zM345 1039l7 9 6-13-7-8z"/>
<path fill="#e8e0e8" d="M408 1007l7 17 5-8-7-2z"/>
<path fill="#e8e0f0" d="M433 1013l7 11 6-18-7 6z"/>
<path fill="#e8e8f0" d="M388 1009l7 10 6-3-7-15zM420 1016l8 2 5-5-7-6zM428 1018l7 9 5-3-7-11zM435 1027l7 4 5-3-7-4zM351 1027l7 8 5-12-6 2zM363 1023l7 15 6-20-7 0z"/>
<path fill="#e8e8f8" d="M440 1024l7 4 6-5-7-17zM447 1028l7 8 6-10-7-3zM454 1036l8 1 5-4-7-7z"/>
<path fill="#f0e8f0" d="M375 1013l7 5 6-9-7-6zM376 1018l7 16 6-11-7-5zM402 1021l7 5 6-2-7-17z"/>
<path fill="#f0e8f8" d="M382 1018l7 5 6-4-7-10zM344 1024l7 3 6-2-7-12z"/>
<path fill="#d0d0d8" d="M352 1048l7-13 6-4-7 4z"/>
<path fill="#d0d0e0" d="M332 1031l7 5 6 3-7-1zM339 1036l7-2 6 14-7-9z"/>
<path fill="#d0d0e8" d="M449 1044l7-3 6-4-8-1z"/>
<path fill="#d0d0f0" d="M443 1048l7 7 6-14-7 3z"/>
<path fill="#d8d0d8" d="M409 1026l7-1 6-13-7 12z"/>
<path fill="#d8d8e0" d="M462 1037l7 4 6-25-8 17z"/>
<path fill="#d8d8e8" d="M456 1041l8-2 5 2-7-4z"/>
<path fill="#e0d8e8" d="M383 1034l7-4 6-4-7-3zM422 1012l7 14 6 1-7-9z"/>
<path fill="#e0e0e8" d="M390 1030l7 1 6 7-7-12z"/>
<path fill="#e0e0f0" d="M403 1038l7 6 6-19-7 1zM417 1050l7 1 6-10-7-5z"/>
<path fill="#e0e0f8" d="M436 1038l7 10 6-4-7-13zM430 1041l7 10 6-3-7-10z"/>
<path fill="#e8e0f0" d="M319 1035l7-1 6-3-7-6z"/>
<path fill="#e8e8f0" d="M358 1035l7-4 5 7-7-15zM429 1026l7 12 6-7-7-4zM410 1044l7 6 6-14-7-11z"/>
<path fill="#e8e8f8" d="M370 1038l7-7 6 3-7-16z"/>
<path fill="#f0e8f0" d="M416 1025l7 11 6-10-7-14z"/>
<path fill="#f0e8f8" d="M396 1026l7 12 6-12-7-5zM423 1036l7 5 6-3-7-12z"/>
<path fill="#c8c8e0" d="M437 1051l8-5 5 9-7-7z"/>
<path fill="#d0c8d0" d="M377 1031l8-37 5 36-7 4z"/>
<path fill="#d0d0d8" d="M397 1031l8-2 5 15-7-6zM365 1031l7-21 5 21-7 7zM412 1049l7-8 5 10-7-1zM346 1034l7-1 6 2-7 13z"/>
<path fill="#d0d0e8" d="M445 1046l7 11 5-4-7 2z"/>
<path fill="#d8d0d8" d="M333 1040l7-4 6-2-7 2z"/>
<path fill="#d8d8e0" d="M320 1049l6-13 7 4-7-6z"/>
<path fill="#d8d8e8" d="M450 1055l7-2 7-14-8 2zM405 1029l7 20 5 1-7-6z"/>
<path fill="#e0e0e8" d="M477 1037l7 10 5-6-7 0z"/>
<path fill="#e0e0f0" d="M424 1051l8-5 5 5-7-10z"/>
<path fill="#e8e8f0" d="M326 1034l7 6 6-4-7-5zM470 1055l8-2 6-6-7-10z"/>
<path fill="#e8e8f8" d="M464 1039l6 16 7-18-8 4zM307 1046l7 1 6 2-7-13zM484 1047l7 6 5-7-7-5zM457 1053l8-1 5 3-6-16zM491 1053l7 7 6-10-8-4z"/>
<path fill="#f0e8f0" d="M469 1041l8-4 5 4-7-25z"/>
<path fill="#f0e8f8" d="M313 1036l7 13 6-15-7 1z"/>
<path fill="#d0d0d8" d="M314 1047l6 0 6-11-6 13zM465 1052l8-3 5 4-8 2z"/>
<path fill="#d8d0e0" d="M478 1053l8-8 5 8-7-6zM426 1054l8-9 5 10-7-9z"/>
<path fill="#d8d8e0" d="M300 1044l7 3 7 0-7-1zM326 1036l7 5 7-5-7 4z"/>
<path fill="#d8d8e8" d="M452 1057l7 0 6-5-8 1z"/>
<path fill="#d8d8f0" d="M492 1067l8 3 6-11-8 1z"/>
<path fill="#e0d8e8" d="M419 1041l7 13 6-8-8 5z"/>
<path fill="#e0e0e8" d="M432 1046l7 9 6-9-8 5z"/>
<path fill="#e0e0f0" d="M498 1060l8-1 5-6-7-3zM486 1045l6 22 6-7-7-7zM446 1058l7 7 6-8-7 0z"/>
<path fill="#e8e0f0" d="M459 1057l7 8 7-16-8 3z"/>
<path fill="#e8e8f8" d="M439 1055l7 3 6-1-7-11zM307 1047l8 12 5-12-6 0zM473 1049l6 19 7-23-8 8zM479 1068l8 1 5-2-6-22z"/>
<path fill="#d0d0e0" d="M474 1066l8 3 5 0-8-1z"/>
<path fill="#d0d0e8" d="M487 1069l8 0 5 1-8-3zM495 1069l7 7 5 2-7-8z"/>
<path fill="#d8c8c8" d="M385 994l7-11 5 48-7-1z"/>
<path fill="#d8c8d0" d="M359 1035l6-39 7 14-7 21zM340 1036l6-22 7 19-7 1z"/>
<path fill="#d8d0d8" d="M406 1020l7 27 6-6-7 8zM320 1047l7-9 6 3-7-5zM413 1047l8-11 5 18-7-13z"/>
<path fill="#d8d8e0" d="M434 1045l7 13 5 0-7-3zM507 1078l9-12 5 0-8-5z"/>
<path fill="#e0e0e8" d="M506 1059l7 2 6-9-8 1zM461 1065l7 5 6-4-8-1z"/>
<path fill="#e0e0f0" d="M500 1070l7 8 6-17-7-2zM448 1072l7 6 6-13-8 0zM482 1069l7 6 6-6-8 0z"/>
<path fill="#e0e0f8" d="M521 1066l7 10 5-3-7-12z"/>
<path fill="#e8e0e8" d="M294 1037l7 18 6-8-7-3z"/>
<path fill="#e8e8f0" d="M453 1065l8 0 5 0-7-8zM288 1060l7 2 6-7-7-18z"/>
<path fill="#e8e8f8" d="M301 1055l7 7 7-3-8-12zM441 1058l7 14 5-7-7-7zM282 1063l7 9 6-10-7-2z"/>
<path fill="#f0e8f8" d="M295 1062l7 6 6-6-7-7zM513 1061l8 5 5-5-7-9z"/>
<path fill="#f0f0f8" d="M466 1065l8 1 5 2-6-19z"/>
<path fill="#d0d0d8" d="M442 1067l8-2 5 13-7-6zM289 1072l6-26 7 22-7-6zM502 1076l8-10 6 0-9 12z"/>
<path fill="#d0d0e0" d="M528 1076l8 2 6-14-9 9zM530 1086l8-7 5 8-7-9z"/>
<path fill="#d0d0e8" d="M543 1087l8-4 5 6-7-11z"/>
<path fill="#d8c8c8" d="M333 1041l7-45 6 18-6 22z"/>
<path fill="#d8c8d0" d="M315 1059l6-31 6 10-7 9zM308 1062l6-28 7-6-6 31zM421 1036l8-14 5 23-8 9z"/>
<path fill="#d8d0d0" stroke="#d8d0d0" stroke-opacity="1" stroke-width="0.5" d="M403 1015l2 8 2 13-2-7zM406 1020l2 10 2 10-2-8z"/>
<path fill="#d8d0d8" stroke="#d8d0d8" stroke-opacity="1" stroke-width="0.5" d="M405 1023l3 9 1 11-2-7zM408 1032l2 8 2 9-3-6z"/>
<path fill="#d8d8e0" d="M462 1079l9-8 5 2-8-3z"/>
<path fill="#d8d8f0" d="M522 1080l8 6 6-8-8-2z"/>
<path fill="#e0c0c0" stroke="#e0c0c0" stroke-opacity="1" stroke-width="0.5" d="M400 986l2 12 2 13-3-10z"/>
<path fill="#e0c8c8" stroke="#e0c8c8" stroke-opacity="1" stroke-width="0.5" d="M401 1001l3 10 1 12-2-8zM402 998l2 11 2 11-2-9z"/>
<path fill="#e0c8c8" d="M392 983l8 3 5 43-8 2z"/>
<path fill="#e0c8d0" stroke="#e0c8d0" stroke-opacity="1" stroke-width="0.5" d="M404 1011l2 9 2 12-3-9zM404 1009l2 11 2 10-2-10z"/>
<path fill="#e0e0e8" d="M275 1062l7 8 7 2-7-9zM435 1054l7 13 6 5-7-14z"/>
<path fill="#e0e0f0" d="M455 1078l7 1 6-9-7-5zM468 1070l8 3 6-4-8-3z"/>
<path fill="#e8e8f0" d="M516 1066l6 14 6-4-7-10zM489 1075l7 2 6-1-7-7z"/>
<path fill="#e8e8f8" d="M536 1078l7 9 6-9-7-14zM476 1073l7 6 6-4-7-6z"/>
<path fill="#d0d0d8" stroke="#d0d0d8" stroke-opacity="1" stroke-width="0.5" d="M302 1068l2-19 2 1-2 16zM304 1066l2-16 2 2-2 12zM306 1064l2-12 2 1-2 9z"/>
<path fill="#d0d0d8" d="M450 1065l7 3 5 11-7-1zM517 1083l9-9 4 12-8-6zM457 1068l8 7 6-4-9 8zM263 1079l6-15 7 6-7-2zM559 1091l8-7 5 3-8 0z"/>
<path fill="#d0d0e8" d="M551 1083l8 8 5-4-8 2z"/>
<path fill="#d8c8c8" stroke="#d8c8c8" stroke-opacity="1" stroke-width="0.5" d="M374 1017l2-20 2 11-2 16zM378 1008l2-16 2 14-2 13zM359 1017l2-17 2 9-2 13zM310 1039l2-13 2 8-2 10z"/>
<path fill="#d8c8d0" stroke="#d8c8d0" stroke-opacity="1" stroke-width="0.5" d="M376 1024l2-16 2 11-3 12zM353 1033l2-26 2 5-2 21zM355 1033l2-21 2 5-2 17zM357 1034l2-17 2 5-2 13zM304 1049l1-19 3 5-2 15zM306 1050l2-15 2 4-2 13zM308 1052l2-13 2 5-2 9z"/>
<path fill="#d8c8d0" d="M282 1070l6-33 7 9-6 26z"/>
<path fill="#d8d8e0" d="M538 1079l8 10 5-6-8 4z"/>
<path fill="#d8d8e8" d="M496 1077l8 6 6-17-8 10z"/>
<path fill="#e0a8a8" stroke="#e0a8a8" stroke-opacity="1" stroke-width="0.5" d="M376 962l3-25 2 19-3 21z"/>
<path fill="#e0b0b0" stroke="#e0b0b0" stroke-opacity="1" stroke-width="0.5" d="M357 981l2-28 2 15-2 22z"/>
<path fill="#e0b8b8" stroke="#e0b8b8" stroke-opacity="1" stroke-width="0.5" d="M374 986l2-24 2 15-2 20zM378 977l3-21 2 19-3 17zM359 990l2-22 2 14-2 18z"/>
<path fill="#e0c0c0" stroke="#e0c0c0" stroke-opacity="1" stroke-width="0.5" d="M376 997l2-20 2 15-2 16zM380 992l3-17 2 19-3 12zM355 1007l2-26 2 9-2 22zM361 1000l2-18 2 14-2 13zM305 1030l2-20 2 8-1 17z"/>
<path fill="#e0c0c8" stroke="#e0c0c8" stroke-opacity="1" stroke-width="0.5" d="M357 1012l2-22 2 10-2 17z"/>
<path fill="#e0c8c8" stroke="#e0c8c8" stroke-opacity="1" stroke-width="0.5" d="M372 1010l2-24 2 11-2 20zM308 1035l1-17 3 8-2 13z"/>
<path fill="#e0c8c8" d="M401 996l7 17 5 34-7-27z"/>
<path fill="#e0d0d8" d="M429 1022l6 32 6 4-7-13z"/>
<path fill="#e0d8e8" d="M471 1071l7 6 5 2-7-6zM478 1077l7 5 6-2-8-1z"/>
<path fill="#e0e0e8" d="M483 1079l8 1 5-3-7-2zM504 1083l9-10 4 10-7-17z"/>
<path fill="#e8e0f0" d="M510 1066l7 17 5-3-6-14zM269 1068l7 2 6 0-7-8zM491 1080l7 5 6-2-8-6zM383 1063l8 24 6-7-8-16z"/>
<path fill="#d0d0d8" d="M391 1087l7-6 6-20-7 19zM498 1085l9-3 6-9-9 10zM553 1092l9-4 5-4-8 7z"/>
<path fill="#d8c8c8" stroke="#d8c8c8" stroke-opacity="1" stroke-width="0.5" d="M410 1024l2-6 2 13-3 5zM417 1026l2-5 2 15-3 3zM327 1038l2-24 2 4-2 21z"/>
<path fill="#d8c8d0" stroke="#d8c8d0" stroke-opacity="1" stroke-width="0.5" d="M411 1036l3-5 2 12-3 4zM414 1031l3-5 1 13-2 4zM329 1039l2-21 2 4-2 18zM331 1040l2-18 2 5-2 14z"/>
<path fill="#d8c8d0" d="M256 1075l6-17 7 6-6 15z"/>
<path fill="#d8d0d8" stroke="#d8d0d8" stroke-opacity="1" stroke-width="0.5" d="M434 1038l2 8 2 12-3-4zM436 1046l2 8 2 9-2-5zM437 1045l2 12 2 5-3-8zM438 1054l3 8 1 5-2-4z"/>
<path fill="#d8d0d8" d="M526 1074l7 9 5-4-8 7zM385 1080l7 5 6-4-7 6z"/>
<path fill="#d8d8e0" d="M513 1073l7 11 6-10-9 9zM445 1088l8-2 6 0-8-1z"/>
<path fill="#e0b0b0" stroke="#e0b0b0" stroke-opacity="1" stroke-width="0.5" d="M331 989l2-26 2 11-2 23z"/>
<path fill="#e0b8b8" stroke="#e0b8b8" stroke-opacity="1" stroke-width="0.5" d="M413 998l3-7 2 15-3 6zM333 997l2-23 2 11-2 19zM335 1004l2-19 3 11-2 15z"/>
<path fill="#e0c0c0" stroke="#e0c0c0" stroke-opacity="1" stroke-width="0.5" d="M408 1013l3-7 1 12-2 6zM411 1006l2-8 2 14-3 6zM415 1012l3-6 1 15-2 5zM329 1014l2-25 2 8-2 21zM331 1018l2-21 2 7-2 18z"/>
<path fill="#e0c8c8" stroke="#e0c8c8" stroke-opacity="1" stroke-width="0.5" d="M412 1018l3-6 2 14-3 5zM333 1022l2-18 3 7-3 16zM432 1022l3 11 1 13-2-8zM433 1020l2 16 2 9-2-12z"/>
<path fill="#e0d0d0" stroke="#e0d0d0" stroke-opacity="1" stroke-width="0.5" d="M435 1033l2 12 1 9-2-8zM435 1036l2 15 2 6-2-12z"/>
<path fill="#e0d8e0" d="M437 1051l7 20 6-6-8 2z"/>
<path fill="#e0e0e8" d="M459 1086l8-6 5 10-7-15zM467 1080l7 18 5-6-7-2zM479 1092l8-3 6-1-8-6z"/>
<path fill="#e8c0c0" stroke="#e8c0c0" stroke-opacity="1" stroke-width="0.5" d="M431 1005l2 15 2 13-3-11z"/>
<path fill="#e8d8e0" d="M389 1064l8 16 6-43-7 1z"/>
<path fill="#e8e0e8" d="M451 1085l8 1 6-11-8-7zM377 1072l8 8 6 7-8-24z"/>
<path fill="#e8e0f0" d="M485 1082l8 6 5-3-7-5zM567 1084l8 11 5-4-8-4z"/>
<path fill="#e8e8f0" d="M546 1089l7 3 6-1-8-8zM438 1078l7 10 6-3-7-14zM472 1090l7 2 6-10-7-5zM533 1083l8 6 5 0-8-10zM541 1089l7 8 5-5-7-3zM493 1088l7 9 7-15-9 3zM527 1092l8 5 6-8-8-6z"/>
<path fill="#e8e8f8" d="M500 1097l7 11 7-12-7-14zM514 1096l7 5 6-9-7-8z"/>
<path fill="#f0e0e8" d="M431 1060l7 18 6-7-7-20z"/>
<path fill="#f0e8f0" d="M444 1071l7 14 6-17-7-3zM465 1075l7 15 6-13-7-6zM432 1085l7 7 6-4-7-10zM520 1084l7 8 6-9-7-9zM507 1082l7 14 6-12-7-11zM425 1075l7 10 6-7-7-18z"/>
<path fill="#d0c8d0" stroke="#d0c8d0" stroke-opacity="1" stroke-width="0.5" d="M278 1070l2-16 2 3-2 13z"/>
<path fill="#d0c8d8" stroke="#d0c8d8" stroke-opacity="1" stroke-width="0.5" d="M280 1070l2-13 2 2-2 11z"/>
<path fill="#d0d0d8" d="M575 1095l10-15 4 6-9 5zM502 1104l8-1 6-2-9 7z"/>
<path fill="#d0d0e8" d="M467 1113l9-11 5 5-7-9z"/>
<path fill="#d8c8c8" stroke="#d8c8c8" stroke-opacity="1" stroke-width="0.5" d="M280 1054l1-15 3 4-2 14zM350 1026l3-25 2 6-2 26z"/>
<path fill="#d8c8d0" stroke="#d8c8d0" stroke-opacity="1" stroke-width="0.5" d="M276 1070l1-18 3 2-2 16zM282 1057l2-14 2 5-2 11z"/>
<path fill="#d8d0e0" d="M516 1101l8-2 4 13-7-11z"/>
<path fill="#d8d8e0" d="M454 1101l8 3 5 9-7-11zM542 1110l9-8 5-2-8-3zM591 1097l8 7 4 0-8 1z"/>
<path fill="#d8d8e8" d="M507 1108l9-7 5 0-7-5z"/>
<path fill="#d8d8f0" d="M528 1112l9-9 5 7-7-13z"/>
<path fill="#e0a0a0" stroke="#e0a0a0" stroke-opacity="1" stroke-width="0.5" d="M350 964l3-26 2 5-2 27z"/>
<path fill="#e0a8a8" stroke="#e0a8a8" stroke-opacity="1" stroke-width="0.5" d="M353 970l2-27 2 5-2 27zM355 975l2-27 2 5-2 28z"/>
<path fill="#e0b0b0" stroke="#e0b0b0" stroke-opacity="1" stroke-width="0.5" d="M348 989l2-25 3 6-3 25z"/>
<path fill="#e0b8b8" stroke="#e0b8b8" stroke-opacity="1" stroke-width="0.5" d="M350 995l3-25 2 5-2 26zM353 1001l2-26 2 6-2 26z"/>
<path fill="#e0c0c0" stroke="#e0c0c0" stroke-opacity="1" stroke-width="0.5" d="M279 1034l1-19 3 7-2 17zM281 1039l2-17 2 8-1 13zM346 1014l2-25 2 6-2 25z"/>
<path fill="#e0c8c8" stroke="#e0c8c8" stroke-opacity="1" stroke-width="0.5" d="M277 1052l2-18 2 5-1 15zM284 1043l1-13 3 7-2 11zM348 1020l2-25 3 6-3 25z"/>
<path fill="#e0d0d0" d="M397 1080l7-19 7-33-8 9z"/>
<path fill="#e0d8e0" d="M392 1085l7-1 6 1-7-4zM585 1080l6 17 4 8-6-19z"/>
<path fill="#e0d8e8" d="M405 1085l8-1 6 5-8-10zM386 1103l7-1 6-18-7 1zM434 1094l7 3 6 0-8-5z"/>
<path fill="#e0e0e8" d="M439 1092l8 5 6-11-8 2zM548 1097l8 3 6-12-9 4zM495 1097l7 7 5 4-7-11zM380 1105l7 3 6-6-7 1zM481 1107l8-8 6-2-8-8z"/>
<path fill="#e0e0f0" d="M366 1108l8 0 6-3-8-4z"/>
<path fill="#e8e0e8" d="M411 1079l8 10 6-14-7-22zM371 1082l8-2 6 0-8-8zM562 1088l8 5 5 2-8-11z"/>
<path fill="#e8e0f0" d="M419 1089l7-2 6-2-7-10zM487 1089l8 8 5 0-7-9zM426 1087l8 7 5-2-7-7zM420 1100l8-1 6-5-8-7zM399 1084l8 11 6-11-8 1z"/>
<path fill="#e8e8f0" d="M474 1098l7 9 6-18-8 3zM460 1102l7 11 7-15-7-18zM453 1086l7 16 7-22-8 6zM413 1084l7 16 6-13-7 2zM556 1100l7 6 7-13-8-5z"/>
<path fill="#e8e8f8" d="M521 1101l7 11 7-15-8-5zM372 1101l8 4 6-2-7-23zM447 1097l7 4 6 1-7-16z"/>
<path fill="#f0e8f0" d="M398 1081l7 4 6-6-7-18zM379 1080l7 23 6-18-7-5zM365 1075l7 26 7-21-8 2z"/>
<path fill="#f0e8f8" d="M535 1097l7 13 6-13-7-8z"/>
<path fill="#d0d0d8" d="M537 1103l8 4 6-5-9 8zM476 1102l7 1 6-4-8 8z"/>
<path fill="#d0d0e8" d="M559 1134l8-3 7-11-8-2z"/>
<path fill="#d8c8d0" stroke="#d8c8d0" stroke-opacity="1" stroke-width="0.5" d="M297 1054l2-23 2 9-1 21zM300 1061l1-21 3 9-2 19zM432 1028l2 10 1 16-2-10z"/>
<path fill="#d8c8d0" d="M250 1089l4-46 8 15-6 17z"/>
<path fill="#d8d0d8" d="M414 1100l8-3 6 2-8 1z"/>
<path fill="#d8d0e0" d="M524 1099l7 12 6-8-9 9zM496 1114l9-7 5-4-8 1z"/>
<path fill="#d8d8e0" d="M462 1104l7 10 7-12-9 11zM570 1093l7 9 8-22-10 15zM381 1114l7-2 7-6-8 2zM469 1114l9-5 5-6-7-1z"/>
<path fill="#e09090" stroke="#e09090" stroke-opacity="1" stroke-width="0.5" d="M370 930l3-35 2 14-3 31z"/>
<path fill="#e09898" stroke="#e09898" stroke-opacity="1" stroke-width="0.5" d="M372 940l3-31 2 14-3 28z"/>
<path fill="#e0a0a0" stroke="#e0a0a0" stroke-opacity="1" stroke-width="0.5" d="M379 937l2-3 2 19-2 3zM381 934l3-3 2 19-3 3zM384 931l3-3 1 19-2 3zM374 951l3-28 2 14-3 25z"/>
<path fill="#e0a8a8" stroke="#e0a8a8" stroke-opacity="1" stroke-width="0.5" d="M383 953l3-3 2 19-3 3zM386 950l2-3 2 18-2 4zM297 995l2-27 3 15-2 24zM368 963l2-33 2 10-2 31zM370 971l2-31 2 11-2 28z"/>
<path fill="#e0b0b0" stroke="#e0b0b0" stroke-opacity="1" stroke-width="0.5" d="M419 987l2-3 2 15-3 3zM421 984l3-3 2 14-3 4zM381 956l2-3 2 19-2 3zM300 1007l2-24 2 14-1 22zM424 981l2 8 2 15-2-9zM372 979l2-28 2 11-2 24z"/>
<path fill="#e0b8b8" stroke="#e0b8b8" stroke-opacity="1" stroke-width="0.5" d="M416 991l3-4 1 15-2 4zM420 1002l3-3 1 14-2 4zM423 999l3-4 1 14-3 4zM383 975l2-3 2 18-2 4zM385 972l3-3 2 18-3 3zM388 969l2-4 2 18-2 4zM296 1021l1-26 3 12-1 24zM303 1019l1-22 3 13-2 20zM426 995l2 9 1 15-2-10zM426 989l3 8 1 16-2-9zM429 997l2 8 1 17-2-9zM365 996l3-33 2 8-2 29z"/>
<path fill="#e0b8b8" d="M402 1025l8-32 6-2-8 22z"/>
<path fill="#e0c0c0" stroke="#e0c0c0" stroke-opacity="1" stroke-width="0.5" d="M418 1006l2-4 2 15-3 4zM424 1013l3-4 2 13-3 5zM299 1031l1-24 3 12-2 21zM427 1009l2 10 2 14-2-11zM428 1004l2 9 2 15-3-9zM368 1000l2-29 2 8-2 26zM370 1005l2-26 2 7-2 24z"/>
<path fill="#e0c0c0" d="M396 1038l7-1 7-44-8 32z"/>
<path fill="#e0c0c8" stroke="#e0c0c8" stroke-opacity="1" stroke-width="0.5" d="M422 1017l2-4 2 14-3 4zM430 1013l2 9 2 16-2-10z"/>
<path fill="#e0c8c8" stroke="#e0c8c8" stroke-opacity="1" stroke-width="0.5" d="M419 1021l3-4 1 14-2 5zM295 1046l1-25 3 10-2 23zM301 1040l2-21 2 11-1 19zM429 1019l3 9 1 16-2-11z"/>
<path fill="#e0d8e8" d="M387 1108l8-2 6-2-8-2zM360 1107l7 4 7-3-8 0zM599 1104l8 4 5-7-9 3z"/>
<path fill="#e0e0e8" d="M441 1097l8 5 5-1-7-4zM571 1113l9-2 5-7-8-2zM401 1104l7-1 6-3-7-5zM566 1118l8 2 6-9-9 2zM367 1111l8 3 6 0-7-6z"/>
<path fill="#e0e0f8" d="M553 1113l6 21 7-16-8-6z"/>
<path fill="#e8a0a0" stroke="#e8a0a0" stroke-opacity="1" stroke-width="0.5" d="M394 913l3 28 1 20-2-23z"/>
<path fill="#e8b0b0" stroke="#e8b0b0" stroke-opacity="1" stroke-width="0.5" d="M396 938l2 23 2 18-2-16zM397 941l2 28 2 14-3-22z"/>
<path fill="#e8b8b8" stroke="#e8b8b8" stroke-opacity="1" stroke-width="0.5" d="M398 963l2 16 2 19-2-12zM398 961l3 22 1 13-2-17zM399 969l2 27 2 8-2-21z"/>
<path fill="#e8c0c0" stroke="#e8c0c0" stroke-opacity="1" stroke-width="0.5" d="M400 979l2 17 2 13-2-11zM401 983l2 21 2 8-3-16z"/>
<path fill="#e8c8c8" stroke="#e8c8c8" stroke-opacity="1" stroke-width="0.5" d="M402 996l3 16 1 8-2-11z"/>
<path fill="#e8d8e0" stroke="#e8d8e0" stroke-opacity="1" stroke-width="0.5" d="M381 1045l2 18 3 1-3-19zM383 1045l3 19 2 0-3-19zM385 1045l3 19 1 0-2-18z"/>
<path fill="#e8e0f0" d="M359 1086l7 22 6-7-7-26zM483 1103l8 7 5 4-7-15z"/>
<path fill="#e8e8f0" d="M563 1106l8 7 6-11-7-9zM551 1102l7 10 5-6-7-6zM393 1102l8 2 6-9-8-11zM374 1108l7 6 6-6-7-3zM353 1097l7 10 6 1-7-22zM435 1109l7 8 7-15-8-5zM577 1102l8 2 6-7-6-17zM510 1103l8 12 6-16-8 2zM422 1097l7 22 6-10-7-10zM585 1104l8 3 6-3-8-7zM545 1107l8 6 5-1-7-10zM531 1111l8 5 6-9-8-4zM346 1100l8 15 6-8-7-10zM518 1115l8 1 5-5-7-12z"/>
<path fill="#e8e8f8" d="M489 1099l7 15 6-10-7-7zM558 1112l8 6 5-5-8-7zM456 1118l8-1 5-3-7-10zM442 1117l8 6 6-5-7-16zM429 1119l7 3 6-5-7-8z"/>
<path fill="#f0c8c8" stroke="#f0c8c8" stroke-opacity="1" stroke-width="0.5" d="M376 1006l3 20 2 0-3-19zM378 1007l3 19 2 1-3-20zM380 1007l3 20 2 0-2-19z"/>
<path fill="#f0d0d0" stroke="#f0d0d0" stroke-opacity="1" stroke-width="0.5" d="M379 1026l2 19 2 0-2-19z"/>
<path fill="#f0d0d8" stroke="#f0d0d8" stroke-opacity="1" stroke-width="0.5" d="M381 1026l2 19 2 0-2-18z"/>
<path fill="#f0d0d8" d="M425 1015l6 45 6-9-6-46zM370 1013l7 59 6-9-7-57z"/>
<path fill="#f0d8d8" stroke="#f0d8d8" stroke-opacity="1" stroke-width="0.5" d="M385 1027l2 19 2-7-2-17zM387 1022l2 17 2-7-2-15zM391 1032l3 15 2-9-3-13zM383 1027l2 18 2 1-2-19z"/>
<path fill="#f0d8e0" stroke="#f0d8e0" stroke-opacity="1" stroke-width="0.5" d="M389 1039l3 17 2-9-3-15z"/>
<path fill="#f0d8e0" d="M404 1061l7 18 7-26-7-25zM418 1053l7 22 6-15-6-45z"/>
<path fill="#f0e0e0" stroke="#f0e0e0" stroke-opacity="1" stroke-width="0.5" d="M387 1046l2 18 3-8-3-17z"/>
<path fill="#f0e8f0" d="M407 1095l7 5 6 0-7-16zM428 1099l7 10 6-12-7-3z"/>
<path fill="#f0e8f8" d="M449 1102l7 16 6-14-8-3zM607 1108l7 8 6-7-8-8z"/>
<path fill="#f8c8c8" stroke="#f8c8c8" stroke-opacity="1" stroke-width="0.5" d="M387 1001l2 16 2-6-2-13z"/>
<path fill="#f8c8d0" stroke="#f8c8d0" stroke-opacity="1" stroke-width="0.5" d="M385 1005l2 17 2-5-2-16z"/>
<path fill="#f8d0d0" stroke="#f8d0d0" stroke-opacity="1" stroke-width="0.5" d="M383 1008l2 19 2-5-2-17zM389 1017l2 15 2-7-2-14z"/>
<path fill="#f8d0d0" d="M395 985l7 40 6-12-7-17zM389 998l7 40 6-13-7-40z"/>
<path fill="#b8b8e0" d="M637 1138l10-7 2 15-7-11z"/>
<path fill="#c0c0e0" d="M554 1135l8-1 5-3-8 3zM575 1138l8 4 7-17-10 12z"/>
<path fill="#c8c8e8" d="M411 1138l7 2 7-10-8 5z"/>
<path fill="#d0d0d8" stroke="#d0d0d8" stroke-opacity="1" stroke-width="0.5" d="M248 1087l1-16 2 3-1 15z"/>
<path fill="#d0d0d8" d="M444 1124l8-4 6-1-8 4z"/>
<path fill="#d0d0e0" d="M450 1123l8-4 6-2-8 1z"/>
<path fill="#d0d0f0" d="M562 1134l8 4 5 0-8-7z"/>
<path fill="#d0d0f8" d="M567 1131l8 7 5-1-6-17zM403 1131l8 7 6-3-8-9z"/>
<path fill="#d8c8c8" stroke="#d8c8c8" stroke-opacity="1" stroke-width="0.5" d="M246 1068l1-18 3 4-1 17z"/>
<path fill="#d8c8d0" stroke="#d8c8d0" stroke-opacity="1" stroke-width="0.5" d="M269 1064l1-19 3 2-2 19zM271 1066l2-19 2 3-1 18zM274 1068l1-18 2 2-1 18zM243 1083l1-18 2 3-1 17zM245 1085l1-17 3 3-1 16zM249 1071l1-17 3 4-2 16z"/>
<path fill="#d8d0d8" d="M608 1126l10-9 5-1-9 0z"/>
<path fill="#d8d8e0" d="M395 1106l7 1 6-4-7 1zM623 1116l8 7 4 1-9 1zM580 1111l9-4 4 0-8-3zM493 1125l8-1 5-2-8 1z"/>
<path fill="#d8d8e8" d="M423 1120l8 3 5-1-7-3zM417 1135l8-5 6-7-8-3z"/>
<path fill="#d8d8f0" d="M631 1123l6 15 5-3-7-11z"/>
<path fill="#d8d8f8" d="M547 1123l7 12 5-1-6-21z"/>
<path fill="#e09090" stroke="#e09090" stroke-opacity="1" stroke-width="0.5" d="M392 918l2-5 2 25-2 3z"/>
<path fill="#e09898" stroke="#e09898" stroke-opacity="1" stroke-width="0.5" d="M387 928l2-5 2 21-3 3zM389 923l3-5 2 23-3 3z"/>
<path fill="#e0a0a0" stroke="#e0a0a0" stroke-opacity="1" stroke-width="0.5" d="M324 972l2-30 2 7-2 28zM326 977l2-28 2 7-2 27zM394 941l2-3 2 25-3 1z"/>
<path fill="#e0a8a8" stroke="#e0a8a8" stroke-opacity="1" stroke-width="0.5" d="M328 983l2-27 3 7-2 26zM388 947l3-3 2 20-3 1zM391 944l3-3 1 23-2 0z"/>
<path fill="#e0b0b0" stroke="#e0b0b0" stroke-opacity="1" stroke-width="0.5" d="M322 1000l2-28 2 5-2 28zM390 965l3-1 2 20-3-1zM393 964l2 0 2 21-2-1zM395 964l3-1 2 23-3-1z"/>
<path fill="#e0b8b8" stroke="#e0b8b8" stroke-opacity="1" stroke-width="0.5" d="M324 1005l2-28 2 6-1 26zM327 1009l1-26 3 6-2 25zM271 1025l2-20 2 3-1 20zM274 1028l1-20 3 3-2 20zM276 1031l2-20 2 4-1 19zM245 1046l1-18 3 5-2 17z"/>
<path fill="#e0c0c0" stroke="#e0c0c0" stroke-opacity="1" stroke-width="0.5" d="M321 1028l1-28 2 5-1 26zM270 1045l1-20 3 3-1 19zM273 1047l1-19 2 3-1 19zM247 1050l2-17 2 5-1 16zM250 1054l1-16 3 5-1 15z"/>
<path fill="#e0c8c8" stroke="#e0c8c8" stroke-opacity="1" stroke-width="0.5" d="M323 1031l1-26 3 4-2 26zM325 1035l2-26 2 5-2 24zM275 1050l1-19 3 3-2 18zM244 1065l1-19 2 4-1 18z"/>
<path fill="#e0d8e0" d="M408 1103l8 1 6-7-8 3zM589 1107l8 5 4 1-8-6z"/>
<path fill="#e0d8e8" d="M464 1117l7 4 7-12-9 5zM375 1114l7 5 6-7-7 2z"/>
<path fill="#e0e0e8" d="M614 1116l9 0 3 9-6-16zM354 1115l7-3 6-1-7-4zM526 1116l8 0 5 0-8-5zM348 1115l7 8 6-11-7 3zM534 1116l7 8 6-1-8-7zM431 1123l7 3 6-2-8-2zM506 1122l8 2 6-1-8-5z"/>
<path fill="#e0e0f0" d="M436 1122l8 2 6-1-8-6zM541 1124l8 11 5 0-7-12z"/>
<path fill="#e8d8e0" stroke="#e8d8e0" stroke-opacity="1" stroke-width="0.5" d="M369 1060l2 22 2-4-2-21zM371 1057l2 21 2-3-2-20zM373 1055l2 20 2-3-2-20z"/>
<path fill="#e8e0e8" d="M340 1098l8 17 6 0-8-15z"/>
<path fill="#e8e0f0" d="M491 1110l7 13 7-16-9 7zM512 1118l8 5 6-7-8-1zM574 1120l6 17 9-30-9 4zM416 1104l7 16 6-1-7-22z"/>
<path fill="#e8e8f0" d="M505 1107l7 11 6-3-8-12zM593 1107l8 6 6-5-8-4zM409 1126l8 9 6-15-7-16zM498 1123l8-1 6-4-7-11zM402 1107l7 19 7-22-8-1zM485 1115l8 10 5-2-7-13zM388 1112l8 7 6-12-7-1zM471 1121l8 11 6-17-7-6zM458 1119l7 7 6-5-7-4zM520 1123l7 8 7-15-8 0zM382 1119l8 5 6-5-8-7z"/>
<path fill="#e8e8f8" d="M539 1116l8 7 6-10-8-6zM396 1119l7 12 6-5-7-19zM361 1112l8 11 6-9-8-3zM465 1126l8 11 6-5-8-11z"/>
<path fill="#f0c8c8" stroke="#f0c8c8" stroke-opacity="1" stroke-width="0.5" d="M364 1015l2 23 2-2-2-22zM366 1014l2 22 2-2-2-20zM368 1014l2 20 3-1-3-20z"/>
<path fill="#f0d8d8" stroke="#f0d8d8" stroke-opacity="1" stroke-width="0.5" d="M366 1038l3 22 2-3-3-21zM368 1036l3 21 2-2-3-21zM370 1034l3 21 2-3-2-19z"/>
<path fill="#f0e8f0" d="M478 1109l7 6 6-5-8-7z"/>
<path fill="#f0e8f8" d="M601 1113l7 13 6-10-7-8z"/>
<path fill="#c8c8d8" d="M570 1138l10-7 3 11-8-4z"/>
<path fill="#c8c8e0" d="M549 1135l8 2 5-3-8 1z"/>
<path fill="#d0d0d8" d="M473 1137l8-6 6-6-8 7zM349 1132l7-10 6 3-7-2zM405 1133l8-3 5 10-7-2z"/>
<path fill="#d0d0e0" d="M397 1131l8 2 6 5-8-7z"/>
<path fill="#d8c8c8" stroke="#d8c8c8" stroke-opacity="1" stroke-width="0.5" d="M267 1062l1-20 2 3-1 19z"/>
<path fill="#d8d0e0" d="M605 1116l7 10 6-9-10 9zM633 1135l9 3 5-7-10 7zM557 1137l9-4 4 5-8-4z"/>
<path fill="#d8d8e0" d="M580 1137l10-12 7-13-8-5zM597 1112l8 4 3 10-7-13zM514 1124l9 0 4 7-7-8zM438 1126l8 3 6-9-8 4zM418 1140l8-5 6-4-7-1z"/>
<path fill="#d8d8e8" d="M543 1141l8 0 6-4-8-2z"/>
<path fill="#e09090" stroke="#e09090" stroke-opacity="1" stroke-width="0.5" d="M344 936l2-31 2 11-2 30z"/>
<path fill="#e09898" stroke="#e09898" stroke-opacity="1" stroke-width="0.5" d="M346 946l2-30 2 11-2 28z"/>
<path fill="#e0a0a0" stroke="#e0a0a0" stroke-opacity="1" stroke-width="0.5" d="M318 986l1-26 2-6-1 27zM320 981l1-27 2-6-1 28zM322 976l1-28 3-6-2 30zM342 967l2-31 2 10-2 28zM348 955l2-28 3 11-3 26z"/>
<path fill="#e0a8a8" stroke="#e0a8a8" stroke-opacity="1" stroke-width="0.5" d="M344 974l2-28 2 9-2 27zM264 1013l1-23 2 5-1 22z"/>
<path fill="#e0b0b0" stroke="#e0b0b0" stroke-opacity="1" stroke-width="0.5" d="M316 1010l2-24 2-5-2 26zM318 1007l2-26 2-5-2 28zM320 1004l2-28 2-4-2 28zM340 996l2-29 2 7-2 28zM346 982l2-27 2 9-2 25zM266 1017l1-22 3 5-1 21zM269 1021l1-21 3 5-2 20z"/>
<path fill="#e0b8b8" stroke="#e0b8b8" stroke-opacity="1" stroke-width="0.5" d="M342 1002l2-28 2 8-2 26zM263 1036l1-23 2 4-1 22zM265 1039l1-22 3 4-1 21z"/>
<path fill="#e0c0c0" stroke="#e0c0c0" stroke-opacity="1" stroke-width="0.5" d="M314 1034l2-24 2-3-2 25zM316 1032l2-25 2-3-2 26zM318 1030l2-26 2-4-1 28zM344 1008l2-26 2 7-2 25zM268 1042l1-21 2 4-1 20z"/>
<path fill="#e0c8c8" stroke="#e0c8c8" stroke-opacity="1" stroke-width="0.5" d="M262 1058l1-22 2 3-1 21zM264 1060l1-21 3 3-1 20z"/>
<path fill="#e0d8e0" d="M362 1125l8 3 6-6-7 1z"/>
<path fill="#e0e0e8" d="M369 1123l7-1 6-3-7-5zM523 1124l7 14 5-2-8-5zM583 1142l8 3 8-22-9 2zM590 1125l9-2 6-7-8-4z"/>
<path fill="#e0e0f0" d="M479 1132l8-7 6 0-8-10zM425 1130l7 1 6-5-7-3zM530 1138l7 7 6-4-8-5z"/>
<path fill="#e0e0f8" d="M439 1147l8 0 6-7-7-11z"/>
<path fill="#e8b0b0" stroke="#e8b0b0" stroke-opacity="1" stroke-width="0.5" d="M410 1003l3-5 2-17-2 6zM413 998l3-5 2-18-3 6z"/>
<path fill="#e8b8b8" stroke="#e8b8b8" stroke-opacity="1" stroke-width="0.5" d="M408 1008l2-5 3-16-3 6zM408 1019l3-4 2-17-3 5zM411 1015l2-4 3-18-3 5z"/>
<path fill="#e8c0c0" stroke="#e8c0c0" stroke-opacity="1" stroke-width="0.5" d="M405 1022l3-3 2-16-2 5zM408 1031l3-3 2-17-2 4z"/>
<path fill="#e8c8c8" stroke="#e8c8c8" stroke-opacity="1" stroke-width="0.5" d="M403 1037l3-3 2-15-3 3zM406 1034l2-3 3-16-3 4z"/>
<path fill="#e8d8d8" stroke="#e8d8d8" stroke-opacity="1" stroke-width="0.5" d="M363 1056l2 19 2 2-2-20z"/>
<path fill="#e8d8e0" stroke="#e8d8e0" stroke-opacity="1" stroke-width="0.5" d="M365 1057l2 20 2 3-2-21zM367 1059l2 21 2 2-2-22z"/>
<path fill="#e8e0e8" d="M334 1104l7 11 7 0-8-17zM335 1126l7-2 7 8-8-17z"/>
<path fill="#e8e0f0" d="M625 1127l8 8 4 3-6-15zM501 1124l8 5 5-5-8-2z"/>
<path fill="#e8e8f0" d="M390 1124l7 7 6 0-7-12zM527 1131l8 5 6-12-7-8zM341 1115l8 17 6-9-7-8zM452 1120l7 12 6-6-7-7zM459 1132l8 4 6 1-8-11zM618 1117l7 10 6-4-8-7zM376 1122l8 6 6-4-8-5zM487 1125l8 10 6-11-8 1zM495 1135l7 8 7-14-8-5z"/>
<path fill="#e8e8f8" d="M535 1136l8 5 6-6-8-11zM384 1128l7 10 6-7-7-7zM432 1131l7 16 7-18-8-3zM481 1131l7 18 7-14-8-10zM453 1140l8 5 6-9-8-4z"/>
<path fill="#f0c8c8" stroke="#f0c8c8" stroke-opacity="1" stroke-width="0.5" d="M357 1016l3 20 2 1-3-21zM359 1016l3 21 2 0-2-22zM362 1015l2 22 2 1-2-23zM416 1021l2 10 2-15-2-11z"/>
<path fill="#f0d0d0" stroke="#f0d0d0" stroke-opacity="1" stroke-width="0.5" d="M360 1036l3 20 2 1-3-20zM362 1037l3 20 2 2-3-22zM364 1037l3 22 2 1-3-22zM411 1028l2 8 3-15-3-10zM413 1036l3 9 2-14-2-10zM418 1031l2 9 2-12-2-12z"/>
<path fill="#f0d8d8" stroke="#f0d8d8" stroke-opacity="1" stroke-width="0.5" d="M416 1045l2 8 2-13-2-9z"/>
<path fill="#f0e8f0" d="M612 1126l7 12 6-11-7-10z"/>
<path fill="#f0e8f8" d="M355 1123l7 2 7-2-8-11zM446 1129l7 11 6-8-7-12zM370 1128l7 14 7-14-8-6z"/>
<path fill="#f8b8b8" stroke="#f8b8b8" stroke-opacity="1" stroke-width="0.5" d="M416 993l2 12 2-16-2-14z"/>
<path fill="#f8c0c0" stroke="#f8c0c0" stroke-opacity="1" stroke-width="0.5" d="M413 1011l3 10 2-16-2-12zM418 1005l2 11 3-14-3-13z"/>
<path fill="#f8c8c8" stroke="#f8c8c8" stroke-opacity="1" stroke-width="0.5" d="M420 1016l2 12 3-13-2-13z"/>
<path fill="#d0d0d8" d="M467 1136l8-1 6-4-8 6zM342 1124l8 3 6-5-7 10z"/>
<path fill="#d0d0e0" d="M441 1154l8-6 6 4-8-5zM455 1152l8-7 6 3-8-3z"/>
<path fill="#d0d0f0" d="M434 1145l7 9 6-7-8 0z"/>
<path fill="#d8c8c8" stroke="#d8c8c8" stroke-opacity="1" stroke-width="0.5" d="M238 1074l0-21 3 6-1 19z"/>
<path fill="#d8c8d0" stroke="#d8c8d0" stroke-opacity="1" stroke-width="0.5" d="M240 1078l1-19 3 6-1 18z"/>
<path fill="#d8d0e0" d="M413 1130l7 9 6-4-8 5z"/>
<path fill="#d8d8e0" d="M580 1131l7 13 4 1-8-3zM329 1135l7-3 6-8-7 2zM566 1133l7 7 7-9-10 7zM475 1135l9-3 4 17-7-18zM371 1139l8 5 6-4-8 2z"/>
<path fill="#d8d8e8" d="M488 1149l9-10 5 4-7-8z"/>
<path fill="#e08888" stroke="#e08888" stroke-opacity="1" stroke-width="0.5" d="M364 919l2-18 2-2-2 23zM366 922l2-23 3-2-3 29zM368 926l3-29 2-2-3 35z"/>
<path fill="#e09898" stroke="#e09898" stroke-opacity="1" stroke-width="0.5" d="M310 966l2-24 3 6-2 24zM361 936l3-17 2 3-2 23zM364 945l2-23 2 4-2 28z"/>
<path fill="#e0a0a0" stroke="#e0a0a0" stroke-opacity="1" stroke-width="0.5" d="M290 983l1-28 3 5-1 27zM293 987l1-27 2 4-1 27zM295 991l1-27 3 4-2 27zM313 972l2-24 2 6-2 25zM315 979l2-25 2 6-1 26zM359 953l2-17 3 9-3 23zM366 954l2-28 2 4-2 33z"/>
<path fill="#e0a8a8" stroke="#e0a8a8" stroke-opacity="1" stroke-width="0.5" d="M309 988l1-22 3 6-2 24zM311 996l2-24 2 7-1 24zM361 968l3-23 2 9-3 28zM236 1024l1-24 3 10-1 22z"/>
<path fill="#e0a8a8" d="M410 993l8-18 6 6-8 10z"/>
<path fill="#e0b0b0" stroke="#e0b0b0" stroke-opacity="1" stroke-width="0.5" d="M289 1011l1-28 3 4-2 27zM291 1014l2-27 2 4-1 27zM314 1003l1-24 3 7-2 24zM363 982l3-28 2 9-3 33zM239 1032l1-22 3 9-1 20z"/>
<path fill="#e0b8b8" stroke="#e0b8b8" stroke-opacity="1" stroke-width="0.5" d="M294 1018l1-27 2 4-1 26zM307 1010l2-22 2 8-2 22zM309 1018l2-22 3 7-2 23zM236 1047l0-23 3 8-1 21zM242 1039l1-20 3 9-1 18z"/>
<path fill="#e0c0c0" stroke="#e0c0c0" stroke-opacity="1" stroke-width="0.5" d="M288 1037l1-26 2 3-1 26zM290 1040l1-26 3 4-2 25zM312 1026l2-23 2 7-2 24zM238 1053l1-21 3 7-1 20zM241 1059l1-20 3 7-1 19z"/>
<path fill="#e0c0c8" stroke="#e0c0c8" stroke-opacity="1" stroke-width="0.5" d="M292 1043l2-25 2 3-1 25z"/>
<path fill="#e0c8c8" stroke="#e0c8c8" stroke-opacity="1" stroke-width="0.5" d="M235 1069l1-22 2 6 0 21z"/>
<path fill="#e0d8e0" d="M601 1135l8 11 6-15-10 10z"/>
<path fill="#e0e0e8" d="M509 1129l7 4 7-9-9 0zM605 1141l10-10 4 7-7-12zM551 1141l8 6 7-14-9 4zM461 1145l8 3 6-13-8 1zM587 1144l7 9 7-18-10 10zM525 1135l7 12 5-2-7-7zM399 1141l7 4 7-15-8 3zM615 1131l7 13 6-5-9-1zM545 1154l9-4 5-3-8-6zM510 1147l8-2 7-10-9-2z"/>
<path fill="#e0e0f0" d="M497 1139l7 15 6-7-8-4zM392 1148l8 2 6-5-7-4z"/>
<path fill="#e0e0f8" d="M537 1145l8 9 6-13-8 0zM447 1147l8 5 6-7-8-5zM427 1153l8 8 6-7-7-9z"/>
<path fill="#e8d8d8" stroke="#e8d8d8" stroke-opacity="1" stroke-width="0.5" d="M360 1057l3 22 2-4-2-19z"/>
<path fill="#e8d8e0" stroke="#e8d8e0" stroke-opacity="1" stroke-width="0.5" d="M356 1061l3 25 2-4-3-23zM358 1059l3 23 2-3-3-22zM350 1075l3 22 2-4-3-22zM352 1071l3 22 2-3-3-24zM354 1066l3 24 2-4-3-25zM344 1078l2 22 3-1-3-22zM346 1077l3 22 2-1-3-22zM348 1076l3 22 2-1-3-22z"/>
<path fill="#e8e0e8" d="M327 1100l8 26 6-11-7-11zM321 1113l8 22 6-9-8-26z"/>
<path fill="#e8e0f0" d="M322 1129l8 15 6-12-7 3z"/>
<path fill="#e8e8f0" d="M391 1138l8 3 6-8-8-2zM619 1138l9 1 5-4-8-8zM599 1123l6 18 7-15-7-10zM377 1142l8-2 6-2-7-10zM426 1135l8 10 5 2-7-16zM356 1122l8 16 6-10-8-3zM591 1145l10-10 4 6-6-18zM502 1143l8 4 6-14-7-4zM364 1138l7 1 6 3-7-14zM628 1139l8 7 6-8-9-3zM385 1140l7 8 7-7-8-3zM516 1133l9 2 5 3-7-14zM350 1127l7 15 7-4-8-16z"/>
<path fill="#e8e8f8" d="M357 1142l8 11 6-14-7-1zM420 1139l7 14 7-8-8-10z"/>
<path fill="#f09898" stroke="#f09898" stroke-opacity="1" stroke-width="0.5" d="M388 917l2 23 2 0-2-24zM390 916l2 24 3 1-3-27z"/>
<path fill="#f0a0a0" stroke="#f0a0a0" stroke-opacity="1" stroke-width="0.5" d="M392 914l3 27 2 0-3-28z"/>
<path fill="#f0a8a8" stroke="#f0a8a8" stroke-opacity="1" stroke-width="0.5" d="M390 940l3 23 2 2-3-25zM392 940l3 25 2 2-2-26z"/>
<path fill="#f0b0b0" stroke="#f0b0b0" stroke-opacity="1" stroke-width="0.5" d="M395 941l2 26 2 2-2-28z"/>
<path fill="#f0b8b8" stroke="#f0b8b8" stroke-opacity="1" stroke-width="0.5" d="M393 963l2 22 2 4-2-24zM395 965l2 24 2 3-2-25z"/>
<path fill="#f0c0c0" stroke="#f0c0c0" stroke-opacity="1" stroke-width="0.5" d="M351 1010l3 26 2 0-3-24zM353 1012l3 24 2 0-3-22zM355 1014l3 22 2 0-3-20zM349 1017l3 25 2-6-3-26zM397 967l2 25 2 4-2-27z"/>
<path fill="#f0c8c8" stroke="#f0c8c8" stroke-opacity="1" stroke-width="0.5" d="M345 1030l2 23 2-6-2-24zM347 1023l2 24 3-5-3-25zM338 1035l3 22 2-1-3-23zM340 1033l3 23 2-2-3-22zM342 1032l3 22 2-1-2-23z"/>
<path fill="#f0d0d0" stroke="#f0d0d0" stroke-opacity="1" stroke-width="0.5" d="M354 1036l2 25 2-2-2-23zM356 1036l2 23 2-2-2-21zM358 1036l2 21 3-1-3-20zM349 1047l3 24 2-5-2-24zM352 1042l2 24 2-5-2-25z"/>
<path fill="#f0d0d8" stroke="#f0d0d8" stroke-opacity="1" stroke-width="0.5" d="M341 1057l3 21 2-1-3-21zM343 1056l3 21 2-1-3-22zM345 1054l3 22 2-1-3-22z"/>
<path fill="#f0d8d8" stroke="#f0d8d8" stroke-opacity="1" stroke-width="0.5" d="M347 1053l3 22 2-4-3-24z"/>
<path fill="#f8c0c0" d="M418 975l7 40 6-10-7-24z"/>
<path fill="#d0d0d8" d="M532 1147l9-6 4 13-8-9zM484 1132l7 10 6-3-9 10zM589 1157l9-8 4 8-8-4zM449 1148l8 0 6-3-8 7z"/>
<path fill="#d0d0e0" d="M504 1154l9-6 5-3-8 2zM435 1161l8-2 6-11-8 6z"/>
<path fill="#d8d0d8" d="M323 1146l7-2 7 4-7-4z"/>
<path fill="#d8d0e0" d="M602 1157l11-10 4 5-8-6zM386 1147l8 0 6 3-8-2z"/>
<path fill="#d8d8e0" d="M541 1141l7 14 6-5-9 4zM400 1150l8-2 6-3-8 0zM491 1142l8 0 5 12-7-15zM463 1145l8 4 6 1-8-2zM526 1151l8 2 7-12-9 6z"/>
<path fill="#d8d8e8" d="M421 1154l8 4 6 3-8-8zM575 1158l9-7 5 6-8-9zM429 1158l8 7 6-6-8 2z"/>
<path fill="#e0d8e8" d="M469 1148l8 2 7-18-9 3zM499 1142l7 17 7-11-9 6z"/>
<path fill="#e0e0e8" d="M379 1144l7 3 6 1-7-8zM351 1142l7 10 7 1-8-11zM554 1150l8 3 6-6-9 0zM617 1152l9-2 5-2-9-4zM372 1152l8 1 6-6-7-3z"/>
<path fill="#e0e0f0" d="M365 1153l7-1 7-8-8-5zM358 1152l8 9 6-9-7 1z"/>
<path fill="#e8d8e0" stroke="#e8d8e0" stroke-opacity="1" stroke-width="0.5" d="M337 1077l3 21 2 1-3-21zM339 1078l3 21 2 0-2-21zM342 1078l2 21 2 1-2-22z"/>
<path fill="#e8e0e8" d="M314 1120l8 9 7 6-8-22zM315 1131l8 15 7-2-8-15z"/>
<path fill="#e8e8f0" d="M622 1144l9 4 5-2-8-7zM594 1153l8 4 7-11-8-11zM559 1147l9 0 5-7-7-7zM406 1145l8 0 6-6-7-9zM414 1145l7 9 6-1-7-14zM337 1148l7 6 7-12-8 0zM562 1153l8 6 5-1-7-11z"/>
<path fill="#e8e8f8" d="M581 1148l8 9 5-4-7-9z"/>
<path fill="#f09898" stroke="#f09898" stroke-opacity="1" stroke-width="0.5" d="M375 922l3 29 2 0-3-28z"/>
<path fill="#f0a0a0" stroke="#f0a0a0" stroke-opacity="1" stroke-width="0.5" d="M382 926l2 25 2-4-2-24zM384 923l2 24 2-3-2-24zM386 920l2 24 2-4-2-23zM377 923l3 28 2 0-3-26zM379 925l3 26 2 0-2-25z"/>
<path fill="#f0a8a8" stroke="#f0a8a8" stroke-opacity="1" stroke-width="0.5" d="M388 944l3 23 2-4-3-23z"/>
<path fill="#f0b0b0" stroke="#f0b0b0" stroke-opacity="1" stroke-width="0.5" d="M384 951l2 24 3-4-3-24zM386 947l3 24 2-4-3-23zM378 951l2 29 2-2-2-27zM380 951l2 27 2-2-2-25zM382 951l2 25 2-1-2-24z"/>
<path fill="#f0b8b8" stroke="#f0b8b8" stroke-opacity="1" stroke-width="0.5" d="M386 975l3 23 2-4-2-23zM389 971l2 23 2-5-2-22zM391 967l2 22 2-4-2-22zM384 976l3 25 2-3-3-23z"/>
<path fill="#f0c0c0" stroke="#f0c0c0" stroke-opacity="1" stroke-width="0.5" d="M380 980l3 28 2-3-3-27zM382 978l3 27 2-4-3-25z"/>
<path fill="#f0c8c8" stroke="#f0c8c8" stroke-opacity="1" stroke-width="0.5" d="M331 1034l3 22 3 0-3-21zM334 1035l3 21 2 1-3-22zM336 1035l3 22 2 0-3-22z"/>
<path fill="#f0d0d0" stroke="#f0d0d0" stroke-opacity="1" stroke-width="0.5" d="M334 1056l3 21 2 1-2-22zM337 1056l2 22 3 0-3-21zM339 1057l3 21 2 0-3-21z"/>
<path fill="#f0e8f0" d="M336 1132l7 10 7-15-8-3z"/>
<path fill="#f0e8f8" d="M573 1140l8 8 6-4-7-13zM330 1144l7 4 6-6-7-10zM609 1146l8 6 5-8-7-13zM343 1142l8 0 6 0-7-15zM568 1147l7 11 6-10-8-8zM518 1145l8 6 6-4-7-12zM344 1154l8 7 6-9-7-10z"/>
<path fill="#d0d0d8" d="M437 1165l8-4 6-9-8 7z"/>
<path fill="#d0d0e0" d="M536 1172l9-6 6-4-9 3z"/>
<path fill="#d8d0d8" d="M408 1148l8-4 5 10-7-9z"/>
<path fill="#d8d0e0" d="M443 1159l8-7 6-4-8 0z"/>
<path fill="#d8d8e0" d="M513 1148l8-1 5 4-8-6zM366 1161l7-6 7-2-8-1zM570 1159l8 2 6-10-9 7zM296 1166l7 1 7-9-7 4zM542 1165l9-3 6-8-9 1zM380 1153l7-3 7-3-8 0zM501 1164l8-1 6-4-9 0z"/>
<path fill="#e08888" stroke="#e08888" stroke-opacity="1" stroke-width="0.5" d="M337 922l2-22 2 1-2 25zM339 926l2-25 2 2-2 28zM341 931l2-28 3 2-2 31z"/>
<path fill="#e08888" d="M380 895l8 22 6-4-7 15z"/>
<path fill="#e09090" stroke="#e09090" stroke-opacity="1" stroke-width="0.5" d="M335 943l2-21 2 4-2 25zM282 964l2-26 2 6-1 27z"/>
<path fill="#e09090" d="M373 895l7 0 7 33-8 9zM353 938l7-32 6-5-7 52z"/>
<path fill="#e09898" stroke="#e09898" stroke-opacity="1" stroke-width="0.5" d="M337 951l2-25 2 5-2 28zM339 959l2-28 3 5-2 31zM285 971l1-27 3 6-1 27zM288 977l1-27 2 5-1 28z"/>
<path fill="#e0a0a0" stroke="#e0a0a0" stroke-opacity="1" stroke-width="0.5" d="M333 963l2-20 2 8-2 23zM256 996l1-24 2 6-1 24zM258 1002l1-24 3 6-1 24zM281 990l1-26 3 7-1 26zM228 1011l0-27 3 6 0 25zM231 1015l0-25 3 5-1 25z"/>
<path fill="#e0a8a8" stroke="#e0a8a8" stroke-opacity="1" stroke-width="0.5" d="M335 974l2-23 2 8-2 26zM255 1020l1-24 2 6 0 23zM261 1008l1-24 3 6-1 23zM284 997l1-26 3 6-2 27zM286 1004l2-27 2 6-1 28zM233 1020l1-25 3 5-1 24z"/>
<path fill="#e0b0b0" stroke="#e0b0b0" stroke-opacity="1" stroke-width="0.5" d="M337 985l2-26 3 8-2 29zM258 1025l0-23 3 6-1 23zM280 1015l1-25 3 7-1 25zM228 1037l0-26 3 4-1 25zM230 1040l1-25 2 5 0 24z"/>
<path fill="#e0b8b8" stroke="#e0b8b8" stroke-opacity="1" stroke-width="0.5" d="M254 1043l1-23 3 5-1 23zM260 1031l1-23 3 5-1 23zM283 1022l1-25 2 7-1 26zM285 1030l1-26 3 7-1 26zM233 1044l0-24 3 4 0 23z"/>
<path fill="#e0c0c0" stroke="#e0c0c0" stroke-opacity="1" stroke-width="0.5" d="M257 1048l1-23 2 6-1 22zM259 1053l1-22 3 5-1 22zM227 1062l1-25 2 3 0 24zM230 1064l0-24 3 4-1 23zM232 1067l1-23 3 3-1 22z"/>
<path fill="#e0d8e8" d="M548 1155l9-1 5-1-8-3zM352 1161l7-5 7 5-8-9zM598 1149l8 12 7-14-11 10zM584 1151l8 11 6-13-9 8zM394 1147l7 8 7-7-8 2zM506 1159l9 0 6-12-8 1z"/>
<path fill="#e0e0e8" d="M330 1144l8 14 6-4-7-6zM471 1149l8 7 6-7-8 1zM303 1162l7-4 6-9-7-10zM316 1149l8 7 6-12-7 2zM346 1169l7 5 6-18-7 5zM416 1144l7 20 6-6-8-4z"/>
<path fill="#e0e0f0" d="M523 1163l7 13 6-4-8-7z"/>
<path fill="#e8d8d8" stroke="#e8d8d8" stroke-opacity="1" stroke-width="0.5" d="M331 1077l3 27 2-2-3-25zM333 1077l3 25 2-2-3-23zM335 1077l3 23 2-2-3-21z"/>
<path fill="#e8e0e8" d="M307 1118l8 13 7-2-8-9zM294 1135l9 27 6-23-8-14z"/>
<path fill="#e8e0f0" d="M477 1150l8-1 6-7-7-10zM485 1149l8 10 6-17-8 0zM557 1154l7 8 6-3-8-6z"/>
<path fill="#e8e8f0" d="M613 1147l6 15 7-12-9 2zM521 1147l7 18 6-12-8-2zM288 1152l8 14 7-4-9-27zM515 1159l8 4 5 2-7-18zM592 1162l9-3 5 2-8-12z"/>
<path fill="#e8e8f8" d="M338 1158l8 11 6-8-8-7zM534 1153l8 12 6-10-7-14zM528 1165l8 7 6-7-8-12zM423 1164l8 6 6-5-8-7zM486 1167l8 6 7-9-8-5zM331 1165l8 6 7-2-8-11zM359 1156l8 18 6-19-7 6zM459 1162l7 16 7-11-8-8z"/>
<path fill="#f09898" stroke="#f09898" stroke-opacity="1" stroke-width="0.5" d="M373 926l3 28 2-3-3-29zM362 925l3 30 2 1-3-28zM364 928l3 28 2 1-2-26z"/>
<path fill="#f0a0a0" stroke="#f0a0a0" stroke-opacity="1" stroke-width="0.5" d="M369 934l2 25 2-3-2-26zM371 930l2 26 3-2-3-28zM367 931l2 26 2 2-2-25z"/>
<path fill="#f0a8a8" stroke="#f0a8a8" stroke-opacity="1" stroke-width="0.5" d="M365 955l3 29 2 0-3-28zM367 956l3 28 2-1-3-26zM369 957l3 26 2 0-3-24z"/>
<path fill="#f0b0b0" stroke="#f0b0b0" stroke-opacity="1" stroke-width="0.5" d="M371 959l3 24 2-1-3-26zM373 956l3 26 2-1-2-27zM376 954l2 27 2-1-2-29z"/>
<path fill="#f0b8b8" stroke="#f0b8b8" stroke-opacity="1" stroke-width="0.5" d="M374 983l2 23 2 1-2-25zM324 1021l4 29 2 2-3-26zM368 984l2 29 2-2-2-27zM370 984l2 27 2-3-2-25zM372 983l2 25 2-2-2-23z"/>
<path fill="#f0c0c0" stroke="#f0c0c0" stroke-opacity="1" stroke-width="0.5" d="M376 982l2 25 2 0-2-26zM378 981l2 26 3 1-3-28zM327 1026l3 26 2 2-3-24zM329 1030l3 24 2 2-3-22zM320 1044l3 20 2-7-3-24zM322 1033l3 24 3-7-4-29z"/>
<path fill="#f0c8c8" stroke="#f0c8c8" stroke-opacity="1" stroke-width="0.5" d="M328 1050l3 27 2 0-3-25zM318 1055l3 15 2-6-3-20z"/>
<path fill="#f0d0d0" stroke="#f0d0d0" stroke-opacity="1" stroke-width="0.5" d="M330 1052l3 25 2 0-3-23zM332 1054l3 23 2 0-3-21zM321 1070l3 15 2-2-3-19zM323 1064l3 19 2-3-3-23zM325 1057l3 23 3-3-3-27z"/>
<path fill="#f0d8d8" stroke="#f0d8d8" stroke-opacity="1" stroke-width="0.5" d="M324 1085l3 15 2 1-3-18zM326 1083l3 18 2 2-3-23z"/>
<path fill="#f0d8e0" stroke="#f0d8e0" stroke-opacity="1" stroke-width="0.5" d="M328 1080l3 23 3 1-3-27z"/>
<path fill="#f0e0e8" d="M301 1125l8 14 6-8-8-13z"/>
<path fill="#f0e8f0" d="M309 1139l7 10 7-3-8-15zM457 1148l8 11 6-10-8-4zM606 1161l9-1 4 2-6-15zM310 1158l7 5 7-7-8-7z"/>
<path fill="#f0e8f8" d="M493 1159l8 5 5-5-7-17zM479 1156l7 11 7-8-8-10zM465 1159l8 8 6-11-8-7zM324 1156l7 9 7-7-8-14zM473 1167l8 4 5-4-7-11z"/>
<path fill="#d0d0d8" d="M289 1162l7 1 7 4-7-1zM361 1164l7 6 7 6-8-2zM347 1174l7-2 7-8-8 10z"/>
<path fill="#d0d0e8" d="M432 1188l8-3 6-4-8-2z"/>
<path fill="#d8d0e0" d="M332 1177l8-6 7 3-8-3z"/>
<path fill="#d8d8e0" d="M559 1166l9-2 5 1-9-3zM461 1174l7 6 6-3-8 1zM524 1179l9-2 5 1-8-2z"/>
<path fill="#d8d8e8" d="M339 1171l8 3 6 0-7-5zM494 1173l9-2 6-8-8 1zM530 1176l8 2 7-12-9 6z"/>
<path fill="#e08888" stroke="#e08888" stroke-opacity="1" stroke-width="0.5" d="M303 940l2-14 2 5-2 18zM330 931l3-5 2-9-3 11zM332 928l3-11 2-8-2 16zM335 925l2-16 2-9-2 22z"/>
<path fill="#e09090" stroke="#e09090" stroke-opacity="1" stroke-width="0.5" d="M301 954l2-14 2 9-2 17zM305 949l2-18 3 6-2 20zM308 957l2-20 2 5-2 24zM326 942l2-5 2 2-2 10zM328 937l2-6 2-3-2 11zM330 939l2-11 3-3-3 16zM332 941l3-16 2-3-2 21z"/>
<path fill="#e09898" stroke="#e09898" stroke-opacity="1" stroke-width="0.5" d="M303 966l2-17 3 8-2 20zM328 949l2-10 2 2-2 15zM330 956l2-15 3 2-2 20z"/>
<path fill="#e0a0a0" stroke="#e0a0a0" stroke-opacity="1" stroke-width="0.5" d="M299 968l2-14 2 12-1 17zM306 977l2-20 2 9-1 22z"/>
<path fill="#e0a8a8" stroke="#e0a8a8" stroke-opacity="1" stroke-width="0.5" d="M302 983l1-17 3 11-2 20z"/>
<path fill="#e0b0b0" stroke="#e0b0b0" stroke-opacity="1" stroke-width="0.5" d="M304 997l2-20 3 11-2 22z"/>
<path fill="#e0d8e0" d="M281 1135l8 27 7 4-8-14z"/>
<path fill="#e0d8e8" d="M401 1155l8 4 7-15-8 4z"/>
<path fill="#e0e0e8" d="M564 1162l9 3 5-4-8-2zM317 1163l8 0 6 2-7-9zM587 1163l8 6 6-10-9 3zM395 1155l8 7 6-3-8-4zM509 1163l8 3 6-3-8-4zM488 1178l8 3 7-10-9 2zM296 1163l8 11 7-5-8-2z"/>
<path fill="#e0e0f0" d="M431 1170l7 9 7-18-8 4zM466 1178l8-1 7-6-8-4zM418 1179l8 10 6-1-8-11z"/>
<path fill="#e0e0f8" d="M424 1177l8 11 6-9-7-9z"/>
<path fill="#e8d8d8" stroke="#e8d8d8" stroke-opacity="1" stroke-width="0.5" d="M318 1088l3 25 2-4-3-22zM320 1087l3 22 2-5-3-18z"/>
<path fill="#e8e0e8" d="M373 1155l8 7 6-12-7 3zM387 1150l8 5 6 0-7-8zM389 1173l7 1 7-12-8-7z"/>
<path fill="#e8e0f0" d="M367 1174l8 2 6-14-8-7zM353 1174l8-10 6 10-8-18z"/>
<path fill="#e8e8f0" d="M578 1161l9 2 5-1-8-11zM451 1152l8 10 6-3-8-11zM551 1162l8 4 5-4-7-8zM303 1167l8 2 6-6-7-5zM417 1164l7 13 7-7-8-6zM601 1159l7 15 7-14-9 1zM325 1163l7 14 7-6-8-6zM453 1173l8 1 5 4-7-16zM573 1165l8 6 6-8-9-2zM381 1162l8 11 6-18-8-5zM517 1166l7 13 6-3-7-13zM545 1166l8 8 6-8-8-4zM474 1177l8 4 6-3-7-7zM311 1169l7 6 7-12-8 0zM382 1179l8 9 6-14-7-1z"/>
<path fill="#e8e8f8" d="M481 1171l7 7 6-5-8-6zM375 1176l7 3 7-6-8-11zM438 1179l8 2 7-8-8-12zM368 1170l8 24 6-15-7-3zM538 1178l8 7 7-11-8-8z"/>
<path fill="#f09898" stroke="#f09898" stroke-opacity="1" stroke-width="0.5" d="M356 931l2 29 3-2-3-29zM358 929l3 29 2-1-3-30zM360 927l3 30 2-2-3-30z"/>
<path fill="#f0a8a8" stroke="#f0a8a8" stroke-opacity="1" stroke-width="0.5" d="M358 960l3 28 2-1-2-29zM361 958l2 29 2-2-2-28zM363 957l2 28 3-1-3-29z"/>
<path fill="#f0b8b8" stroke="#f0b8b8" stroke-opacity="1" stroke-width="0.5" d="M361 988l3 27 2-1-3-27zM363 987l3 27 2 0-3-29zM365 985l3 29 2-1-2-29z"/>
<path fill="#f0c0c0" stroke="#f0c0c0" stroke-opacity="1" stroke-width="0.5" d="M311 1035l3 27 3 3-3-23zM314 1042l3 23 2 3-3-19z"/>
<path fill="#f0c8c8" stroke="#f0c8c8" stroke-opacity="1" stroke-width="0.5" d="M316 1049l3 19 2 2-3-15z"/>
<path fill="#f0d0d0" stroke="#f0d0d0" stroke-opacity="1" stroke-width="0.5" d="M314 1062l4 26 2-1-3-22zM317 1065l3 22 2-1-3-18zM319 1068l3 18 2-1-3-15z"/>
<path fill="#f0d8d8" stroke="#f0d8d8" stroke-opacity="1" stroke-width="0.5" d="M322 1086l3 18 2-4-3-15z"/>
<path fill="#f0e8f0" d="M409 1159l8 5 6 0-7-20zM445 1161l8 12 6-11-8-10zM403 1162l7 13 7-11-8-5z"/>
<path fill="#f0e8f8" d="M595 1169l8 9 5-4-7-15zM410 1175l8 4 6-2-7-13z"/>
<path fill="#c8c8e0" d="M313 1202l7-4 7-8-8 5z"/>
<path fill="#d0d0d8" d="M446 1181l9-13 6 6-8-1z"/>
<path fill="#d0d0e0" d="M376 1194l8-12 6 6-8-9zM426 1189l8 0 6-4-8 3z"/>
<path fill="#d0d0f0" d="M319 1195l8-5 7 11-8-20z"/>
<path fill="#d8d8e0" d="M390 1188l8-9 6-3-8-2zM440 1185l8 3 7-20-9 13zM369 1187l8 8 7-13-8 12zM541 1185l9 1 5 2-9-3z"/>
<path fill="#e07878" stroke="#e07878" stroke-opacity="1" stroke-width="0.5" d="M351 890l2-7 2 8-2 8z"/>
<path fill="#e08080" stroke="#e08080" stroke-opacity="1" stroke-width="0.5" d="M346 905l2-8 2 11-2 8zM348 897l3-7 2 9-3 9zM350 908l3-9 2 9-2 10zM353 899l2-8 3 8-3 9zM355 908l3-9 2 7-3 11z"/>
<path fill="#e08888" stroke="#e08888" stroke-opacity="1" stroke-width="0.5" d="M275 959l1-24 3 1-1 25zM278 961l1-25 2 1-1 26zM348 916l2-8 3 10-3 9zM353 918l2-10 2 9-2 11z"/>
<path fill="#e09090" stroke="#e09090" stroke-opacity="1" stroke-width="0.5" d="M247 979l1-26 3 6-1 26zM280 963l1-26 3 1-2 26zM350 927l3-9 2 10-2 10z"/>
<path fill="#e09090" d="M319 960l7-36 7 2-7 16zM312 942l7-11 7-7-7 36z"/>
<path fill="#e09898" stroke="#e09898" stroke-opacity="1" stroke-width="0.5" d="M250 985l1-26 3 7-1 24zM253 990l1-24 3 6-1 24zM274 982l1-23 3 2-2 24zM276 985l2-24 2 2-1 24z"/>
<path fill="#e0a0a0" stroke="#e0a0a0" stroke-opacity="1" stroke-width="0.5" d="M247 1003l0-24 3 6-1 24zM249 1009l1-24 3 5-1 24zM279 987l1-24 2 1-1 26z"/>
<path fill="#e0a8a8" stroke="#e0a8a8" stroke-opacity="1" stroke-width="0.5" d="M252 1014l1-24 3 6-1 24zM273 1005l1-23 2 3-1 23zM275 1008l1-23 3 2-1 24z"/>
<path fill="#e0b0b0" stroke="#e0b0b0" stroke-opacity="1" stroke-width="0.5" d="M246 1028l1-25 2 6 0 24zM249 1033l0-24 3 5-1 24zM278 1011l1-24 2 3-1 25z"/>
<path fill="#e0b8b8" stroke="#e0b8b8" stroke-opacity="1" stroke-width="0.5" d="M251 1038l1-24 3 6-1 23z"/>
<path fill="#e0d8e0" d="M553 1174l9-1 6-9-9 2z"/>
<path fill="#e0e0e8" d="M581 1171l9-1 5-1-8-6zM568 1164l8 8 5-1-8-6zM496 1181l9 0 6-5-8-5zM546 1185l9 3 7-15-9 1zM533 1177l8 8 5 0-8-7zM334 1201l7-12 7-7-8-11z"/>
<path fill="#e0e0f0" d="M326 1181l8 20 6-30-8 6zM482 1181l9 4 5-4-8-3zM362 1177l7 10 7 7-8-24z"/>
<path fill="#e0e0f8" d="M412 1191l8 3 6-5-8-10zM305 1185l8 17 6-7-7-14z"/>
<path fill="#e88888" d="M366 901l8-6 6 0-7 0z"/>
<path fill="#e8d8d8" stroke="#e8d8d8" stroke-opacity="1" stroke-width="0.5" d="M309 1096l3 24 2 0-3-25z"/>
<path fill="#e8d8e0" stroke="#e8d8e0" stroke-opacity="1" stroke-width="0.5" d="M311 1095l3 25 2-2-3-25z"/>
<path fill="#e8e0e8" d="M274 1143l8 23 7-4-8-27zM340 1171l8 11 6-10-7 2zM268 1158l8 22 6-14-8-23z"/>
<path fill="#e8e0f0" d="M276 1180l7-2 7-3-8-9zM582 1189l10-8 5 3-7-14zM261 1165l8 18 7-3-8-22zM570 1176l7 13 5 0-6-17z"/>
<path fill="#e8e8f0" d="M503 1171l8 5 6-10-8-3zM304 1174l8 7 6-6-7-6zM282 1166l8 9 6-12-7-1zM590 1170l7 14 6-6-8-9zM519 1182l7 11 7-16-9 2zM298 1184l7 1 7-4-8-7zM491 1185l7 7 7-11-9 0zM354 1172l8 5 6-7-7-6zM512 1194l9-1 5 0-7-11z"/>
<path fill="#e8e8f8" d="M312 1181l7 14 7-14-8-6zM468 1180l8 9 6-8-8-4zM283 1178l8 19 7-13-8-9zM476 1189l8 7 7-11-9-4z"/>
<path fill="#f09090" stroke="#f09090" stroke-opacity="1" stroke-width="0.5" d="M349 918l3 34 2 2-3-32zM351 922l3 32 2 3-3-30z"/>
<path fill="#f09898" stroke="#f09898" stroke-opacity="1" stroke-width="0.5" d="M353 927l3 30 2 3-2-29z"/>
<path fill="#f0a0a0" stroke="#f0a0a0" stroke-opacity="1" stroke-width="0.5" d="M352 952l3 32 2 1-3-31zM354 954l3 31 2 2-3-30zM336 953l3 27 2 0-3-22zM338 958l3 22 2 0-3-18zM340 962l3 18 2 1-2-15z"/>
<path fill="#f0a8a8" stroke="#f0a8a8" stroke-opacity="1" stroke-width="0.5" d="M356 957l3 30 2 1-3-28zM339 980l3 25 2-3-3-22zM341 980l3 22 2-3-3-19zM343 980l3 19 2-4-3-14z"/>
<path fill="#f0b8b8" stroke="#f0b8b8" stroke-opacity="1" stroke-width="0.5" d="M355 984l2 32 2 0-2-31zM357 985l2 31 3-1-3-28zM359 987l3 28 2 0-3-27zM342 1005l3 25 2-7-3-21zM344 1002l3 21 2-6-3-18zM346 999l3 18 2-7-3-15z"/>
<path fill="#f0c0c0" stroke="#f0c0c0" stroke-opacity="1" stroke-width="0.5" d="M304 1044l4 26 2-3-3-26zM307 1041l3 26 2-3-3-26zM309 1038l3 26 2-2-3-27zM298 1053l3 22 2-2-3-23zM300 1050l3 23 2-2-3-24zM302 1047l3 24 3-1-4-26z"/>
<path fill="#f0d0d0" stroke="#f0d0d0" stroke-opacity="1" stroke-width="0.5" d="M308 1070l3 25 2-2-3-26zM310 1067l3 26 2-3-3-26zM312 1064l3 26 3-2-4-26zM301 1075l3 22 3-1-4-23zM303 1073l4 23 2 0-4-25zM305 1071l4 25 2-1-3-25z"/>
<path fill="#f0d8d8" stroke="#f0d8d8" stroke-opacity="1" stroke-width="0.5" d="M313 1093l3 25 3-3-4-25zM315 1090l4 25 2-2-3-25zM304 1097l3 21 3 1-3-23zM307 1096l3 23 2 1-3-24z"/>
<path fill="#f0e8f8" d="M318 1175l8 6 6-4-7-14zM396 1174l8 2 6-1-7-13zM404 1176l8 15 6-12-8-4zM511 1176l8 6 5-3-7-13zM290 1175l8 9 6-10-8-11zM576 1172l6 17 8-19-9 1zM505 1181l7 13 7-12-8-6z"/>
<path fill="#f89090" stroke="#f89090" stroke-opacity="1" stroke-width="0.5" d="M347 934l3 27 2-9-3-34z"/>
<path fill="#f89090" d="M374 895l8 31 6-9-8-22z"/>
<path fill="#f89898" stroke="#f89898" stroke-opacity="1" stroke-width="0.5" d="M345 950l3 21 2-10-3-27z"/>
<path fill="#f8a0a0" stroke="#f8a0a0" stroke-opacity="1" stroke-width="0.5" d="M343 966l2 15 3-10-3-21z"/>
<path fill="#f8a8a8" stroke="#f8a8a8" stroke-opacity="1" stroke-width="0.5" d="M345 981l3 14 2-3-2-21zM348 971l2 21 2-4-2-27zM350 961l2 27 3-4-3-32z"/>
<path fill="#f8b8b8" stroke="#f8b8b8" stroke-opacity="1" stroke-width="0.5" d="M348 995l3 15 2 2-3-20zM350 992l3 20 2 2-3-26zM352 988l3 26 2 2-2-32z"/>
<path fill="#c8c8e0" d="M356 1207l8-3 7-8-8 7z"/>
<path fill="#d0d0d8" d="M327 1190l7 3 7-4-7 12zM420 1194l8-7 6 2-8 0zM406 1188l8-3 6 9-8-3zM306 1198l7-5 7 5-7 4z"/>
<path fill="#d0d0e0" d="M291 1197l7-11 7-1-7-1z"/>
<path fill="#d8d0d8" d="M269 1183l7-2 7-3-7 2zM526 1193l10-15 5 7-8-8zM341 1189l8-4 6-9-7 6z"/>
<path fill="#d8d0e0" d="M463 1181l8-1 5 9-8-9z"/>
<path fill="#d8d8e0" d="M384 1182l7 8 7-11-8 9zM348 1182l7-6 7 1-8-5zM498 1192l10-9 4 11-7-13zM521 1193l8 9 7-24-10 15zM508 1183l7 12 6-2-9 1z"/>
<path fill="#e08080" d="M360 906l7-31 7 20-8 6z"/>
<path fill="#e08888" stroke="#e08888" stroke-opacity="1" stroke-width="0.5" d="M268 964l2-13 2-5-1 16zM271 962l1-16 2-6-1 21zM273 961l1-21 2-5-1 24zM218 979l0-25 4 10-1 26z"/>
<path fill="#e08888" d="M291 955l6-35 8 6-6 42z"/>
<path fill="#e09090" stroke="#e09090" stroke-opacity="1" stroke-width="0.5" d="M221 990l1-26 3 10 0 26z"/>
<path fill="#e09898" stroke="#e09898" stroke-opacity="1" stroke-width="0.5" d="M267 977l1-13 3-2-2 17zM269 979l2-17 2-1-2 20zM271 981l2-20 2-2-1 23zM218 1004l0-25 3 11 0 25zM225 1000l0-26 3 10 0 27z"/>
<path fill="#e0a0a0" stroke="#e0a0a0" stroke-opacity="1" stroke-width="0.5" d="M265 990l2-13 2 2-2 16zM267 995l2-16 2 2-1 19zM270 1000l1-19 3 1-1 23zM221 1015l0-25 4 10-1 26z"/>
<path fill="#e0a8a8" stroke="#e0a8a8" stroke-opacity="1" stroke-width="0.5" d="M217 1028l1-24 3 11 0 25zM224 1026l1-26 3 11 0 26z"/>
<path fill="#e0b0b0" stroke="#e0b0b0" stroke-opacity="1" stroke-width="0.5" d="M221 1040l0-25 3 11 0 25z"/>
<path fill="#e0b8b8" stroke="#e0b8b8" stroke-opacity="1" stroke-width="0.5" d="M224 1051l0-25 4 11-1 25z"/>
<path fill="#e0d8e0" d="M262 1180l7 6 7-5-7 2z"/>
<path fill="#e0d8e8" d="M455 1168l8 13 5-1-7-6z"/>
<path fill="#e0e0e8" d="M434 1189l8 2 6-3-8-3zM555 1188l8 2 7-14-8-3zM577 1189l8 9 7-17-10 8zM363 1203l8-7 6-1-8-8zM276 1181l8 7 7 9-8-19zM471 1180l7 17 6-1-8-7zM550 1186l8 9 5-5-8-2zM298 1186l8 12 7 4-8-17zM448 1188l9-9 6 2-8-13zM573 1186l7 11 5 1-8-9zM536 1178l8 16 6-8-9-1z"/>
<path fill="#e0e0f0" d="M398 1179l8 9 6 3-8-15zM292 1208l7 2 7-12-8-12z"/>
<path fill="#e0e0f8" d="M478 1197l8 11 6-12-8 0z"/>
<path fill="#e8d8e0" stroke="#e8d8e0" stroke-opacity="1" stroke-width="0.5" d="M285 1126l3 26 2-6-3-23zM287 1123l3 23 2-5-3-22zM289 1119l3 22 2-6-3-20z"/>
<path fill="#e8e0e8" d="M254 1167l8 13 7 3-8-18z"/>
<path fill="#e8e0f0" d="M563 1190l10-4 4 3-7-13zM414 1185l7 18 7-16-8 7z"/>
<path fill="#e8e8f0" d="M562 1173l8 3 6-4-8-8zM484 1196l8 0 6-4-7-7zM355 1176l8 27 6-16-7-10zM284 1188l8 20 6-22-7 11zM377 1195l8 5 6-10-7-8zM391 1190l8 2 7-4-8-9zM349 1185l7 22 7-4-8-27z"/>
<path fill="#f08888" d="M367 875l8 47 7 4-8-31zM339 900l8 26 6-43-7 22z"/>
<path fill="#f0a0a0" stroke="#f0a0a0" stroke-opacity="1" stroke-width="0.5" d="M329 964l3 24 2-3-3-24zM331 961l3 24 3-3-3-25zM334 957l3 25 2-2-3-27z"/>
<path fill="#f0a8a8" stroke="#f0a8a8" stroke-opacity="1" stroke-width="0.5" d="M334 985l3 25 3-3-3-25zM337 982l3 25 2-2-3-25z"/>
<path fill="#f0b0b0" stroke="#f0b0b0" stroke-opacity="1" stroke-width="0.5" d="M332 988l3 24 2-2-3-25z"/>
<path fill="#f0b8b8" stroke="#f0b8b8" stroke-opacity="1" stroke-width="0.5" d="M335 1012l3 23 2-2-3-23zM337 1010l3 23 2-1-2-25zM340 1007l2 25 3-2-3-25z"/>
<path fill="#f0c0c0" stroke="#f0c0c0" stroke-opacity="1" stroke-width="0.5" d="M291 1059l3 23 3-3-4-22zM293 1057l4 22 2-2-4-22zM295 1055l4 22 2-2-3-22zM289 1064l3 22 2-4-3-23z"/>
<path fill="#f0c8c8" stroke="#f0c8c8" stroke-opacity="1" stroke-width="0.5" d="M284 1075l4 20 2-4-3-22zM287 1069l3 22 2-5-3-22zM277 1074l4 26 2-1-3-25zM280 1074l3 25 3-2-4-23zM282 1074l4 23 2-2-4-20z"/>
<path fill="#f0d0d0" stroke="#f0d0d0" stroke-opacity="1" stroke-width="0.5" d="M294 1082l4 22 2-3-3-22zM297 1079l3 22 2-2-3-22zM299 1077l3 22 2-2-3-22zM288 1095l3 20 2-4-3-20zM290 1091l3 20 2-4-3-21zM292 1086l3 21 3-3-4-22zM283 1099l4 24 2-4-3-22zM286 1097l3 22 2-4-3-20z"/>
<path fill="#f0d0d8" stroke="#f0d0d8" stroke-opacity="1" stroke-width="0.5" d="M281 1100l4 26 2-3-4-24z"/>
<path fill="#f0d8d8" stroke="#f0d8d8" stroke-opacity="1" stroke-width="0.5" d="M298 1104l3 21 2-2-3-22zM300 1101l3 22 2-2-3-22zM302 1099l3 22 2-3-3-21zM295 1107l4 21 2-3-3-21z"/>
<path fill="#f0d8e0" stroke="#f0d8e0" stroke-opacity="1" stroke-width="0.5" d="M291 1115l3 20 3-3-4-21zM293 1111l4 21 2-4-4-21z"/>
<path fill="#f89090" d="M326 924l8 11 6-16-7 7zM361 903l8 31 6-12-8-47z"/>
<path fill="#ff9898" d="M333 926l7-7 7 7-8-26z"/>
<path fill="#d0d0d8" d="M371 1196l8-4 6 8-8-5zM334 1193l8-5 7-3-8 4z"/>
<path fill="#d0d0e8" d="M285 1205l7 7 7-2-7-2z"/>
<path fill="#d8d0d8" d="M492 1196l9-1 7-12-10 9zM393 1197l8-6 6 12-8-11z"/>
<path fill="#d8d0e0" d="M442 1191l8 3 7-15-9 9zM523 1202l9 0 5 2-8-2zM552 1201l9-5 5 6-8-7z"/>
<path fill="#d8d8e0" d="M428 1187l8 5 6-1-8-2zM385 1200l8-3 6-5-8-2zM320 1198l8-5 6 0-7-3zM486 1208l9-6 6-7-9 1zM480 1208l9 2 6-8-9 6z"/>
<path fill="#e07878" d="M353 883l8 20 6-28-7 31z"/>
<path fill="#e08080" d="M340 919l8-1 6-8-7 16zM319 931l7-16 8 20-8-11z"/>
<path fill="#e08888" d="M305 926l7 6 7-1-7 11z"/>
<path fill="#e09090" stroke="#e09090" stroke-opacity="1" stroke-width="0.5" d="M240 982l2-9 2-7-1 15zM243 981l1-15 2-6-1 20zM245 980l1-20 2-7-1 26z"/>
<path fill="#e09898" stroke="#e09898" stroke-opacity="1" stroke-width="0.5" d="M239 991l1-9 3-1-2 14zM241 995l2-14 2-1-1 19zM244 999l1-19 2-1 0 24z"/>
<path fill="#e0a0a0" stroke="#e0a0a0" stroke-opacity="1" stroke-width="0.5" d="M237 1000l2-9 2 4-1 15z"/>
<path fill="#e0a8a8" stroke="#e0a8a8" stroke-opacity="1" stroke-width="0.5" d="M240 1010l1-15 3 4-1 20zM243 1019l1-20 3 4-1 25z"/>
<path fill="#e0d8e8" d="M415 1200l8 9 6 3-8-9zM379 1192l7 13 7-8-8 3z"/>
<path fill="#e0e0e8" d="M558 1195l8 7 7-16-10 4zM342 1188l8 10 6 9-7-22zM458 1192l8 9 6 3-8-11z"/>
<path fill="#e0e0f0" d="M350 1198l8 17 6-11-8 3z"/>
<path fill="#e0e0f8" d="M249 1213l8 17 7-14-8-10z"/>
<path fill="#e8d8e0" stroke="#e8d8e0" stroke-opacity="1" stroke-width="0.5" d="M280 1122l3 19 3 5-4-22zM282 1124l4 22 2 6-3-26z"/>
<path fill="#e8e0e8" d="M246 1165l9 25 7-10-8-13zM328 1193l7 10 7-15-8 5z"/>
<path fill="#e8e0f0" d="M515 1195l8 7 6 0-8-9zM399 1192l8 11 7-18-8 3zM421 1203l8 9 7-20-8-5zM444 1203l7 9 7-20-8 2zM501 1195l9-1 5 1-7-12z"/>
<path fill="#e8e8f0" d="M277 1197l8 8 7 3-8-20zM472 1204l8 4 6 0-8-11zM464 1193l8 11 6-7-7-17zM529 1202l8 2 7-10-8-16zM457 1179l7 14 7-13-8 1zM255 1190l8 13 6-17-7-6zM436 1192l8 11 6-9-8-3zM263 1203l7 1 7-7-8-11zM566 1202l9 0 5-5-7-11zM248 1194l8 12 7-3-8-13zM429 1212l8-2 7-7-8-11zM313 1193l8 16 7-16-8 5zM270 1204l8 4 7-3-8-8z"/>
<path fill="#e8e8f8" d="M537 1204l8 5 7-8-8-7zM256 1206l8 10 6-12-7-1z"/>
<path fill="#f08888" d="M347 926l7-16 7-7-8-20z"/>
<path fill="#f09090" stroke="#f09090" stroke-opacity="1" stroke-width="0.5" d="M322 946l3 30 2 4-3-28z"/>
<path fill="#f09090" d="M334 935l7-2 7-15-8 1z"/>
<path fill="#f09898" stroke="#f09898" stroke-opacity="1" stroke-width="0.5" d="M324 952l3 28 3 4-3-26zM327 958l3 26 2 4-3-24z"/>
<path fill="#f0a0a0" stroke="#f0a0a0" stroke-opacity="1" stroke-width="0.5" d="M325 976l3 30 3 2-4-28z"/>
<path fill="#f0a8a8" stroke="#f0a8a8" stroke-opacity="1" stroke-width="0.5" d="M327 980l4 28 2 2-3-26zM330 984l3 26 2 2-3-24z"/>
<path fill="#f0b8b8" stroke="#f0b8b8" stroke-opacity="1" stroke-width="0.5" d="M328 1006l3 28 3 1-3-27zM331 1008l3 27 2 0-3-25zM333 1010l3 25 2 0-3-23z"/>
<path fill="#f0c8c8" stroke="#f0c8c8" stroke-opacity="1" stroke-width="0.5" d="M271 1090l3 15 2-1-3-20zM273 1084l3 20 3-2-4-23zM275 1079l4 23 2-2-4-26z"/>
<path fill="#f0d0d0" stroke="#f0d0d0" stroke-opacity="1" stroke-width="0.5" d="M274 1105l3 15 3 2-4-18zM276 1104l4 18 2 2-3-22zM279 1102l3 22 3 2-4-26z"/>
<path fill="#f0d8d8" stroke="#f0d8d8" stroke-opacity="1" stroke-width="0.5" d="M277 1120l4 15 2 6-3-19z"/>
<path fill="#f0e8f0" d="M269 1186l8 11 7-9-8-7zM450 1194l8-2 6 1-7-14z"/>
<path fill="#f0e8f8" d="M544 1194l8 7 6-6-8-9zM407 1203l8-3 6 3-7-18z"/>
<path fill="#f89090" d="M354 910l8 15 7 9-8-31z"/>
<path fill="#ff9090" d="M348 918l8 13 6-6-8-15z"/>
<path fill="#c0c0e8" d="M257 1235l8 6 7-11-7 5z"/>
<path fill="#c8c8e8" d="M249 1216l8 19 8 0-8-5z"/>
<path fill="#c8c8f0" d="M257 1230l8 5 6-19-7 0z"/>
<path fill="#d0d0d8" d="M299 1210l7-25 7 8-7 5zM292 1212l8 5 6-32-7 25zM358 1215l7-8 7-6-8 3z"/>
<path fill="#d0d0e8" d="M265 1235l7-5 7-6-8-8z"/>
<path fill="#d8d0d8" d="M561 1196l8 5 6 1-9 0zM517 1207l9-3 6-2-9 0z"/>
<path fill="#d8d0e0" d="M364 1204l8-3 7-9-8 4zM351 1215l8 2 6-10-7 8z"/>
<path fill="#d8d8e0" d="M423 1209l8 4 6-3-8 2zM466 1201l8 5 6 2-8-4zM545 1209l9-1 7-12-9 5zM314 1211l8 3 7-6-8 1zM241 1213l8 3 8 14-8-17z"/>
<path fill="#d8d8e8" d="M336 1216l8 6 7-7-8 2zM293 1226l8 5 6-20-7 6z"/>
<path fill="#e08080" stroke="#e08080" stroke-opacity="1" stroke-width="0.5" d="M260 945l2-15 2 7-1 14z"/>
<path fill="#e08080" d="M326 915l8 13 7 5-7 2z"/>
<path fill="#e08888" stroke="#e08888" stroke-opacity="1" stroke-width="0.5" d="M258 958l2-13 3 6-2 14zM263 951l1-14 3 7-1 14zM266 958l1-14 3 7-2 13z"/>
<path fill="#e08888" d="M284 938l7-13 6-5-6 35zM306 946l7-15 7 3-8-2z"/>
<path fill="#e09090" stroke="#e09090" stroke-opacity="1" stroke-width="0.5" d="M257 972l1-14 3 7-2 13zM261 965l2-14 3 7-2 13zM264 971l2-13 2 6-1 13z"/>
<path fill="#e09090" d="M228 984l6-23 8 12-5 27z"/>
<path fill="#e09898" stroke="#e09898" stroke-opacity="1" stroke-width="0.5" d="M259 978l2-13 3 6-2 13zM262 984l2-13 3 6-2 13z"/>
<path fill="#e0d8e0" d="M401 1191l8 16 6-7-8 3z"/>
<path fill="#e0d8e8" d="M386 1205l8 8 7-22-8 6zM306 1185l8 26 7-2-8-16zM409 1207l8-1 6 3-8-9z"/>
<path fill="#e0e0e8" d="M532 1202l8 10 5-3-8-5zM453 1232l8-3 7-17-8-1zM482 1222l9-1 6-7-8-4zM388 1224l8 1 6-13-8 1z"/>
<path fill="#e0e0f0" d="M278 1208l7 5 7-1-7-7zM264 1216l7 0 7-8-8-4zM439 1225l8-2 6 9-8-19z"/>
<path fill="#e88888" d="M341 933l8-15 7 13-8-13zM312 932l8 2 6-19-7 16z"/>
<path fill="#e8d8e0" stroke="#e8d8e0" stroke-opacity="1" stroke-width="0.5" d="M257 1143l4 22 2-3-4-20zM259 1142l4 20 2-2-3-19zM262 1141l3 19 3-2-4-18z"/>
<path fill="#e8e0e8" d="M495 1202l8 8 7-16-9 1zM239 1174l9 20 7-4-9-25zM451 1212l9-1 6-10-8-9zM232 1179l9 18 7-3-9-20zM460 1211l8 1 6-6-8-5z"/>
<path fill="#e8e0f0" d="M510 1194l7 13 6-5-8-7zM547 1225l10-5 5-1-8-11zM497 1214l8 7 6-12-8 1zM279 1224l7-2 7 4-8-13zM417 1206l8 16 6-9-8-4z"/>
<path fill="#e8e8f0" d="M437 1210l8 3 6-1-7-9zM335 1203l8 14 7-19-8-10zM321 1209l8-1 6-5-7-10zM241 1197l8 16 7-7-8-12zM329 1208l7 8 7 1-8-14zM474 1206l8 16 7-12-9-2zM489 1210l8 4 6-4-8-8zM534 1220l8 5 5 0-7-13zM554 1208l8 11 7-18-8-5zM511 1209l8 17 7-22-9 3zM526 1204l8 16 6-8-8-10zM394 1213l8-1 7-5-8-16z"/>
<path fill="#e8e8f8" d="M445 1213l8 19 7-21-9 1zM285 1213l8 13 7-9-8-5zM540 1212l7 13 7-17-9 1zM380 1206l8 18 6-11-8-8zM271 1216l8 8 6-11-7-5zM425 1222l7 13 7-10-8-12z"/>
<path fill="#f09090" d="M327 922l9 31 7 13-9-38z"/>
<path fill="#f09898" stroke="#f09898" stroke-opacity="1" stroke-width="0.5" d="M318 972l3 18 2-7-3-24zM320 959l3 24 2-7-3-30zM308 964l4 31 2 1-3-25z"/>
<path fill="#f0a0a0" stroke="#f0a0a0" stroke-opacity="1" stroke-width="0.5" d="M316 984l3 13 2-7-3-18zM311 971l3 25 2 0-3-19zM313 977l3 19 3 1-3-13z"/>
<path fill="#f0a8a8" stroke="#f0a8a8" stroke-opacity="1" stroke-width="0.5" d="M319 997l3 12 2-1-3-18zM321 990l3 18 2-1-3-24zM323 983l3 24 2-1-3-30zM312 995l3 31 2-6-3-24zM314 996l3 24 2-5-3-19zM316 996l3 19 3-6-3-12z"/>
<path fill="#f0b0b0" stroke="#f0b0b0" stroke-opacity="1" stroke-width="0.5" d="M322 1009l2 12 3 5-3-18zM324 1008l3 18 2 4-3-23zM319 1015l3 18 2-12-2-12z"/>
<path fill="#f0b8b8" stroke="#f0b8b8" stroke-opacity="1" stroke-width="0.5" d="M326 1007l3 23 2 4-3-28zM315 1026l3 29 2-11-3-24zM317 1020l3 24 2-11-3-18z"/>
<path fill="#f0c8c8" stroke="#f0c8c8" stroke-opacity="1" stroke-width="0.5" d="M249 1098l4 23 3 0-4-21zM252 1100l4 21 2 1-4-20zM254 1102l4 20 3 0-4-18z"/>
<path fill="#f0d0d0" stroke="#f0d0d0" stroke-opacity="1" stroke-width="0.5" d="M263 1116l3 19 2-6-3-19zM265 1110l3 19 2-6-3-20zM253 1121l4 22 2-1-3-21zM256 1121l3 21 3-1-4-19zM258 1122l4 19 2-1-3-18z"/>
<path fill="#f0d0d0" d="M263 1083l11 60 7-8-10-45z"/>
<path fill="#f0d8d8" stroke="#f0d8d8" stroke-opacity="1" stroke-width="0.5" d="M261 1122l3 18 2-5-3-19zM268 1129l4 19 2-5-4-20z"/>
<path fill="#f0d8e0" stroke="#f0d8e0" stroke-opacity="1" stroke-width="0.5" d="M264 1140l4 18 2-5-4-18zM266 1135l4 18 2-5-4-19z"/>
<path fill="#f0e8f0" d="M503 1210l8-1 6-2-7-13zM372 1201l8 5 6-1-7-13zM234 1209l7 4 8 0-8-16z"/>
<path fill="#f0e8f8" d="M343 1217l8-2 7 0-8-17zM431 1213l8 12 6-12-8-3zM322 1214l8 12 6-10-7-8z"/>
<path fill="#f89090" d="M297 920l9 26 6-14-7-6zM334 928l9 38 6-48-8 15z"/>
<path fill="#f8c8c8" stroke="#f8c8c8" stroke-opacity="1" stroke-width="0.5" d="M257 1104l4 18 2-6-4-19zM259 1097l4 19 2-6-4-20zM261 1090l4 20 2-7-4-20z"/>
<path fill="#c8c8f8" d="M273 1246l7 10 7-6-8-13z"/>
<path fill="#d0d0d8" d="M447 1223l8 2 6 4-8 3z"/>
<path fill="#d0d0e0" d="M345 1236l8 1 7-2-8 0z"/>
<path fill="#d0d0f0" d="M426 1236l8 8 6-3-8-6zM287 1250l8 2 7-13-8-5z"/>
<path fill="#d8d0d8" d="M477 1208l8 12 6 1-9 1z"/>
<path fill="#d8d0e0" d="M542 1225l9 1 6-6-10 5zM461 1229l9-7 7-14-9 4z"/>
<path fill="#d8d8e0" d="M468 1212l9-4 5 14-8-16zM381 1214l8 14 7-3-8-1zM513 1222l9 6 6-6-9 4zM301 1231l7-11 7-5-8-4zM294 1234l8 5 6-19-7 11z"/>
<path fill="#d8d8e8" d="M286 1222l8 12 7-3-8-5z"/>
<path fill="#d8d8f0" d="M432 1235l8 6 7-18-8 2z"/>
<path fill="#d8d8f8" d="M265 1241l8 5 6-9-7-7z"/>
<path fill="#e08080" d="M276 935l7-22 8 12-7 13zM298 916l8 24 7-9-7 15z"/>
<path fill="#e08888" stroke="#e08888" stroke-opacity="1" stroke-width="0.5" d="M210 978l1-18 3-2-1 20zM213 978l1-20 2-2-1 23zM215 979l1-23 2-2 0 25z"/>
<path fill="#e08888" d="M248 953l7-5 7-18-5 42z"/>
<path fill="#e09090" stroke="#e09090" stroke-opacity="1" stroke-width="0.5" d="M209 996l1-18 3 0-1 20zM212 998l1-20 2 1 0 22z"/>
<path fill="#e09898" stroke="#e09898" stroke-opacity="1" stroke-width="0.5" d="M215 1001l0-22 3 0 0 25z"/>
<path fill="#e09898" d="M195 1033l5-25 6-16-5 21zM201 1013l5-21 5-32-2 53z"/>
<path fill="#e0a0a0" stroke="#e0a0a0" stroke-opacity="1" stroke-width="0.5" d="M209 1013l0-17 3 2 0 20zM212 1018l0-20 3 3-1 22z"/>
<path fill="#e0a0a0" d="M187 1027l5-19 8 0-5 25z"/>
<path fill="#e0a8a8" stroke="#e0a8a8" stroke-opacity="1" stroke-width="0.5" d="M214 1023l1-22 3 3-1 24z"/>
<path fill="#e0d8e0" d="M307 1211l8 4 7-1-8-3z"/>
<path fill="#e0d8e8" d="M373 1214l8 0 7 10-8-18zM352 1235l8 0 7-21-8 3zM359 1217l8-3 6 0-8-7z"/>
<path fill="#e0e0e8" d="M498 1230l9 3 6-11-8-1zM485 1220l8 9 5 1-7-9z"/>
<path fill="#e0e0f0" d="M330 1226l7-1 7-3-8-6zM272 1230l7 7 7-15-7 2zM323 1232l8 7 6-14-7 1zM316 1240l8 2 7-3-8-7z"/>
<path fill="#e0e0f8" d="M279 1237l8 13 7-16-8-12zM331 1239l8 9 6-12-8-11z"/>
<path fill="#e88080" d="M291 925l7-9 8 30-9-26z"/>
<path fill="#e8d8e0" stroke="#e8d8e0" stroke-opacity="1" stroke-width="0.5" d="M250 1147l4 20 2-1-4-20zM252 1146l4 20 2-1-3-21zM255 1144l3 21 3 0-4-22z"/>
<path fill="#e8e0e8" d="M224 1179l10 30 7-12-9-18z"/>
<path fill="#e8e0f0" d="M389 1228l8 6 7-8-8-1z"/>
<path fill="#e8e8f0" d="M300 1217l7-6 7 0-8-26zM402 1212l8 13 7-19-8 1zM365 1207l8 7 7-8-8-5zM519 1226l9-4 6-2-8-16zM505 1221l8 1 6 4-8-17zM315 1215l8 17 7-6-8-12zM410 1225l8-2 7-1-8-16zM337 1225l8 11 7-1-8-13zM418 1223l8 13 6-1-7-13zM536 1234l8 7 7-15-9-1z"/>
<path fill="#e8e8f8" d="M344 1222l8 13 7-18-8-2zM396 1225l8 1 6-1-8-13zM528 1222l8 12 6-9-8-5zM522 1228l8 11 6-5-8-12z"/>
<path fill="#f08888" d="M320 934l7-12 7 6-8-13z"/>
<path fill="#f09090" stroke="#f09090" stroke-opacity="1" stroke-width="0.5" d="M301 966l3 23 3 2-4-26zM303 965l4 26 2 2-3-28z"/>
<path fill="#f09898" stroke="#f09898" stroke-opacity="1" stroke-width="0.5" d="M306 965l3 28 3 2-4-31z"/>
<path fill="#f0a0a0" stroke="#f0a0a0" stroke-opacity="1" stroke-width="0.5" d="M304 989l4 24 2 4-3-26zM307 991l3 26 3 4-4-28z"/>
<path fill="#f0a8a8" stroke="#f0a8a8" stroke-opacity="1" stroke-width="0.5" d="M309 993l4 28 2 5-3-31z"/>
<path fill="#f0b0b0" stroke="#f0b0b0" stroke-opacity="1" stroke-width="0.5" d="M308 1013l3 22 3 7-4-25zM310 1017l4 25 2 7-3-28z"/>
<path fill="#f0b8b8" stroke="#f0b8b8" stroke-opacity="1" stroke-width="0.5" d="M313 1021l3 28 2 6-3-29z"/>
<path fill="#f0c8c8" stroke="#f0c8c8" stroke-opacity="1" stroke-width="0.5" d="M242 1107l4 20 2-2-3-21zM245 1104l3 21 3-2-4-22zM247 1101l4 22 2-2-4-23z"/>
<path fill="#f0d0d0" stroke="#f0d0d0" stroke-opacity="1" stroke-width="0.5" d="M246 1127l4 20 2-1-4-21zM248 1125l4 21 3-2-4-21zM251 1123l4 21 2-1-4-22z"/>
<path fill="#f0d0d0" d="M236 1120l10 45 8 2-12-60z"/>
<path fill="#f0e8f0" d="M367 1214l7 21 7-21-8 0z"/>
<path fill="#f0e8f8" d="M491 1221l7 9 7-9-8-7z"/>
<path fill="#f89090" d="M320 923l9 41 7-11-9-31z"/>
<path fill="#b0b0f0" d="M304 1280l8-1 6-7-8-12z"/>
<path fill="#b8b8e0" d="M280 1256l8-4 7 0-8-2z"/>
<path fill="#c0c0f8" d="M296 1267l8 13 6-20-8-8z"/>
<path fill="#d0d0d8" d="M404 1226l8-1 6-2-8 2zM434 1244l8-1 7-13-9 11z"/>
<path fill="#d0d0e0" d="M324 1242l8 0 7 6-8-9z"/>
<path fill="#d0d0f0" d="M310 1249l7 6 7-13-8-2zM302 1252l8 8 7-5-7-6z"/>
<path fill="#d0d0f8" d="M288 1252l8 15 6-15-7 0z"/>
<path fill="#d8d0e0" d="M493 1229l8 1 6 3-9-3zM353 1237l8 0 7-6-8 4z"/>
<path fill="#d8d8e0" d="M440 1241l9-11 6-5-8-2zM455 1225l9 6 6-9-9 7zM339 1248l7-5 7-6-8-1z"/>
<path fill="#d8d8e8" d="M530 1239l8 1 6 1-8-7z"/>
<path fill="#d8d8f0" d="M376 1248l8 3 6-9-8-3z"/>
<path fill="#d8d8f8" d="M295 1252l7 0 8-3-8-10z"/>
<path fill="#e08080" d="M313 931l7-8 7-1-7 12zM270 951l6-28 7-10-7 22zM262 930l8 16 6-23-6 28zM242 973l4-46 9 21-7 5z"/>
<path fill="#e08888" d="M218 954l10 25 6-18-6 23z"/>
<path fill="#e09898" d="M179 1027l7-5 6-14-5 19z"/>
<path fill="#e0e0e8" d="M420 1238l8 3 6 3-8-8zM501 1230l8 13 6-3-8-7z"/>
<path fill="#e0e0f0" d="M368 1231l8 17 6-9-8-4zM515 1240l9-3 6 2-8-11zM465 1256l8 8 7-24-8-4z"/>
<path fill="#e0e0f8" d="M332 1242l8 18 6-17-7 5z"/>
<path fill="#e88080" d="M306 940l8-7 6-10-7 8z"/>
<path fill="#e88888" d="M300 959l7-7 7-19-8 7zM292 947l8 11 7-6-7 7z"/>
<path fill="#e8e0e8" d="M449 1230l8 4 7-3-9-6z"/>
<path fill="#e8e0f0" d="M412 1225l8 13 6-2-8-13zM397 1234l8 9 7-18-8 1zM524 1237l8 11 6-8-8-1z"/>
<path fill="#e8e8f0" d="M374 1235l8 4 7-11-8-14zM308 1220l8 20 7-8-8-17zM382 1239l8 3 7-8-8-6zM361 1237l8 17 7-6-8-17zM487 1235l7 13 7-18-8-1z"/>
<path fill="#e8e8f8" d="M507 1233l8 7 7-12-9-6zM302 1239l8 10 6-9-8-20zM390 1242l8 7 7-6-8-9zM428 1241l8 15 6-13-8 1zM457 1234l8 22 7-20-8-5z"/>
<path fill="#f08888" d="M314 933l8 13 7 18-9-41z"/>
<path fill="#f09090" stroke="#f09090" stroke-opacity="1" stroke-width="0.5" d="M299 969l3 23 2-3-3-23zM287 969l3 28 3 1-4-27zM289 971l4 27 2 0-3-25zM292 973l3 25 3 0-4-23z"/>
<path fill="#f09090" d="M300 958l8 6 8 20-9-32z"/>
<path fill="#f09898" stroke="#f09898" stroke-opacity="1" stroke-width="0.5" d="M294 975l4 23 2-3-4-23zM296 972l4 23 2-3-3-23z"/>
<path fill="#f0a0a0" stroke="#f0a0a0" stroke-opacity="1" stroke-width="0.5" d="M298 998l3 23 2-3-3-23zM300 995l3 23 3-3-4-23zM302 992l4 23 2-2-4-24zM290 997l4 28 2-1-3-26zM293 998l3 26 3-2-4-24zM295 998l4 24 2-1-3-23z"/>
<path fill="#f0b0b0" stroke="#f0b0b0" stroke-opacity="1" stroke-width="0.5" d="M301 1021l3 23 3-3-4-23zM303 1018l4 23 2-3-3-23zM306 1015l3 23 2-3-3-22zM294 1025l4 28 2-3-4-26zM296 1024l4 26 2-3-3-25zM299 1022l3 25 2-3-3-23z"/>
<path fill="#f0b0b0" d="M260 1032l11 58 6-16-9-31z"/>
<path fill="#f0c0c0" stroke="#f0c0c0" stroke-opacity="1" stroke-width="0.5" d="M227 1106l4 23 3 2-4-20zM230 1111l4 20 2 2-3-18z"/>
<path fill="#f0c8c8" stroke="#f0c8c8" stroke-opacity="1" stroke-width="0.5" d="M233 1115l3 18 3 2-3-15z"/>
<path fill="#f0d0d0" stroke="#f0d0d0" stroke-opacity="1" stroke-width="0.5" d="M231 1129l4 23 3-1-4-20zM234 1131l4 20 2 0-4-18zM236 1133l4 18 3-1-4-15z"/>
<path fill="#f0d8d8" stroke="#f0d8d8" stroke-opacity="1" stroke-width="0.5" d="M235 1152l4 22 3-3-4-20zM238 1151l4 20 2-3-4-17zM240 1151l4 17 2-3-3-15z"/>
<path fill="#f0e8f0" d="M470 1222l8 7 7-9-8-12zM478 1229l9 6 6-6-8-9zM464 1231l8 5 6-7-8-7z"/>
<path fill="#f0e8f8" d="M360 1235l8-4 6 4-7-21z"/>
<path fill="#f88888" d="M291 918l9 41 6-19-8-24z"/>
<path fill="#f89090" d="M307 952l9 32 6-38-8-13z"/>
<path fill="#f89898" stroke="#f89898" stroke-opacity="1" stroke-width="0.5" d="M278 993l4 24 2-10-4-26z"/>
<path fill="#f8a0a0" stroke="#f8a0a0" stroke-opacity="1" stroke-width="0.5" d="M274 1016l4 20 2-9-4-22zM276 1005l4 22 2-10-4-24z"/>
<path fill="#f8a8a8" stroke="#f8a8a8" stroke-opacity="1" stroke-width="0.5" d="M280 1027l3 21 2-7-3-24zM282 1017l3 24 2-8-3-26z"/>
<path fill="#f8b0b0" stroke="#f8b0b0" stroke-opacity="1" stroke-width="0.5" d="M278 1036l3 20 2-8-3-21z"/>
<path fill="#f8b0b0" d="M268 1043l9 31 7 1-10-59z"/>
<path fill="#f8b8b8" stroke="#f8b8b8" stroke-opacity="1" stroke-width="0.5" d="M281 1056l3 19 3-6-4-21zM283 1048l4 21 2-5-4-23zM285 1041l4 23 2-5-4-26z"/>
<path fill="#a8a8e8" d="M319 1287l8 1 7-11-8 2z"/>
<path fill="#b0b0f8" d="M312 1279l7 8 7-8-8-7z"/>
<path fill="#c0c0f0" d="M326 1279l8-2 7-8-8-6z"/>
<path fill="#c8c8e8" d="M459 1255l8 8 6 1-8-8zM467 1263l8 8 7-14-9 7z"/>
<path fill="#c8c8f0" d="M310 1260l8 12 7-22-8 5zM318 1272l8 7 7-16-8-13zM333 1263l8 6 7-8-8-1z"/>
<path fill="#d0d0d8" d="M398 1249l9-3 6-11-8 8z"/>
<path fill="#d0d0e0" d="M369 1254l8-5 7 2-8-3z"/>
<path fill="#d0d0e8" d="M497 1254l8 10 6-1-9-6z"/>
<path fill="#d0d0f0" d="M341 1269l8 3 7-5-8-6z"/>
<path fill="#d8d0d8" d="M413 1235l9 3 6 3-8-3z"/>
<path fill="#d8d8e0" d="M317 1255l8-5 7-8-8 0zM509 1243l9 2 6-8-9 3zM384 1251l8-6 6 4-8-7zM430 1250l8 9 6-1-8-2z"/>
<path fill="#d8d8e8" d="M488 1254l9 0 5 3-8-9zM362 1254l8 5 7-10-8 5z"/>
<path fill="#d8d8f0" d="M340 1260l8 1 6-11-8-7z"/>
<path fill="#e07878" d="M283 913l8 5 7-2-7 9z"/>
<path fill="#e08080" d="M234 961l7 5 5-39-4 46z"/>
<path fill="#e08888" d="M200 1008l5-28 7 0-6 12z"/>
<path fill="#e09898" d="M170 1016l8 5 8 1-7 5z"/>
<path fill="#e0d8e8" d="M422 1238l8 12 6 6-8-15z"/>
<path fill="#e0e0e8" d="M405 1243l8-8 7 3-8-13zM392 1245l8 11 7-10-9 3z"/>
<path fill="#e0e0f0" d="M502 1257l9 6 7-18-9-2zM473 1264l9-7 6-3-8-14zM444 1258l8 3 7-6-9-4zM348 1261l8 6 6-13-8-4zM511 1263l8 3 7-15-8-6zM377 1249l8 12 7-16-8 6z"/>
<path fill="#e0e0f8" d="M436 1256l8 2 6-7-8-8zM325 1250l8 13 7-3-8-18zM452 1261l8 13 7-11-8-8z"/>
<path fill="#e88080" d="M246 927l9 25 8-3-8-1z"/>
<path fill="#e88888" d="M228 979l6-14 7 1-7-5zM280 987l7-13 6-19-8 3zM211 960l7-7 10 26-10-25z"/>
<path fill="#e89090" d="M192 1008l8 8 5-36-5 28z"/>
<path fill="#e8a0a0" d="M178 1021l7 3 8 1-7-3zM157 1042l7 0 6-16-6 8z"/>
<path fill="#e8e0f0" d="M472 1236l8 4 7-5-9-6zM346 1243l8 7 7-13-8 0z"/>
<path fill="#e8e8f0" d="M494 1248l8 9 7-14-8-13zM442 1243l8 8 7-17-8-4zM480 1240l8 14 6-6-7-13zM518 1245l8 6 6-3-8-11z"/>
<path fill="#e8e8f8" d="M450 1251l9 4 6 1-8-22z"/>
<path fill="#f07878" d="M276 923l7-6 8 1-8-5z"/>
<path fill="#f08888" d="M283 917l9 30 8 12-9-41zM263 949l8 16 6-35-7 16z"/>
<path fill="#f09090" stroke="#f09090" stroke-opacity="1" stroke-width="0.5" d="M280 981l4 26 2-3-4-27zM282 977l4 27 2-3-4-28zM284 973l4 28 2-4-3-28z"/>
<path fill="#f0a0a0" stroke="#f0a0a0" stroke-opacity="1" stroke-width="0.5" d="M284 1007l3 26 3-2-4-27zM286 1004l4 27 2-3-4-27zM288 1001l4 27 2-3-4-28z"/>
<path fill="#f0a0a0" d="M164 1034l6-8 8-5-8-5z"/>
<path fill="#f0b0b0" stroke="#f0b0b0" stroke-opacity="1" stroke-width="0.5" d="M287 1033l4 26 2-2-3-26zM290 1031l3 26 2-2-3-27zM292 1028l3 27 3-2-4-28z"/>
<path fill="#f0b0b0" d="M253 1040l10 43 8 7-11-58z"/>
<path fill="#f0c0c0" stroke="#f0c0c0" stroke-opacity="1" stroke-width="0.5" d="M219 1110l5 23 2-1-4-24zM222 1108l4 24 3-2-5-23zM224 1107l5 23 2-1-4-23z"/>
<path fill="#f0c8c8" stroke="#f0c8c8" stroke-opacity="1" stroke-width="0.5" d="M224 1133l4 23 2-1-4-23z"/>
<path fill="#f0c8d0" stroke="#f0c8d0" stroke-opacity="1" stroke-width="0.5" d="M226 1132l4 23 3-2-4-23z"/>
<path fill="#f0d0d0" stroke="#f0d0d0" stroke-opacity="1" stroke-width="0.5" d="M229 1130l4 23 2-1-4-23z"/>
<path fill="#f0d8d8" stroke="#f0d8d8" stroke-opacity="1" stroke-width="0.5" d="M228 1156l4 23 2-2-4-22zM230 1155l4 22 3-1-4-23zM233 1153l4 23 2-2-4-22z"/>
<path fill="#f0e8f8" d="M354 1250l8 4 7 0-8-17z"/>
<path fill="#f89090" d="M271 965l9 22 5-29-8-28zM285 958l8-3 7 3-8-11zM293 955l8 11 7-2-8-6z"/>
<path fill="#f89898" d="M227 982l9 13 7-9-9-21z"/>
<path fill="#f8a0a0" d="M222 1017l9 16 6-19-9-17z"/>
<path fill="#f8a8a8" d="M186 1022l7 3 7-9-8-8z"/>
<path fill="#f8b0b0" d="M246 1047l11 57 6-21-10-43z"/>
<path fill="#ff9090" d="M255 948l8 1 7-3-8-16z"/>
<path fill="#ff9898" d="M234 965l9 21 6-19-8-1z"/>
<path fill="#ffb0b0" d="M148 1039l11 29 5-26-7 0z"/>
<path fill="#b8b8f0" d="M335 1293l8 7 7-15-8 3z"/>
<path fill="#c0c0f8" d="M327 1288l8 5 7-5-8-11z"/>
<path fill="#c8c8d8" d="M505 1264l9-4 5 6-8-3z"/>
<path fill="#c8c8f8" d="M334 1277l8 11 7-16-8-3zM342 1288l8-3 7 1-8-14z"/>
<path fill="#d0d0e8" d="M460 1274l9-6 6 3-8-8zM446 1274l8-6 6 6-8-13z"/>
<path fill="#d0d0f0" d="M349 1272l8 14 7-26-8 7z"/>
<path fill="#d8d8e0" d="M356 1267l8-7 6-1-8-5zM408 1264l8-4 7 3-8-4zM475 1271l10-12 5 7-8-9zM378 1263l9-1 6 5-8-6z"/>
<path fill="#e08080" d="M263 948l8 4 9 35-9-22zM271 952l8 11 8 11-7 13z"/>
<path fill="#e08888" d="M236 995l6-11 8 2-7 0z"/>
<path fill="#e09090" d="M207 1010l6-5 9 12-8-7z"/>
<path fill="#e09898" d="M223 1032l6-14 8 6-6 9zM170 1026l6-7 9 5-7-3z"/>
<path fill="#e0a0a0" d="M148 1048l7 1 10 19-6 0z"/>
<path fill="#e0e0e8" d="M416 1260l8 13 7-1-8-9z"/>
<path fill="#e0e0f0" d="M431 1272l8-2 7 4-8-15zM469 1268l8 17 8-26-10 12z"/>
<path fill="#e87878" d="M270 946l7-16 6-13-7 6z"/>
<path fill="#e88080" d="M255 952l8-4 8 17-8-16z"/>
<path fill="#e88888" d="M206 992l6-12 6-27-7 7z"/>
<path fill="#e89898" d="M193 1025l7-4 7-11-7 6z"/>
<path fill="#e8e0f0" d="M407 1246l8 13 7-21-9-3z"/>
<path fill="#e8e8f0" d="M482 1257l8 9 7-12-9 0zM415 1259l8 4 7-13-8-12zM393 1267l8 1 7-4-8-8zM499 1268l8 11 7-19-9 4z"/>
<path fill="#e8e8f8" d="M438 1259l8 15 6-13-8-3zM385 1261l8 6 7-11-8-11zM370 1259l8 4 7-2-8-12zM490 1266l9 2 6-4-8-10zM423 1263l8 9 7-13-8-9z"/>
<path fill="#f08888" d="M218 953l9 29 7-17-6 14zM249 967l7-1 7-18-8 4zM250 986l8 3 5-31-7 8z"/>
<path fill="#f09090" d="M243 986l7 0 6-20-7 1z"/>
<path fill="#f0a0a0" d="M231 1033l6-9 7-5-7-5zM213 1005l10 27 8 1-9-16zM164 1042l7 2 5-25-6 7z"/>
<path fill="#f0a8a8" d="M159 1068l6 0 6-24-7-2zM141 1045l7 3 11 20-11-29z"/>
<path fill="#f0b0b0" d="M239 1056l10 42 8 6-11-57z"/>
<path fill="#f0c0c0" stroke="#f0c0c0" stroke-opacity="1" stroke-width="0.5" d="M213 1127l4 18 2-4-4-20zM215 1121l4 20 2-4-4-21zM217 1116l4 21 3-4-5-23z"/>
<path fill="#f0d0d0" stroke="#f0d0d0" stroke-opacity="1" stroke-width="0.5" d="M217 1145l4 17 2-2-4-19zM219 1141l4 19 2-2-4-21zM221 1137l4 21 3-2-4-23z"/>
<path fill="#f0d8d8" stroke="#f0d8d8" stroke-opacity="1" stroke-width="0.5" d="M221 1162l3 17 3 0-4-19zM223 1160l4 19 3 0-5-21zM225 1158l5 21 2 0-4-23z"/>
<path fill="#f0e8f8" d="M400 1256l8 8 7-5-8-13z"/>
<path fill="#f88888" d="M277 930l8 28 7-11-9-30zM241 966l8 1 6-15-9-25z"/>
<path fill="#f89090" d="M287 974l7 1 7-9-8-11z"/>
<path fill="#f89898" d="M205 980l9 30 6-19-8-11zM228 997l9 17 5-30-6 11zM212 980l8 11 7-9-9-29zM242 984l10 33 6-28-8-3zM258 995l10 48 6-27-9-37z"/>
<path fill="#f8a0a0" d="M214 1010l8 7 6-20-8-6zM200 1016l7-6 7 0-9-30zM237 1014l7 5 8-2-10-33zM185 1024l8 9 7-12-7 4zM200 1021l9 24 4-40-6 5zM209 1045l6-18 8 5-10-27z"/>
<path fill="#f8a8a8" d="M193 1033l7 5 9 7-9-24z"/>
<path fill="#ffa0a0" d="M220 991l8 6 8-2-9-13z"/>
<path fill="#3030e0" stroke="#3030e0" stroke-opacity="1" stroke-width="0.5" d="M379 1336l2-17 3 10-3 26z"/>
<path fill="#3030e8" stroke="#3030e8" stroke-opacity="1" stroke-width="0.5" d="M376 1318l3 18 2 19-3-26z"/>
<path fill="#7070e0" stroke="#7070e0" stroke-opacity="1" stroke-width="0.5" d="M376 1315l3-6 2 10-2 17z"/>
<path fill="#7878e8" stroke="#7878e8" stroke-opacity="1" stroke-width="0.5" d="M374 1306l2 9 3 21-3-18z"/>
<path fill="#8080e8" stroke="#8080e8" stroke-opacity="1" stroke-width="0.5" d="M373 1300l3 18 2 11-2-27z"/>
<path fill="#8888e0" stroke="#8888e0" stroke-opacity="1" stroke-width="0.5" d="M381 1319l3-17 3-1-3 28z"/>
<path fill="#a0a0d8" stroke="#a0a0d8" stroke-opacity="1" stroke-width="0.5" d="M379 1309l3-7 2 0-3 17z"/>
<path fill="#a0a0e8" stroke="#a0a0e8" stroke-opacity="1" stroke-width="0.5" d="M371 1297l3 9 2 12-3-18z"/>
<path fill="#b0b0d8" stroke="#b0b0d8" stroke-opacity="1" stroke-width="0.5" d="M374 1295l3 3 2 11-3 6z"/>
<path fill="#b8b8e8" stroke="#b8b8e8" stroke-opacity="1" stroke-width="0.5" d="M372 1295l2 0 2 20-2-9z"/>
<path fill="#c0c0d8" stroke="#c0c0d8" stroke-opacity="1" stroke-width="0.5" d="M377 1298l3 4 2 0-3 7z"/>
<path fill="#c0c0e8" stroke="#c0c0e8" stroke-opacity="1" stroke-width="0.5" d="M369 1295l3 0 2 11-3-9z"/>
<path fill="#c0c0e8" d="M350 1285l8 7 7-12-8 6zM343 1300l8-5 7-3-8-7z"/>
<path fill="#c8c8d8" stroke="#c8c8d8" stroke-opacity="1" stroke-width="0.5" d="M380 1302l2 3 3-10-3 7z"/>
<path fill="#c8c8e8" stroke="#c8c8e8" stroke-opacity="1" stroke-width="0.5" d="M366 1295l3 0 2 2-3-9zM368 1288l3 9 2 3-2-19z"/>
<path fill="#d0d0d8" stroke="#d0d0d8" stroke-opacity="1" stroke-width="0.5" d="M382 1302l3-7 2-11-3 18zM384 1302l3-18 3-11-3 28z"/>
<path fill="#d0d0d8" d="M439 1270l9 2 6-4-8 6zM364 1260l8-8 6 11-8-4zM387 1262l8-13 6 19-8-1z"/>
<path fill="#d0d0e8" stroke="#d0d0e8" stroke-opacity="1" stroke-width="0.5" d="M371 1281l2 19 3 2-3-28z"/>
<path fill="#d8d0e0" d="M485 1259l8 6 6 3-9-2z"/>
<path fill="#d8d8e0" d="M401 1268l9 2 6-10-8 4zM357 1286l8-6 7-28-8 8zM477 1285l9-11 7-9-8-6z"/>
<path fill="#d8d8e8" d="M454 1268l8 11 7-11-9 6z"/>
<path fill="#e08080" d="M279 963l8 6 7 6-7-1z"/>
<path fill="#e08888" d="M252 1017l6-22 7-16-7 10zM244 1019l6-30 8 6-6 22z"/>
<path fill="#e09090" d="M237 1024l8 4 5-39-6 30zM184 1028l7-3 9 13-7-5zM215 1027l7 0 7-9-6 14z"/>
<path fill="#e09898" d="M200 1038l8 3 7-14-6 18zM165 1068l4-32 10 18-8-10z"/>
<path fill="#e0e0e8" d="M462 1279l9-2 6 8-8-17zM493 1265l8 12 6 2-8-11zM433 1283l8-1 7-10-9-2z"/>
<path fill="#e0e0f0" d="M424 1273l9 10 6-13-8 2z"/>
<path fill="#e8e8f0" d="M448 1272l8 11 6-4-8-11z"/>
<path fill="#f08080" d="M256 966l7-8 8-6-8-4z"/>
<path fill="#f09898" d="M176 1019l8 9 9 5-8-9zM250 989l10 43 8 11-10-48z"/>
<path fill="#f0a0a0" d="M236 1011l10 36 7-7-8-12z"/>
<path fill="#f0b0b0" d="M231 1048l11 59 7-9-10-42zM217 1071l10 35 9 14-11-46z"/>
<path fill="#f89090" d="M265 979l9 37 6-35-8-6zM258 989l7-10 7-4-9-17zM272 975l8 6 7-12-8-6z"/>
<path fill="#f8a0a0" d="M171 1044l8 10 5-26-8-9zM245 1028l8 12 7-8-10-43z"/>
<path fill="#f8a8a8" stroke="#f8a8a8" stroke-opacity="1" stroke-width="0.5" d="M227 1066l3 16 2-7-3-18zM229 1057l3 18 2-7-3-20z"/>
<path fill="#f8b0b0" stroke="#f8b0b0" stroke-opacity="1" stroke-width="0.5" d="M225 1074l3 16 2-8-3-16zM232 1075l4 18 2-6-4-19z"/>
<path fill="#f8b8b8" stroke="#f8b8b8" stroke-opacity="1" stroke-width="0.5" d="M228 1090l4 15 2-6-4-17zM230 1082l4 17 2-6-4-18z"/>
<path fill="#f8c0c0" stroke="#f8c0c0" stroke-opacity="1" stroke-width="0.5" d="M232 1105l4 15 2-5-4-16zM234 1099l4 16 2-4-4-18zM236 1093l4 18 2-4-4-20z"/>
<path fill="#ff9090" d="M263 958l9 17 7-12-8-11z"/>
<path fill="#5050f0" stroke="#5050f0" stroke-opacity="1" stroke-width="0.5" d="M378 1329l3 26 2-41-2-17z"/>
<path fill="#a0a0f0" stroke="#a0a0f0" stroke-opacity="1" stroke-width="0.5" d="M376 1302l2 27 3-32-3-17z"/>
<path fill="#c8c8e0" d="M351 1295l8 0 7 0-8-3z"/>
<path fill="#d0d0d8" d="M471 1277l9 2 6-5-9 11zM426 1286l9-6 6 2-8 1z"/>
<path fill="#d8c8d0" d="M372 1252l8-13 7 23-9 1z"/>
<path fill="#d8d8e0" d="M456 1283l9 0 6-6-9 2zM449 1294l9-6 7-5-9 0z"/>
<path fill="#d8d8e8" stroke="#d8d8e8" stroke-opacity="1" stroke-width="0.5" d="M381 1297l2 17 3-43-3-7z"/>
<path fill="#d8d8e8" d="M358 1292l8 3 7-21-8 6z"/>
<path fill="#e09090" d="M229 1018l7-7 9 17-8-4zM191 1025l8 4 9 12-8-3zM169 1036l8 9 8-1-6 10z"/>
<path fill="#e09898" d="M155 1049l8 6 6-19-4 32z"/>
<path fill="#e0d8e0" d="M410 1270l8-4 6 7-8-13z"/>
<path fill="#e0d8e8" stroke="#e0d8e8" stroke-opacity="1" stroke-width="0.5" d="M378 1280l3 17 2-33-3-6z"/>
<path fill="#e0e0e8" stroke="#e0e0e8" stroke-opacity="1" stroke-width="0.5" d="M373 1274l3 28 2-22-3-18z"/>
<path fill="#e0e0e8" d="M418 1266l8 20 7-3-9-10z"/>
<path fill="#e89898" d="M179 1054l6-10 6-19-7 3z"/>
<path fill="#e8d8d8" stroke="#e8d8d8" stroke-opacity="1" stroke-width="0.5" d="M378 1251l2 7 3-23-3 4z"/>
<path fill="#e8d8e0" stroke="#e8d8e0" stroke-opacity="1" stroke-width="0.5" d="M375 1262l3 18 2-22-2-7z"/>
<path fill="#e8e0f0" d="M480 1279l8 7 6-1-8-11z"/>
<path fill="#f09898" d="M208 1041l7-4 7-10-7 0z"/>
<path fill="#f0a0a0" d="M202 1067l6-5 7-11-7-1z"/>
<path fill="#f0d8d8" stroke="#f0d8d8" stroke-opacity="1" stroke-width="0.5" d="M380 1258l3 6 3-34-3 5zM383 1264l3 7 2-45-2 4z"/>
<path fill="#f0e8f8" d="M441 1282l8 12 7-11-8-11zM486 1274l8 11 7-8-8-12z"/>
<path fill="#f8a0a0" d="M199 1029l9 21 7-13-7 4zM229 1018l10 38 7-9-10-36zM192 1041l10 26 6-17-9-21z"/>
<path fill="#d8c8d0" d="M395 1249l9-14 6 35-9-2z"/>
<path fill="#d8d0d8" d="M365 1280l8-6 7-35-8 13z"/>
<path fill="#d8d0e0" d="M443 1287l9 8 6-7-9 6z"/>
<path fill="#d8d8e0" d="M435 1280l8 7 6 7-8-12zM376 1309l8 0 7-4-9 0z"/>
<path fill="#d8d8e8" d="M359 1295l8 6 7-6-8 0z"/>
<path fill="#e08888" d="M222 1027l7-9 7-7-7 7z"/>
<path fill="#e09090" d="M193 1056l6-7 9 13-6 5z"/>
<path fill="#e0e0f8" d="M367 1301l9 8 6-4-8-10z"/>
<path fill="#e89090" d="M215 1037l7 1 7-20-7 9z"/>
<path fill="#e89898" d="M163 1055l5-15 9 5-8-9z"/>
<path fill="#e8a0a0" d="M179 1074l6-7 8-11-8 0z"/>
<path fill="#e8e0e8" d="M465 1283l8 4 7-8-9-2z"/>
<path fill="#e8e0f0" d="M458 1288l9 6 6-7-8-4z"/>
<path fill="#e8e8f0" d="M473 1287l9 6 6-7-8-7z"/>
<path fill="#f09898" d="M185 1044l7-3 7-12-8-4z"/>
<path fill="#f0a0a0" d="M208 1050l7 1 7-13-7-1z"/>
<path fill="#f0b0b0" d="M200 1067l13 60 6-17-10-37z"/>
<path fill="#f8a0a0" d="M177 1045l8 11 7-15-7 3zM222 1038l9 10 8 8-10-38zM168 1040l11 34 6-18-8-11z"/>
<path fill="#f8a8a8" d="M215 1051l10 23 6-26-9-10zM208 1062l9 9 8 3-10-23zM185 1056l8 0 9 11-10-26z"/>
<path fill="#f8b0b0" d="M209 1073l10 37 8-4-10-35z"/>
<path fill="#5858e0" stroke="#5858e0" stroke-opacity="1" stroke-width="0.5" d="M381 1355l3-26 2-35-3 20z"/>
<path fill="#b0b0e0" stroke="#b0b0e0" stroke-opacity="1" stroke-width="0.5" d="M384 1329l3-28 2-28-3 21z"/>
<path fill="#d0d0d8" stroke="#d0d0d8" stroke-opacity="1" stroke-width="0.5" d="M383 1314l3-20 3-36-3 13z"/>
<path fill="#d8c8c8" d="M380 1239l8-13 7 23-8 13zM404 1235l8 0 6 31-8 4z"/>
<path fill="#d8c8d0" stroke="#d8c8d0" stroke-opacity="1" stroke-width="0.5" d="M386 1294l3-21 3-29-3 14zM387 1301l3-28 2-21-3 21z"/>
<path fill="#e0b8b8" stroke="#e0b8b8" stroke-opacity="1" stroke-width="0.5" d="M392 1244l3-14 2-21-3 5z"/>
<path fill="#e0c0c0" stroke="#e0c0c0" stroke-opacity="1" stroke-width="0.5" d="M389 1258l3-14 2-30-3 6z"/>
<path fill="#e0c8c8" stroke="#e0c8c8" stroke-opacity="1" stroke-width="0.5" d="M386 1271l3-13 2-38-3 6zM389 1273l3-21 3-22-3 14z"/>
<path fill="#e0d8e8" d="M382 1305l9 0 7-23-8-9zM391 1305l8 5 7-25-8-3z"/>
<path fill="#e8e8f0" d="M467 1294l8 7 7-8-9-6z"/>
<path fill="#e8e8f8" d="M460 1306l8 12 7-17-8-7zM384 1309l8 16 7-15-8-5z"/>
<path fill="#f0a0a0" d="M199 1049l10 24 8-2-9-9zM185 1067l8 6 6-24-6 7z"/>
<path fill="#f0e8f8" d="M452 1295l8 11 7-12-9-6z"/>
<path fill="#d0c8d0" stroke="#d0c8d0" stroke-opacity="1" stroke-width="0.5" d="M422 1262l3 3 1 21-3-7z"/>
<path fill="#d0d0d8" d="M392 1325l9-12 7 0-9-3z"/>
<path fill="#d8c8c8" stroke="#d8c8c8" stroke-opacity="1" stroke-width="0.5" d="M414 1246l3-1 2 14-3-3zM417 1245l3-1 2 18-3-3zM420 1244l3 0 2 21-3-3z"/>
<path fill="#d8c8d0" stroke="#d8c8d0" stroke-opacity="1" stroke-width="0.5" d="M416 1256l3 3 2 14-3-7zM419 1259l3 3 1 17-2-6z"/>
<path fill="#d8d0d8" d="M455 1267l7 42 6 9-8-12z"/>
<path fill="#e0c0c0" stroke="#e0c0c0" stroke-opacity="1" stroke-width="0.5" d="M412 1235l3-4 2 14-3 1zM415 1231l3-5 2 18-3 1zM418 1226l3-5 2 23-3 0z"/>
<path fill="#e0e0e8" d="M399 1310l9 3 7-20-9-8zM401 1313l8 10 7-6-8-4z"/>
<path fill="#e8e0e8" d="M408 1313l8 4 7-18-8-6z"/>
<path fill="#f0e8f8" d="M409 1323l9 14 6-9-8-11z"/>
<path fill="#ffa8a8" d="M193 1073l7-6 9 6-10-24z"/>
<path fill="#d0c8d0" stroke="#d0c8d0" stroke-opacity="1" stroke-width="0.5" d="M425 1265l3-2 1 21-3 2z"/>
<path fill="#d8c8d0" stroke="#d8c8d0" stroke-opacity="1" stroke-width="0.5" d="M428 1263l3-2 1 21-3 2zM431 1261l3-2 1 21-3 2z"/>
<path fill="#e0b8b8" stroke="#e0b8b8" stroke-opacity="1" stroke-width="0.5" d="M421 1221l4-2 1 22-3 3zM425 1219l3-3 1 23-3 2zM428 1216l3-3 1 23-3 3z"/>
<path fill="#e0c0c0" stroke="#e0c0c0" stroke-opacity="1" stroke-width="0.5" d="M429 1239l3-3 2 23-3 2z"/>
<path fill="#e0c0c0" d="M388 1226l9-17 7 26-9 14z"/>
<path fill="#e0c8c8" stroke="#e0c8c8" stroke-opacity="1" stroke-width="0.5" d="M423 1244l3-3 2 22-3 2zM426 1241l3-2 2 22-3 2z"/>
<path fill="#e0d8e0" d="M416 1317l8 11 8-35-9 6z"/>
<path fill="#e0e0e8" d="M418 1337l8 0 7-4-9-5z"/>
<path fill="#e8e0e8" d="M424 1328l9 5 7-20-8-20z"/>
<path fill="#e8e8f0" d="M426 1337l9 7 7-7-9-4z"/>
<path fill="#f0e8f8" d="M433 1333l9 4 6-1-8-23z"/>
<path fill="#d0d0d8" stroke="#d0d0d8" stroke-opacity="1" stroke-width="0.5" d="M456 1284l2 9 2 13-3-4z"/>
<path fill="#d8c8d0" stroke="#d8c8d0" stroke-opacity="1" stroke-width="0.5" d="M434 1259l2 1 2 23-3-3zM436 1260l3 1 1 24-2-2zM439 1261l3 2 1 24-3-2zM451 1264l2 10 1 25-2-4zM453 1274l3 10 1 18-3-3zM455 1265l2 15 1 13-2-9z"/>
<path fill="#e0b0b0" stroke="#e0b0b0" stroke-opacity="1" stroke-width="0.5" d="M431 1213l3 0 1 24-3-1zM434 1213l3-1 1 25-3 0zM437 1212l3-1 1 26-3 0zM450 1199l2 23 1 27-3-17z"/>
<path fill="#e0b8b8" stroke="#e0b8b8" stroke-opacity="1" stroke-width="0.5" d="M452 1222l2 23 1 20-2-16z"/>
<path fill="#e0c0c0" stroke="#e0c0c0" stroke-opacity="1" stroke-width="0.5" d="M432 1236l3 1 1 23-2-1zM435 1237l3 0 1 24-3-1zM438 1237l3 0 1 26-3-2zM450 1232l3 17 0 25-2-10zM454 1245l1 22 2 13-2-15z"/>
<path fill="#e0c8c8" stroke="#e0c8c8" stroke-opacity="1" stroke-width="0.5" d="M453 1249l2 16 1 19-3-10z"/>
<path fill="#e0d0d0" stroke="#e0d0d0" stroke-opacity="1" stroke-width="0.5" d="M390 1273l2 3 3-25-3 1zM392 1276l3 3 3-28-3 0zM395 1279l3 3 3-32-3 1z"/>
<path fill="#e0e0f0" stroke="#e0e0f0" stroke-opacity="1" stroke-width="0.5" d="M446 1328l2 8 3-4-3-16z"/>
<path fill="#e8b0b0" stroke="#e8b0b0" stroke-opacity="1" stroke-width="0.5" d="M401 1221l3-4 3-35-4 9z"/>
<path fill="#e8b8b8" stroke="#e8b8b8" stroke-opacity="1" stroke-width="0.5" d="M395 1230l3-4 2-26-3 9zM398 1226l3-5 2-30-3 9z"/>
<path fill="#e8c0c0" stroke="#e8c0c0" stroke-opacity="1" stroke-width="0.5" d="M398 1251l3-1 3-33-3 4z"/>
<path fill="#e8c0c8" stroke="#e8c0c8" stroke-opacity="1" stroke-width="0.5" d="M395 1251l3 0 3-30-3 5z"/>
<path fill="#e8c8c8" stroke="#e8c8c8" stroke-opacity="1" stroke-width="0.5" d="M392 1252l3-1 3-25-3 4z"/>
<path fill="#e8d8e0" stroke="#e8d8e0" stroke-opacity="1" stroke-width="0.5" d="M440 1313l3 8 3-21-2-16z"/>
<path fill="#e8e0e8" stroke="#e8e0e8" stroke-opacity="1" stroke-width="0.5" d="M443 1321l3 7 2-12-2-16zM448 1316l3 16 2-4-2-24zM451 1304l2 24 2-4-1-33z"/>
<path fill="#f0d0d8" stroke="#f0d0d8" stroke-opacity="1" stroke-width="0.5" d="M444 1284l2 16 3-21-2-25z"/>
<path fill="#f0d8d8" stroke="#f0d8d8" stroke-opacity="1" stroke-width="0.5" d="M449 1279l2 25 3-13-2-33z"/>
<path fill="#f0d8e0" stroke="#f0d8e0" stroke-opacity="1" stroke-width="0.5" d="M446 1300l2 16 3-12-2-25z"/>
<path fill="#f8c8c8" stroke="#f8c8c8" stroke-opacity="1" stroke-width="0.5" d="M447 1254l2 25 3-21-1-35z"/>
<path fill="#d8c8d0" stroke="#d8c8d0" stroke-opacity="1" stroke-width="0.5" d="M442 1263l3 0 1 27-3-3zM445 1263l3 1 1 28-3-2zM448 1264l3 0 1 31-3-3z"/>
<path fill="#e0a8a8" stroke="#e0a8a8" stroke-opacity="1" stroke-width="0.5" d="M446 1203l4-4 0 33-3 2zM400 1200l3-9 2 15-3 6zM403 1191l4-9 2 18-4 6z"/>
<path fill="#e0b0b0" stroke="#e0b0b0" stroke-opacity="1" stroke-width="0.5" d="M440 1211l3-4 1 29-3 1zM443 1207l3-4 1 31-3 2zM397 1209l3-9 2 12-3 6zM402 1212l3-6 3 15-3 3zM405 1206l4-6 1 18-2 3z"/>
<path fill="#e0b8b8" stroke="#e0b8b8" stroke-opacity="1" stroke-width="0.5" d="M399 1218l3-6 3 12-3 2zM408 1221l2-3 2 17-3 0z"/>
<path fill="#e0c0c0" stroke="#e0c0c0" stroke-opacity="1" stroke-width="0.5" d="M441 1237l3-1 1 27-3 0zM444 1236l3-2 1 30-3-1zM447 1234l3-2 1 32-3 0zM402 1226l3-2 2 11-3 0zM405 1224l3-3 1 14-2 0z"/>
<path fill="#e0d8e0" stroke="#e0d8e0" stroke-opacity="1" stroke-width="0.5" d="M454 1291l1 33 3-5-2-26zM456 1293l2 26 2-5-2-20zM458 1294l2 20 2-5-2-13z"/>
<path fill="#e8d0d8" stroke="#e8d0d8" stroke-opacity="1" stroke-width="0.5" d="M454 1266l2 27 2 1-2-20z"/>
<path fill="#e8d8d8" stroke="#e8d8d8" stroke-opacity="1" stroke-width="0.5" d="M456 1274l2 20 2 2-2-14z"/>
<path fill="#f0c0c0" stroke="#f0c0c0" stroke-opacity="1" stroke-width="0.5" d="M451 1223l1 35 2 8-1-28z"/>
<path fill="#f0c8c8" stroke="#f0c8c8" stroke-opacity="1" stroke-width="0.5" d="M453 1238l1 28 2 8-2-21z"/>
<path fill="#f0d0d0" stroke="#f0d0d0" stroke-opacity="1" stroke-width="0.5" d="M454 1253l2 21 2 8-3-15zM452 1258l2 33 2 2-2-27z"/>
<path fill="#e8a0a0" stroke="#e8a0a0" stroke-opacity="1" stroke-width="0.5" d="M410 1208l3-5 3-43-3 7z"/>
<path fill="#e8a8a8" stroke="#e8a8a8" stroke-opacity="1" stroke-width="0.5" d="M404 1217l3-5 3-37-3 7zM407 1212l3-4 3-41-3 8z"/>
<path fill="#e8b8b8" stroke="#e8b8b8" stroke-opacity="1" stroke-width="0.5" d="M404 1248l3-1 3-39-3 4zM407 1247l2-2 4-42-3 5z"/>
<path fill="#e8c0c0" stroke="#e8c0c0" stroke-opacity="1" stroke-width="0.5" d="M401 1250l3-2 3-36-3 5z"/>
<path fill="#e8d0d0" stroke="#e8d0d0" stroke-opacity="1" stroke-width="0.5" d="M398 1282l3 1 3-35-3 2zM401 1283l3 1 3-37-3 1zM404 1284l2 1 3-40-2 2z"/>
<path fill="#e09898" stroke="#e09898" stroke-opacity="1" stroke-width="0.5" d="M410 1175l3-8 2 21-3 6zM413 1167l3-7 2 21-3 7z"/>
<path fill="#e0a0a0" stroke="#e0a0a0" stroke-opacity="1" stroke-width="0.5" d="M407 1182l3-7 2 19-3 6zM415 1188l3-7 2 20-3 6z"/>
<path fill="#e0a8a8" stroke="#e0a8a8" stroke-opacity="1" stroke-width="0.5" d="M412 1194l3-6 2 19-3 6z"/>
<path fill="#e0b0b0" stroke="#e0b0b0" stroke-opacity="1" stroke-width="0.5" d="M409 1200l3-6 2 19-4 5zM414 1213l3-6 1 19-3 5zM417 1207l3-6 1 20-3 5z"/>
<path fill="#e0b8b8" stroke="#e0b8b8" stroke-opacity="1" stroke-width="0.5" d="M410 1218l4-5 1 18-3 4z"/>
<path fill="#e89898" stroke="#e89898" stroke-opacity="1" stroke-width="0.5" d="M416 1201l3-3 4-49-4 5zM419 1198l3-2 4-53-3 6z"/>
<path fill="#e8a0a0" stroke="#e8a0a0" stroke-opacity="1" stroke-width="0.5" d="M413 1203l3-2 3-47-3 6z"/>
<path fill="#e8b0b0" stroke="#e8b0b0" stroke-opacity="1" stroke-width="0.5" d="M415 1245l3 0 4-49-3 2z"/>
<path fill="#e8b8b8" stroke="#e8b8b8" stroke-opacity="1" stroke-width="0.5" d="M409 1245l3 0 4-44-3 2zM412 1245l3 0 4-47-3 3z"/>
<path fill="#e8d0d0" stroke="#e8d0d0" stroke-opacity="1" stroke-width="0.5" d="M406 1285l3 3 3-43-3 0zM409 1288l3 2 3-45-3 0zM412 1290l3 3 3-48-3 0z"/>
<path fill="#e89090" stroke="#e89090" stroke-opacity="1" stroke-width="0.5" d="M422 1196l3-3 4-56-3 6zM425 1193l3-3 5-59-4 6zM428 1190l3-3 5-62-3 6z"/>
<path fill="#e8b0b0" stroke="#e8b0b0" stroke-opacity="1" stroke-width="0.5" d="M418 1245l3 0 4-52-3 3zM421 1245l3 0 4-55-3 3zM424 1245l3 0 4-58-3 3z"/>
<path fill="#e8c8d0" stroke="#e8c8d0" stroke-opacity="1" stroke-width="0.5" d="M420 1297l3 2 4-54-3 0z"/>
<path fill="#e8d0d0" stroke="#e8d0d0" stroke-opacity="1" stroke-width="0.5" d="M415 1293l3 2 3-50-3 0zM418 1295l2 2 4-52-3 0z"/>
<path fill="#e08888" stroke="#e08888" stroke-opacity="1" stroke-width="0.5" d="M423 1149l3-6 2 24-4 5z"/>
<path fill="#e09090" stroke="#e09090" stroke-opacity="1" stroke-width="0.5" d="M416 1160l3-6 2 22-3 5zM419 1154l4-5 1 23-3 4z"/>
<path fill="#e09898" stroke="#e09898" stroke-opacity="1" stroke-width="0.5" d="M421 1176l3-4 2 22-3 4zM424 1172l4-5 1 24-3 3z"/>
<path fill="#e0a0a0" stroke="#e0a0a0" stroke-opacity="1" stroke-width="0.5" d="M418 1181l3-5 2 22-3 3z"/>
<path fill="#e0a8a8" stroke="#e0a8a8" stroke-opacity="1" stroke-width="0.5" d="M423 1198l3-4 2 22-3 3zM426 1194l3-3 2 22-3 3z"/>
<path fill="#e0b0b0" stroke="#e0b0b0" stroke-opacity="1" stroke-width="0.5" d="M420 1201l3-3 2 21-4 2z"/>
<path fill="#e8d8d8" stroke="#e8d8d8" stroke-opacity="1" stroke-width="0.5" d="M438 1306l2 7 4-29-3-16z"/>
<path fill="#f08888" stroke="#f08888" stroke-opacity="1" stroke-width="0.5" d="M441 1172l2 28 5-53-2-41z"/>
<path fill="#f0a0a0" stroke="#f0a0a0" stroke-opacity="1" stroke-width="0.5" d="M443 1200l2 28 5-43-2-38z"/>
<path fill="#f0b0b0" stroke="#f0b0b0" stroke-opacity="1" stroke-width="0.5" d="M437 1235l2 16 4-51-2-28zM445 1228l2 26 4-31-1-38z"/>
<path fill="#f0b8b8" stroke="#f0b8b8" stroke-opacity="1" stroke-width="0.5" d="M439 1251l2 17 4-40-2-28z"/>
<path fill="#f0c8c8" stroke="#f0c8c8" stroke-opacity="1" stroke-width="0.5" d="M441 1268l3 16 3-30-2-26z"/>
<path fill="#f0d0d0" stroke="#f0d0d0" stroke-opacity="1" stroke-width="0.5" d="M432 1293l3 7 4-49-2-16zM435 1300l3 6 3-38-2-17z"/>
<path fill="#e88080" stroke="#e88080" stroke-opacity="1" stroke-width="0.5" d="M435 1182l3-5 5-64-4 6zM438 1177l3-5 5-66-3 7zM446 1106l2 41 1 26-1-35z"/>
<path fill="#e88888" stroke="#e88888" stroke-opacity="1" stroke-width="0.5" d="M431 1187l4-5 4-63-3 6z"/>
<path fill="#e89090" stroke="#e89090" stroke-opacity="1" stroke-width="0.5" d="M448 1138l1 35 1 25-1-29zM448 1147l2 38 1 21-2-33z"/>
<path fill="#e8a0a0" stroke="#e8a0a0" stroke-opacity="1" stroke-width="0.5" d="M434 1238l3-3 4-63-3 5zM449 1169l1 29 2 24-2-23zM449 1173l2 33 1 20-2-28z"/>
<path fill="#e8a8a8" stroke="#e8a8a8" stroke-opacity="1" stroke-width="0.5" d="M427 1245l3-4 5-59-4 5zM430 1241l4-3 4-61-3 5zM450 1185l1 38 2 15-2-32z"/>
<path fill="#e8b0b0" stroke="#e8b0b0" stroke-opacity="1" stroke-width="0.5" d="M450 1198l2 28 2 19-2-23zM451 1206l2 32 1 15-2-27z"/>
<path fill="#e8c0c0" stroke="#e8c0c0" stroke-opacity="1" stroke-width="0.5" d="M452 1226l2 27 1 14-1-22z"/>
<path fill="#e8c8c8" stroke="#e8c8c8" stroke-opacity="1" stroke-width="0.5" d="M423 1299l3-2 4-56-3 4zM426 1297l3-2 5-57-4 3zM429 1295l3-2 5-58-3 3z"/>
<path fill="#e08080" stroke="#e08080" stroke-opacity="1" stroke-width="0.5" d="M429 1137l4-6 1 28-3 4zM433 1131l3-6 1 30-3 4z"/>
<path fill="#e08888" stroke="#e08888" stroke-opacity="1" stroke-width="0.5" d="M426 1143l3-6 2 26-3 4z"/>
<path fill="#e09090" stroke="#e09090" stroke-opacity="1" stroke-width="0.5" d="M431 1163l3-4 1 27-3 2zM434 1159l3-4 2 29-4 2z"/>
<path fill="#e09898" stroke="#e09898" stroke-opacity="1" stroke-width="0.5" d="M428 1167l3-4 1 25-3 3z"/>
<path fill="#e0a0a0" stroke="#e0a0a0" stroke-opacity="1" stroke-width="0.5" d="M432 1188l3-2 2 26-3 1zM435 1186l4-2 1 27-3 1z"/>
<path fill="#e0a8a8" stroke="#e0a8a8" stroke-opacity="1" stroke-width="0.5" d="M429 1191l3-3 2 25-3 0z"/>
<path fill="#e07070" stroke="#e07070" stroke-opacity="1" stroke-width="0.5" d="M443 1113l3-7 2 32-4 6z"/>
<path fill="#e07878" stroke="#e07878" stroke-opacity="1" stroke-width="0.5" d="M436 1125l3-6 2 31-4 5zM439 1119l4-6 1 31-3 6z"/>
<path fill="#e08888" stroke="#e08888" stroke-opacity="1" stroke-width="0.5" d="M441 1150l3-6 1 30-3 5zM444 1144l4-6 1 31-4 5z"/>
<path fill="#e09090" stroke="#e09090" stroke-opacity="1" stroke-width="0.5" d="M437 1155l4-5 1 29-3 5z"/>
<path fill="#e09898" stroke="#e09898" stroke-opacity="1" stroke-width="0.5" d="M442 1179l3-5 1 29-3 4zM445 1174l4-5 1 30-4 4z"/>
<path fill="#e0a0a0" stroke="#e0a0a0" stroke-opacity="1" stroke-width="0.5" d="M439 1184l3-5 1 28-3 4z"/>
</g>
<g fill="none" stroke-linecap="butt">
<path d="M155.2 1162.7L434.8 1345.7" stroke="#3a3a3a" stroke-width="2.2"/>
<path d="M434.8 1345.7L651.8 1130.4" stroke="#3a3a3a" stroke-width="2.2"/>
<path d="M155.2 1162.7L119.9 874.4" stroke="#3a3a3a" stroke-width="2.2"/>
<path d="M155.2 1162.7L148.1 1168.2" stroke="#3a3a3a" stroke-width="1.8"/>
<path d="M180.6 1179.3L176.7 1182.4" stroke="#3a3a3a" stroke-width="1.8"/>
<path d="M206.5 1196.3L199.5 1201.9" stroke="#3a3a3a" stroke-width="1.8"/>
<path d="M233 1213.6L229.1 1216.8" stroke="#3a3a3a" stroke-width="1.8"/>
<path d="M260 1231.3L253.1 1237.1" stroke="#3a3a3a" stroke-width="1.8"/>
<path d="M287.6 1249.3L283.8 1252.6" stroke="#3a3a3a" stroke-width="1.8"/>
<path d="M315.8 1267.8L309 1273.7" stroke="#3a3a3a" stroke-width="1.8"/>
<path d="M344.5 1286.6L340.9 1290" stroke="#3a3a3a" stroke-width="1.8"/>
<path d="M374 1305.9L367.4 1312" stroke="#3a3a3a" stroke-width="1.8"/>
<path d="M404 1325.5L400.4 1329" stroke="#3a3a3a" stroke-width="1.8"/>
<path d="M434.8 1345.7L428.4 1352" stroke="#3a3a3a" stroke-width="1.8"/>
<path d="M434.8 1345.7L442.3 1350.6" stroke="#3a3a3a" stroke-width="1.8"/>
<path d="M459.1 1321.5L463.3 1324.2" stroke="#3a3a3a" stroke-width="1.8"/>
<path d="M482.8 1298L490.4 1302.8" stroke="#3a3a3a" stroke-width="1.8"/>
<path d="M505.8 1275.2L510.1 1277.8" stroke="#3a3a3a" stroke-width="1.8"/>
<path d="M528.3 1252.9L536 1257.5" stroke="#3a3a3a" stroke-width="1.8"/>
<path d="M550.2 1231.2L554.5 1233.7" stroke="#3a3a3a" stroke-width="1.8"/>
<path d="M571.5 1210L579.3 1214.5" stroke="#3a3a3a" stroke-width="1.8"/>
<path d="M592.3 1189.4L596.7 1191.8" stroke="#3a3a3a" stroke-width="1.8"/>
<path d="M612.6 1169.2L620.5 1173.6" stroke="#3a3a3a" stroke-width="1.8"/>
<path d="M632.4 1149.6L636.8 1152" stroke="#3a3a3a" stroke-width="1.8"/>
<path d="M651.8 1130.4L659.7 1134.6" stroke="#3a3a3a" stroke-width="1.8"/>
<path d="M155.2 1162.7L148.1 1168.2" stroke="#3a3a3a" stroke-width="1.8"/>
<path d="M148.9 1111.7L141.7 1117" stroke="#3a3a3a" stroke-width="1.8"/>
<path d="M142.3 1057.6L135 1062.9" stroke="#3a3a3a" stroke-width="1.8"/>
<path d="M135.3 1000.3L127.9 1005.4" stroke="#3a3a3a" stroke-width="1.8"/>
<path d="M127.8 939.3L120.3 944.3" stroke="#3a3a3a" stroke-width="1.8"/>
<path d="M119.9 874.4L112.2 879.2" stroke="#3a3a3a" stroke-width="1.8"/>
</g>
<g font-family="'Liberation Sans', Arial, sans-serif" fill="#1a1a1a">
<text transform="matrix(1.0289 -0.7946 0.8367 0.5476 150 1175.1)" font-size="19.976764291050987" text-anchor="end">0</text>
<text transform="matrix(1.0878 0.7119 -0.7099 0.7043 441.5 1358.2)" font-size="19.976764291050987" text-anchor="start">0</text>
<text transform="matrix(1.0111 -0.8171 0.8367 0.5476 201.5 1208.9)" font-size="19.976764291050987" text-anchor="end">2</text>
<text transform="matrix(1.1016 0.6902 -0.7099 0.7043 489.6 1310.4)" font-size="19.976764291050987" text-anchor="start">2</text>
<text transform="matrix(0.9918 -0.8404 0.8367 0.5476 255.2 1244.1)" font-size="19.976764291050987" text-anchor="end">4</text>
<text transform="matrix(1.1143 0.6696 -0.7099 0.7043 535.3 1265)" font-size="19.976764291050987" text-anchor="start">4</text>
<text transform="matrix(0.9708 -0.8647 0.8367 0.5476 311.2 1280.9)" font-size="19.976764291050987" text-anchor="end">6</text>
<text transform="matrix(1.1259 0.6499 -0.7099 0.7043 578.7 1221.9)" font-size="19.976764291050987" text-anchor="start">6</text>
<text transform="matrix(0.9479 -0.8897 0.8367 0.5476 369.6 1319.3)" font-size="19.976764291050987" text-anchor="end">8</text>
<text transform="matrix(1.1365 0.6312 -0.7099 0.7043 619.9 1180.9)" font-size="19.976764291050987" text-anchor="start">8</text>
<text transform="matrix(0.9229 -0.9156 0.8367 0.5476 430.7 1359.3)" font-size="19.976764291050987" text-anchor="end">10</text>
<text transform="matrix(1.1462 0.6135 -0.7099 0.7043 659.1 1141.9)" font-size="19.976764291050987" text-anchor="start">10</text>
<text transform="matrix(1.0685 -0.8251 0.1216 0.9926 145.8 1177.6)" font-size="19.976764291050987" text-anchor="end">0.00</text>
<text transform="matrix(1.0823 -0.8070 0.1216 0.9926 139.4 1126.4)" font-size="19.976764291050987" text-anchor="end">0.02</text>
<text transform="matrix(1.0968 -0.7871 0.1216 0.9926 132.6 1072.1)" font-size="19.976764291050987" text-anchor="end">0.04</text>
<text transform="matrix(1.1121 -0.7653 0.1216 0.9926 125.4 1014.6)" font-size="19.976764291050987" text-anchor="end">0.06</text>
<text transform="matrix(1.1283 -0.7413 0.1216 0.9926 117.8 953.4)" font-size="19.976764291050987" text-anchor="end">0.08</text>
<text transform="matrix(1.1453 -0.7147 0.1216 0.9926 109.7 888.2)" font-size="19.976764291050987" text-anchor="end">0.10</text>
<text transform="matrix(0.9204 0.6024 -0.7550 0.6557 237.8 1292.6)" font-size="26.96863179291883" text-anchor="middle">Distance (mm)</text>
<text transform="matrix(0.7809 -0.7747 0.8617 0.5074 607 1264.6)" font-size="26.96863179291883" text-anchor="middle">Distance (mm)</text>
<text transform="matrix(-0.1277 -1.0422 0.8180 -0.5752 70.9 1035.5)" font-size="24.970955363813733" text-anchor="middle">j<tspan font-size="18.9" dy="5">z</tspan><tspan dy="-5"> (A m</tspan><tspan font-size="18.9" dy="-9">-2</tspan><tspan dy="9">)</tspan></text>
</g>
<g fill="none" stroke-linecap="square">
<path d="M1117.8 1144.8L1083.6 865.8" stroke="#d2d2d2" stroke-width="1.4"/>
<path d="M1166.1 1107.5L1140.5 830.2" stroke="#d2d2d2" stroke-width="1.4"/>
<path d="M1212.2 1071.9L1194.4 796.6" stroke="#d2d2d2" stroke-width="1.4"/>
<path d="M1256.2 1037.9L1245.5 764.8" stroke="#d2d2d2" stroke-width="1.4"/>
<path d="M1298.3 1005.5L1293.9 734.5" stroke="#d2d2d2" stroke-width="1.4"/>
<path d="M1338.5 974.4L1340 705.8" stroke="#d2d2d2" stroke-width="1.4"/>
<path d="M1117.8 1144.8L1338.5 974.4" stroke="#d2d2d2" stroke-width="1.4"/>
<path d="M1107.5 1060.9L1338.9 892.6" stroke="#d2d2d2" stroke-width="1.4"/>
<path d="M1096.2 968.4L1339.4 803.4" stroke="#d2d2d2" stroke-width="1.4"/>
<path d="M1083.6 865.8L1340 705.8" stroke="#d2d2d2" stroke-width="1.4"/>
<path d="M1338.5 974.4L1340 705.8" stroke="#d2d2d2" stroke-width="1.4"/>
<path d="M1386.7 1000.2L1395.2 729.7" stroke="#d2d2d2" stroke-width="1.4"/>
<path d="M1436.7 1027L1452.9 754.7" stroke="#d2d2d2" stroke-width="1.4"/>
<path d="M1488.6 1054.7L1513 780.7" stroke="#d2d2d2" stroke-width="1.4"/>
<path d="M1542.5 1083.6L1575.8 807.9" stroke="#d2d2d2" stroke-width="1.4"/>
<path d="M1598.5 1113.6L1641.5 836.4" stroke="#d2d2d2" stroke-width="1.4"/>
<path d="M1338.5 974.4L1598.5 1113.6" stroke="#d2d2d2" stroke-width="1.4"/>
<path d="M1338.9 892.6L1611.4 1030" stroke="#d2d2d2" stroke-width="1.4"/>
<path d="M1339.4 803.4L1625.7 938.1" stroke="#d2d2d2" stroke-width="1.4"/>
<path d="M1340 705.8L1641.5 836.4" stroke="#d2d2d2" stroke-width="1.4"/>
<path d="M1117.8 1144.8L1338.5 974.4" stroke="#d2d2d2" stroke-width="1.4"/>
<path d="M1117.8 1144.8L1388.4 1322" stroke="#d2d2d2" stroke-width="1.4"/>
<path d="M1167.5 1177.4L1386.7 1000.2" stroke="#d2d2d2" stroke-width="1.4"/>
<path d="M1166.1 1107.5L1434.9 1275.9" stroke="#d2d2d2" stroke-width="1.4"/>
<path d="M1219.2 1211.2L1436.7 1027" stroke="#d2d2d2" stroke-width="1.4"/>
<path d="M1212.2 1071.9L1478.9 1232.2" stroke="#d2d2d2" stroke-width="1.4"/>
<path d="M1273.2 1246.6L1488.6 1054.7" stroke="#d2d2d2" stroke-width="1.4"/>
<path d="M1256.2 1037.9L1520.8 1190.7" stroke="#d2d2d2" stroke-width="1.4"/>
<path d="M1329.5 1283.4L1542.5 1083.6" stroke="#d2d2d2" stroke-width="1.4"/>
<path d="M1298.3 1005.5L1560.6 1151.2" stroke="#d2d2d2" stroke-width="1.4"/>
<path d="M1388.4 1322L1598.5 1113.6" stroke="#d2d2d2" stroke-width="1.4"/>
<path d="M1338.5 974.4L1598.5 1113.6" stroke="#d2d2d2" stroke-width="1.4"/>
</g>
<path fill="#ffffff" d="M1118 1145L1388 1322L1598 1114L1338 974Z"/>
<path fill="#b0b0ff" stroke="#9a9ac8" stroke-width="0.7" d="M1305 1247l8 5 6-6-7-5zM1313 1252l8 5 6-6-8-5z"/>
<path fill="#b8b8ff" stroke="#9a9ac8" stroke-width="0.7" d="M1259 1206l7 5 7-6-8-4zM1320 1187l8 4 6-5-8-5zM1436 1210l8 5 6-6-8-5z"/>
<path fill="#c0c0ff" stroke="#9a9ac8" stroke-width="0.7" d="M1187 1190l8 5 6-6-7-4zM1252 1212l7 5 7-6-7-5zM1313 1182l7 5 6-6-7-5zM1321 1257l8 5 6-6-8-5zM1430 1216l8 5 6-6-8-5z"/>
<path fill="#c8c8ff" stroke="#9a9ac8" stroke-width="0.7" d="M1180 1186l7 4 7-5-7-5zM1367 1042l7 4 6-5-7-3zM1195 1195l7 5 7-6-8-5zM1305 1177l8 5 6-6-8-4zM1326 1181l8 5 6-6-7-5zM1312 1241l7 5 7-6-8-5zM1319 1246l8 5 7-6-8-5zM1315 1274l8 5 7-6-8-5zM1499 1115l8 5 5-6-8-4zM1444 1215l8 5 6-6-8-5z"/>
<path fill="#d0d0ff" stroke="#9a9ac8" stroke-width="0.7" d="M1366 1034l7 4 6-5-7-4zM1373 1038l7 3 5-4-6-4zM1400 1015l7 4 6-5-7-3zM1287 1139l8 4 6-5-7-5zM1294 1133l7 5 6-5-7-5zM1378 1072l8 4 5-5-7-4zM1250 1191l8 5 6-6-7-4zM1238 1213l7 5 7-6-7-5zM1245 1207l7 5 7-6-8-4zM1251 1202l8 4 6-5-7-5zM1323 1151l7 5 6-6-7-4zM1452 1050l7 4 5-5-7-4zM1416 1102l8 4 5-5-7-4zM1414 1126l7 4 6-5-7-5zM1297 1242l8 5 7-6-8-5zM1304 1236l8 5 6-6-7-5zM1336 1206l8 5 6-6-7-4zM1343 1201l7 4 7-5-8-5zM1298 1253l8 5 7-6-8-5zM1306 1258l8 5 7-6-8-5zM1307 1269l8 5 7-6-8-5zM1314 1263l8 5 7-6-8-5zM1327 1251l8 5 7-6-8-5zM1516 1077l8 4 5-5-8-4zM1469 1132l8 4 5-5-7-5zM1504 1110l8 4 5-5-7-4zM1438 1221l8 5 6-6-8-5z"/>
<path fill="#d8d8ff" stroke="#9a9ac8" stroke-width="0.7" d="M1173 1181l7 5 7-6-7-4zM1187 1180l7 5 7-6-7-4zM1280 1134l7 5 7-6-7-4zM1243 1187l7 4 7-5-7-5zM1250 1181l7 5 7-6-8-5zM1355 1092l8 4 5-5-7-4zM1384 1067l7 4 6-4-7-4zM1386 1076l7 4 6-5-8-4zM1258 1196l7 5 7-6-8-5zM1316 1147l7 4 6-5-7-5zM1322 1141l7 5 6-6-7-4zM1376 1095l7 4 6-5-8-4zM1381 1090l8 4 5-5-7-4zM1245 1218l8 5 6-6-7-5zM1298 1173l7 4 6-5-7-5zM1304 1167l7 5 7-6-8-4zM1330 1156l8 4 6-5-8-5zM1457 1045l7 4 6-4-8-4zM1319 1176l7 5 7-6-8-4zM1374 1128l7 5 6-6-7-4zM1365 1158l7 5 6-6-7-4zM1424 1106l7 4 6-5-8-4zM1408 1131l8 4 5-5-7-4zM1420 1120l7 5 6-5-8-5zM1398 1151l8 4 6-5-8-4zM1404 1146l8 4 5-5-7-5zM1416 1135l7 5 6-6-8-4zM1421 1130l8 4 6-5-8-4zM1350 1205l8 5 6-6-7-4zM1412 1150l7 5 6-6-8-4zM1423 1140l8 4 6-5-8-5zM1474 1093l8 5 5-5-7-4zM1476 1103l8 4 5-5-7-4zM1461 1127l8 5 6-6-8-4zM1489 1102l8 4 5-5-7-4zM1322 1268l8 5 6-6-7-5zM1329 1262l7 5 7-6-8-5zM1524 1081l7 4 5-5-7-4zM1323 1279l8 5 7-6-8-5zM1330 1273l8 5 6-6-8-5zM1410 1223l8 5 6-6-8-5zM1418 1228l8 5 6-6-8-5zM1424 1222l8 5 6-6-8-5zM1442 1204l8 5 6-5-8-5zM1395 1263l8 5 6-6-8-5zM1450 1209l8 5 6-6-8-4zM1559 1116l8 4 5-5-8-4zM1570 1106l8 4 5-5-8-4zM1404 1279l9 5 6-6-8-5zM1578 1110l7 4 6-5-8-4zM1474 1224l8 5 6-6-8-5zM1480 1218l8 5 6-6-8-5zM1585 1114l8 5 5-5-7-5z"/>
<path fill="#e0e0ff" stroke="#9a9ac8" stroke-width="0.7" d="M1311 996l6 3 6-4-7-4zM1180 1176l7 4 7-5-7-5zM1360 1038l7 4 6-4-7-4zM1362 1047l7 4 5-5-7-4zM1202 1200l7 5 7-6-7-5zM1287 1129l7 4 6-5-7-4zM1324 1108l8 4 6-5-8-4zM1301 1138l7 4 6-5-7-4zM1257 1186l7 4 7-5-7-5zM1363 1096l7 4 6-5-8-4zM1368 1091l8 4 5-5-7-4zM1387 1085l7 4 6-5-7-4zM1265 1201l8 4 6-5-7-5zM1291 1178l8 5 6-6-7-4zM1353 1125l8 4 6-5-8-4zM1383 1099l7 4 6-5-7-4zM1389 1094l7 4 6-5-8-4zM1439 1051l7 4 6-5-8-4zM1444 1046l8 4 5-5-7-3zM1259 1217l8 5 7-6-8-5zM1311 1172l8 4 6-5-7-5zM1361 1129l7 4 6-5-7-4zM1367 1124l7 4 6-5-7-4zM1446 1055l7 4 6-5-7-4zM1306 1188l8 4 6-5-7-5zM1368 1133l7 5 6-5-7-5zM1314 1192l7 5 7-6-8-4zM1357 1154l8 4 6-5-8-5zM1411 1107l7 4 6-5-8-4zM1422 1097l7 4 6-5-7-4zM1328 1191l7 5 6-6-7-4zM1334 1186l7 4 7-5-8-5zM1371 1153l7 4 6-5-7-5zM1418 1111l7 4 6-5-7-4zM1429 1101l8 4 5-5-7-4zM1463 1071l7 4 5-4-7-4zM1296 1231l8 5 7-6-8-5zM1378 1157l8 5 6-6-8-4zM1311 1230l7 5 7-6-8-5zM1324 1218l7 5 7-6-8-5zM1330 1212l8 5 6-6-8-5zM1392 1156l8 5 6-6-8-4zM1410 1140l7 5 6-5-7-5zM1461 1094l8 4 5-5-7-4zM1325 1229l8 5 6-6-8-5zM1331 1223l8 5 6-6-7-5zM1344 1211l8 5 6-6-8-5zM1406 1155l7 5 6-5-7-5zM1417 1145l8 4 6-5-8-4zM1469 1098l7 5 6-5-8-5zM1431 1144l7 4 6-5-7-4zM1482 1098l7 4 6-5-8-4zM1487 1093l8 4 5-5-8-4zM1391 1192l8 5 6-6-8-4zM1467 1122l8 4 5-5-7-4zM1484 1107l7 4 6-5-8-4zM1495 1097l7 4 6-5-8-4zM1335 1256l8 5 7-6-8-5zM1463 1137l8 4 6-5-8-4zM1475 1126l7 5 6-5-8-5zM1491 1111l8 4 5-5-7-4zM1497 1106l7 4 6-5-8-4zM1502 1101l8 4 5-5-7-4zM1510 1105l7 4 6-5-8-4zM1331 1284l8 6 7-7-8-5zM1467 1156l8 5 6-6-8-4zM1512 1114l8 5 5-5-8-5zM1517 1109l8 5 6-5-8-5zM1404 1229l8 5 6-6-8-5zM1422 1211l8 5 6-6-8-5zM1428 1205l8 5 6-6-8-4zM1412 1234l8 5 6-6-8-5zM1401 1257l8 5 6-6-8-5zM1480 1181l7 5 6-6-8-5zM1396 1274l8 5 7-6-8-5zM1403 1268l8 5 6-6-8-5zM1564 1111l8 4 6-5-8-4zM1567 1120l8 5 5-5-8-5zM1486 1212l8 5 6-6-8-5z"/>
<path fill="#e8e8ff" stroke="#9a9ac8" stroke-width="0.7" d="M1299 1005l7 3 6-4-7-4zM1305 1000l7 4 5-5-6-3zM1353 989l7 4 5-4-7-4zM1394 1011l6 4 6-4-7-4zM1194 1185l7 4 7-5-7-5zM1201 1189l8 5 6-6-7-4zM1310 1099l7 4 6-5-7-4zM1407 1019l7 3 6-4-7-4zM1261 1150l7 5 7-6-7-4zM1274 1140l7 4 6-5-7-5zM1317 1103l7 5 6-5-7-5zM1242 1176l8 5 6-6-7-4zM1268 1155l8 4 6-5-7-5zM1275 1149l7 5 6-6-7-4zM1281 1144l7 4 7-5-8-4zM1300 1128l7 5 6-6-7-4zM1342 1093l7 4 6-5-7-4zM1348 1088l7 4 6-5-7-4zM1282 1154l7 4 7-5-8-5zM1307 1133l7 4 7-5-8-5zM1349 1097l8 4 6-5-8-4zM1361 1087l7 4 6-5-7-4zM1224 1214l7 5 7-6-8-5zM1230 1208l8 5 7-6-8-4zM1244 1197l7 5 7-6-8-5zM1308 1142l8 5 6-6-8-4zM1314 1137l8 4 6-5-7-4zM1380 1081l7 4 6-5-7-4zM1391 1071l8 4 5-4-7-4zM1231 1219l7 5 7-6-7-5zM1346 1120l7 5 6-5-7-5zM1238 1224l8 5 7-6-8-5zM1317 1156l7 5 6-5-7-5zM1329 1146l7 4 7-5-8-5zM1450 1042l7 3 5-4-7-4zM1253 1223l7 5 7-6-8-5zM1299 1183l7 5 7-6-8-5zM1373 1119l7 4 6-5-8-4zM1380 1123l7 4 6-5-7-4zM1403 1103l8 4 5-5-7-4zM1409 1098l7 4 6-5-7-4zM1432 1078l7 4 5-5-7-4zM1351 1159l8 5 6-6-8-4zM1363 1148l8 5 6-6-8-4zM1369 1143l8 4 6-5-8-4zM1401 1126l7 5 6-5-8-5zM1303 1225l8 5 6-6-8-5zM1402 1136l8 4 6-5-8-4zM1470 1075l7 5 6-5-8-4zM1291 1248l7 5 7-6-8-5zM1317 1224l8 5 6-6-7-5zM1386 1162l8 4 6-5-8-5zM1427 1125l8 4 6-5-8-4zM1467 1089l7 4 6-4-8-5zM1472 1084l8 5 5-5-8-4zM1318 1235l8 5 7-6-8-5zM1429 1134l8 5 5-6-7-4zM1480 1089l7 4 5-5-7-4zM1333 1234l7 5 7-6-8-5zM1383 1188l8 4 6-5-8-5zM1425 1149l8 5 5-6-7-4zM1454 1123l7 4 6-5-8-4zM1334 1245l8 5 6-6-8-5zM1340 1239l8 5 7-6-8-5zM1397 1187l8 4 6-5-8-5zM1456 1133l7 4 6-5-8-5zM1511 1082l7 4 6-5-8-4zM1388 1219l8 5 6-6-8-5zM1394 1213l8 5 6-6-8-5zM1460 1152l7 4 6-5-8-4zM1477 1136l7 4 6-5-8-4zM1338 1278l8 5 6-6-8-5zM1402 1218l8 5 6-6-8-5zM1462 1162l8 4 5-5-8-5zM1507 1120l7 4 6-5-8-5zM1339 1290l8 5 7-6-8-6zM1416 1217l8 5 6-6-8-5zM1434 1200l8 4 6-5-8-5zM1525 1114l8 4 5-5-7-4zM1531 1109l7 4 6-5-8-5zM1546 1093l8 5 5-5-7-4zM1361 1282l8 6 6-7-8-5zM1367 1276l8 5 7-6-8-5zM1380 1264l8 5 7-6-9-5zM1386 1258l9 5 6-6-8-5zM1388 1269l8 5 7-6-8-5zM1432 1227l8 5 6-6-8-5zM1485 1175l8 5 6-5-8-5zM1551 1112l8 4 5-5-7-4zM1562 1102l8 4 5-5-8-4zM1487 1186l8 4 6-5-8-5zM1398 1286l8 5 7-7-9-5zM1411 1273l8 5 6-6-8-5zM1436 1249l8 5 6-7-8-5zM1466 1219l8 5 6-6-8-5zM1472 1213l8 5 6-6-8-5zM1572 1115l8 5 5-6-7-4zM1406 1291l9 5 6-6-8-6zM1413 1284l8 6 6-7-8-5zM1468 1230l9 5 5-6-8-5zM1492 1206l8 5 6-6-8-4zM1575 1125l8 4 5-5-8-4zM1580 1120l8 4 5-5-8-5z"/>
<path fill="#f0f0ff" stroke="#9a9ac8" stroke-width="0.7" d="M1294 1009l6 4 6-5-7-3zM1317 999l7 4 6-4-7-4zM1341 990l6 4 6-5-7-3zM1346 986l7 3 5-4-6-4zM1166 1176l7 5 7-5-7-5zM1173 1171l7 5 7-6-7-5zM1372 1029l7 4 5-5-7-3zM1379 1033l6 4 6-5-7-4zM1395 1019l7 4 5-4-7-4zM1304 1104l7 5 6-6-7-4zM1209 1194l7 5 7-6-8-5zM1268 1145l7 4 6-5-7-4zM1293 1124l7 4 6-5-7-4zM1236 1182l7 5 7-6-8-5zM1330 1103l8 4 6-5-8-4zM1336 1098l8 4 5-5-7-4zM1371 1068l7 4 6-5-7-4zM1377 1063l7 4 6-4-7-4zM1288 1148l8 5 6-6-7-4zM1295 1143l7 4 6-5-7-4zM1237 1203l8 4 6-5-7-5zM1374 1086l7 4 6-5-7-4zM1264 1190l8 5 6-6-7-4zM1297 1163l7 4 6-5-7-5zM1328 1136l7 4 6-5-7-4zM1340 1126l7 4 6-5-7-5zM1370 1100l7 4 6-5-7-4zM1310 1162l8 4 6-5-7-5zM1359 1120l8 4 6-5-8-5zM1394 1089l8 4 5-4-7-5zM1246 1229l7 5 7-6-7-5zM1266 1211l8 5 6-6-7-5zM1324 1161l7 4 7-5-8-4zM1378 1114l8 4 6-5-8-4zM1396 1098l7 5 6-5-7-5zM1441 1059l7 4 5-4-7-4zM1253 1234l8 5 7-6-8-5zM1338 1160l7 5 6-6-7-4zM1362 1139l7 4 6-5-7-5zM1386 1118l7 4 6-5-7-4zM1426 1083l7 4 6-5-7-4zM1464 1049l8 4 5-5-7-3zM1375 1138l8 4 6-5-8-4zM1387 1127l8 5 6-6-8-4zM1428 1092l7 4 6-5-8-4zM1433 1087l8 4 5-5-7-4zM1439 1082l7 4 6-5-8-4zM1455 1067l8 4 5-4-7-4zM1289 1226l7 5 7-6-8-5zM1359 1164l7 4 6-5-7-5zM1377 1147l7 5 6-5-7-5zM1395 1132l7 4 6-5-7-5zM1406 1121l8 5 6-6-8-4zM1412 1116l8 4 5-5-7-4zM1435 1096l7 4 6-5-7-4zM1468 1067l7 4 6-5-8-4zM1329 1202l7 4 7-5-8-5zM1335 1196l8 5 6-6-8-5zM1372 1163l8 4 6-5-8-5zM1384 1152l8 4 6-5-8-4zM1390 1147l8 4 6-5-8-5zM1396 1141l8 5 6-6-8-4zM1425 1115l8 5 6-6-8-4zM1431 1110l8 4 5-5-7-4zM1437 1105l7 4 6-5-8-4zM1349 1195l8 5 6-6-8-5zM1456 1099l7 4 6-5-8-4zM1477 1080l8 4 5-5-7-4zM1338 1217l7 5 7-6-8-5zM1400 1161l7 4 6-5-7-5zM1300 1264l7 5 7-6-8-5zM1326 1240l8 5 6-6-7-5zM1339 1228l8 5 6-6-8-5zM1377 1193l8 5 6-6-8-4zM1437 1139l7 4 6-5-8-5zM1342 1250l8 5 6-6-8-5zM1417 1180l8 5 5-6-7-4zM1452 1147l8 5 5-5-7-5zM1458 1142l7 5 6-6-8-4zM1336 1267l8 5 7-6-8-5zM1425 1185l7 4 6-5-8-5zM1430 1179l8 5 6-6-8-4zM1454 1157l8 5 5-6-7-4zM1482 1131l8 4 6-5-8-4zM1493 1120l8 5 6-5-8-5zM1396 1224l8 5 6-6-8-5zM1539 1089l7 4 6-4-8-5zM1475 1161l8 4 6-5-8-5zM1393 1252l8 5 6-6-8-5zM1472 1176l8 5 5-6-8-4zM1538 1113l8 4 5-5-7-4zM1407 1251l8 5 7-6-9-5zM1390 1280l8 6 6-7-8-5zM1409 1262l8 5 6-6-8-5zM1458 1214l8 5 6-6-8-5zM1532 1142l8 5 6-6-8-4zM1430 1255l8 5 6-6-8-5zM1478 1207l8 5 6-6-8-4zM1535 1152l8 4 5-5-8-4zM1540 1147l8 4 6-5-8-5zM1419 1278l8 5 7-6-9-5zM1438 1260l8 5 6-6-8-5zM1444 1254l8 5 6-6-8-6zM1504 1195l8 5 5-6-8-5zM1526 1173l8 4 6-5-8-5zM1570 1130l8 4 5-5-8-4z"/>
<path fill="#f8f8ff" stroke="#9a9ac8" stroke-width="0.7" d="M1276 1022l7 4 6-4-7-4zM1282 1018l7 4 6-5-7-4zM1288 1013l7 4 5-4-6-4zM1316 991l7 4 6-4-7-4zM1323 995l7 4 5-5-6-3zM1334 986l7 4 5-4-6-4zM1335 994l7 4 5-4-6-4zM1347 994l7 3 6-4-7-4zM1166 1166l7 5 7-6-7-4zM1374 1046l7 4 6-5-7-4zM1391 1032l7 4 6-4-7-4zM1397 1028l7 4 5-5-7-4zM1255 1156l7 4 6-5-7-5zM1311 1109l7 4 6-5-7-5zM1335 1089l7 4 6-5-7-4zM1398 1036l7 4 6-5-7-3zM1209 1205l7 4 7-5-7-5zM1249 1171l7 4 7-5-7-5zM1318 1113l8 4 6-5-8-4zM1354 1083l7 4 6-5-7-4zM1400 1045l7 3 5-4-7-4zM1405 1040l7 4 6-5-7-4zM1216 1209l8 5 6-6-7-4zM1276 1159l7 5 6-6-7-4zM1332 1112l7 4 6-5-7-4zM1390 1063l7 4 6-5-8-4zM1428 1030l8 4 5-5-7-4zM1289 1158l8 5 6-6-7-4zM1321 1132l7 4 6-5-7-5zM1333 1121l7 5 6-6-7-4zM1339 1116l7 4 6-5-7-4zM1357 1101l7 4 6-5-7-4zM1436 1034l7 4 5-5-7-4zM1309 1152l8 4 6-5-7-4zM1334 1131l7 4 6-5-7-4zM1352 1115l7 5 6-6-7-4zM1393 1080l7 4 6-4-7-5zM1272 1195l7 5 7-6-8-5zM1285 1184l7 4 7-5-8-5zM1377 1104l7 5 6-6-7-4zM1434 1056l7 3 5-4-7-4zM1384 1109l8 4 5-5-7-5zM1390 1103l7 5 6-5-7-5zM1402 1093l7 5 6-5-8-4zM1424 1074l8 4 5-5-7-4zM1344 1155l7 4 6-5-7-5zM1415 1093l7 4 6-5-8-4zM1448 1063l7 4 6-4-8-4zM1453 1059l8 4 5-5-7-4zM1459 1054l7 4 6-5-8-4zM1261 1239l8 5 6-6-7-5zM1333 1175l7 5 6-5-7-5zM1345 1165l8 4 6-5-8-5zM1381 1133l8 4 6-5-8-5zM1393 1122l8 4 5-5-7-4zM1461 1063l7 4 5-5-7-4zM1295 1220l8 5 6-6-7-5zM1321 1197l8 5 6-6-7-5zM1340 1180l8 5 6-6-8-4zM1383 1142l7 5 6-6-7-4zM1290 1237l7 5 7-6-8-5zM1309 1219l8 5 7-6-8-5zM1322 1207l8 5 6-6-7-4zM1341 1190l8 5 6-6-7-4zM1348 1185l7 4 7-5-8-5zM1475 1071l8 4 5-5-7-4zM1284 1254l8 5 6-6-7-5zM1292 1259l8 5 6-6-8-5zM1357 1200l7 4 7-5-8-5zM1394 1166l7 5 6-6-7-4zM1435 1129l7 4 6-5-7-4zM1463 1103l8 5 5-5-7-5zM1419 1155l8 4 6-5-8-5zM1459 1118l8 4 6-5-8-4zM1471 1108l7 4 6-5-8-4zM1347 1233l8 5 6-6-8-5zM1385 1198l7 5 7-6-8-5zM1403 1181l8 5 6-6-8-5zM1409 1175l8 5 6-5-8-5zM1438 1148l8 5 6-6-8-4zM1444 1143l8 4 6-5-8-4zM1473 1117l7 4 6-5-8-4zM1478 1112l8 4 5-5-7-4zM1500 1092l8 4 5-5-8-4zM1348 1244l8 5 7-6-8-5zM1380 1214l8 5 6-6-8-5zM1399 1197l7 5 6-6-7-5zM1411 1186l8 4 6-5-8-5zM1423 1175l7 4 6-5-7-5zM1518 1086l8 4 5-5-7-4zM1343 1261l8 5 7-6-8-5zM1400 1207l8 5 6-6-8-4zM1436 1174l8 4 6-5-8-5zM1465 1147l8 4 6-5-8-5zM1471 1141l8 5 5-6-7-4zM1344 1272l8 5 7-6-8-5zM1408 1212l8 5 6-6-8-5zM1414 1206l8 5 6-6-8-4zM1420 1201l8 4 6-5-8-5zM1426 1195l8 5 6-6-8-5zM1432 1189l8 5 6-6-8-4zM1456 1167l8 5 6-6-8-4zM1473 1151l8 4 6-5-8-4zM1484 1140l8 5 6-6-8-4zM1523 1104l8 5 5-6-8-4zM1346 1283l8 6 7-7-9-5zM1352 1277l9 5 6-6-8-5zM1359 1271l8 5 7-6-8-5zM1372 1259l8 5 6-6-8-5zM1470 1166l7 5 6-6-8-4zM1481 1155l8 5 5-5-7-5zM1399 1246l8 5 6-6-8-5zM1405 1240l8 5 7-6-8-5zM1477 1171l8 4 6-5-8-5zM1533 1118l8 4 5-5-8-4zM1554 1098l8 4 5-5-8-4zM1375 1281l8 6 7-7-8-5zM1382 1275l8 5 6-6-8-5zM1413 1245l9 5 6-7-8-4zM1420 1239l8 4 6-5-8-5zM1426 1233l8 5 6-6-8-5zM1524 1138l8 4 6-5-8-5zM1530 1132l8 5 5-5-8-5zM1557 1107l7 4 6-5-8-4zM1415 1256l8 5 7-6-8-5zM1422 1250l8 5 6-6-8-6zM1428 1243l8 6 6-7-8-4zM1452 1220l8 5 6-6-8-5zM1493 1180l8 5 6-6-8-4zM1527 1147l8 5 5-5-8-5zM1417 1267l8 5 7-6-9-5zM1423 1261l9 5 6-6-8-5zM1460 1225l8 5 6-6-8-5zM1495 1190l9 5 5-6-8-4zM1562 1126l8 4 5-5-8-5zM1425 1272l9 5 6-6-8-5zM1432 1266l8 5 6-6-8-5zM1532 1167l8 5 5-6-8-4zM1548 1151l8 4 6-5-8-4zM1554 1146l8 4 5-5-8-5zM1559 1140l8 5 5-6-8-4zM1564 1135l8 4 6-5-8-4z"/>
<path fill="#ffe8e8" stroke="#ffe8e8" stroke-width="0.7" d="M1378 1305l9 5 6-6-8-6z"/>
<path fill="#fff0f0" stroke="#fff0f0" stroke-width="0.7" d="M1222 1064l7 4 6-5-7-4zM1265 1040l7 4 6-5-7-4zM1271 1035l7 4 6-4-7-4zM1301 1021l7 4 6-5-7-4zM1145 1153l7 4 7-5-7-4zM1337 1057l7 4 6-5-7-4zM1364 1306l8 5 6-6-8-6zM1370 1299l8 6 7-7-8-5zM1372 1311l8 6 7-7-9-5zM1385 1298l8 6 7-7-8-5zM1380 1317l8 5 7-7-8-5zM1387 1310l8 5 7-6-9-5z"/>
<path fill="#fff8f8" stroke="#fff8f8" stroke-width="0.7" d="M1228 1059l7 4 6-4-7-4zM1234 1055l7 4 6-5-6-4zM1259 1036l6 4 6-5-6-3zM1265 1032l6 3 6-4-7-4zM1277 1031l7 4 6-5-7-4zM1307 1016l7 4 5-4-6-4zM1313 1012l6 4 6-5-7-3zM1318 1008l7 3 6-4-7-4zM1138 1158l7 5 7-6-7-4zM1336 1002l7 4 6-4-7-4zM1145 1163l7 4 7-5-7-5zM1152 1157l7 5 7-6-7-4zM1159 1152l7 4 6-5-6-4zM1349 1002l6 3 6-4-7-4zM1354 997l7 4 5-4-6-4zM1152 1167l7 5 7-6-7-4zM1166 1156l7 5 6-5-7-5zM1355 1005l7 4 6-4-7-4zM1361 1001l7 4 5-5-7-3zM1366 997l7 3 6-4-7-4zM1173 1161l7 4 6-5-7-4zM1362 1009l7 4 5-5-6-3zM1368 1005l6 3 6-4-7-4zM1373 1000l7 4 5-5-6-3zM1180 1165l7 5 6-5-7-5zM1369 1013l7 3 5-4-7-4zM1374 1008l7 4 6-4-7-4zM1380 1004l7 4 5-5-7-4zM1187 1170l7 5 7-6-8-4zM1370 1021l7 4 6-5-7-4zM1376 1016l7 4 5-4-7-4zM1194 1175l7 4 7-5-7-5zM1343 1052l7 4 6-4-7-4zM1349 1048l7 4 6-5-7-4zM1377 1025l7 3 6-4-7-4zM1383 1020l7 4 5-5-7-3zM1201 1179l7 5 7-6-7-4zM1297 1100l7 4 6-5-7-4zM1303 1095l7 4 6-5-7-4zM1309 1090l7 4 6-5-7-4zM1315 1085l7 4 6-5-7-4zM1321 1080l7 4 6-4-7-5zM1327 1075l7 5 6-5-7-4zM1344 1061l7 4 6-5-7-4zM1208 1184l7 4 7-5-7-5zM1273 1130l7 4 7-5-8-4zM1279 1125l8 4 6-5-7-4zM1222 1183l7 5 7-6-7-5zM1229 1177l7 5 6-6-7-4zM1235 1172l7 4 7-5-7-5zM1242 1166l7 5 7-6-8-4zM1409 1027l7 4 5-5-7-4zM1414 1022l7 4 6-4-7-4zM1416 1031l7 4 5-5-7-4zM1421 1026l7 4 6-5-7-3zM1263 1170l7 5 7-6-8-4zM1269 1165l8 4 6-5-7-5zM1395 1058l8 4 5-5-7-4zM1401 1053l7 4 6-5-7-4zM1407 1048l7 4 5-4-7-4zM1270 1175l7 4 7-5-7-5zM1277 1169l7 5 6-6-7-4zM1403 1062l7 4 5-5-7-4zM1408 1057l7 4 6-5-7-4zM1414 1052l7 4 5-4-7-4zM1419 1048l7 4 6-5-7-4zM1277 1179l8 5 6-6-7-4zM1399 1075l7 5 5-5-7-4zM1404 1071l7 4 6-5-7-4zM1341 1135l8 5 6-6-8-4zM1406 1080l7 4 6-5-8-4zM1411 1075l8 4 5-5-7-4zM1343 1145l7 4 6-5-7-4zM1349 1140l7 4 6-5-7-5zM1407 1089l8 4 5-5-7-4zM1274 1216l7 5 7-6-8-5zM1280 1210l8 5 6-6-7-4zM1287 1205l7 4 7-5-8-5zM1268 1233l7 5 7-6-8-5zM1274 1227l8 5 7-6-8-5zM1288 1215l7 5 7-6-8-5zM1294 1209l8 5 6-6-7-4zM1275 1238l8 5 7-6-8-5zM1308 1208l8 5 6-6-7-4zM1452 1081l7 4 6-5-8-4zM1459 1085l8 4 5-5-7-4zM1368 1178l7 5 7-6-8-4zM1374 1173l8 4 6-5-8-5zM1488 1070l8 4 5-5-7-4zM1382 1177l7 5 6-6-7-4zM1388 1172l7 4 6-5-7-5zM1457 1109l8 4 6-5-8-5zM1490 1079l8 4 5-5-7-4zM1496 1074l7 4 5-5-7-4zM1501 1069l7 4 6-5-8-4zM1353 1227l8 5 6-6-7-5zM1360 1221l7 5 7-6-8-5zM1421 1165l8 4 6-5-8-5zM1355 1238l8 5 6-6-8-5zM1361 1232l8 5 6-6-8-5zM1367 1226l8 5 7-6-8-5zM1440 1158l8 5 6-6-8-4zM1513 1091l8 4 5-5-8-4zM1363 1243l7 5 7-6-8-5zM1369 1237l8 5 6-6-8-5zM1375 1231l8 5 6-6-7-5zM1521 1095l7 4 5-5-7-4zM1526 1090l7 4 6-5-8-4zM1370 1248l8 5 7-6-8-5zM1377 1242l8 5 6-6-8-5zM1383 1236l8 5 6-6-8-5zM1389 1230l8 5 7-6-8-5zM1496 1130l7 4 6-5-8-4zM1528 1099l8 4 5-5-8-4zM1391 1241l8 5 6-6-8-5zM1446 1188l8 5 6-6-8-4zM1452 1183l8 4 6-5-8-5zM1498 1139l8 5 5-5-8-5zM1503 1134l8 5 6-6-8-4zM1509 1129l8 4 5-5-8-4zM1514 1124l8 4 6-5-8-4zM1454 1193l8 5 6-6-8-5zM1460 1187l8 5 6-5-8-5zM1500 1149l8 5 5-6-7-4zM1506 1144l7 4 6-5-8-4zM1511 1139l8 4 5-5-7-5zM1355 1300l9 6 6-7-8-5zM1362 1294l8 5 7-6-8-5zM1462 1198l8 5 6-6-8-5zM1468 1192l8 5 6-6-8-4zM1497 1164l8 5 5-5-8-5zM1502 1159l8 5 6-6-8-4zM1508 1154l8 4 5-5-8-5zM1513 1148l8 5 6-6-8-4zM1541 1122l8 4 5-5-8-4zM1377 1293l8 5 7-6-9-5zM1470 1203l8 4 6-5-8-5zM1476 1197l8 5 6-6-8-5zM1482 1191l8 5 5-6-8-4zM1499 1175l8 4 6-5-8-5zM1505 1169l8 5 5-6-8-4zM1510 1164l8 4 6-5-8-5zM1543 1132l8 4 5-5-7-5zM1549 1126l7 5 6-5-8-5zM1448 1237l8 4 6-5-8-5zM1454 1231l8 5 6-6-8-5zM1507 1179l8 5 6-6-8-4zM1513 1174l8 4 5-5-8-5zM1556 1131l8 4 6-5-8-4zM1393 1304l9 5 6-7-8-5zM1515 1184l8 4 6-5-8-5z"/>
<path fill="none" stroke="#334" stroke-opacity="0.6" stroke-width="0.6" d="M1117.8 1144.8L1338.5 974.4M1117.8 1144.8L1388.4 1322.0M1122.9 1148.2L1343.4 977.1M1122.9 1140.9L1393.4 1317.1M1128.0 1151.5L1348.4 979.7M1128.0 1136.9L1398.3 1312.2M1133.1 1154.9L1353.3 982.4M1133.1 1133.0L1403.2 1307.3M1138.2 1158.2L1358.3 985.1M1138.2 1129.1L1408.1 1302.5M1143.4 1161.6L1363.4 987.7M1143.2 1125.2L1412.9 1297.7M1148.6 1165.0L1368.4 990.4M1148.3 1121.3L1417.7 1292.9M1153.8 1168.4L1373.4 993.1M1153.3 1117.4L1422.5 1288.1M1159.0 1171.8L1378.5 995.9M1158.2 1113.6L1427.3 1283.4M1164.3 1175.3L1383.6 998.6M1163.2 1109.8L1432.0 1278.7M1169.6 1178.7L1388.7 1001.3M1168.1 1106.0L1436.7 1274.0M1174.9 1182.2L1393.9 1004.1M1173.0 1102.2L1441.4 1269.4M1180.2 1185.7L1399.0 1006.8M1177.9 1098.5L1446.1 1264.7M1185.5 1189.2L1404.2 1009.6M1182.7 1094.7L1450.7 1260.1M1190.9 1192.7L1409.4 1012.4M1187.5 1091.0L1455.3 1255.6M1196.3 1196.2L1414.6 1015.1M1192.3 1087.3L1459.9 1251.0M1201.7 1199.8L1419.8 1017.9M1197.1 1083.6L1464.5 1246.5M1207.2 1203.4L1425.0 1020.8M1201.8 1079.9L1469.0 1242.0M1212.6 1206.9L1430.3 1023.6M1206.6 1076.3L1473.5 1237.5M1218.1 1210.5L1435.6 1026.4M1211.3 1072.6L1478.0 1233.1M1223.6 1214.1L1440.9 1029.3M1216.0 1069.0L1482.5 1228.6M1229.2 1217.8L1446.3 1032.1M1220.6 1065.4L1486.9 1224.2M1234.7 1221.4L1451.6 1035.0M1225.3 1061.8L1491.4 1219.8M1240.3 1225.0L1457.0 1037.8M1229.9 1058.3L1495.7 1215.5M1245.9 1228.7L1462.4 1040.7M1234.5 1054.7L1500.1 1211.1M1251.6 1232.4L1467.8 1043.6M1239.0 1051.2L1504.5 1206.8M1257.2 1236.1L1473.2 1046.5M1243.6 1047.7L1508.8 1202.5M1262.9 1239.8L1478.7 1049.5M1248.1 1044.2L1513.1 1198.3M1268.6 1243.6L1484.2 1052.4M1252.6 1040.7L1517.4 1194.0M1274.3 1247.3L1489.7 1055.3M1257.1 1037.2L1521.6 1189.8M1280.1 1251.1L1495.2 1058.3M1261.6 1033.8L1525.9 1185.6M1285.9 1254.9L1500.7 1061.3M1266.0 1030.4L1530.1 1181.4M1291.7 1258.7L1506.3 1064.2M1270.4 1026.9L1534.3 1177.3M1297.6 1262.5L1511.9 1067.2M1274.8 1023.5L1538.4 1173.1M1303.4 1266.3L1517.5 1070.2M1279.2 1020.2L1542.6 1169.0M1309.3 1270.2L1523.1 1073.3M1283.6 1016.8L1546.7 1164.9M1315.2 1274.1L1528.8 1076.3M1287.9 1013.4L1550.8 1160.9M1321.2 1278.0L1534.5 1079.3M1292.2 1010.1L1554.9 1156.8M1327.1 1281.9L1540.2 1082.4M1296.5 1006.8L1559.0 1152.8M1333.1 1285.8L1545.9 1085.4M1300.8 1003.5L1563.0 1148.8M1339.2 1289.7L1551.6 1088.5M1305.1 1000.2L1567.0 1144.8M1345.2 1293.7L1557.4 1091.6M1309.3 996.9L1571.0 1140.8M1351.3 1297.7L1563.2 1094.7M1313.5 993.7L1575.0 1136.9M1357.4 1301.7L1569.0 1097.8M1317.7 990.4L1579.0 1132.9M1363.6 1305.7L1574.9 1100.9M1321.9 987.2L1582.9 1129.0M1369.7 1309.7L1580.7 1104.1M1326.1 984.0L1586.8 1125.1M1375.9 1313.8L1586.6 1107.2M1330.2 980.8L1590.7 1121.3M1382.2 1317.9L1592.5 1110.4M1334.4 977.6L1594.6 1117.4M1388.4 1322.0L1598.5 1113.6M1338.5 974.4L1598.5 1113.6"/>
<g stroke="#334" stroke-opacity="0.6" stroke-width="0.6" stroke-linejoin="round">
<path fill="#e0d8d8" d="M1343 1001l7-7 5 10-6-4zM1331 1002l7-7 5 6-7 1z"/>
<path fill="#e0d0d0" d="M1350 994l7 0 5 8-7 2zM1325 1008l7-19 6 6-7 7zM1357 994l7 4 5 9-7-5z"/>
<path fill="#f0e8e8" d="M1364 998l6 19 6-6-7-4z"/>
<path fill="#e0c0c0" d="M1338 995l7-24 5 23-7 7z"/>
<path fill="#e0c8c8" d="M1319 1008l7-19 6 0-7 19z"/>
<path fill="#f8f0f0" d="M1365 1011l6 21 6-10-7-5z"/>
<path fill="#e0d8d8" d="M1295 1026l7-11 6-1-7 5z"/>
<path fill="#e0a8a8" d="M1345 971l7-4 5 27-7 0z"/>
<path fill="#e0c0c0" d="M1314 1010l6-26 6 5-7 19z"/>
<path fill="#e0d0d0" d="M1290 1026l6-13 6 2-7 11z"/>
<path fill="#f0c8c8" d="M1358 980l7 31 5 6-6-19z"/>
<path fill="#f8e8e8" d="M1359 1010l7 25 5-3-6-21z"/>
<path fill="#e0a8a8" d="M1332 989l7-24 6 6-7 24zM1352 967l6 13 6 18-7-4z"/>
<path fill="#f0e0e0" d="M1354 1008l6 28 6-1-7-25z"/>
<path fill="#e0b8b8" d="M1308 1014l6-30 6 0-6 26z"/>
<path fill="#e0c8c8" d="M1284 1029l6-20 6 4-6 13z"/>
<path fill="#e0a0a0" d="M1326 989l7-24 6 0-7 24z"/>
<path fill="#e0b0b0" d="M1302 1015l6-31 6 0-6 30z"/>
<path fill="#e0d0d0" d="M1259 1042l6-11 7 0-7 7z"/>
<path fill="#f0b8b8" d="M1353 973l6 37 6 1-7-31z"/>
<path fill="#f0d8d8" d="M1348 1007l7 30 5-1-6-28z"/>
<path fill="#e09090" d="M1339 965l7-3 6 5-7 4z"/>
<path fill="#e09898" d="M1320 984l7-15 6-4-7 24z"/>
<path fill="#e0c0c0" d="M1278 1029l6-22 6 2-6 20z"/>
<path fill="#e0d0d0" d="M1253 1046l6-17 6 2-6 11z"/>
<path fill="#f8d0d0" d="M1342 1007l7 32 6-2-7-30z"/>
<path fill="#e0a8a8" d="M1296 1013l6-28 6-1-6 31z"/>
<path fill="#e0b8b8" d="M1272 1031l6-26 6 2-6 22z"/>
<path fill="#f09898" d="M1346 962l7 11 5 7-6-13z"/>
<path fill="#f0b0b0" d="M1347 975l7 33 5 2-6-37z"/>
<path fill="#e09090" d="M1314 984l7-12 6-3-7 15z"/>
<path fill="#e0a0a0" d="M1290 1009l6-22 6-2-6 28z"/>
<path fill="#e0c8c8" d="M1247 1050l6-20 6-1-6 17z"/>
<path fill="#e88888" d="M1333 965l7 0 6-3-7 3z"/>
<path fill="#f0a8a8" d="M1341 978l7 29 6 1-7-33z"/>
<path fill="#f0c8c8" d="M1337 1006l6 37 6-4-7-32z"/>
<path fill="#f8e8e8" d="M1332 1046l7 23 5-11-6-15z"/>
<path fill="#e08888" d="M1308 984l7-7 6-5-7 12z"/>
<path fill="#e0b0b0" d="M1265 1031l6-26 7 0-6 26z"/>
<path fill="#e0c0c0" d="M1241 1052l5-23 7 1-6 20z"/>
<path fill="#e0d0d0" d="M1216 1071l5-19 7 4-6 5z"/>
<path fill="#f08888" d="M1327 969l7 0 6-4-7 0z"/>
<path fill="#f0c0c0" d="M1331 1007l7 36 5 0-6-37z"/>
<path fill="#f89090" d="M1340 965l7 10 6-2-7-11z"/>
<path fill="#f8e8e8" d="M1326 1048l7 19 6 2-7-23z"/>
<path fill="#e09898" d="M1284 1007l6-17 6-3-6 22z"/>
<path fill="#e0a8a8" d="M1259 1029l6-23 6-1-6 26z"/>
<path fill="#f08888" d="M1321 972l7 2 6-5-7 0z"/>
<path fill="#f8a8a8" d="M1335 981l7 26 6 0-7-29z"/>
<path fill="#ff9090" d="M1334 969l7 9 6-3-7-10z"/>
<path fill="#e08888" d="M1302 985l7-4 6-4-7 7z"/>
<path fill="#e09090" d="M1278 1005l6-11 6-4-6 17z"/>
<path fill="#e0b8b8" d="M1234 1052l6-25 6 2-5 23z"/>
<path fill="#e0d0d0" d="M1209 1068l6-15 6-1-5 19z"/>
<path fill="#f88888" d="M1315 977l7 2 6-5-7-2z"/>
<path fill="#f8a0a0" d="M1329 985l8 21 5 1-7-26z"/>
<path fill="#f8c0c0" d="M1325 1009l7 37 6-3-7-36z"/>
<path fill="#f8d8d8" d="M1320 1043l7 28 6-4-7-19z"/>
<path fill="#ff9090" d="M1328 974l7 7 6-3-7-9z"/>
<path fill="#e0a0a0" d="M1253 1030l6-21 6-3-6 23z"/>
<path fill="#e0b8b8" d="M1228 1056l5-28 7-1-6 25z"/>
<path fill="#e88888" d="M1296 987l7-1 6-5-7 4z"/>
<path fill="#f0b8b8" d="M1319 1011l7 37 6-2-7-37z"/>
<path fill="#f89090" d="M1309 981l7 3 6-5-7-2z"/>
<path fill="#f8a0a0" d="M1324 990l7 17 6-1-8-21z"/>
<path fill="#f8d8d8" d="M1314 1044l7 28 6-1-7-28z"/>
<path fill="#ff9090" d="M1322 979l7 6 6-4-7-7z"/>
<path fill="#e09090" d="M1271 1005l7-6 6-5-6 11z"/>
<path fill="#e0a0a0" d="M1246 1029l6-16 7-4-6 21z"/>
<path fill="#e0c8c8" d="M1203 1073l5-23 7 3-6 15z"/>
<path fill="#f08888" d="M1290 990l7 1 6-5-7 1z"/>
<path fill="#f89090" d="M1303 986l7 3 6-5-7-3z"/>
<path fill="#f89898" d="M1318 994l7 15 6-2-7-17z"/>
<path fill="#ff9090" d="M1316 984l8 6 5-5-7-6z"/>
<path fill="#e09090" d="M1265 1006l7-3 6-4-7 6z"/>
<path fill="#e0b0b0" d="M1221 1052l6-22 6-2-5 28z"/>
<path fill="#e0c0c0" d="M1196 1072l5-23 7 1-5 23z"/>
<path fill="#f09090" d="M1284 994l7 2 6-5-7-1z"/>
<path fill="#f0b0b0" d="M1313 1014l7 29 6 5-7-37z"/>
<path fill="#f89090" d="M1310 989l8 5 6-4-8-6zM1297 991l7 4 6-6-7-3z"/>
<path fill="#f8d0d0" d="M1308 1044l7 34 6-6-7-28z"/>
<path fill="#e09898" d="M1240 1027l6-10 6-4-6 16z"/>
<path fill="#e0a8a8" d="M1215 1053l5-21 7-2-6 22z"/>
<path fill="#e89090" d="M1259 1009l7-1 6-5-7 3z"/>
<path fill="#f89090" d="M1304 995l7 4 7-5-8-5zM1278 999l7 2 6-5-7-2zM1291 996l7 4 6-5-7-4zM1298 1000l7 4 6-5-7-4zM1272 1003l7 4 6-6-7-2zM1285 1001l7 4 6-5-7-4z"/>
<path fill="#f89898" d="M1311 999l8 12 6-2-7-15z"/>
<path fill="#f8a8a8" d="M1306 1018l8 26 6-1-7-29z"/>
<path fill="#f8d0d0" d="M1302 1046l7 38 6-6-7-34z"/>
<path fill="#e09090" d="M1233 1028l7-7 6-4-6 10z"/>
<path fill="#e0b0b0" d="M1189 1071l5-22 7 0-5 23z"/>
<path fill="#f09090" d="M1252 1013l7 1 7-6-7 1z"/>
<path fill="#f0c8c8" d="M1295 1047l8 39 6-2-7-38z"/>
<path fill="#f89090" d="M1292 1005l7 5 6-6-7-4zM1279 1007l7 3 6-5-7-4zM1266 1008l7 4 6-5-7-4z"/>
<path fill="#f8a8a8" d="M1300 1022l8 22 6 0-8-26z"/>
<path fill="#f8e8e8" d="M1290 1084l8 24 6-4-7-18z"/>
<path fill="#ff9898" d="M1305 1004l8 10 6-3-8-12z"/>
<path fill="#e09090" d="M1227 1030l6-4 7-5-7 7z"/>
<path fill="#e0a0a0" d="M1208 1050l6-14 6-4-5 21z"/>
<path fill="#f09090" d="M1246 1017l7 2 6-5-7-1z"/>
<path fill="#f0c0c0" d="M1289 1049l8 37 6 0-8-39z"/>
<path fill="#f89090" d="M1286 1010l7 5 6-5-7-5zM1273 1012l7 4 6-6-7-3zM1259 1014l7 3 7-5-7-4z"/>
<path fill="#ff9898" d="M1299 1010l7 8 7-4-8-10z"/>
<path fill="#e09898" d="M1201 1049l6-9 7-4-6 14z"/>
<path fill="#e0b0b0" d="M1183 1072l5-20 6-3-5 22z"/>
<path fill="#e89090" d="M1220 1032l7-1 6-5-6 4z"/>
<path fill="#f89090" d="M1280 1016l7 4 6-5-7-5zM1266 1017l7 4 7-5-7-4z"/>
<path fill="#f89898" d="M1240 1021l7 3 6-5-7-2zM1253 1019l7 4 6-6-7-3z"/>
<path fill="#f8a8a8" d="M1294 1026l8 20 6-2-8-22z"/>
<path fill="#f8e0e0" d="M1284 1084l8 30 6-6-8-24z"/>
<path fill="#ff9898" d="M1293 1015l7 7 6-4-7-8zM1287 1020l7 6 6-4-7-7z"/>
<path fill="#e0a8a8" d="M1176 1074l5-19 7-3-5 20z"/>
<path fill="#f0b8b8" d="M1283 1051l7 33 7 2-8-37z"/>
<path fill="#f0d8d8" d="M1278 1085l8 30 6-1-8-30z"/>
<path fill="#f89898" d="M1273 1021l8 4 6-5-7-4zM1260 1023l7 4 6-6-7-4zM1247 1024l7 4 6-5-7-4zM1233 1026l7 4 7-6-7-3z"/>
<path fill="#f8a0a0" d="M1288 1031l7 16 7-1-8-20z"/>
<path fill="#ff9898" d="M1281 1025l7 6 6-5-7-6z"/>
<path fill="#e09898" d="M1194 1049l7-4 6-5-6 9z"/>
<path fill="#e0a0a0" d="M1169 1072l5-13 7-4-5 19z"/>
<path fill="#f09898" d="M1214 1036l7 1 6-6-7 1zM1207 1040l7 2 7-5-7-1z"/>
<path fill="#f89898" d="M1267 1027l7 4 7-6-8-4zM1254 1028l7 4 6-5-7-4zM1240 1030l7 4 7-6-7-4zM1227 1031l7 4 6-5-7-4zM1274 1031l8 5 6-5-7-6zM1261 1032l7 4 6-5-7-4zM1247 1034l8 4 6-6-7-4z"/>
<path fill="#f8a0a0" d="M1282 1036l7 13 6-2-7-16z"/>
<path fill="#e89898" d="M1188 1052l6-2 7-5-7 4z"/>
<path fill="#f0d0d0" d="M1271 1085l8 32 7-2-8-30z"/>
<path fill="#f89898" d="M1234 1035l7 4 6-5-7-4zM1221 1037l7 3 6-5-7-4zM1268 1036l7 5 7-5-8-5zM1255 1038l7 4 6-6-7-4zM1241 1039l7 4 7-5-8-4zM1228 1040l7 5 6-6-7-4zM1201 1045l6 3 7-6-7-2zM1214 1042l7 4 7-6-7-3z"/>
<path fill="#f8a0a0" d="M1275 1041l8 10 6-2-7-13z"/>
<path fill="#f8b8b8" d="M1276 1055l8 29 6 0-7-33z"/>
<path fill="#f8f0f0" d="M1266 1121l8 19 6-5-7-17z"/>
<path fill="#e0a0a0" d="M1161 1072l6-10 7-3-5 13z"/>
<path fill="#e89898" d="M1181 1055l6 0 7-5-6 2z"/>
<path fill="#f0c8c8" d="M1265 1086l8 32 6-1-8-32z"/>
<path fill="#f89898" d="M1262 1042l7 4 6-5-7-5zM1248 1043l7 4 7-5-7-4zM1235 1045l7 4 6-6-7-4zM1221 1046l7 4 7-5-7-5zM1207 1048l8 4 6-6-7-4zM1194 1050l7 3 6-5-6-3z"/>
<path fill="#f8b0b0" d="M1270 1059l8 26 6-1-8-29z"/>
<path fill="#f8e8e8" d="M1260 1124l8 22 6-6-8-19z"/>
<path fill="#ffa0a0" d="M1269 1046l7 9 7-4-8-10z"/>
<path fill="#0000e0" stroke="#0000e0" stroke-opacity="1" stroke-width="0.5" d="M1134 1226l-2-29-1-30 0 18z"/>
<path fill="#0000f0" stroke="#0000f0" stroke-opacity="1" stroke-width="0.5" d="M1128 1192l6 34-3-41-5-23z"/>
<path fill="#0808e0" stroke="#0808e0" stroke-opacity="1" stroke-width="0.5" d="M1132 1197l-1-30 0-18 0 18z"/>
<path fill="#2020f0" stroke="#2020f0" stroke-opacity="1" stroke-width="0.5" d="M1121 1157l7 35-2-30-4-24z"/>
<path fill="#6868e0" stroke="#6868e0" stroke-opacity="1" stroke-width="0.5" d="M1131 1185l0-18-1-31-1 6z"/>
<path fill="#8080f0" stroke="#8080f0" stroke-opacity="1" stroke-width="0.5" d="M1126 1162l5 23-2-43-4-12z"/>
<path fill="#e0b8b8" stroke="#e0b8b8" stroke-opacity="1" stroke-width="0.5" d="M1129 1142l1-6-1-32-3-7zM1130 1136l2-5 0-19-3-8zM1132 1131l1-6 2-6-3-7z"/>
<path fill="#e0c8c8" stroke="#e0c8c8" stroke-opacity="1" stroke-width="0.5" d="M1131 1149l0-18 2-6-1 6z"/>
<path fill="#e0d8d8" stroke="#e0d8d8" stroke-opacity="1" stroke-width="0.5" d="M1131 1167l-2-30 2-6 0 18z"/>
<path fill="#e0e0e0" stroke="#e0e0e0" stroke-opacity="1" stroke-width="0.5" d="M1131 1167l0-18 1-18-2 5z"/>
<path fill="#f09898" d="M1174 1059l7 1 6-5-6 0z"/>
<path fill="#f0b0b0" stroke="#f0b0b0" stroke-opacity="1" stroke-width="0.5" d="M1118 1106l4 12 0-21-2 1z"/>
<path fill="#f0b8b8" stroke="#f0b8b8" stroke-opacity="1" stroke-width="0.5" d="M1122 1118l3 12-1-33-2 0z"/>
<path fill="#f0c0c0" stroke="#f0c0c0" stroke-opacity="1" stroke-width="0.5" d="M1125 1130l4 12-3-45-2 0z"/>
<path fill="#f0c8c8" stroke="#f0c8c8" stroke-opacity="1" stroke-width="0.5" d="M1116 1113l6 25 0-20-4-12z"/>
<path fill="#f0e0e0" stroke="#f0e0e0" stroke-opacity="1" stroke-width="0.5" d="M1115 1121l6 36 1-19-6-25z"/>
<path fill="#f0e8e8" stroke="#f0e8e8" stroke-opacity="1" stroke-width="0.5" d="M1122 1138l4 24-1-32-3-12z"/>
<path fill="#f89898" d="M1255 1047l8 5 6-6-7-4zM1242 1049l7 4 6-6-7-4zM1228 1050l7 4 7-5-7-4zM1215 1052l7 4 6-6-7-4zM1201 1053l7 4 7-5-8-4z"/>
<path fill="#f8a0a0" d="M1187 1055l7 4 7-6-7-3z"/>
<path fill="#f8a8a8" d="M1263 1064l8 21 7 0-8-26z"/>
<path fill="#f8e8e8" d="M1253 1125l8 27 7-6-8-22z"/>
<path fill="#ffa0a0" d="M1263 1052l7 7 6-4-7-9z"/>
<path fill="#e09898" d="M1154 1069l6-7 7 0-6 10z"/>
<path fill="#f09898" d="M1167 1062l7 3 7-5-7-1z"/>
<path fill="#f89898" d="M1249 1053l7 4 7-5-8-5zM1235 1054l7 5 7-6-7-4zM1222 1056l7 4 6-6-7-4zM1208 1057l7 4 7-5-7-4zM1242 1059l8 4 6-6-7-4z"/>
<path fill="#f8a0a0" d="M1194 1059l7 4 7-6-7-4zM1181 1060l7 4 6-5-7-4z"/>
<path fill="#f8c8c8" d="M1258 1088l8 33 7-3-8-32z"/>
<path fill="#ffa0a0" d="M1256 1057l7 7 7-5-7-7z"/>
<path fill="#ffe8e8" d="M1151 1135l7 14 6-14-7-13z"/>
<path fill="#f09898" d="M1160 1062l7 6 7-3-7-3z"/>
<path fill="#f89898" d="M1229 1060l7 4 6-5-7-5zM1215 1061l7 5 7-6-7-4zM1236 1064l7 5 7-6-8-4zM1222 1066l7 4 7-6-7-4z"/>
<path fill="#f8a0a0" d="M1201 1063l7 4 7-6-7-4zM1188 1064l7 5 6-6-7-4zM1174 1065l7 5 7-6-7-4zM1208 1067l8 4 6-5-7-5z"/>
<path fill="#f8a8a8" d="M1257 1069l8 17 6-1-8-21z"/>
<path fill="#f8c0c0" d="M1251 1092l9 32 6-3-8-33z"/>
<path fill="#f8e0e0" d="M1247 1127l8 26 6-1-8-27z"/>
<path fill="#ffa0a0" d="M1250 1063l7 6 6-5-7-7z"/>
<path fill="#e08888" d="M1146 1062l6-4 8 4-6 7z"/>
<path fill="#f0c8c8" d="M1157 1122l7 13 5-30-8-10zM1164 1135l8 8 4-32-7-6zM1172 1143l7 5 4-33-7-4z"/>
<path fill="#f8a0a0" d="M1195 1069l7 4 6-6-7-4zM1181 1070l7 4 7-5-7-5zM1167 1068l7 7 7-5-7-5zM1229 1070l8 4 6-5-7-5zM1216 1071l7 5 6-6-7-4zM1202 1073l7 4 7-6-8-4zM1188 1074l7 5 7-6-7-4zM1174 1075l7 5 7-6-7-4z"/>
<path fill="#f8a8a8" d="M1250 1074l8 14 7-2-8-17z"/>
<path fill="#f8c0c0" d="M1245 1095l8 30 7-1-9-32z"/>
<path fill="#f8c8c8" d="M1141 1106l10 29 6-13-9-24z"/>
<path fill="#f8d0d0" d="M1135 1119l9 22 7-6-10-29z"/>
<path fill="#f8d8d8" d="M1240 1126l8 33 7-6-8-26z"/>
<path fill="#f8e0e0" d="M1129 1137l9 16 6-12-9-22z"/>
<path fill="#ffa0a0" d="M1243 1069l7 5 7-5-7-6z"/>
<path fill="#f09090" d="M1152 1058l8 11 7-1-7-6z"/>
<path fill="#f0c8c8" d="M1179 1148l6 1 5-29-7-5z"/>
<path fill="#f0d8d8" d="M1233 1128l8 32 7-1-8-33z"/>
<path fill="#f89898" d="M1160 1069l7 11 7-5-7-7z"/>
<path fill="#f8a0a0" d="M1237 1074l7 5 6-5-7-5zM1223 1076l7 4 7-6-8-4zM1209 1077l7 5 7-6-7-5zM1195 1079l7 4 7-6-7-4zM1181 1080l7 5 7-6-7-5z"/>
<path fill="#f8a8a8" d="M1244 1079l7 13 7-4-8-14zM1161 1095l8 10 6-18-8-7z"/>
<path fill="#f8b8b8" d="M1238 1099l9 28 6-2-8-30z"/>
<path fill="#ffa0a0" d="M1167 1080l8 7 6-7-7-5z"/>
<path fill="#f0c8c8" d="M1185 1149l8 7 4-32-7-4z"/>
<path fill="#f8a0a0" d="M1230 1080l7 5 7-6-7-5zM1216 1082l7 4 7-6-7-4zM1202 1083l7 4 7-5-7-5zM1175 1087l7 5 6-7-7-5zM1188 1085l8 4 6-6-7-4z"/>
<path fill="#f8a8a8" d="M1126 1097l9 22 6-13-10-29z"/>
<path fill="#f8b0b0" d="M1169 1105l7 6 6-19-7-5zM1176 1111l7 4 6-18-7-5z"/>
<path fill="#ffa8a8" d="M1237 1085l8 10 6-3-7-13z"/>
<path fill="#f0c8c8" d="M1193 1156l7 4 5-32-8-4zM1200 1160l7 5 5-31-7-6z"/>
<path fill="#f8a0a0" d="M1223 1086l8 5 6-6-7-5zM1182 1092l7 5 7-8-8-4zM1209 1087l8 5 6-6-7-4zM1196 1089l7 4 6-6-7-4zM1217 1092l7 4 7-5-8-5zM1189 1097l7 4 7-8-7-4zM1203 1093l7 5 7-6-8-5z"/>
<path fill="#f8b0b0" d="M1231 1104l9 22 7 1-9-28zM1183 1115l7 5 6-19-7-4z"/>
<path fill="#f8d0d0" d="M1226 1132l9 31 6-3-8-32z"/>
<path fill="#f8e0e0" d="M1214 1170l8 9 6-11-8-24z"/>
<path fill="#ffa8a8" d="M1231 1091l7 8 7-4-8-10z"/>
<path fill="#e06868" d="M1134 1025l8 6 10 27-6 4z"/>
<path fill="#f03838" stroke="#f03838" stroke-opacity="1" stroke-width="0.5" d="M1146 1031l5 25 0-26-6-34z"/>
<path fill="#f07070" stroke="#f07070" stroke-opacity="1" stroke-width="0.5" d="M1147 1065l4 16 0-25-5-25zM1151 1056l4 24 1-17-5-33z"/>
<path fill="#f09090" stroke="#f09090" stroke-opacity="1" stroke-width="0.5" d="M1151 1081l3 16 1-17-4-24z"/>
<path fill="#f09898" stroke="#f09898" stroke-opacity="1" stroke-width="0.5" d="M1155 1080l5 24 1-9-5-32z"/>
<path fill="#f0a0a0" stroke="#f0a0a0" stroke-opacity="1" stroke-width="0.5" d="M1148 1098l3 8 0-25-4-16z"/>
<path fill="#f0b0b0" stroke="#f0b0b0" stroke-opacity="1" stroke-width="0.5" d="M1151 1106l3 8 0-17-3-16zM1154 1097l4 16 2-9-5-24z"/>
<path fill="#f0c0c0" stroke="#f0c0c0" stroke-opacity="1" stroke-width="0.5" d="M1154 1114l3 8 1-9-4-16z"/>
<path fill="#f0d0d0" d="M1207 1165l7 5 6-26-8-10z"/>
<path fill="#f8a0a0" d="M1196 1101l7 5 7-8-7-5zM1210 1098l7 4 7-6-7-4z"/>
<path fill="#f8b0b0" d="M1190 1120l7 4 6-18-7-5zM1225 1109l8 19 7-2-9-22z"/>
<path fill="#f8d0d0" d="M1220 1144l8 24 7-5-9-31z"/>
<path fill="#ffa8a8" d="M1224 1096l7 8 7-5-7-8z"/>
<path fill="#e83030" stroke="#e83030" stroke-opacity="1" stroke-width="0.5" d="M1145 996l6 34 4 14-5-23z"/>
<path fill="#e85858" stroke="#e85858" stroke-opacity="1" stroke-width="0.5" d="M1150 1021l5 23 3 14-3-13z"/>
<path fill="#e86868" stroke="#e86868" stroke-opacity="1" stroke-width="0.5" d="M1151 1030l5 33 3 4-4-23z"/>
<path fill="#e87878" stroke="#e87878" stroke-opacity="1" stroke-width="0.5" d="M1155 1045l3 13 4 14-2-3zM1155 1044l4 23 3 5-4-14z"/>
<path fill="#e88888" stroke="#e88888" stroke-opacity="1" stroke-width="0.5" d="M1158 1058l4 14 3 4-3-4z"/>
<path fill="#e89090" stroke="#e89090" stroke-opacity="1" stroke-width="0.5" d="M1156 1063l5 32 2-5-4-23zM1159 1067l4 23 2-5-3-13zM1162 1072l3 13 2-5-2-4z"/>
<path fill="#f8a8a8" d="M1203 1106l8 4 6-8-7-4z"/>
<path fill="#f8b0b0" d="M1197 1124l8 4 6-18-8-4zM1218 1116l8 16 7-4-8-19zM1205 1128l7 6 6-18-7-6z"/>
<path fill="#f8b8b8" d="M1212 1134l8 10 6-12-8-16z"/>
<path fill="#ffa8a8" d="M1217 1102l8 7 6-5-7-8zM1211 1110l7 6 7-7-8-7z"/>
<path fill="#e02020" stroke="#e02020" stroke-opacity="1" stroke-width="0.5" d="M1144 1008l1-12 5 25-2 6z"/>
<path fill="#e03838" stroke="#e03838" stroke-opacity="1" stroke-width="0.5" d="M1143 1019l1-11 4 19-1 7z"/>
<path fill="#e04848" stroke="#e04848" stroke-opacity="1" stroke-width="0.5" d="M1142 1031l1-12 4 15-2 6zM1148 1027l2-6 5 24-2 1z"/>
<path fill="#e05858" stroke="#e05858" stroke-opacity="1" stroke-width="0.5" d="M1147 1034l1-7 5 19-2 2z"/>
<path fill="#e06060" stroke="#e06060" stroke-opacity="1" stroke-width="0.5" d="M1145 1040l2-6 4 14-2 1z"/>
<path fill="#e07070" stroke="#e07070" stroke-opacity="1" stroke-width="0.5" d="M1149 1049l2-1 4 13-3-3zM1151 1048l2-2 4 19-2-4zM1153 1046l2-1 5 24-3-4z"/>
<path fill="#f80000" stroke="#f80000" stroke-opacity="1" stroke-width="0.5" d="M1127 993l7 37-1-29-8-52z"/>
<path fill="#f83838" stroke="#f83838" stroke-opacity="1" stroke-width="0.5" d="M1129 1036l5 23 0-29-7-37z"/>
<path fill="#f84848" stroke="#f84848" stroke-opacity="1" stroke-width="0.5" d="M1134 1030l6 36 1-16-8-49z"/>
<path fill="#f87070" stroke="#f87070" stroke-opacity="1" stroke-width="0.5" d="M1134 1059l5 22 1-15-6-36z"/>
<path fill="#f87878" stroke="#f87878" stroke-opacity="1" stroke-width="0.5" d="M1131 1077l4 10-1-28-5-23z"/>
<path fill="#f89090" stroke="#f89090" stroke-opacity="1" stroke-width="0.5" d="M1135 1087l3 10 1-16-5-22zM1140 1066l5 34 3-2-7-48z"/>
<path fill="#f89898" stroke="#f89898" stroke-opacity="1" stroke-width="0.5" d="M1139 1081l4 22 2-3-5-34z"/>
<path fill="#f8a8a8" stroke="#f8a8a8" stroke-opacity="1" stroke-width="0.5" d="M1138 1097l3 9 2-3-4-22z"/>
<path fill="#e00000" stroke="#e00000" stroke-opacity="1" stroke-width="0.5" d="M1128 992l-3-43 6 28 1 27z"/>
<path fill="#e01010" stroke="#e01010" stroke-opacity="1" stroke-width="0.5" d="M1132 1004l-1-27 6 28-1 12z"/>
<path fill="#e02828" stroke="#e02828" stroke-opacity="1" stroke-width="0.5" d="M1130 1033l-2-41 4 12 0 27z"/>
<path fill="#e03030" stroke="#e03030" stroke-opacity="1" stroke-width="0.5" d="M1132 1031l0-27 4 13-1 12zM1136 1017l1-12 5 26-3-2z"/>
<path fill="#e04040" stroke="#e04040" stroke-opacity="1" stroke-width="0.5" d="M1135 1029l1-12 3 12-2-2z"/>
<path fill="#e04848" stroke="#e04848" stroke-opacity="1" stroke-width="0.5" d="M1134 1041l1-12 2-2-3-2z"/>
<path fill="#e05858" stroke="#e05858" stroke-opacity="1" stroke-width="0.5" d="M1133 1056l-1-25 3-2-1 12z"/>
<path fill="#e06060" stroke="#e06060" stroke-opacity="1" stroke-width="0.5" d="M1132 1072l-2-39 2-2 1 25z"/>
<path fill="#f00000" stroke="#f00000" stroke-opacity="1" stroke-width="0.5" d="M1110 966l6 41-2-49-10-66z"/>
<path fill="#f01010" stroke="#f01010" stroke-opacity="1" stroke-width="0.5" d="M1116 1007l7 39 0-27-9-61z"/>
<path fill="#f02020" stroke="#f02020" stroke-opacity="1" stroke-width="0.5" d="M1115 1034l4 19-3-46-6-41z"/>
<path fill="#f05050" stroke="#f05050" stroke-opacity="1" stroke-width="0.5" d="M1119 1053l5 19-1-26-7-39z"/>
<path fill="#f06868" stroke="#f06868" stroke-opacity="1" stroke-width="0.5" d="M1123 1046l7 38 1-7-8-58z"/>
<path fill="#f08080" stroke="#f08080" stroke-opacity="1" stroke-width="0.5" d="M1120 1098l2-1-3-44-4-19zM1124 1072l4 18 2-6-7-38z"/>
<path fill="#f08888" stroke="#f08888" stroke-opacity="1" stroke-width="0.5" d="M1122 1097l2 0 0-25-5-19z"/>
<path fill="#f09898" stroke="#f09898" stroke-opacity="1" stroke-width="0.5" d="M1124 1097l2 0 2-7-4-18z"/>
<path fill="#f80000" stroke="#f80000" stroke-opacity="1" stroke-width="0.5" d="M1125 949l8 52 3 6-5-30z"/>
<path fill="#f81010" stroke="#f81010" stroke-opacity="1" stroke-width="0.5" d="M1131 977l5 30 4 6-3-8z"/>
<path fill="#f82828" stroke="#f82828" stroke-opacity="1" stroke-width="0.5" d="M1140 1013l3 9 1-14-1 11zM1143 1022l3 9-1-35-1 12z"/>
<path fill="#f83030" stroke="#f83030" stroke-opacity="1" stroke-width="0.5" d="M1137 1005l3 8 3 6-1 12zM1133 1001l8 49 1-14-6-29zM1136 1007l6 29 1-14-3-9z"/>
<path fill="#f85050" stroke="#f85050" stroke-opacity="1" stroke-width="0.5" d="M1142 1036l5 29-1-34-3-9z"/>
<path fill="#f87878" stroke="#f87878" stroke-opacity="1" stroke-width="0.5" d="M1141 1050l7 48-1-33-5-29z"/>
<path fill="#e80000" stroke="#e80000" stroke-opacity="1" stroke-width="0.5" d="M1104 892l10 66 5 26-5-28zM1114 956l5 28 6 24-2 8zM1114 958l9 61 1-9-5-26zM1126 1001l1-8-2-44 3 43z"/>
<path fill="#e80808" stroke="#e80808" stroke-opacity="1" stroke-width="0.5" d="M1119 984l5 26 2-9-1 7z"/>
<path fill="#e81818" stroke="#e81818" stroke-opacity="1" stroke-width="0.5" d="M1125 1008l1-7 2-9 2 41zM1124 1010l5 26-2-43-1 8z"/>
<path fill="#e84040" stroke="#e84040" stroke-opacity="1" stroke-width="0.5" d="M1123 1019l8 58-2-41-5-26z"/>
<path fill="#e84848" stroke="#e84848" stroke-opacity="1" stroke-width="0.5" d="M1123 1016l2-8 5 25 2 39z"/>
</g>
<g fill="none" stroke-linecap="butt">
<path d="M1117.8 1144.8L1388.4 1322" stroke="#3a3a3a" stroke-width="2.2"/>
<path d="M1388.4 1322L1598.5 1113.6" stroke="#3a3a3a" stroke-width="2.2"/>
<path d="M1117.8 1144.8L1083.6 865.8" stroke="#3a3a3a" stroke-width="2.2"/>
<path d="M1117.8 1144.8L1110.9 1150.2" stroke="#3a3a3a" stroke-width="1.8"/>
<path d="M1142.4 1160.9L1138.6 1163.9" stroke="#3a3a3a" stroke-width="1.8"/>
<path d="M1167.5 1177.4L1160.7 1182.8" stroke="#3a3a3a" stroke-width="1.8"/>
<path d="M1193.1 1194.1L1189.3 1197.2" stroke="#3a3a3a" stroke-width="1.8"/>
<path d="M1219.2 1211.2L1212.6 1216.9" stroke="#3a3a3a" stroke-width="1.8"/>
<path d="M1245.9 1228.7L1242.3 1231.9" stroke="#3a3a3a" stroke-width="1.8"/>
<path d="M1273.2 1246.6L1266.7 1252.4" stroke="#3a3a3a" stroke-width="1.8"/>
<path d="M1301.1 1264.8L1297.5 1268.1" stroke="#3a3a3a" stroke-width="1.8"/>
<path d="M1329.5 1283.4L1323.2 1289.4" stroke="#3a3a3a" stroke-width="1.8"/>
<path d="M1358.6 1302.5L1355.2 1305.8" stroke="#3a3a3a" stroke-width="1.8"/>
<path d="M1388.4 1322L1382.2 1328.1" stroke="#3a3a3a" stroke-width="1.8"/>
<path d="M1388.4 1322L1395.7 1326.7" stroke="#3a3a3a" stroke-width="1.8"/>
<path d="M1411.9 1298.6L1416 1301.2" stroke="#3a3a3a" stroke-width="1.8"/>
<path d="M1434.9 1275.9L1442.2 1280.5" stroke="#3a3a3a" stroke-width="1.8"/>
<path d="M1457.2 1253.7L1461.3 1256.3" stroke="#3a3a3a" stroke-width="1.8"/>
<path d="M1478.9 1232.2L1486.4 1236.6" stroke="#3a3a3a" stroke-width="1.8"/>
<path d="M1500.1 1211.1L1504.3 1213.6" stroke="#3a3a3a" stroke-width="1.8"/>
<path d="M1520.8 1190.7L1528.3 1195" stroke="#3a3a3a" stroke-width="1.8"/>
<path d="M1540.9 1170.7L1545.1 1173" stroke="#3a3a3a" stroke-width="1.8"/>
<path d="M1560.6 1151.2L1568.2 1155.4" stroke="#3a3a3a" stroke-width="1.8"/>
<path d="M1579.8 1132.1L1584 1134.5" stroke="#3a3a3a" stroke-width="1.8"/>
<path d="M1598.5 1113.6L1606.1 1117.7" stroke="#3a3a3a" stroke-width="1.8"/>
<path d="M1117.8 1144.8L1110.9 1150.2" stroke="#3a3a3a" stroke-width="1.8"/>
<path d="M1107.5 1060.9L1100.5 1066" stroke="#3a3a3a" stroke-width="1.8"/>
<path d="M1096.2 968.4L1089 973.3" stroke="#3a3a3a" stroke-width="1.8"/>
<path d="M1083.6 865.8L1076.2 870.4" stroke="#3a3a3a" stroke-width="1.8"/>
</g>
<g font-family="'Liberation Sans', Arial, sans-serif" fill="#1a1a1a">
<text transform="matrix(1.0289 -0.7946 0.8367 0.5476 1112.7 1156.8)" font-size="19.337983497424442" text-anchor="end">0</text>
<text transform="matrix(1.0878 0.7119 -0.7099 0.7043 1394.9 1334.1)" font-size="19.337983497424442" text-anchor="start">0</text>
<text transform="matrix(1.0111 -0.8171 0.8367 0.5476 1162.6 1189.6)" font-size="19.337983497424442" text-anchor="end">2</text>
<text transform="matrix(1.1016 0.6902 -0.7099 0.7043 1441.5 1287.8)" font-size="19.337983497424442" text-anchor="start">2</text>
<text transform="matrix(0.9918 -0.8404 0.8367 0.5476 1214.6 1223.7)" font-size="19.337983497424442" text-anchor="end">4</text>
<text transform="matrix(1.1143 0.6696 -0.7099 0.7043 1485.7 1243.9)" font-size="19.337983497424442" text-anchor="start">4</text>
<text transform="matrix(0.9708 -0.8647 0.8367 0.5476 1268.8 1259.3)" font-size="19.337983497424442" text-anchor="end">6</text>
<text transform="matrix(1.1259 0.6499 -0.7099 0.7043 1527.7 1202.2)" font-size="19.337983497424442" text-anchor="start">6</text>
<text transform="matrix(0.9479 -0.8897 0.8367 0.5476 1325.3 1296.4)" font-size="19.337983497424442" text-anchor="end">8</text>
<text transform="matrix(1.1365 0.6312 -0.7099 0.7043 1567.6 1162.5)" font-size="19.337983497424442" text-anchor="start">8</text>
<text transform="matrix(0.9229 -0.9156 0.8367 0.5476 1384.5 1335.2)" font-size="19.337983497424442" text-anchor="end">10</text>
<text transform="matrix(1.1462 0.6135 -0.7099 0.7043 1605.6 1124.7)" font-size="19.337983497424442" text-anchor="start">10</text>
<text transform="matrix(1.0685 -0.8251 0.1216 0.9926 1108.6 1159.2)" font-size="19.337983497424442" text-anchor="end">0.0</text>
<text transform="matrix(1.0919 -0.7939 0.1216 0.9926 1098.1 1075)" font-size="19.337983497424442" text-anchor="end">0.1</text>
<text transform="matrix(1.1174 -0.7575 0.1216 0.9926 1086.6 982.1)" font-size="19.337983497424442" text-anchor="end">0.2</text>
<text transform="matrix(1.1453 -0.7147 0.1216 0.9926 1073.7 879.2)" font-size="19.337983497424442" text-anchor="end">0.3</text>
<text transform="matrix(0.9204 0.6024 -0.7550 0.6557 1197.7 1270.6)" font-size="26.106277721522996" text-anchor="middle">Distance (mm)</text>
<text transform="matrix(0.7809 -0.7747 0.8617 0.5074 1555.1 1243.5)" font-size="26.106277721522996" text-anchor="middle">Distance (mm)</text>
<text transform="matrix(-0.1277 -1.0422 0.8180 -0.5752 1036.2 1021.7)" font-size="24.172479371780554" text-anchor="middle">j<tspan font-size="18.3" dy="4.8">z</tspan><tspan dy="-4.8"> (A m</tspan><tspan font-size="18.3" dy="-8.7">-2</tspan><tspan dy="8.7">)</tspan></text>
</g>
<g fill="none" stroke-linecap="square">
<path d="M676.4 1756.8L641 1468.3" stroke="#d2d2d2" stroke-width="1.4"/>
<path d="M726.3 1718.2L699.9 1431.6" stroke="#d2d2d2" stroke-width="1.4"/>
<path d="M774 1681.4L755.6 1396.8" stroke="#d2d2d2" stroke-width="1.4"/>
<path d="M819.5 1646.3L808.4 1363.9" stroke="#d2d2d2" stroke-width="1.4"/>
<path d="M862.9 1612.7L858.5 1332.6" stroke="#d2d2d2" stroke-width="1.4"/>
<path d="M904.5 1580.6L906.1 1302.9" stroke="#d2d2d2" stroke-width="1.4"/>
<path d="M676.4 1756.8L904.5 1580.6" stroke="#d2d2d2" stroke-width="1.4"/>
<path d="M671.2 1714.5L904.7 1539.3" stroke="#d2d2d2" stroke-width="1.4"/>
<path d="M665.7 1670.1L905 1496.1" stroke="#d2d2d2" stroke-width="1.4"/>
<path d="M660 1623.4L905.2 1451" stroke="#d2d2d2" stroke-width="1.4"/>
<path d="M654 1574.4L905.5 1403.9" stroke="#d2d2d2" stroke-width="1.4"/>
<path d="M647.7 1522.8L905.8 1354.6" stroke="#d2d2d2" stroke-width="1.4"/>
<path d="M641 1468.3L906.1 1302.9" stroke="#d2d2d2" stroke-width="1.4"/>
<path d="M904.5 1580.6L906.1 1302.9" stroke="#d2d2d2" stroke-width="1.4"/>
<path d="M954.3 1607.3L963.2 1327.7" stroke="#d2d2d2" stroke-width="1.4"/>
<path d="M1006 1635L1022.7 1353.5" stroke="#d2d2d2" stroke-width="1.4"/>
<path d="M1059.6 1663.7L1084.9 1380.4" stroke="#d2d2d2" stroke-width="1.4"/>
<path d="M1115.4 1693.5L1149.8 1408.5" stroke="#d2d2d2" stroke-width="1.4"/>
<path d="M1173.3 1724.5L1217.7 1438" stroke="#d2d2d2" stroke-width="1.4"/>
<path d="M904.5 1580.6L1173.3 1724.5" stroke="#d2d2d2" stroke-width="1.4"/>
<path d="M904.7 1539.3L1179.8 1682.3" stroke="#d2d2d2" stroke-width="1.4"/>
<path d="M905 1496.1L1186.7 1638.1" stroke="#d2d2d2" stroke-width="1.4"/>
<path d="M905.2 1451L1193.8 1591.8" stroke="#d2d2d2" stroke-width="1.4"/>
<path d="M905.5 1403.9L1201.4 1543.1" stroke="#d2d2d2" stroke-width="1.4"/>
<path d="M905.8 1354.6L1209.3 1491.9" stroke="#d2d2d2" stroke-width="1.4"/>
<path d="M906.1 1302.9L1217.7 1438" stroke="#d2d2d2" stroke-width="1.4"/>
<path d="M676.4 1756.8L904.5 1580.6" stroke="#d2d2d2" stroke-width="1.4"/>
<path d="M676.4 1756.8L956.1 1939.9" stroke="#d2d2d2" stroke-width="1.4"/>
<path d="M727.7 1790.4L954.3 1607.3" stroke="#d2d2d2" stroke-width="1.4"/>
<path d="M726.3 1718.2L1004.1 1892.3" stroke="#d2d2d2" stroke-width="1.4"/>
<path d="M781.2 1825.4L1006 1635" stroke="#d2d2d2" stroke-width="1.4"/>
<path d="M774 1681.4L1049.7 1847.1" stroke="#d2d2d2" stroke-width="1.4"/>
<path d="M837 1862L1059.6 1663.7" stroke="#d2d2d2" stroke-width="1.4"/>
<path d="M819.5 1646.3L1092.9 1804.2" stroke="#d2d2d2" stroke-width="1.4"/>
<path d="M895.3 1900.1L1115.4 1693.5" stroke="#d2d2d2" stroke-width="1.4"/>
<path d="M862.9 1612.7L1134.1 1763.4" stroke="#d2d2d2" stroke-width="1.4"/>
<path d="M956.1 1939.9L1173.3 1724.5" stroke="#d2d2d2" stroke-width="1.4"/>
<path d="M904.5 1580.6L1173.3 1724.5" stroke="#d2d2d2" stroke-width="1.4"/>
</g>
<path fill="#ffffff" d="M676 1757L956 1940L1173 1724L904 1581Z"/>
<path fill="#8888ff" stroke="#9a9ac8" stroke-width="0.7" d="M917 1626l7 4 6-5-7-4z"/>
<path fill="#9898ff" stroke="#9a9ac8" stroke-width="0.7" d="M884 1672l7 4 6-5-7-4zM825 1762l7 5 7-6-8-4z"/>
<path fill="#a0a0ff" stroke="#9a9ac8" stroke-width="0.7" d="M912 1630l7 4 5-4-7-4z"/>
<path fill="#b0b0ff" stroke="#9a9ac8" stroke-width="0.7" d="M878 1677l7 4 6-5-7-4zM830 1747l8 4 6-5-7-5zM837 1741l7 5 7-6-8-4zM831 1757l8 4 6-5-7-5z"/>
<path fill="#b8b8ff" stroke="#9a9ac8" stroke-width="0.7" d="M923 1621l7 4 6-5-7-4zM895 1653l7 4 6-5-7-4zM890 1667l7 4 6-5-7-4zM885 1681l8 4 6-5-8-4zM824 1752l7 5 7-6-8-4z"/>
<path fill="#c0c0ff" stroke="#9a9ac8" stroke-width="0.7" d="M901 1648l7 4 6-4-7-4zM907 1644l7 4 6-5-7-4zM924 1630l8 3 5-4-7-4zM891 1676l8 4 6-5-8-4zM855 1716l8 4 6-5-7-4z"/>
<path fill="#c8c8ff" stroke="#9a9ac8" stroke-width="0.7" d="M906 1635l7 4 6-5-7-4zM889 1658l7 4 6-5-7-4zM913 1639l7 4 6-5-7-4zM919 1634l7 4 6-5-8-3zM896 1662l7 4 6-5-7-4zM879 1686l7 4 7-5-8-4zM862 1711l7 4 6-5-7-5zM838 1751l7 5 7-6-8-4zM825 1772l8 5 7-5-8-5zM832 1767l8 5 6-6-7-5z"/>
<path fill="#d0d0ff" stroke="#9a9ac8" stroke-width="0.7" d="M902 1657l7 4 6-5-7-4zM861 1701l7 4 6-5-7-4zM867 1696l7 4 6-5-7-4zM849 1721l7 4 7-5-8-4zM868 1705l7 5 6-5-7-5zM817 1758l8 4 6-5-7-5z"/>
<path fill="#d8d8ff" stroke="#9a9ac8" stroke-width="0.7" d="M916 1617l7 4 6-5-7-3zM929 1616l7 4 6-4-7-4zM872 1682l7 4 6-5-7-4zM873 1691l7 4 6-5-7-4zM843 1736l8 4 6-5-7-4zM863 1720l7 5 6-6-7-4zM818 1768l7 4 7-5-7-5z"/>
<path fill="#e0e0ff" stroke="#9a9ac8" stroke-width="0.7" d="M922 1613l7 3 6-4-7-4zM928 1608l7 4 5-5-7-3zM900 1640l7 4 6-5-7-4zM883 1663l7 4 6-5-7-4zM930 1625l7 4 6-5-7-4zM908 1652l7 4 6-4-7-4zM854 1706l8 5 6-6-7-4zM897 1671l8 4 6-5-8-4zM836 1732l7 4 7-5-7-5zM843 1726l7 5 6-6-7-4zM874 1700l7 5 7-6-8-4zM856 1725l8 5 6-5-7-5zM869 1715l7 4 7-5-8-4zM844 1746l8 4 6-5-7-5zM833 1777l8 5 6-6-7-4z"/>
<path fill="#e8e8ff" stroke="#9a9ac8" stroke-width="0.7" d="M910 1622l7 4 6-5-7-4zM935 1612l7 4 5-5-7-4zM936 1620l7 4 6-5-7-3zM914 1648l7 4 6-5-7-4zM920 1643l7 4 6-5-7-4zM949 1619l7 4 5-4-7-4zM903 1666l8 4 6-5-8-4zM886 1690l8 4 6-5-7-4zM850 1731l7 4 7-5-8-5zM806 1800l8 5 6-6-7-5zM1010 1808l8 5 6-6-8-5zM1018 1813l8 4 6-5-8-5z"/>
<path fill="#f0f0ff" stroke="#9a9ac8" stroke-width="0.7" d="M942 1616l7 3 5-4-7-4zM866 1687l7 4 6-5-7-4zM943 1624l7 4 6-5-7-4zM954 1615l7 4 6-5-7-4zM909 1661l8 4 6-5-8-4zM880 1695l8 4 6-5-8-4zM893 1685l7 4 6-5-7-4zM875 1710l8 4 6-5-8-4zM839 1761l7 5 7-6-8-4zM908 1703l8 4 6-5-7-4zM915 1698l7 4 6-5-7-4zM944 1673l8 4 6-5-8-4zM799 1806l8 5 7-6-8-5zM813 1794l7 5 7-6-7-4zM826 1783l8 5 7-6-8-5zM840 1772l7 4 7-5-8-5zM916 1707l7 4 6-5-7-4zM922 1702l7 4 6-5-7-4zM952 1677l7 4 6-5-7-4zM807 1811l7 5 7-6-7-5zM814 1805l7 5 7-6-8-5zM841 1782l7 5 7-6-8-5zM959 1681l8 4 5-5-7-4zM874 1764l8 5 6-6-7-4zM938 1720l8 5 6-6-8-4zM944 1715l8 4 6-5-8-4zM836 1819l8 5 7-6-8-4zM946 1725l7 4 6-5-7-5zM952 1719l7 5 6-6-7-4zM953 1729l8 4 6-5-8-4zM969 1738l8 4 6-5-8-5zM927 1787l8 4 6-5-8-5zM933 1781l8 5 6-6-7-5zM1031 1705l8 4 6-5-8-5zM1000 1792l8 5 6-6-8-4zM1002 1803l8 5 6-6-8-5zM1008 1797l8 5 6-6-8-5zM1003 1814l9 4 6-5-8-5zM1016 1802l8 5 6-6-8-5zM1081 1740l8 5 5-5-8-5zM1086 1735l8 5 6-6-8-4zM999 1830l8 5 7-6-9-5zM1024 1807l8 5 6-6-8-5zM1089 1745l8 4 5-5-8-4zM1094 1740l8 4 6-5-8-5zM1007 1835l9 5 6-6-8-5zM1026 1817l8 5 6-6-8-4zM1032 1812l8 4 7-5-9-5zM1102 1744l9 5 5-6-8-4zM1111 1749l8 4 5-5-8-5zM1116 1743l8 5 6-6-8-4z"/>
<path fill="#f8f8ff" stroke="#9a9ac8" stroke-width="0.7" d="M711 1730l7 4 7-5-7-4zM718 1725l7 4 7-5-7-5zM718 1734l7 5 7-6-7-4zM725 1729l7 4 7-5-7-4zM718 1744l8 5 6-6-7-4zM725 1739l7 4 7-5-7-5zM726 1749l7 4 7-5-8-5zM933 1604l7 3 6-4-7-4zM940 1607l7 4 6-4-7-4zM947 1611l7 4 6-5-7-3zM926 1638l7 4 6-5-7-4zM932 1633l7 4 5-4-7-4zM937 1629l7 4 6-5-7-4zM848 1711l7 5 7-5-8-5zM939 1637l7 4 6-4-8-4zM950 1628l7 4 6-5-7-4zM956 1623l7 4 6-4-8-4zM961 1619l8 4 5-5-7-4zM899 1680l7 4 6-5-7-4zM917 1665l7 4 6-5-7-4zM923 1660l7 4 6-4-8-4zM924 1669l7 4 6-4-7-5zM930 1664l7 5 6-5-7-4zM851 1740l7 5 7-5-8-5zM857 1735l8 5 6-6-7-4zM864 1730l7 4 6-5-7-4zM901 1699l7 4 7-5-8-5zM907 1693l8 5 6-5-8-5zM931 1673l8 5 5-5-7-4zM937 1669l7 4 6-5-7-4zM972 1640l7 4 6-5-8-4zM977 1635l8 4 5-5-7-4zM983 1630l7 4 6-4-7-4zM884 1724l7 4 6-5-7-5zM890 1718l7 5 7-5-8-5zM902 1708l8 4 6-5-8-4zM921 1693l7 4 6-5-7-4zM939 1678l7 4 6-5-8-4zM950 1668l8 4 5-5-7-4zM985 1639l7 4 6-5-8-4zM990 1634l8 4 5-5-7-3zM820 1789l7 4 7-5-8-5zM928 1697l7 4 6-5-7-4zM934 1692l7 4 6-5-7-4zM940 1687l7 4 6-5-7-4zM946 1682l7 4 6-5-7-4zM958 1672l7 4 6-5-8-4zM800 1817l7 4 7-5-7-5zM820 1799l8 5 7-6-8-5zM834 1788l7 4 7-5-7-5zM847 1776l8 5 6-6-7-4zM860 1765l8 5 6-6-7-4zM867 1760l7 4 7-5-8-5zM873 1754l8 5 6-6-7-4zM947 1691l8 4 6-5-8-4zM953 1686l8 4 6-5-8-4zM965 1676l7 4 6-5-7-4zM814 1816l8 4 7-5-8-5zM821 1810l8 5 7-6-8-5zM868 1770l7 4 7-5-8-5zM881 1759l7 4 7-5-8-5zM919 1726l7 5 6-6-7-4zM925 1721l7 4 6-5-7-4zM931 1716l7 4 6-5-7-4zM1012 1646l8 4 5-5-7-4zM822 1820l8 5 6-6-7-4zM829 1815l7 4 7-5-7-5zM875 1774l8 5 7-6-8-4zM882 1769l8 4 6-5-8-5zM926 1731l8 4 6-5-8-5zM932 1725l8 5 6-5-8-5zM991 1674l8 4 6-5-8-4zM830 1825l7 5 7-6-8-5zM843 1814l8 4 7-5-8-5zM902 1762l8 5 6-6-7-4zM909 1757l7 4 7-5-8-5zM940 1730l7 4 6-5-7-4zM1005 1673l7 5 6-5-8-4zM1010 1669l8 4 5-5-7-4zM837 1830l8 5 7-6-8-5zM844 1824l8 5 7-6-8-5zM851 1818l8 5 7-5-8-5zM858 1813l8 5 6-6-8-5zM878 1795l7 5 7-6-8-5zM916 1761l8 5 6-6-7-4zM947 1734l8 5 6-6-8-4zM989 1698l8 4 5-5-7-4zM824 1854l8 5 7-6-8-5zM845 1835l8 5 7-6-8-5zM885 1800l8 5 7-6-8-5zM955 1739l8 4 6-5-8-5zM961 1733l8 5 6-6-8-4zM1042 1662l8 4 5-5-7-4zM893 1805l8 5 7-6-8-5zM963 1743l7 5 7-6-8-4zM975 1732l8 5 6-5-8-5zM981 1727l8 5 5-6-7-4zM1050 1666l7 4 6-5-8-4zM874 1833l8 5 7-6-8-5zM881 1827l8 5 7-6-8-5zM888 1821l8 5 6-6-7-4zM895 1816l7 4 7-5-8-5zM921 1792l7 5 7-6-8-4zM940 1775l7 5 7-6-8-4zM946 1770l8 4 6-5-8-5zM977 1742l7 5 6-6-7-4zM983 1737l7 4 6-5-7-4zM989 1732l7 4 6-5-8-5zM994 1726l8 5 6-6-8-4zM1000 1721l8 4 6-5-8-4zM1012 1711l8 4 5-5-7-5zM1018 1705l7 5 6-5-7-5zM1024 1700l7 5 6-6-8-4zM1029 1695l8 4 6-5-8-4zM1035 1690l8 4 5-5-7-4zM922 1803l8 5 6-6-8-5zM928 1797l8 5 7-6-8-5zM935 1791l8 5 6-6-8-4zM941 1786l8 4 6-5-8-5zM947 1780l8 5 7-6-8-5zM954 1774l8 5 6-6-8-4zM1002 1731l8 4 6-5-8-5zM1008 1725l8 5 6-5-8-5zM1025 1710l8 4 6-5-8-4zM1037 1699l8 5 5-5-7-5zM1043 1694l7 5 6-6-8-4zM930 1808l8 5 6-6-8-5zM986 1757l8 4 6-5-8-5zM1010 1735l8 5 6-6-8-4zM1016 1730l8 4 5-5-7-4zM1039 1709l8 4 5-5-7-4zM994 1761l8 5 6-6-8-4zM1018 1740l8 4 6-5-8-5zM1069 1693l8 4 6-5-8-4zM1075 1688l8 4 5-5-8-4zM926 1835l8 5 7-6-8-5zM990 1777l8 5 6-6-8-4zM996 1772l8 4 6-5-8-5zM934 1840l9 5 6-6-8-5zM992 1788l8 4 6-5-8-5zM998 1782l8 5 6-6-8-5zM1039 1743l8 5 6-6-8-4zM993 1798l9 5 6-6-8-5zM1006 1787l8 4 6-5-8-5zM1047 1748l8 4 6-5-8-5zM1053 1742l8 5 6-6-8-4zM1059 1737l8 4 6-5-8-4zM995 1809l8 5 7-6-8-5zM1055 1752l8 5 6-6-8-4zM1061 1747l8 4 6-5-8-5zM1067 1741l8 5 6-6-8-4zM1073 1736l8 4 5-5-8-4zM1078 1731l8 4 6-5-8-5zM997 1819l8 5 7-6-9-4zM1069 1751l8 5 6-6-8-4zM1075 1746l8 4 6-5-8-5zM993 1836l8 5 6-6-8-5zM1005 1824l9 5 6-6-8-5zM1012 1818l8 5 6-6-8-4zM1083 1750l8 5 6-6-8-4zM1100 1734l8 5 6-6-8-4zM1001 1841l8 5 7-6-9-5zM1097 1749l8 5 6-5-9-5zM1108 1739l8 4 6-5-8-5zM1009 1846l9 6 6-7-8-5zM1016 1840l8 5 6-6-8-5zM1034 1822l9 5 6-6-9-5zM1040 1816l9 5 6-6-8-4zM1088 1771l8 4 6-5-8-5zM1105 1754l8 5 6-6-8-4zM1122 1738l8 4 5-5-8-5zM1073 1798l8 5 6-6-8-5zM1096 1775l8 5 6-6-8-4zM1119 1753l8 5 5-6-8-4zM1124 1748l8 4 6-5-8-5zM1020 1863l8 5 7-6-9-5z"/>
<path fill="#ff9090" stroke="#ff9090" stroke-width="0.7" d="M745 1713l7 5 7-6-7-4zM752 1708l7 4 7-5-7-4zM759 1703l7 4 6-5-7-4zM765 1698l7 4 7-5-7-4zM772 1693l7 4 6-5-7-4zM778 1688l7 4 7-5-7-4zM785 1683l7 4 6-5-7-4zM791 1678l7 4 7-5-7-4zM798 1673l7 4 6-5-7-4zM804 1668l7 4 6-5-7-4zM810 1663l7 4 6-5-7-4zM816 1658l7 4 7-5-7-4zM823 1653l7 4 6-5-7-4zM829 1648l7 4 6-4-7-4zM835 1644l7 4 6-5-7-4zM841 1639l7 4 6-5-7-4zM847 1634l7 4 6-5-7-4zM853 1629l7 4 6-4-7-4zM859 1625l7 4 6-5-7-4zM865 1620l7 4 6-5-7-3zM871 1616l7 3 6-4-7-4zM877 1611l7 4 6-5-7-3zM883 1607l7 3 5-4-7-4zM888 1602l7 4 6-5-7-3zM894 1598l7 3 6-4-7-4zM752 1718l7 4 7-5-7-5zM759 1712l7 5 7-6-7-4zM766 1707l7 4 6-5-7-4zM772 1702l7 4 7-5-7-4zM779 1697l7 4 6-5-7-4zM785 1692l7 4 7-5-7-4zM792 1687l7 4 6-5-7-4zM798 1682l7 4 7-5-7-4zM805 1677l7 4 6-5-7-4zM811 1672l7 4 6-5-7-4zM817 1667l7 4 6-5-7-4zM823 1662l7 4 7-5-7-4zM830 1657l7 4 6-5-7-4zM836 1652l7 4 6-4-7-4zM842 1648l7 4 6-5-7-4zM848 1643l7 4 6-5-7-4zM854 1638l7 4 6-5-7-4zM860 1633l7 4 6-4-7-4zM866 1629l7 4 6-5-7-4zM872 1624l7 4 6-5-7-4zM878 1619l7 4 6-4-7-4zM884 1615l7 4 5-5-6-4zM890 1610l6 4 6-4-7-4zM895 1606l7 4 6-5-7-4zM901 1601l7 4 6-4-7-4zM759 1722l8 4 6-5-7-4zM766 1717l7 4 7-5-7-5zM773 1711l7 5 6-5-7-5zM779 1706l7 5 7-6-7-4zM786 1701l7 4 6-5-7-4zM792 1696l7 4 7-5-7-4zM799 1691l7 4 6-5-7-4zM805 1686l7 4 7-5-7-4zM812 1681l7 4 6-5-7-4zM818 1676l7 4 6-5-7-4zM824 1671l7 4 6-5-7-4zM830 1666l7 4 7-5-7-4zM837 1661l7 4 6-5-7-4zM843 1656l7 4 6-4-7-4zM849 1652l7 4 6-5-7-4zM855 1647l7 4 6-5-7-4zM861 1642l7 4 6-5-7-4zM867 1637l7 4 6-4-7-4zM873 1633l7 4 6-5-7-4zM879 1628l7 4 6-5-7-4zM885 1623l7 4 6-4-7-4zM891 1619l7 4 5-5-7-4zM896 1614l7 4 6-5-7-3zM767 1726l7 5 6-6-7-4zM773 1721l7 4 7-5-7-4zM780 1716l7 4 7-5-8-4zM786 1711l8 4 6-5-7-5zM793 1705l7 5 6-5-7-5zM799 1700l7 5 7-6-7-4zM806 1695l7 4 6-5-7-4zM819 1685l7 4 6-5-7-4zM825 1680l7 4 6-5-7-4zM831 1675l7 4 6-5-7-4zM837 1670l7 4 7-5-7-4zM844 1665l7 4 6-5-7-4zM850 1660l7 4 6-4-7-4zM856 1656l7 4 6-5-7-4zM862 1651l7 4 6-5-7-4zM868 1646l7 4 6-5-7-4zM874 1641l7 4 6-5-7-3zM774 1731l7 4 7-5-8-5zM780 1725l8 5 6-5-7-5zM787 1720l7 5 7-6-7-4zM794 1715l7 4 6-5-7-4zM800 1710l7 4 7-5-8-4zM806 1705l8 4 6-5-7-5zM813 1699l7 5 6-5-7-5zM819 1694l7 5 7-6-7-4zM826 1689l7 4 6-5-7-4zM832 1684l7 4 6-5-7-4zM838 1679l7 4 7-5-8-4zM844 1674l8 4 6-5-7-4zM851 1669l7 4 6-4-7-5zM857 1664l7 5 6-5-7-4zM781 1735l7 5 7-6-7-4zM788 1730l7 4 6-5-7-4zM794 1725l7 4 7-5-7-5zM801 1719l7 5 6-6-7-4zM807 1714l7 4 7-5-7-4zM814 1709l7 4 6-5-7-4zM820 1704l7 4 7-5-8-4zM826 1699l8 4 6-5-7-5zM833 1693l7 5 6-5-7-5zM839 1688l7 5 6-5-7-5zM845 1683l7 5 7-5-7-5zM788 1740l7 4 7-5-7-5zM795 1734l7 5 7-6-8-4zM801 1729l8 4 6-5-7-4zM808 1724l7 4 7-5-8-5zM814 1718l8 5 6-5-7-5zM821 1713l7 5 6-6-7-4zM795 1744l8 5 6-6-7-4zM802 1739l7 4 7-5-7-5zM809 1733l7 5 6-6-7-4z"/>
<path fill="#ff9898" stroke="#ff9898" stroke-width="0.7" d="M738 1709l7 4 7-5-7-4zM745 1704l7 4 7-5-7-4zM752 1699l7 4 6-5-7-5zM758 1693l7 5 7-5-7-5zM765 1688l7 5 6-5-7-5zM771 1683l7 5 7-5-7-5zM778 1678l7 5 6-5-7-5zM784 1673l7 5 7-5-7-4zM791 1669l7 4 6-5-7-4zM797 1664l7 4 6-5-7-4zM900 1593l7 4 6-5-7-3zM907 1597l7 4 5-5-6-4zM902 1610l7 3 6-4-7-4zM812 1690l7 4 7-5-7-4zM880 1637l7 3 6-4-7-4zM886 1632l7 4 6-5-7-4zM863 1660l7 4 6-5-7-4zM869 1655l7 4 6-5-7-4zM852 1678l7 5 6-5-7-5zM827 1708l7 4 7-5-7-4zM834 1703l7 4 6-5-7-4zM815 1728l7 4 7-5-7-4zM803 1749l7 4 7-5-8-5z"/>
<path fill="#ffa0a0" stroke="#ffa0a0" stroke-width="0.7" d="M803 1659l7 4 6-5-6-4zM810 1654l6 4 7-5-7-4zM816 1649l7 4 6-5-7-4zM822 1644l7 4 6-4-7-4zM828 1640l7 4 6-5-7-4zM875 1650l7 4 6-5-7-4zM858 1673l7 5 6-5-7-4zM840 1698l7 4 6-5-7-4zM789 1750l7 4 7-5-8-5zM822 1723l7 4 6-5-7-4zM762 1782l7 5 7-6-7-5zM796 1754l7 5 7-6-7-4z"/>
<path fill="#ffa8a8" stroke="#ffa8a8" stroke-width="0.7" d="M732 1714l7 4 6-5-7-4zM834 1635l7 4 6-5-7-4zM840 1630l7 4 6-5-7-3zM739 1718l7 5 6-5-7-5zM746 1723l7 4 6-5-7-4zM753 1727l7 5 7-6-8-4zM908 1605l7 4 6-5-7-3zM760 1732l7 4 7-5-7-5zM892 1627l7 4 6-5-7-3zM767 1736l7 4 7-5-7-4zM774 1740l7 5 7-5-7-5zM781 1745l8 5 6-6-7-4zM828 1718l7 4 7-5-8-5zM809 1743l8 5 6-6-7-4z"/>
<path fill="#ffb0b0" stroke="#ffb0b0" stroke-width="0.7" d="M846 1626l7 3 6-4-7-4zM852 1621l7 4 6-5-7-4zM858 1616l7 4 6-4-7-4zM881 1645l7 4 6-5-7-4zM864 1669l7 4 6-5-7-4zM846 1693l7 4 7-5-8-4zM769 1787l8 4 7-5-8-5z"/>
<path fill="#ffb8b8" stroke="#ffb8b8" stroke-width="0.7" d="M864 1612l7 4 6-5-7-4zM870 1607l7 4 6-4-7-4zM876 1603l7 4 5-5-6-4zM882 1598l6 4 6-4-7-4zM914 1601l7 3 5-4-7-4zM898 1623l7 3 5-4-7-4zM789 1760l8 4 6-5-7-5zM816 1738l7 4 7-5-8-5z"/>
<path fill="#ffc0c0" stroke="#ffc0c0" stroke-width="0.7" d="M887 1594l7 4 6-5-7-4zM893 1589l7 4 6-4-7-4zM887 1640l7 4 6-4-7-4zM870 1664l7 4 6-5-7-4zM852 1688l8 4 6-5-7-4zM782 1755l7 5 7-6-7-4zM834 1712l8 5 6-6-7-4zM803 1759l8 4 6-5-7-5zM777 1791l7 5 7-6-7-4z"/>
<path fill="#ffc8c8" stroke="#ffc8c8" stroke-width="0.7" d="M906 1589l7 3 5-4-7-4zM913 1592l6 4 6-4-7-4zM903 1618l7 4 6-5-7-4zM841 1707l7 4 6-5-7-4zM822 1732l8 5 6-5-7-5zM797 1764l7 5 7-6-8-4zM777 1802l8 5 7-6-8-5z"/>
<path fill="#ffd0d0" stroke="#ffd0d0" stroke-width="0.7" d="M909 1613l7 4 6-4-7-4zM893 1636l7 4 6-5-7-4zM876 1659l7 4 6-5-7-4zM775 1750l7 5 7-5-8-5zM859 1683l7 4 6-5-7-4zM769 1776l7 5 7-6-7-4zM776 1771l7 4 7-5-8-5zM782 1765l8 5 7-6-8-4zM776 1781l8 5 6-6-7-5zM783 1775l7 5 7-6-7-4zM790 1770l7 4 7-5-7-5zM810 1753l7 5 7-6-7-4zM784 1786l7 4 7-5-8-5zM790 1780l8 5 7-6-8-5zM797 1774l8 5 6-6-7-4zM770 1808l8 5 7-6-8-5z"/>
<path fill="#ffd8d8" stroke="#ffd8d8" stroke-width="0.7" d="M865 1678l7 4 6-5-7-4zM761 1772l8 4 7-5-8-5zM768 1766l8 5 6-6-7-5zM775 1760l7 5 7-5-7-5zM847 1702l7 4 7-5-8-4zM829 1727l7 5 7-6-8-4zM756 1809l7 5 7-6-7-5zM784 1796l8 5 6-6-7-5z"/>
<path fill="#ffe0e0" stroke="#ffe0e0" stroke-width="0.7" d="M725 1719l7 5 7-6-7-4zM899 1585l7 4 5-5-7-3zM732 1724l7 4 7-5-7-5zM739 1728l7 4 7-5-7-4zM746 1732l7 5 7-5-7-5zM919 1596l7 4 6-5-7-3zM753 1737l7 4 7-5-7-4zM915 1609l7 4 6-5-7-4zM760 1741l7 5 7-6-7-4zM899 1631l7 4 6-5-7-4zM767 1746l8 4 6-5-7-5zM882 1654l7 4 6-5-7-4zM817 1748l7 4 6-5-7-5zM804 1769l7 4 7-5-7-5zM791 1790l7 5 7-6-7-4zM798 1785l7 4 7-5-7-5zM805 1779l7 5 7-6-8-5zM914 1912l8 6 7-7-9-5zM922 1918l8 5 7-7-8-5zM929 1911l8 5 7-6-8-6zM930 1923l9 6 7-7-9-6zM937 1916l9 6 7-7-9-5zM939 1929l9 5 6-6-8-6zM946 1922l8 6 7-7-8-6zM954 1928l9 5 7-7-9-5z"/>
<path fill="#ffe8e8" stroke="#ffe8e8" stroke-width="0.7" d="M871 1673l7 4 6-5-7-4zM853 1697l8 4 6-5-7-4zM835 1722l8 4 6-5-7-4zM872 1885l8 5 7-6-8-5zM879 1879l8 5 7-6-8-6zM886 1872l8 6 7-7-8-5zM893 1866l8 5 7-6-8-5zM880 1890l9 6 7-7-9-5zM887 1884l9 5 6-6-8-5zM894 1878l8 5 7-6-8-6zM901 1871l8 6 7-7-8-5zM889 1896l8 5 7-6-8-6zM896 1889l8 6 7-7-9-5zM902 1883l9 5 6-6-8-5zM909 1877l8 5 7-6-8-6zM897 1901l8 6 7-7-8-5zM904 1895l8 5 7-6-8-6zM911 1888l8 6 7-7-9-5zM917 1882l9 5 6-6-8-5zM924 1876l8 5 7-7-8-5zM905 1907l9 5 6-6-8-6zM912 1900l8 6 7-7-8-5zM919 1894l8 5 7-6-8-6zM926 1887l8 6 7-7-9-5zM932 1881l9 5 6-6-8-6zM920 1906l9 5 7-7-9-5zM927 1899l9 5 6-6-8-5zM934 1893l8 5 7-7-8-5zM941 1886l8 5 7-6-9-5zM936 1904l8 6 7-7-9-5zM942 1898l9 5 7-6-9-6zM944 1910l9 5 6-6-8-6zM951 1903l8 6 7-7-8-5zM953 1915l8 6 7-7-9-5zM959 1909l9 5 7-6-9-6zM948 1934l8 6 7-7-9-5zM961 1921l9 5 6-6-8-6zM968 1914l8 6 7-7-8-5z"/>
<path fill="#fff0f0" stroke="#fff0f0" stroke-width="0.7" d="M921 1604l7 4 5-4-7-4zM888 1649l7 4 6-5-7-4zM754 1767l7 5 7-6-7-5zM761 1761l7 5 7-6-7-4zM768 1756l7 4 7-5-7-5zM823 1742l7 5 7-6-7-4zM811 1763l7 5 7-6-8-4zM763 1814l8 5 7-6-8-5zM811 1773l8 5 6-6-7-4zM864 1880l8 5 7-6-8-6zM871 1873l8 6 7-7-8-5zM878 1867l8 5 7-6-8-5zM885 1861l8 5 7-6-8-5zM900 1860l8 5 7-6-9-5zM908 1865l8 5 7-6-8-5zM916 1870l8 6 7-7-8-5zM923 1864l8 5 7-6-9-5zM931 1869l8 5 7-6-8-5zM939 1874l8 6 7-7-8-5zM947 1880l9 5 6-6-8-6zM949 1891l9 6 6-7-8-5zM956 1885l8 5 7-6-9-5zM958 1897l8 5 7-6-9-6zM964 1890l9 6 6-7-8-5zM966 1902l9 6 6-7-8-5zM973 1896l8 5 7-6-9-6zM975 1908l8 5 7-6-9-6zM981 1901l9 6 6-7-8-5z"/>
<path fill="#fff8f8" stroke="#fff8f8" stroke-width="0.7" d="M926 1600l7 4 6-5-7-4zM905 1626l7 4 5-4-7-4zM860 1692l7 4 6-5-7-4zM842 1717l7 4 6-5-7-5zM785 1807l7 5 7-6-7-5zM792 1801l7 5 7-6-8-5zM798 1795l8 5 7-6-8-5zM805 1789l8 5 7-5-8-5zM812 1784l8 5 6-6-7-5zM840 1864l8 5 7-6-8-5zM847 1858l8 5 7-6-8-5zM848 1869l8 5 7-6-8-5zM855 1863l8 5 7-6-8-5zM862 1857l8 5 7-6-8-5zM856 1874l8 6 7-7-8-5zM863 1868l8 5 7-6-8-5zM870 1862l8 5 7-6-8-5zM877 1856l8 5 7-6-8-5zM884 1850l8 5 6-6-8-6zM890 1843l8 6 7-7-8-5zM897 1837l8 5 7-6-8-5zM892 1855l8 5 6-6-8-5zM898 1849l8 5 7-6-8-6zM905 1842l8 6 7-7-8-5zM912 1836l8 5 6-6-8-5zM906 1854l9 5 6-6-8-5zM913 1848l8 5 7-6-8-6zM915 1859l8 5 6-6-8-5zM921 1853l8 5 7-6-8-5zM929 1858l9 5 6-6-8-5zM936 1852l8 5 7-6-8-6zM938 1863l8 5 6-6-8-5zM944 1857l8 5 7-6-8-5zM946 1868l8 5 7-6-9-5zM952 1862l9 5 6-6-8-5zM965 1850l9 5 6-6-8-6zM954 1873l8 6 7-7-8-5zM961 1867l8 5 7-6-9-5zM974 1855l8 5 6-6-8-5zM980 1849l8 5 7-6-8-6zM962 1879l9 5 6-6-8-6zM969 1872l8 6 7-7-8-5zM982 1860l8 5 7-6-9-5zM971 1884l8 5 7-6-9-5zM977 1878l9 5 6-6-8-6zM979 1889l9 6 6-7-8-5zM986 1883l8 5 7-6-9-5zM988 1895l8 5 7-6-9-6zM994 1888l9 6 6-7-8-5z"/>
<path fill="none" stroke="#334" stroke-opacity="0.6" stroke-width="0.6" d="M676.4 1756.8L904.5 1580.6M676.4 1756.8L956.1 1939.9M681.6 1760.3L909.6 1583.4M681.7 1752.7L961.2 1934.8M686.9 1763.7L914.7 1586.1M687.0 1748.6L966.3 1929.8M692.2 1767.2L919.9 1588.9M692.2 1744.6L971.4 1924.7M697.5 1770.7L925.0 1591.6M697.5 1740.5L976.4 1919.7M702.8 1774.2L930.2 1594.4M702.7 1736.5L981.4 1914.8M708.2 1777.7L935.4 1597.2M707.9 1732.5L986.4 1909.8M713.6 1781.2L940.7 1600.0M713.0 1728.5L991.4 1904.9M719.0 1784.7L945.9 1602.8M718.2 1724.5L996.3 1900.0M724.4 1788.3L951.2 1605.6M723.3 1720.6L1001.2 1895.2M729.9 1791.9L956.4 1608.4M728.4 1716.7L1006.1 1890.3M735.4 1795.4L961.7 1611.3M733.4 1712.7L1010.9 1885.5M740.9 1799.0L967.1 1614.1M738.5 1708.9L1015.8 1880.7M746.4 1802.7L972.4 1617.0M743.5 1705.0L1020.5 1876.0M752.0 1806.3L977.8 1619.9M748.5 1701.1L1025.3 1871.3M757.5 1809.9L983.2 1622.7M753.4 1697.3L1030.1 1866.6M763.1 1813.6L988.6 1625.6M758.4 1693.5L1034.8 1861.9M768.8 1817.3L994.0 1628.5M763.3 1689.7L1039.5 1857.2M774.4 1821.0L999.4 1631.5M768.2 1685.9L1044.1 1852.6M780.1 1824.7L1004.9 1634.4M773.0 1682.2L1048.8 1848.0M785.8 1828.4L1010.4 1637.3M777.9 1678.4L1053.4 1843.4M791.5 1832.2L1015.9 1640.3M782.7 1674.7L1058.0 1838.9M797.3 1835.9L1021.4 1643.2M787.5 1671.0L1062.5 1834.3M803.0 1839.7L1027.0 1646.2M792.2 1667.3L1067.1 1829.8M808.8 1843.5L1032.6 1649.2M797.0 1663.7L1071.6 1825.3M814.7 1847.3L1038.2 1652.2M801.7 1660.0L1076.1 1820.9M820.5 1851.2L1043.8 1655.2M806.4 1656.4L1080.6 1816.5M826.4 1855.0L1049.4 1658.2M811.1 1652.8L1085.0 1812.0M832.3 1858.9L1055.1 1661.2M815.8 1649.2L1089.4 1807.7M838.2 1862.7L1060.8 1664.3M820.4 1645.6L1093.8 1803.3M844.2 1866.6L1066.5 1667.3M825.0 1642.0L1098.2 1799.0M850.2 1870.6L1072.2 1670.4M829.6 1638.5L1102.6 1794.6M856.2 1874.5L1078.0 1673.5M834.2 1634.9L1106.9 1790.3M862.2 1878.4L1083.8 1676.6M838.7 1631.4L1111.2 1786.1M868.3 1882.4L1089.6 1679.7M843.3 1627.9L1115.5 1781.8M874.4 1886.4L1095.4 1682.8M847.8 1624.5L1119.7 1777.6M880.5 1890.4L1101.2 1685.9M852.2 1621.0L1124.0 1773.4M886.6 1894.4L1107.1 1689.1M856.7 1617.5L1128.2 1769.2M892.8 1898.5L1113.0 1692.2M861.2 1614.1L1132.4 1765.0M899.0 1902.5L1118.9 1695.4M865.6 1610.7L1136.6 1760.9M905.2 1906.6L1124.8 1698.6M870.0 1607.3L1140.7 1756.7M911.5 1910.7L1130.8 1701.8M874.4 1603.9L1144.9 1752.6M917.8 1914.8L1136.8 1705.0M878.7 1600.5L1149.0 1748.6M924.1 1918.9L1142.8 1708.2M883.1 1597.2L1153.1 1744.5M930.4 1923.1L1148.9 1711.4M887.4 1593.8L1157.2 1740.5M936.8 1927.3L1154.9 1714.7M891.7 1590.5L1161.2 1736.4M943.2 1931.5L1161.0 1717.9M896.0 1587.2L1165.3 1732.4M949.7 1935.7L1167.1 1721.2M900.3 1583.9L1169.3 1728.5M956.1 1939.9L1173.3 1724.5M904.5 1580.6L1173.3 1724.5"/>
<g stroke="#334" stroke-opacity="0.6" stroke-width="0.6" stroke-linejoin="round">
<path fill="#e05858" d="M703 1733l7-2 8 13-7-4z"/>
<path fill="#e86060" d="M710 1731l7 12 9 6-8-5z"/>
<path fill="#e07070" d="M717 1743l7 2 9 8-7-4z"/>
<path fill="#0000e0" stroke="#0000e0" stroke-opacity="1" stroke-width="0.5" d="M691 1825l0-19-1-26 0 14zM690 1794l0-14 0-27-1 8zM691 1806l0-20 0-21-1 15zM691 1786l-1-20 1-16 0 15z"/>
<path fill="#e00000" stroke="#e00000" stroke-opacity="1" stroke-width="0.5" d="M689 1761l1-8-1-28-2 3zM690 1753l1-9 0-22-2 3zM691 1765l0-15 1-15-1 9zM691 1744l1-9 1-16-2 3z"/>
<path fill="#e0d8d8" stroke="#e0d8d8" stroke-opacity="1" stroke-width="0.5" d="M690 1780l1-15 0-21-1 9z"/>
<path fill="#e80000" stroke="#e80000" stroke-opacity="1" stroke-width="0.5" d="M690 1602l8 48 5 28-5-31zM698 1647l5 31 6 27-4-16zM705 1689l4 16 5 26-3-1zM698 1650l7 46 4 12-6-30zM703 1678l6 30 3 13-3-16zM705 1696l6 44 3-2-5-30z"/>
<path fill="#e83030" stroke="#e83030" stroke-opacity="1" stroke-width="0.5" d="M709 1705l3 16 4 12-2-2zM709 1708l5 30 2-2-4-15z"/>
<path fill="#e8a8a8" stroke="#e8a8a8" stroke-opacity="1" stroke-width="0.5" d="M712 1721l4 15 2-2-2-1z"/>
<path fill="#e88080" d="M724 1745l8 9 8 4-7-5z"/>
<path fill="#e88888" d="M732 1754l7 2 8 6-7-4z"/>
<path fill="#0000f8" stroke="#0000f8" stroke-opacity="1" stroke-width="0.5" d="M695 1769l2 2 4 7-3-9zM698 1769l3 9 3 8-4-17zM700 1769l4 17 4 8-5-25z"/>
<path fill="#f80000" stroke="#f80000" stroke-opacity="1" stroke-width="0.5" d="M691 1750l3 10 2-8-4-17zM692 1735l4 17 2-8-5-25z"/>
<path fill="#f89898" stroke="#f89898" stroke-opacity="1" stroke-width="0.5" d="M690 1766l3 2 1-8-3-10zM696 1752l4 17 3 0-5-25z"/>
<path fill="#f8b8b8" stroke="#f8b8b8" stroke-opacity="1" stroke-width="0.5" d="M694 1760l4 9 2 0-4-17z"/>
<path fill="#f8e0e0" stroke="#f8e0e0" stroke-opacity="1" stroke-width="0.5" d="M693 1768l2 1 3 0-4-9z"/>
<path fill="#0000e0" stroke="#0000e0" stroke-opacity="1" stroke-width="0.5" d="M697 1771l3 1 3 1-2 5zM701 1778l2-5 2 1-1 12zM704 1786l1-12 3 1 0 19z"/>
<path fill="#e00000" stroke="#e00000" stroke-opacity="1" stroke-width="0.5" d="M706 1762l1-12 1-12 0 19z"/>
<path fill="#e02828" stroke="#e02828" stroke-opacity="1" stroke-width="0.5" d="M704 1768l2-5 1-13-1 12z"/>
<path fill="#e0a0a0" stroke="#e0a0a0" stroke-opacity="1" stroke-width="0.5" d="M702 1774l3 1 1-12-2 5z"/>
<path fill="#e0d0d0" stroke="#e0d0d0" stroke-opacity="1" stroke-width="0.5" d="M703 1773l1-5 2-6-1 12zM705 1774l1-12 2-5 0 18z"/>
<path fill="#e0d8d8" stroke="#e0d8d8" stroke-opacity="1" stroke-width="0.5" d="M700 1772l2 2 2-6-1 5z"/>
<path fill="#e89090" d="M739 1756l8 9 7 2-7-5z"/>
<path fill="#0000f0" stroke="#0000f0" stroke-opacity="1" stroke-width="0.5" d="M681 1780l5 23-1-34-5-25zM686 1803l5 22-1-31-5-25zM685 1769l5 25-1-33-6-27z"/>
<path fill="#f00000" stroke="#f00000" stroke-opacity="1" stroke-width="0.5" d="M674 1718l6 26-2-37-6-29zM672 1678l6 29-2-39-6-31zM680 1744l5 25-2-35-5-27zM678 1707l5 27-1-36-6-30zM683 1734l6 27-2-33-5-30z"/>
<path fill="#f07878" stroke="#f07878" stroke-opacity="1" stroke-width="0.5" d="M676 1757l5 23-1-36-6-26z"/>
<path fill="#e89090" d="M747 1765l7 3 7 2-7-3z"/>
<path fill="#f09090" d="M754 1768l7 7 8-1-8-4z"/>
<path fill="#f00000" d="M705 1775l7 5 5-26-9-16z"/>
<path fill="#f01818" d="M712 1780l7 4 5-31-7 1z"/>
<path fill="#e00000" stroke="#e00000" stroke-opacity="1" stroke-width="0.5" d="M690 1686l2-9 4 19-1 6zM695 1702l1-6 5 18-2 3zM699 1717l2-3 4 18-2 1zM692 1677l1-9 5 22-2 6zM696 1696l2-6 5 21-2 3zM701 1714l2-3 4 21-2 0zM693 1668l1-9 6 25-2 6zM698 1690l2-6 5 24-2 3zM703 1711l2-3 5 23-3 1z"/>
<path fill="#0000e0" stroke="#0000e0" stroke-opacity="1" stroke-width="0.5" d="M708 1794l0-19 0-25-1 13z"/>
<path fill="#e00000" stroke="#e00000" stroke-opacity="1" stroke-width="0.5" d="M705 1700l2-3 5 16-2 1zM710 1714l2-1 4 15-2 1zM714 1729l2-1 4 15-3 0zM707 1697l2-3 5 17-2 2zM712 1713l2-2 4 17-2 0zM716 1728l2 0 4 16-2-1zM709 1694l2-3 5 18-2 2zM714 1711l2-2 4 18-2 1zM718 1728l2-1 4 18-2-1zM707 1763l1-13 0-26-2 8zM706 1732l2-8-1-27-2 3zM708 1750l1-14 0-21-1 9zM708 1724l1-9 0-21-2 3zM708 1757l0-19 1-16 0 14zM709 1736l0-14 1-15-1 8zM709 1715l1-8 1-16-2 3zM694 1659l4 14 5 21-3-10zM700 1684l3 10 5 21-3-7zM705 1708l3 7 4 20-2-4zM698 1673l4 13 4 18-3-10zM703 1694l3 10 5 18-3-7zM708 1715l3 7 4 17-3-4zM702 1686l3 14 5 14-4-10zM706 1704l4 10 4 15-3-7zM711 1722l3 7 3 14-2-4zM711 1691l4 10 4 16-3-8zM716 1709l3 8 4 16-3-6zM720 1727l3 6 4 15-3-3zM715 1701l3 11 4 13-3-8zM719 1717l3 8 4 13-3-5zM723 1733l3 5 3 13-2-3zM718 1712l3 10 4 11-3-8zM722 1725l3 8 4 11-3-6zM726 1738l3 6 3 10-3-3z"/>
<path fill="#e01818" stroke="#e01818" stroke-opacity="1" stroke-width="0.5" d="M708 1775l0-18 1-21-1 14z"/>
<path fill="#f00000" stroke="#f00000" stroke-opacity="1" stroke-width="0.5" d="M686 1637l6 33 2-7-6-37zM688 1626l6 37 2-6-7-43zM689 1614l7 43 2-7-8-48zM692 1670l6 32 2-2-6-37zM694 1663l6 37 2-2-6-41zM696 1657l6 41 3-2-7-46zM698 1702l5 31 3 2-6-35zM700 1700l6 35 3 2-7-39zM702 1698l7 39 2 3-6-44z"/>
<path fill="#f83030" d="M719 1784l7 5 6-21-8-15z"/>
<path fill="#0000f0" stroke="#0000f0" stroke-opacity="1" stroke-width="0.5" d="M703 1769l5 25-1-31-5-21z"/>
<path fill="#e00000" d="M721 1722l7-9 11 43-7-2z"/>
<path fill="#f00000" stroke="#f00000" stroke-opacity="1" stroke-width="0.5" d="M693 1719l5 25 0-23-5-22zM693 1699l5 22 0-24-4-18zM694 1679l4 18 0-24-4-14zM698 1744l5 25-1-27-4-21zM698 1721l4 21 0-27-4-18zM698 1697l4 18 0-29-4-13zM702 1742l5 21-1-31-4-17zM702 1715l4 17-1-32-3-14z"/>
<path fill="#f04848" d="M726 1789l8 5 5-24-7-2z"/>
<path fill="#e00000" d="M728 1713l9 30 10 22-8-9zM737 1743l7-3 10 28-7-3z"/>
<path fill="#f86060" d="M734 1794l7 5 6-17-8-12z"/>
<path fill="#e00000" d="M753 1761l8 9 8 10-8-5zM744 1740l9 21 8 14-7-7z"/>
<path fill="#e82020" d="M761 1770l8 14 7 3-7-7z"/>
<path fill="#f07070" d="M769 1784l8 12 7-3-8-6z"/>
<path fill="#f89090" d="M741 1799l7 5 7-15-8-7z"/>
<path fill="#e80000" stroke="#e80000" stroke-opacity="1" stroke-width="0.5" d="M687 1728l2-3 1-16-2 5zM688 1714l2-5 1-16-2 7zM689 1700l2-7 1-16-2 9zM689 1725l2-3 1-18-2 5zM690 1709l2-5 0-18-1 7zM691 1693l1-7 1-18-1 9zM691 1722l2-3 0-20-1 5zM692 1704l1-5 1-20-2 7zM692 1686l2-7 0-20-1 9z"/>
<path fill="#f8b0b0" d="M748 1804l8 5 6-11-7-9z"/>
<path fill="#ff7878" d="M762 1798l8 7 7-9-8-12z"/>
<path fill="#e80000" d="M717 1754l7-1 4-40-7 9z"/>
<path fill="#f00000" d="M732 1768l7 2 5-30-7 3z"/>
<path fill="#f80000" d="M747 1782l8 7 6-19-8-9zM708 1738l9 16 4-32-10-31zM724 1753l8 15 5-25-9-30z"/>
<path fill="#f81010" d="M755 1789l7 9 7-14-8-14z"/>
<path fill="#f80000" d="M739 1770l8 12 6-21-9-21z"/>
<path fill="#e80000" stroke="#e80000" stroke-opacity="1" stroke-width="0.5" d="M659 1469l11 78 8 43-9-61zM669 1529l9 61 7 41-7-46zM678 1585l7 46 7 39-6-33zM670 1547l11 72 6 28-9-57zM678 1590l9 57 5 28-7-44zM685 1631l7 44 6 27-6-32zM681 1619l9 67 5 16-8-55zM687 1647l8 55 4 15-7-42zM692 1675l7 42 4 16-5-31z"/>
<path fill="#f00000" stroke="#f00000" stroke-opacity="1" stroke-width="0.5" d="M670 1637l6 31-2-39-8-45zM666 1584l8 45-2-40-9-61zM663 1528l9 61-2-42-11-78zM676 1668l6 30-1-26-7-43zM674 1629l7 43 0-26-9-57zM672 1589l9 57 0-27-11-72zM682 1698l5 30 1-14-7-42zM681 1672l7 42 1-14-8-54zM681 1646l8 54 1-14-9-67z"/>
</g>
<g fill="none" stroke-linecap="butt">
<path d="M676.4 1756.8L956.1 1939.9" stroke="#3a3a3a" stroke-width="2.2"/>
<path d="M956.1 1939.9L1173.3 1724.5" stroke="#3a3a3a" stroke-width="2.2"/>
<path d="M676.4 1756.8L641 1468.3" stroke="#3a3a3a" stroke-width="2.2"/>
<path d="M676.4 1756.8L669.2 1762.3" stroke="#3a3a3a" stroke-width="1.8"/>
<path d="M701.8 1773.5L697.9 1776.5" stroke="#3a3a3a" stroke-width="1.8"/>
<path d="M727.7 1790.4L720.7 1796.1" stroke="#3a3a3a" stroke-width="1.8"/>
<path d="M754.2 1807.8L750.3 1810.9" stroke="#3a3a3a" stroke-width="1.8"/>
<path d="M781.2 1825.4L774.4 1831.3" stroke="#3a3a3a" stroke-width="1.8"/>
<path d="M808.8 1843.5L805.1 1846.8" stroke="#3a3a3a" stroke-width="1.8"/>
<path d="M837 1862L830.3 1868" stroke="#3a3a3a" stroke-width="1.8"/>
<path d="M865.8 1880.8L862.1 1884.2" stroke="#3a3a3a" stroke-width="1.8"/>
<path d="M895.3 1900.1L888.7 1906.2" stroke="#3a3a3a" stroke-width="1.8"/>
<path d="M925.4 1919.8L921.8 1923.2" stroke="#3a3a3a" stroke-width="1.8"/>
<path d="M956.1 1939.9L949.7 1946.2" stroke="#3a3a3a" stroke-width="1.8"/>
<path d="M956.1 1939.9L963.6 1944.8" stroke="#3a3a3a" stroke-width="1.8"/>
<path d="M980.4 1915.8L984.7 1918.5" stroke="#3a3a3a" stroke-width="1.8"/>
<path d="M1004.1 1892.3L1011.8 1897" stroke="#3a3a3a" stroke-width="1.8"/>
<path d="M1027.2 1869.4L1031.5 1872" stroke="#3a3a3a" stroke-width="1.8"/>
<path d="M1049.7 1847.1L1057.4 1851.7" stroke="#3a3a3a" stroke-width="1.8"/>
<path d="M1071.6 1825.3L1075.9 1827.9" stroke="#3a3a3a" stroke-width="1.8"/>
<path d="M1092.9 1804.2L1100.7 1808.7" stroke="#3a3a3a" stroke-width="1.8"/>
<path d="M1113.8 1783.5L1118.1 1786" stroke="#3a3a3a" stroke-width="1.8"/>
<path d="M1134.1 1763.4L1142 1767.7" stroke="#3a3a3a" stroke-width="1.8"/>
<path d="M1153.9 1743.7L1158.3 1746.1" stroke="#3a3a3a" stroke-width="1.8"/>
<path d="M1173.3 1724.5L1181.2 1728.7" stroke="#3a3a3a" stroke-width="1.8"/>
<path d="M676.4 1756.8L669.2 1762.3" stroke="#3a3a3a" stroke-width="1.8"/>
<path d="M671.2 1714.5L664 1719.9" stroke="#3a3a3a" stroke-width="1.8"/>
<path d="M665.7 1670.1L658.5 1675.4" stroke="#3a3a3a" stroke-width="1.8"/>
<path d="M660 1623.4L652.7 1628.6" stroke="#3a3a3a" stroke-width="1.8"/>
<path d="M654 1574.4L646.6 1579.4" stroke="#3a3a3a" stroke-width="1.8"/>
<path d="M647.7 1522.8L640.2 1527.7" stroke="#3a3a3a" stroke-width="1.8"/>
<path d="M641 1468.3L633.4 1473.1" stroke="#3a3a3a" stroke-width="1.8"/>
</g>
<g font-family="'Liberation Sans', Arial, sans-serif" fill="#1a1a1a">
<text transform="matrix(1.0289 -0.7946 0.8367 0.5476 671.1 1769.2)" font-size="19.989805223961913" text-anchor="end">0</text>
<text transform="matrix(1.0878 0.7119 -0.7099 0.7043 962.9 1952.5)" font-size="19.989805223961913" text-anchor="start">0</text>
<text transform="matrix(1.0111 -0.8171 0.8367 0.5476 722.7 1803.1)" font-size="19.989805223961913" text-anchor="end">2</text>
<text transform="matrix(1.1016 0.6902 -0.7099 0.7043 1011 1904.6)" font-size="19.989805223961913" text-anchor="start">2</text>
<text transform="matrix(0.9918 -0.8404 0.8367 0.5476 776.4 1838.3)" font-size="19.989805223961913" text-anchor="end">4</text>
<text transform="matrix(1.1143 0.6696 -0.7099 0.7043 1056.7 1859.2)" font-size="19.989805223961913" text-anchor="start">4</text>
<text transform="matrix(0.9708 -0.8647 0.8367 0.5476 832.4 1875.1)" font-size="19.989805223961913" text-anchor="end">6</text>
<text transform="matrix(1.1259 0.6499 -0.7099 0.7043 1100.1 1816.1)" font-size="19.989805223961913" text-anchor="start">6</text>
<text transform="matrix(0.9479 -0.8897 0.8367 0.5476 890.9 1913.5)" font-size="19.989805223961913" text-anchor="end">8</text>
<text transform="matrix(1.1365 0.6312 -0.7099 0.7043 1141.4 1775.1)" font-size="19.989805223961913" text-anchor="start">8</text>
<text transform="matrix(0.9229 -0.9156 0.8367 0.5476 952 1953.6)" font-size="19.989805223961913" text-anchor="end">10</text>
<text transform="matrix(1.1462 0.6135 -0.7099 0.7043 1180.6 1736)" font-size="19.989805223961913" text-anchor="start">10</text>
<text transform="matrix(1.0685 -0.8251 0.1216 0.9926 666.9 1771.7)" font-size="19.989805223961913" text-anchor="end">0.0</text>
<text transform="matrix(1.0799 -0.8101 0.1216 0.9926 661.6 1729.2)" font-size="19.989805223961913" text-anchor="end">0.5</text>
<text transform="matrix(1.0919 -0.7939 0.1216 0.9926 656.1 1684.7)" font-size="19.989805223961913" text-anchor="end">1.0</text>
<text transform="matrix(1.1044 -0.7765 0.1216 0.9926 650.2 1637.9)" font-size="19.989805223961913" text-anchor="end">1.5</text>
<text transform="matrix(1.1174 -0.7575 0.1216 0.9926 644.1 1588.6)" font-size="19.989805223961913" text-anchor="end">2.0</text>
<text transform="matrix(1.1311 -0.7370 0.1216 0.9926 637.7 1536.8)" font-size="19.989805223961913" text-anchor="end">2.5</text>
<text transform="matrix(1.1453 -0.7147 0.1216 0.9926 630.8 1482.2)" font-size="19.989805223961913" text-anchor="end">3.0</text>
<text transform="matrix(0.9204 0.6024 -0.7550 0.6557 759 1886.8)" font-size="26.98623705234858" text-anchor="middle">Distance (mm)</text>
<text transform="matrix(0.7809 -0.7747 0.8617 0.5074 1128.4 1858.8)" font-size="26.98623705234858" text-anchor="middle">Distance (mm)</text>
<text transform="matrix(-0.1277 -1.0422 0.8180 -0.5752 592 1629.5)" font-size="24.98725652995239" text-anchor="middle">j<tspan font-size="18.9" dy="5">z</tspan><tspan dy="-5"> (A m</tspan><tspan font-size="18.9" dy="-9">-2</tspan><tspan dy="9">)</tspan></text>
</g>
<defs><linearGradient id="cb704" x1="0" y1="0" x2="0" y2="1">
<stop offset="0" stop-color="#ff0000"/><stop offset="0.06" stop-color="#ff0a0a"/><stop offset="0.82" stop-color="#fff6f6"/><stop offset="0.845" stop-color="#ffffff"/><stop offset="0.86" stop-color="#e8e8ff"/><stop offset="1" stop-color="#0000ff"/>
</linearGradient></defs>
<rect x="704.1" y="153.6" width="36.6" height="351.5" fill="url(#cb704)" stroke="#666" stroke-width="1"/>
<g font-family="'Liberation Sans', Arial, sans-serif" font-size="28.5" fill="#111">
<path d="M740.7 158.6L750.7 158.6" stroke="#777" stroke-width="1.8"/>
<text x="759.2" y="168.8">0.1</text>
<path d="M740.7 215.4L750.7 215.4" stroke="#777" stroke-width="1.8"/>
<text x="759.2" y="225.6">0.08</text>
<path d="M740.7 272.3L750.7 272.3" stroke="#777" stroke-width="1.8"/>
<text x="759.2" y="282.5">0.06</text>
<path d="M740.7 329.1L750.7 329.1" stroke="#777" stroke-width="1.8"/>
<text x="759.2" y="339.3">0.04</text>
<path d="M740.7 385.9L750.7 385.9" stroke="#777" stroke-width="1.8"/>
<text x="759.2" y="396.1">0.02</text>
<path d="M740.7 442.8L750.7 442.8" stroke="#777" stroke-width="1.8"/>
<text x="759.2" y="453">0</text>
<path d="M740.7 499.6L750.7 499.6" stroke="#777" stroke-width="1.8"/>
<text x="759.2" y="509.8">-0.02</text>
</g>
<text transform="translate(707.6 117.6) scale(1.1 1)" font-family="'Liberation Sans', Arial, sans-serif" font-size="25.3" fill="#111">j<tspan font-size="18.5" dy="7">z</tspan><tspan dy="-7"> (A m</tspan><tspan font-size="18.5" dy="-10.5">-2</tspan><tspan dy="10.5">)</tspan></text>
<defs><linearGradient id="cb1651" x1="0" y1="0" x2="0" y2="1">
<stop offset="0" stop-color="#ff0000"/><stop offset="0.06" stop-color="#ff0a0a"/><stop offset="0.82" stop-color="#fff6f6"/><stop offset="0.845" stop-color="#ffffff"/><stop offset="0.86" stop-color="#e8e8ff"/><stop offset="1" stop-color="#0000ff"/>
</linearGradient></defs>
<rect x="1651.6" y="142.7" width="37.8" height="351.6" fill="url(#cb1651)" stroke="#666" stroke-width="1"/>
<g font-family="'Liberation Sans', Arial, sans-serif" font-size="28.5" fill="#111">
<path d="M1689.4 147.7L1699.4 147.7" stroke="#777" stroke-width="1.8"/>
<text x="1707.9" y="157.9">0.1</text>
<path d="M1689.4 204.5L1699.4 204.5" stroke="#777" stroke-width="1.8"/>
<text x="1707.9" y="214.8">0.08</text>
<path d="M1689.4 261.4L1699.4 261.4" stroke="#777" stroke-width="1.8"/>
<text x="1707.9" y="271.6">0.06</text>
<path d="M1689.4 318.2L1699.4 318.2" stroke="#777" stroke-width="1.8"/>
<text x="1707.9" y="328.5">0.04</text>
<path d="M1689.4 375.1L1699.4 375.1" stroke="#777" stroke-width="1.8"/>
<text x="1707.9" y="385.3">0.02</text>
<path d="M1689.4 431.9L1699.4 431.9" stroke="#777" stroke-width="1.8"/>
<text x="1707.9" y="442.2">0</text>
<path d="M1689.4 488.8L1699.4 488.8" stroke="#777" stroke-width="1.8"/>
<text x="1707.9" y="499">-0.02</text>
</g>
<text transform="translate(1655.1 106.7) scale(1.1 1)" font-family="'Liberation Sans', Arial, sans-serif" font-size="25.3" fill="#111">j<tspan font-size="18.5" dy="7">z</tspan><tspan dy="-7"> (A m</tspan><tspan font-size="18.5" dy="-10.5">-2</tspan><tspan dy="10.5">)</tspan></text>
<defs><linearGradient id="cb745" x1="0" y1="0" x2="0" y2="1">
<stop offset="0" stop-color="#ff0000"/><stop offset="0.06" stop-color="#ff0a0a"/><stop offset="0.82" stop-color="#fff6f6"/><stop offset="0.845" stop-color="#ffffff"/><stop offset="0.86" stop-color="#e8e8ff"/><stop offset="1" stop-color="#0000ff"/>
</linearGradient></defs>
<rect x="745.9" y="849.6" width="37.1" height="350.9" fill="url(#cb745)" stroke="#666" stroke-width="1"/>
<g font-family="'Liberation Sans', Arial, sans-serif" font-size="28.5" fill="#111">
<path d="M783 854.6L793 854.6" stroke="#777" stroke-width="1.8"/>
<text x="801.5" y="864.8">0.1</text>
<path d="M783 911.3L793 911.3" stroke="#777" stroke-width="1.8"/>
<text x="801.5" y="921.5">0.08</text>
<path d="M783 968.1L793 968.1" stroke="#777" stroke-width="1.8"/>
<text x="801.5" y="978.3">0.06</text>
<path d="M783 1024.8L793 1024.8" stroke="#777" stroke-width="1.8"/>
<text x="801.5" y="1035">0.04</text>
<path d="M783 1081.5L793 1081.5" stroke="#777" stroke-width="1.8"/>
<text x="801.5" y="1091.7">0.02</text>
<path d="M783 1138.3L793 1138.3" stroke="#777" stroke-width="1.8"/>
<text x="801.5" y="1148.5">0</text>
<path d="M783 1195L793 1195" stroke="#777" stroke-width="1.8"/>
<text x="801.5" y="1205.2">-0.02</text>
</g>
<text transform="translate(749.4 813.6) scale(1.1 1)" font-family="'Liberation Sans', Arial, sans-serif" font-size="25.3" fill="#111">j<tspan font-size="18.5" dy="7">z</tspan><tspan dy="-7"> (A m</tspan><tspan font-size="18.5" dy="-10.5">-2</tspan><tspan dy="10.5">)</tspan></text>
<defs><linearGradient id="cb1695" x1="0" y1="0" x2="0" y2="1">
<stop offset="0" stop-color="#ff0000"/><stop offset="0.06" stop-color="#ff0a0a"/><stop offset="0.82" stop-color="#fff6f6"/><stop offset="0.845" stop-color="#ffffff"/><stop offset="0.86" stop-color="#e8e8ff"/><stop offset="1" stop-color="#0000ff"/>
</linearGradient></defs>
<rect x="1695.5" y="840.4" width="36.8" height="340" fill="url(#cb1695)" stroke="#666" stroke-width="1"/>
<g font-family="'Liberation Sans', Arial, sans-serif" font-size="27.6" fill="#111">
<path d="M1732.3 845.2L1742 845.2" stroke="#777" stroke-width="1.8"/>
<text x="1750.2" y="855.1">0.1</text>
<path d="M1732.3 900.2L1742 900.2" stroke="#777" stroke-width="1.8"/>
<text x="1750.2" y="910.1">0.08</text>
<path d="M1732.3 955.2L1742 955.2" stroke="#777" stroke-width="1.8"/>
<text x="1750.2" y="965.1">0.06</text>
<path d="M1732.3 1010.2L1742 1010.2" stroke="#777" stroke-width="1.8"/>
<text x="1750.2" y="1020">0.04</text>
<path d="M1732.3 1065.1L1742 1065.1" stroke="#777" stroke-width="1.8"/>
<text x="1750.2" y="1075">0.02</text>
<path d="M1732.3 1120.1L1742 1120.1" stroke="#777" stroke-width="1.8"/>
<text x="1750.2" y="1130">0</text>
<path d="M1732.3 1175.1L1742 1175.1" stroke="#777" stroke-width="1.8"/>
<text x="1750.2" y="1184.9">-0.02</text>
</g>
<text transform="translate(1698.9 805.6) scale(1.1 1)" font-family="'Liberation Sans', Arial, sans-serif" font-size="24.5" fill="#111">j<tspan font-size="17.9" dy="6.8">z</tspan><tspan dy="-6.8"> (A m</tspan><tspan font-size="17.9" dy="-10.2">-2</tspan><tspan dy="10.2">)</tspan></text>
<defs><linearGradient id="cb1266" x1="0" y1="0" x2="0" y2="1">
<stop offset="0" stop-color="#ff0000"/><stop offset="0.06" stop-color="#ff0a0a"/><stop offset="0.82" stop-color="#fff6f6"/><stop offset="0.845" stop-color="#ffffff"/><stop offset="0.86" stop-color="#e8e8ff"/><stop offset="1" stop-color="#0000ff"/>
</linearGradient></defs>
<rect x="1266.8" y="1443.5" width="37.4" height="350.6" fill="url(#cb1266)" stroke="#666" stroke-width="1"/>
<g font-family="'Liberation Sans', Arial, sans-serif" font-size="28.5" fill="#111">
<path d="M1304.2 1448.5L1314.2 1448.5" stroke="#777" stroke-width="1.8"/>
<text x="1322.7" y="1458.7">0.1</text>
<path d="M1304.2 1505.2L1314.2 1505.2" stroke="#777" stroke-width="1.8"/>
<text x="1322.7" y="1515.4">0.08</text>
<path d="M1304.2 1561.9L1314.2 1561.9" stroke="#777" stroke-width="1.8"/>
<text x="1322.7" y="1572.1">0.06</text>
<path d="M1304.2 1618.5L1314.2 1618.5" stroke="#777" stroke-width="1.8"/>
<text x="1322.7" y="1628.8">0.04</text>
<path d="M1304.2 1675.2L1314.2 1675.2" stroke="#777" stroke-width="1.8"/>
<text x="1322.7" y="1685.4">0.02</text>
<path d="M1304.2 1731.9L1314.2 1731.9" stroke="#777" stroke-width="1.8"/>
<text x="1322.7" y="1742.1">0</text>
<path d="M1304.2 1788.6L1314.2 1788.6" stroke="#777" stroke-width="1.8"/>
<text x="1322.7" y="1798.8">-0.02</text>
</g>
<text transform="translate(1270.3 1407.5) scale(1.1 1)" font-family="'Liberation Sans', Arial, sans-serif" font-size="25.3" fill="#111">j<tspan font-size="18.5" dy="7">z</tspan><tspan dy="-7"> (A m</tspan><tspan font-size="18.5" dy="-10.5">-2</tspan><tspan dy="10.5">)</tspan></text>
<text x="20" y="81" font-family="'Liberation Sans', Arial, sans-serif" font-size="64" fill="#000">1 h</text>
<text x="912" y="81" font-family="'Liberation Sans', Arial, sans-serif" font-size="64" fill="#000">12 h</text>
<text x="17" y="766" font-family="'Liberation Sans', Arial, sans-serif" font-size="64" fill="#000">24 h</text>
<text x="930" y="746" font-family="'Liberation Sans', Arial, sans-serif" font-size="64" fill="#000">36 h</text>
<text x="486" y="1455" font-family="'Liberation Sans', Arial, sans-serif" font-size="64" fill="#000">48 h</text>
</svg></body></html>
